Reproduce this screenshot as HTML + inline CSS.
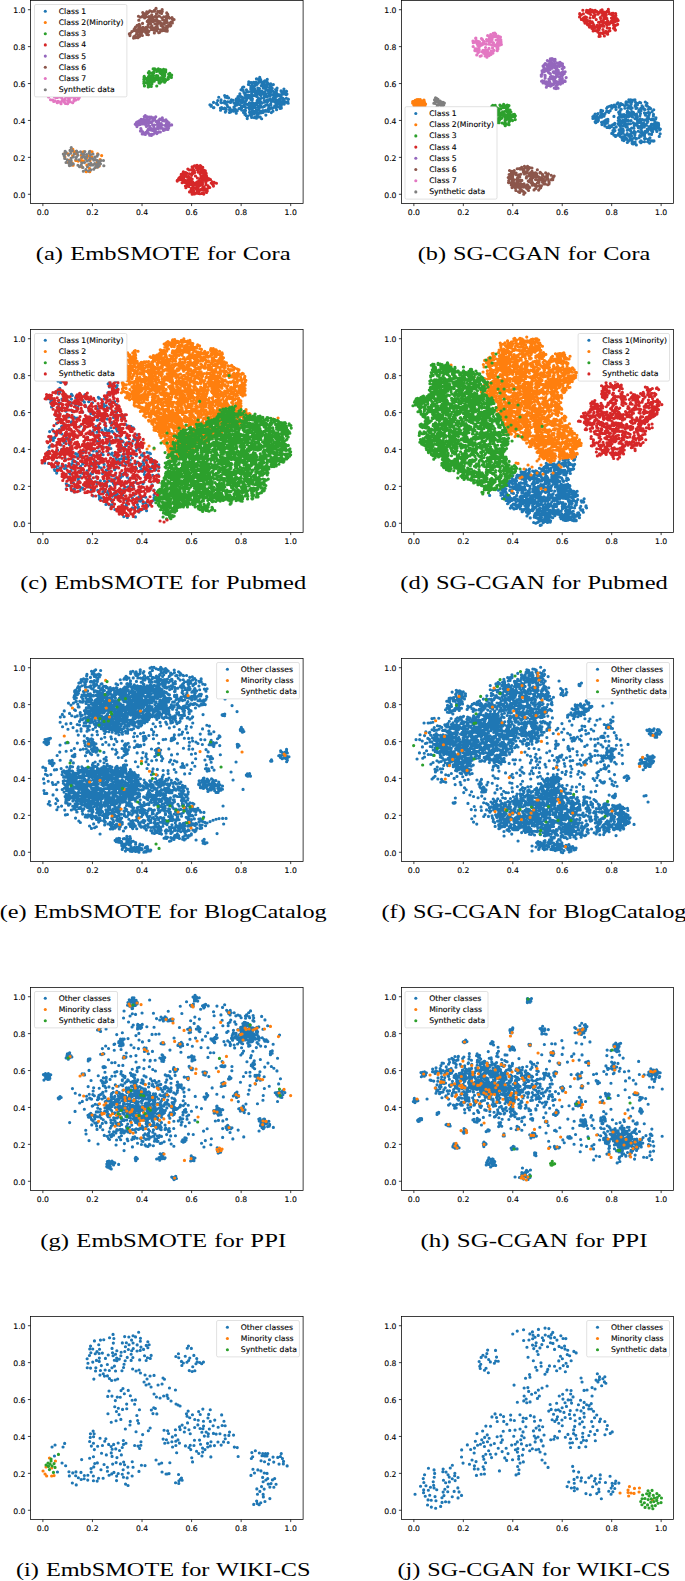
<!DOCTYPE html>
<html><head><meta charset="utf-8"><title>t-SNE visualisation</title>
<style>
html,body{margin:0;padding:0;background:#fff;}
svg{display:block;}
.t{font-family:"DejaVu Sans","Liberation Sans",sans-serif;font-size:7.7px;fill:#000;stroke:#000;stroke-width:.12px;}
.c{font-family:"Liberation Serif","DejaVu Serif",serif;font-size:19.4px;word-spacing:0.8px;fill:#000;}
</style></head><body>
<svg width="685" height="1581" viewBox="0 0 685 1581">
<g>
<g transform="scale(.1)" stroke-width="31.0" stroke-linecap="round" fill="none">
<path stroke="#1f77b4" d="M2672 794h1m-67 2h1m-10-22h1m-20 19h1m-15-6h1m-78 32h1m9 5h1m17 1h1m20-1h1m21-4h1m7 8h1m14 4h1m7-11h1m1-18h1m5 10h1m6-4h1m6 14h1m14 16h1m4-22h1m11 4h1m4-14h1m23 15h1m6 11h1m27 5h1m25 8h1m-22 21h1m-5-1h1m-10-4h1m-3 13h1m-16-33h1m-7 0h1m-9 27h1m-5-22h1m-1 24h1m-4-2h1m-2 10h1m-13-17h1m-3-18h1m-15 35h1m-2-15h1m-5-18h1m-10 12h1m-7-2h1m-44-12h1m-8 5h1m-12-7h1m-4 14h1m-24 15h1m-6-22h1m-2 2h1m-2-7h1m-7 18h1m-3-2h1m-3 9h1m-25-25h1m-48 26h1m-11 3h1m-18 25h1m11 5h1m0-20h1m7 21h1m32-7h1m18 20h1m23-27h1m-1 22h1m5-32h1m6 17h1m5 7h1m1-12h1m0 26h1m6-18h1m1-18h1m1 27h1m4-23h1m11 27h1m8-5h1m11-28h1m2 15h1m5 16h1m6-26h1m5 24h1m16 1h1m22-27h1m9 34h1m9-22h1m20 12h1m1-7h1m23-6h1m2 24h1m4-12h1m6-24h1m3 28h1m28 9h1m-1-24h1m8 24h1m2-20h1m2-19h1m39 29h1m26 3h1m1-21h1m1 27h1m21-4h1m1-1h1m3 27h1m-8 8h1m-21-9h1m-3-4h1m-14-11h1m-8 19h1m-2 2h1m-5-24h1m-9 29h1m-16-2h1m-13-2h1m-3 12h1m-15 1h1m-3-5h1m-4-6h1m-5-5h1m-5-9h1m-3 25h1m-2-11h1m-5 0h1m-6-13h1m-8 13h1m-19-2h1m-22-5h1m-9-17h1m-2 3h1m-25 14h1m-8 11h1m-7 3h1m-3 4h1m-5-38h1m-7 20h1m-14-7h1m-3-9h1m-1-3h1m-9 1h1m-5 33h1m-7-9h1m-16-11h1m-9 5h1m-8-13h1m-2 3h1m-14 28h1m-5-28h1m-19 24h1m-21-19h1m-8 23h1m-19-5h1m-2-1h1m-11 1h1m-16 1h1m-4-33h1m-13 26h1m-3-14h1m-5-2h1m-6-7h1m-42 14h1m-153 16h1m-60 18h1m22 26h1m42-27h1m17 4h1m-1-14h1m14 17h1m27 20h1m47-9h1m0 7h1m4-11h1m11-20h1m3 29h1m7-3h1m12-28h1m8 35h1m3-29h1m5 6h1m0 14h1m17-8h1m3-9h1m9-13h1m9 34h1m5-17h1m4-8h1m20 11h1m-1-5h1m8 19h1m0-26h1m3 25h1m4-25h1m3 29h1m0-10h1m47-20h1m11 14h1m8 9h1m5 7h1m11-14h1m27-8h1m0 4h1m10-12h1m20 30h1m3-33h1m9 35h1m14-38h1m0 29h1m5 8h1m20-4h1m2-3h1m-1-11h1m1 0h1m1-4h1m9-8h1m4 10h1m3-6h1m4 23h1m8-32h1m24 31h1m5-34h1m2 30h1m0 0h1m14-14h1m10 6h1m4 17h1m4-6h1m23-10h1m17 10h1m0 1h1m1-2h1m-4 41h1m-4-15h1m-4 12h1m-23-11h1m-10 12h1m-11-26h1m-12 16h1m-22-19h1m-2 24h1m-6-10h1m-14 16h1m-8 4h1m-5-2h1m-1-14h1m-4-9h1m-4-10h1m-7 34h1m-12-15h1m-16-8h1m-12-9h1m-10 11h1m-9 23h1m-24-29h1m-11 15h1m-1-15h1m-5 0h1m-21 0h1m-5 14h1m-3-16h1m-26 26h1m-7-12h1m-11 2h1m-3 17h1m-9-34h1m-17 21h1m-4-23h1m-4 7h1m-8 21h1m-17 8h1m-3-2h1m-18-7h1m-8-8h1m-21 10h1m-8-4h1m-36-17h1m-5 2h1m-2 0h1m-1 24h1m-9-20h1m-19-14h1m-7 27h1m-10-10h1m-7-7h1m-20-1h1m-5 25h1m-18-5h1m-5-29h1m-1 11h1m-14 17h1m-11 0h1m-10-29h1m-20 14h1m-8 8h1m-10-4h1m-4-2h1m-19-1h1m-28 16h1m-3-23h1m-8 15h1m-27 3h1m-6-6h1m-32-17h1m-12 33h1m-1-7h1m-32-7h1m-37 23h1m10 15h1m-1-2h1m2-7h1m21 24h1m2-1h1m38-28h1m38 28h1m52-29h1m5 17h1m20 14h1m42-8h1m10-10h1m5-7h1m12-3h1m25-5h1m13 34h1m4-17h1m1 16h1m15-14h1m10-13h1m13 25h1m8-34h1m7 4h1m11 32h1m5-13h1m12-10h1m7-3h1m15 23h1m2-27h1m3 13h1m9-10h1m4 27h1m7-3h1m4-31h1m20 20h1m-1 12h1m1-18h1m8 16h1m10-14h1m8 9h1m9 3h1m15-8h1m14-12h1m13-4h1m14 10h1m20-12h1m0 5h1m25 24h1m12-17h1m12 19h1m5-18h1m14 7h1m17-8h1m2 4h1m8-2h1m6-19h1m23 0h1m-30 40h1m-13 4h1m-37 12h1m-37 15h1m-7-28h1m-8-4h1m-16 2h1m-8 11h1m-8-6h1m-3 27h1m-4-32h1m-4 20h1m-17 11h1m-10-11h1m-4 9h1m-14-1h1m-10-5h1m-19 12h1m-10-6h1m-3 0h1m-16-17h1m-24 8h1m-15 12h1m-6 4h1m-20-17h1m-7-19h1m-14 2h1m-11 11h1m-41 9h1m-9 15h1m-5-17h1m-28-1h1m-18-13h1m-10-3h1m-19 23h1m-12 11h1m-2-22h1m-17-9h1m-11 25h1m-10-13h1m-21 1h1m-1 18h1m-5-28h1m-7 7h1m-34-6h1m-4 18h1m-14-30h1m-7 8h1m-26-4h1m-11 18h1m-2-21h1m48 40h1m40 4h1m67 8h1m72-8h1m3-3h1m9 22h1m1 1h1m1-9h1m8 22h1m31-36h1m4 25h1m0-18h1m7-5h1m0 32h1m5-7h1m1-24h1m22 14h1m28-8h1m1 10h1m0 11h1m4-27h1m4 18h1m23-13h1m8-3h1m14-3h1m27 27h1m54-25h1m-98 62h1m-15-18h1m-18 0h1m-12 1h1m-11 12h1m-8-15h1m-17 8h1m-26-2h1m-42-12h1m-4 24h1"/>
<path stroke="#ff7f0e" d="M920 1518h1m-20-5h1m-69 6h1m-76-4h1m-22 0h1m-10-21h1m-78 33h1m26 11h1m47 20h1m33-22h1m51 17h1m74 4h1m88-20h1m39 19h1m-16 40h1m-85-28h1m-49 13h1m-21-13h1m-35 15h1m-167-13h1m35 54h1m2-22h1m30 27h1m37-25h1m24 7h1m29-2h1m22 2h1m64-5h1m73 13h1m16 42h1m-25 10h1m-18-31h1m-42 1h1m-42 10h1m-49 20h1m-91-19h1m-31-1h1m161 67h1m31-34h1m2 34h1"/>
<path stroke="#2ca02c" d="M1657 699h1m-4 9h1m-2 1h1m-19-17h1m-6 11h1m-14 13h1m-4-12h1m-10-9h1m-1 17h1m-8 7h1m-9-10h1m-8-20h1m-2 9h1m-7-1h1m-12 18h1m-4-11h1m-4-6h1m-9-7h1m-5-3h1m-3 14h1m-15-13h1m-40 28h1m-2-1h1m-9 11h1m5 8h1m1 19h1m2-22h1m18 0h1m15-6h1m4 29h1m1-26h1m27 26h1m12 4h1m23-30h1m9 8h1m10 0h1m0 15h1m17-22h1m4 25h1m0-10h1m9-25h1m28 21h1m-1 2h1m8 14h1m1-24h1m18 18h1m-4 20h1m-1 3h1m-27-5h1m-4 18h1m-4-13h1m-8 21h1m-23-1h1m-9-32h1m-5 19h1m-4-11h1m-5 17h1m-7-21h1m-5 9h1m-2 16h1m-5-9h1m-15-3h1m-9 17h1m-11-10h1m-4-2h1m-11-21h1m-3 32h1m-1-9h1m-3-20h1m-19 11h1m-3 22h1m-23-3h1m-1-23h1m-7-12h1m-8 27h1m-4-19h1m-9-6h1m-8 16h1m-12 13h1m-2-24h1m-1 31h1m-13-14h1m-5 12h1m-11-14h1m-12 4h1m-6-25h1m-3 9h1m-3 23h1m-1 39h1m0-18h1m23 10h1m7-7h1m17 6h1m3-4h1m7-11h1m11 1h1m5 28h1m-1-14h1m22-11h1m46 5h1m1 12h1m7 1h1m1-7h1m8-4h1m17-15h1m6 6h1m0-5h1m8 17h1m8-13h1m-88 50h1m-55-12h1m-2 16h1m-7-1h1m-15-16h1m-8 21h1m-4 1h1m-4-23h1m-36 13h1"/>
<path stroke="#d62728" d="M2027 1674h1m-21-14h1m-6-5h1m-4 3h1m-4 21h1m-17-9h1m-11-17h1m-8 11h1m-2 10h1m-9-14h1m-11-1h1m-18 17h1m-7-8h1m-89 51h1m44-28h1m13 9h1m18-3h1m15 9h1m12-9h1m2 10h1m30-7h1m6-1h1m25-15h1m1 28h1m0-28h1m20 16h1m9 4h1m-1 13h1m11-8h1m8 45h1m-2-20h1m-5 11h1m-6-15h1m-10 8h1m-6 16h1m-7 0h1m-7 3h1m-6-33h1m-21 15h1m-6-14h1m-15-2h1m-37 3h1m-17 8h1m-6-8h1m-10 26h1m-4-10h1m-18-5h1m-27-3h1m-11 1h1m-4 20h1m-1-29h1m-11 3h1m-9 13h1m-7 2h1m-6 1h1m-3-7h1m-12 14h1m-4-9h1m-2 15h1m-26 27h1m7 1h1m0-11h1m12 21h1m9-5h1m0-11h1m14-17h1m2 14h1m21-14h1m12 9h1m0-4h1m10-5h1m10 24h1m8-10h1m2 21h1m6-8h1m6 0h1m32-30h1m19 20h1m29 2h1m5-20h1m6 16h1m3 6h1m5-7h1m11 21h1m8 0h1m0-15h1m10 2h1m5-23h1m7 19h1m16 6h1m12 8h1m59 38h1m-24-9h1m-10 10h1m-9-1h1m-4-16h1m-10 13h1m-30-30h1m-7 1h1m-20 19h1m-2-11h1m-1 17h1m-21-23h1m-14 23h1m-6-19h1m-5 17h1m-19-7h1m-7-11h1m-2 19h1m-6 8h1m-1 2h1m-9 1h1m-5-19h1m-2 11h1m-15-1h1m-26 2h1m-5-2h1m-5-9h1m-13 2h1m-1 7h1m-7-15h1m-12 22h1m-12-17h1m-10 20h1m-1-34h1m-2 17h1m-17-13h1m-9-4h1m-4 21h1m-15-1h1m-8-19h1m-7 24h1m-35-28h1m-15 4h1m-2 7h1m-1-6h1m81 55h1m3 18h1m10-27h1m1 11h1m7-18h1m0 12h1m3-7h1m2 15h1m7-17h1m26 4h1m2-7h1m-1 35h1m5-11h1m3-25h1m15 2h1m1 34h1m7-31h1m6-2h1m1 25h1m1-23h1m4 8h1m3 17h1m14-17h1m11-11h1m16-4h1m2 25h1m12 2h1m18-23h1m19 12h1m16 18h1m24-34h1m9 6h1m1 14h1m-57 21h1m-7 28h1m-6-14h1m-19-9h1m-2 15h1m-8 0h1m-2-8h1m-21 5h1m-1-9h1m-9 3h1m-9 4h1m-12 10h1m-7-10h1m-4 9h1m-8 2h1m-4-20h1m-10 6h1m-31 12h1m-1 11h1m-9-34h1m-6 25h1m-6 2h1m-5-27h1m-2 18h1m-2-9h1m-1 25h1m-17 2h1m14 1h1m10 22h1m8-8h1m6-12h1m6 18h1m5-8h1m8 1h1m9-13h1m0 12h1m6-2h1m7 4h1m12 3h1m21-3h1m14-4h1m1 11h1m27-17h1"/>
<path stroke="#9467bd" d="M1452 1156h1m206 41h1m-30 2h1m-9-22h1m-21 21h1m-6-8h1m-41-22h1m-11 17h1m-15-7h1m-6 8h1m-11-3h1m-6-12h1m-17 0h1m-7 27h1m-17-30h1m-4 24h1m-10 7h1m-10-29h1m-13-4h1m-9 28h1m-24 0h1m-49 32h1m10-8h1m5 14h1m2 0h1m1-20h1m7-5h1m1 25h1m3-20h1m24 10h1m0 12h1m3 5h1m0-2h1m3-28h1m6 12h1m8 11h1m5-30h1m10 26h1m10 3h1m3-15h1m-1-8h1m2-3h1m11 20h1m10-4h1m4 6h1m10-14h1m21-13h1m13 14h1m7 3h1m10-10h1m-1 26h1m2-7h1m1-9h1m9 19h1m11 3h1m4-3h1m15-28h1m7 0h1m6 1h1m21 23h1m6-19h1m10 21h1m6-7h1m26 22h1m-18 1h1m-11 12h1m-8-17h1m-4 21h1m-9-24h1m-5 30h1m-9-11h1m-7-7h1m-31-3h1m-19 7h1m-2-1h1m-6 15h1m-24-23h1m-1 11h1m-1-6h1m-4-13h1m-30 9h1m-9 9h1m-11-11h1m-29 16h1m-14-11h1m-22 12h1m-8-16h1m-56-4h1m-13 3h1m-13 2h1m-10 16h1m-5-12h1m-14-12h1m51 69h1m3-26h1m2 13h1m16 21h1m44-12h1m7-14h1m11-10h1m9 16h1m8-13h1m4 17h1m9 2h1m11-22h1m4 22h1m1-15h1m0 12h1m10-7h1m5-9h1m15 0h1m8 33h1m11-36h1m16 0h1m15 21h1m4-16h1m4 12h1m13-8h1m12 3h1m7-1h1m5-14h1m-83 40h1m-26 5h1m-11 11h1m-4-3h1m-2-9h1m-8 3h1m-9-5h1m-16 19h1m-22 13h1m-1-11h1m-7 3h1m-12 6h1m-4-8h1m-11-12h1m-4-4h1m-3-3h1m-11 3h1m-9-6h1m-8 23h1m-11-6h1m-3-3h1m-20 3h1"/>
<path stroke="#8c564b" d="M1467 119h1m20-1h1m9-11h1m20 8h1m24-2h1m-1-9h1m15-20h1m15 28h1m21 1h1m22-17h1m0 18h1m54 28h1m-11-13h1m-53 5h1m-20-9h1m-7-5h1m-3 38h1m-25-21h1m-48 10h1m-39-19h1m-10 8h1m-14 22h1m-13-20h1m-13 12h1m-7-25h1m-1 32h1m-44 6h1m17 10h1m15-5h1m27 12h1m8-11h1m4 0h1m27 3h1m0-7h1m6 23h1m8-22h1m8 25h1m2-2h1m2-24h1m9 18h1m0 16h1m18-33h1m3-3h1m3 3h1m5 8h1m3 25h1m19-37h1m5 0h1m23 16h1m2 5h1m4 14h1m11-29h1m23 23h1m2-1h1m-1-9h1m0-21h1m18 7h1m8 14h1m24-5h1m2 11h1m8 3h1m8 5h1m-13 7h1m-6 27h1m-5-14h1m-11 5h1m-1 15h1m-11-2h1m-29-8h1m-4-12h1m-16-9h1m-2 27h1m-2-14h1m-11-12h1m-11 30h1m-19 4h1m-7-12h1m-10-11h1m-3 16h1m-18-21h1m-5 20h1m-20-24h1m-7-4h1m-3 34h1m-20-22h1m-19-10h1m-5 30h1m-9-8h1m-1-26h1m-18 2h1m-9 9h1m-3 2h1m-48 20h1m-37-31h1m-3-1h1m-33 68h1m16-18h1m15 15h1m3-23h1m-1-2h1m5 14h1m6 22h1m24-6h1m5 6h1m24-6h1m18-7h1m0-16h1m2-5h1m22 35h1m5-17h1m4-4h1m40 13h1m4-2h1m4-10h1m1-9h1m1 22h1m36-18h1m9 7h1m17 15h1m2-33h1m24 19h1m6 14h1m1-19h1m4-2h1m7-1h1m11 7h1m6-6h1m-36 49h1m-2 8h1m-6-21h1m-3-11h1m-8 30h1m-7-2h1m-9-4h1m-6 0h1m-9-24h1m-8 27h1m-13-1h1m-6-8h1m-28-8h1m-15 18h1m-15-16h1m-7 0h1m-7 11h1m-2-22h1m-26 14h1m-4-9h1m-23 27h1m-4 5h1m-2-2h1m-14-19h1m-2-12h1m-4 21h1m-14-12h1m-7 1h1m-18 17h1m-12-5h1m-3-14h1m-9-10h1m-2 11h1m-8 14h1m-4-13h1m-9 2h1m-6-16h1m-10 31h1m-16-4h1m-2-9h1m-14-16h1m-8 10h1m-5 14h1m-20 9h1m-26 23h1m5 17h1m2-20h1m62 7h1m0-17h1m21 23h1m8-19h1m1-10h1m3 20h1m13-14h1m5 29h1m33-31h1m-1-2h1m10 22h1m14 3h1m59-17h1m43-3h1m9-7h1m-1 2h1m-204 42h1m-9-4h1m-8 17h1m-8-5h1m-15 4h1m-12-16h1m-9 19h1m-2-12h1m-4 14h1"/>
<path stroke="#e377c2" d="M530 905h1m32 2h1m25-2h1m10-3h1m5 7h1m3-20h1m10 14h1m18-7h1m-1 7h1m3-1h1m4-2h1m5 17h1m15-10h1m15 0h1m3-8h1m23 7h1m7 9h1m7-2h1m22 3h1m23 42h1m-6-6h1m-11-11h1m-17 15h1m-11-2h1m-12-11h1m-23 10h1m-9-3h1m-24-23h1m-1 11h1m-2-1h1m-4-14h1m-2 14h1m-7 12h1m-5-3h1m-41 2h1m-2 7h1m-14-10h1m-13-22h1m-11 19h1m-10-8h1m-33 13h1m-2 9h1m-12-15h1m-6-13h1m-12 18h1m-17-5h1m-8-2h1m-6 30h1m19 28h1m39-27h1m-1 0h1m7-8h1m3 4h1m1 9h1m7 0h1m5-7h1m-1 7h1m23-15h1m1 10h1m18 9h1m31 9h1m9-20h1m24 9h1m-1 5h1m7-18h1m-1 31h1m19-24h1m5-3h1m16 5h1m5 26h1m3-17h1m6-21h1m4 38h1m11-35h1m12 27h1m8-17h1m-54 30h1m-1 5h1m-14 19h1m-25-11h1m-21 8h1m-6-17h1m-3 29h1m-22-2h1m-8-31h1m-4 18h1m-6-17h1m-10 7h1m-6-6h1m-6 3h1m-11 29h1m-16-18h1m-16-7h1m-9 15h1m-23-19h1m-13 5h1m-2 1h1m-11-14h1"/>
<path stroke="#7f7f7f" d="M712 1475h1m182 40h1m-48 1h1m-44 1h1m-41-6h1m-43-5h1m-24-2h1m-50 8h1m-19 28h1m8 19h1m8-20h1m9-14h1m23 26h1m21-18h1m35 6h1m31-15h1m2 28h1m39-15h1m18 4h1m28 4h1m24-14h1m12 15h1m24-6h1m50 5h1m-11 18h1m-13 36h1m-11-28h1m-24 17h1m-27-10h1m-7 21h1m-28-33h1m-10 26h1m-11-16h1m-13-15h1m-19 11h1m-26 27h1m-30-26h1m-4 19h1m-28-23h1m-24 13h1m-39 16h1m-26-14h1m12 41h1m29 9h1m2-21h1m17-7h1m0 26h1m19 7h1m83-12h1m27-1h1m26-17h1m36 25h1m28-33h1m9 34h1m26-30h1m3 29h1m8-13h1m16 16h1m2-31h1m26-1h1m3 52h1m-49-1h1m-14 15h1m-18-17h1m-11 22h1m-24-26h1m-24 2h1m-16-11h1m-16 27h1m-47 7h1m-16-25h1m-19 18h1m-17-16h1m-68-2h1m-19 6h1m138 57h1m24-18h1m25 16h1m22-12h1m29-7h1"/>
</g>
<rect x="30.50" y="0.50" width="272.60" height="203.00" fill="none" stroke="#000" stroke-width="0.75"/>
<line x1="42.89" y1="203.50" x2="42.89" y2="206.10" stroke="#000" stroke-width="0.75"/>
<line x1="27.90" y1="194.27" x2="30.50" y2="194.27" stroke="#000" stroke-width="0.75"/>
<text x="42.89" y="214.55" text-anchor="middle" class="t">0.0</text>
<text x="25.50" y="197.68" text-anchor="end" class="t">0.0</text>
<line x1="92.45" y1="203.50" x2="92.45" y2="206.10" stroke="#000" stroke-width="0.75"/>
<line x1="27.90" y1="157.36" x2="30.50" y2="157.36" stroke="#000" stroke-width="0.75"/>
<text x="92.45" y="214.55" text-anchor="middle" class="t">0.2</text>
<text x="25.50" y="160.77" text-anchor="end" class="t">0.2</text>
<line x1="142.02" y1="203.50" x2="142.02" y2="206.10" stroke="#000" stroke-width="0.75"/>
<line x1="27.90" y1="120.45" x2="30.50" y2="120.45" stroke="#000" stroke-width="0.75"/>
<text x="142.02" y="214.55" text-anchor="middle" class="t">0.4</text>
<text x="25.50" y="123.87" text-anchor="end" class="t">0.4</text>
<line x1="191.58" y1="203.50" x2="191.58" y2="206.10" stroke="#000" stroke-width="0.75"/>
<line x1="27.90" y1="83.55" x2="30.50" y2="83.55" stroke="#000" stroke-width="0.75"/>
<text x="191.58" y="214.55" text-anchor="middle" class="t">0.6</text>
<text x="25.50" y="86.96" text-anchor="end" class="t">0.6</text>
<line x1="241.15" y1="203.50" x2="241.15" y2="206.10" stroke="#000" stroke-width="0.75"/>
<line x1="27.90" y1="46.64" x2="30.50" y2="46.64" stroke="#000" stroke-width="0.75"/>
<text x="241.15" y="214.55" text-anchor="middle" class="t">0.8</text>
<text x="25.50" y="50.05" text-anchor="end" class="t">0.8</text>
<line x1="290.71" y1="203.50" x2="290.71" y2="206.10" stroke="#000" stroke-width="0.75"/>
<line x1="27.90" y1="9.73" x2="30.50" y2="9.73" stroke="#000" stroke-width="0.75"/>
<text x="290.71" y="214.55" text-anchor="middle" class="t">1.0</text>
<text x="25.50" y="13.14" text-anchor="end" class="t">1.0</text>
<rect x="34.50" y="4.50" width="92.40" height="92.40" rx="1.5" fill="#fff" stroke="#ccc" stroke-width="0.6"/>
<circle cx="45.30" cy="11.30" r="1.55" fill="#1f77b4"/>
<text x="58.70" y="13.71" class="t">Class 1</text>
<circle cx="45.30" cy="22.50" r="1.55" fill="#ff7f0e"/>
<text x="58.70" y="24.91" class="t">Class 2(Minority)</text>
<circle cx="45.30" cy="33.70" r="1.55" fill="#2ca02c"/>
<text x="58.70" y="36.11" class="t">Class 3</text>
<circle cx="45.30" cy="44.90" r="1.55" fill="#d62728"/>
<text x="58.70" y="47.31" class="t">Class 4</text>
<circle cx="45.30" cy="56.10" r="1.55" fill="#9467bd"/>
<text x="58.70" y="58.51" class="t">Class 5</text>
<circle cx="45.30" cy="67.30" r="1.55" fill="#8c564b"/>
<text x="58.70" y="69.71" class="t">Class 6</text>
<circle cx="45.30" cy="78.50" r="1.55" fill="#e377c2"/>
<text x="58.70" y="80.91" class="t">Class 7</text>
<circle cx="45.30" cy="89.70" r="1.55" fill="#7f7f7f"/>
<text x="58.70" y="92.11" class="t">Synthetic data</text>
<text x="35.75" y="260.00" class="c" textLength="254.9" lengthAdjust="spacingAndGlyphs">(a) EmbSMOTE for Cora</text>
</g>
<g>
<g transform="scale(.1)" stroke-width="31.0" stroke-linecap="round" fill="none">
<path stroke="#1f77b4" d="M6288 997h1m18 2h1m41 0h1m119 34h1m-18-13h1m-47 7h1m-11-3h1m-27 9h1m-16-10h1m-25-23h1m-12 16h1m-9 22h1m-17-17h1m-11-1h1m-26-3h1m-4 13h1m-51 5h1m-30-7h1m-10 11h1m-96 32h1m18-8h1m19-7h1m5 8h1m20-14h1m1 18h1m6-2h1m5 1h1m31 6h1m5-7h1m-1-10h1m17-10h1m12-1h1m20 12h1m4-2h1m19-7h1m6 31h1m11-22h1m16 6h1m0-3h1m42-1h1m3 10h1m0-22h1m17 0h1m45 10h1m2 21h1m6-5h1m30-20h1m7 6h1m5 4h1m18 12h1m42 23h1m-18 17h1m-15-29h1m-23 6h1m-35 3h1m-7-1h1m-16-13h1m-20 27h1m-2-9h1m-3-17h1m-3 22h1m-10-7h1m-9 12h1m-2 9h1m-18-37h1m-12 3h1m-38 34h1m-2-38h1m-14 11h1m-27-10h1m-9 29h1m-27-27h1m-37 9h1m-12 13h1m-3 13h1m-40-24h1m-44-12h1m-17 25h1m-12 9h1m-8 2h1m-13-4h1m-6-1h1m-1-31h1m-41 25h1m-18-4h1m-72 55h1m12-17h1m27-5h1m22 22h1m4-38h1m5 19h1m-1-14h1m1 32h1m9-10h1m10-5h1m10 0h1m2-7h1m36-11h1m98-1h1m5 18h1m5-12h1m22 18h1m18-1h1m20 6h1m9-26h1m8 30h1m12-20h1m3-10h1m0 13h1m8 20h1m10-22h1m-1 17h1m16-28h1m9 16h1m10 15h1m7-17h1m0 10h1m33 6h1m4-20h1m39-8h1m6 18h1m1-13h1m1 20h1m20-25h1m8-4h1m3 30h1m7-22h1m35 27h1m0-15h1m24 33h1m-4 14h1m-22 6h1m-5-5h1m-12-2h1m-10 7h1m-24-11h1m-6-10h1m-5-10h1m-5 27h1m-5-11h1m-48 14h1m-24-7h1m-29-15h1m-6-8h1m-8 22h1m-13-2h1m-26-17h1m-23-9h1m-18 8h1m-19-4h1m-11 23h1m-21-17h1m-23 2h1m-2-9h1m-9 1h1m-16 7h1m-9 7h1m-45-14h1m-62 28h1m-1 7h1m-17-2h1m-24-34h1m-25 9h1m-22 1h1m-12 23h1m-12-12h1m-3-20h1m-9 14h1m-5 14h1m-2-20h1m-29 12h1m-2-17h1m22 50h1m4 10h1m0-12h1m12-11h1m4 12h1m7-12h1m31 18h1m16-5h1m12 10h1m4-21h1m8 15h1m12-17h1m0 26h1m4-15h1m68 19h1m2 2h1m31-31h1m4 17h1m10-21h1m1 13h1m17 13h1m3-2h1m5-23h1m15 1h1m3 12h1m3-14h1m4 12h1m22-12h1m1 11h1m21 26h1m5-32h1m21 23h1m16 9h1m20-4h1m2-33h1m1 8h1m5 0h1m5 13h1m0 4h1m17-10h1m8 20h1m19-7h1m5 10h1m3-38h1m10-1h1m12 1h1m0 7h1m2 17h1m4-10h1m69 6h1m19 6h1m15 5h1m1 17h1m-1 28h1m-3-14h1m-3-1h1m-4-18h1m-25 16h1m-3-19h1m-3 37h1m-5-21h1m-5 8h1m-7-24h1m-19 3h1m-2 5h1m-6-7h1m-3 28h1m-20-4h1m-29-13h1m-7-5h1m-17 21h1m-6-1h1m-2-7h1m-20-19h1m-2 15h1m-9 4h1m-7 4h1m-19 13h1m-3-16h1m-8-2h1m-4-5h1m-30 1h1m-2 2h1m-64-16h1m-7 30h1m-12-1h1m-5-31h1m-5 22h1m-12-17h1m-11 15h1m-1-2h1m-26-9h1m-6 16h1m-3-23h1m-8 10h1m-12-11h1m-22 28h1m-23-21h1m-3-6h1m-13 5h1m-9 9h1m-5 0h1m-1 10h1m-20 12h1m-5-19h1m-22 15h1m-20-32h1m-4 17h1m-30-13h1m109 59h1m6 8h1m-1 3h1m3-32h1m3 26h1m4-4h1m41-7h1m4 5h1m14-22h1m1 28h1m16-17h1m2 15h1m38-5h1m21-8h1m10 13h1m10-28h1m18 0h1m3 3h1m2 29h1m39 1h1m27-18h1m5-12h1m0 31h1m33-2h1m20-22h1m3 0h1m0 19h1m18-16h1m7-10h1m7-1h1m-1 19h1m2 6h1m9 10h1m0-11h1m2-26h1m1 7h1m27 8h1m8 19h1m9-33h1m6 0h1m11 19h1m5-10h1m-3 48h1m-87 7h1m-1-7h1m-25 3h1m-20-21h1m-17 4h1m-11 4h1m-2 15h1m-9 1h1m-11-13h1m-8 7h1m-15-13h1m-10 30h1m-45-31h1m-6 13h1m-1 12h1m-2-13h1m-10-16h1m-11 5h1m-7 5h1m-17 7h1m-26 13h1m-3-5h1m-8-10h1m-12 15h1m-13 4h1m-19-22h1m-2-10h1m-23 15h1m-2-11h1m-11-5h1m-12 15h1m-2 5h1m-11 12h1m-21 2h1m-18-4h1m-12-16h1m-11-1h1m37 30h1m46 1h1m16 18h1m5-14h1m22 14h1m5 9h1m6-9h1m9 11h1m16-32h1m9 1h1m4 20h1m11-22h1m4 35h1m17-16h1m6-3h1m1-1h1m14 14h1m0-4h1m26-9h1m21-14h1m32 23h1m-1-25h1m8 25h1m27 6h1m8 6h1m7-20h1m92-14h1m-54 45h1m-5 2h1m-15-4h1m-10 2h1m-18 22h1m-20-13h1m-33 0h1m-26 0h1m-11-11h1m-2 20h1m-9-9h1m-50 3h1m-5 14h1m-9-3h1m-17 6h1m-2-22h1m-3 14h1m-1-23h1m-30-2h1m-11 9h1m-9 11h1m-36-19h1m-15-6h1m106 40h1m31 9h1"/>
<path stroke="#ff7f0e" d="M4170 996h1m10-1h1m9 3h1m10-3h1m42 30h1m-4-12h1m-4-13h1m-8 18h1m-2 8h1m-5-17h1m-15 21h1m-1-10h1m-7-11h1m-5 17h1m-7 9h1m-7-5h1m-7-18h1m-6-11h1m-1 35h1m-2-12h1m-7-15h1m-12 9h1m-9-8h1m-3-8h1m-2 24h1m-14 0h1m-4-7h1m-9-4h1m-2 16h1m11 19h1m0-8h1m3 19h1m0 17h1m1-9h1m2-16h1m2 8h1m8-18h1m7 3h1m1 29h1m7-30h1m1 23h1m4-22h1m10 15h1m7 12h1m1-29h1m2 13h1m9 10h1m2-11h1m1 20h1m3-8h1m1-19h1m4 15h1m3-24h1m7 21h1m1-13h1m4-7h1m-18 48h1m-33-4h1m-12 0h1m-45-3h1"/>
<path stroke="#2ca02c" d="M4918 1064h1m8-10h1m7 24h1m14-23h1m1-2h1m5 26h1m9-1h1m30-27h1m4 6h1m20 4h1m3 16h1m4-6h1m1-28h1m3 8h1m6 8h1m0-1h1m0 17h1m17-12h1m1 14h1m2-26h1m7 17h1m8-12h1m11 53h1m-2-8h1m-14-3h1m-17 20h1m-2-25h1m-6 12h1m-5-19h1m-18 29h1m-19 3h1m-21-29h1m-17-1h1m-5 16h1m-3-3h1m-12 6h1m-3-26h1m-7 7h1m-9 1h1m-8-8h1m-14 24h1m-3-9h1m-9-16h1m5 71h1m28 3h1m4-23h1m2 20h1m14-9h1m2-17h1m0 9h1m0-10h1m0 28h1m1-20h1m1 10h1m4-15h1m1 15h1m4 6h1m9-7h1m12 5h1m-1 3h1m7-7h1m0 13h1m4-15h1m12 19h1m16-13h1m2 13h1m7-13h1m3-8h1m0 4h1m0-17h1m4 32h1m1-13h1m2 12h1m5-35h1m1-1h1m7 33h1m13-7h1m12-3h1m8 15h1m-2 38h1m-6-28h1m-8-5h1m-18 7h1m-16 27h1m-10-3h1m-5-17h1m-3-7h1m-2 1h1m-3 15h1m-15 6h1m-4-24h1m-12 3h1m-3 27h1m-3-1h1m-5-13h1m-3 12h1m-3-28h1m-2-1h1m-31 12h1m-10-1h1m-2 8h1m-9-22h1m-2 15h1m-7-8h1m-5 21h1m-7-2h1m-22-11h1m-18-13h1m-1 24h1m-2-29h1m6 40h1m18 25h1m0-26h1m14 15h1m2 13h1m3-25h1m27 27h1m19 9h1m7-30h1m1 15h1m35 1h1m1-4h1m6-11h1m27-4h1m-36 42h1m-7-3h1m-26-5h1m-8 18h1"/>
<path stroke="#d62728" d="M5828 102h1m37 0h1m13 4h1m2 12h1m8-12h1m10-10h1m-1 21h1m19-2h1m0-12h1m23 5h1m2-4h1m3 5h1m10 4h1m40-7h1m9 9h1m2-17h1m11 19h1m38-4h1m11-20h1m-1 22h1m2 1h1m71 40h1m-3-20h1m-25-3h1m-4 26h1m-9-26h1m-4 13h1m-14-5h1m-10-3h1m-4 0h1m-32 10h1m-4-12h1m-4 21h1m-8-4h1m-1-31h1m-9 0h1m-5 14h1m-2-13h1m-6-1h1m-9 6h1m-4 24h1m-28-24h1m-7-6h1m-8 21h1m-19-23h1m-13 31h1m-13-23h1m-33 16h1m-23-13h1m-21-10h1m-32 17h1m-23 11h1m-15-13h1m-1 7h1m-3 27h1m17 24h1m11-6h1m8-8h1m9-7h1m0 25h1m6-31h1m1 15h1m9-10h1m35 7h1m33-19h1m-1 14h1m8-4h1m18 26h1m39-21h1m3 9h1m30 11h1m0-23h1m11 14h1m6-2h1m2-11h1m1 6h1m5 3h1m45-1h1m11 17h1m1-19h1m2 12h1m1-17h1m5 17h1m-1-10h1m1-6h1m1 12h1m4-23h1m17 21h1m9 10h1m4 10h1m-12 4h1m-21 8h1m-4-12h1m-1 14h1m-18 8h1m-3-12h1m-2-8h1m-14 4h1m-12 20h1m-22-16h1m-2 4h1m-6-11h1m-16 27h1m-4 1h1m-2-11h1m-24-4h1m-6 17h1m-2-22h1m-1-6h1m-20 4h1m-25 8h1m-59 9h1m-4-3h1m-4-10h1m-18 6h1m-5-10h1m-24 25h1m-4-26h1m-1-5h1m-3-7h1m-10 0h1m-8 4h1m-8 26h1m-11-20h1m33 34h1m6 4h1m13 22h1m3-17h1m7 3h1m12 6h1m11 1h1m6-15h1m0 27h1m1-1h1m10-1h1m9-4h1m7 2h1m1-18h1m9 12h1m0 1h1m-1 11h1m5-18h1m5 19h1m2-11h1m1-20h1m7 1h1m17 13h1m9 1h1m2-1h1m24-22h1m4 6h1m-1 4h1m2 29h1m19-37h1m42 7h1m4 22h1m13-16h1m16-8h1m4-4h1m-23 58h1m-5-2h1m-5-16h1m-12-1h1m-38 26h1m-3-25h1m-9 28h1m-32 2h1m-29-18h1m-40 2h1m-17 7h1m-19 2h1m-23-5h1m-4 9h1m-13-26h1m58 36h1m-1 1h1m15 18h1m8-8h1m-1 2h1m23 2h1m2-9h1m6 1h1m15 2h1m0-7h1m11 10h1m8-4h1m0 15h1m-34 17h1m-43 3h1m-12 1h1"/>
<path stroke="#9467bd" d="M5503 587h1m15-2h1m8 6h1m2 8h1m18-5h1m73 44h1m-15 1h1m-2-7h1m-2 1h1m-9-11h1m-7 3h1m-24 5h1m-22-19h1m-9 28h1m-5-35h1m-16 23h1m-6 2h1m-14-27h1m-11 29h1m-4-19h1m-17-3h1m-4-4h1m-22 30h1m-23 25h1m4 8h1m1 1h1m3-21h1m26-2h1m1 11h1m10 10h1m8-23h1m5 25h1m6-3h1m2-12h1m4 25h1m0-35h1m15 9h1m0 16h1m14-15h1m8 25h1m1-16h1m7 16h1m0-20h1m10 3h1m15-17h1m2 20h1m3-5h1m27-1h1m10 18h1m2-3h1m10 43h1m-20 2h1m-9-30h1m-4-2h1m-40 16h1m-2-1h1m-10-9h1m-11-2h1m-2 14h1m-10 10h1m-15 4h1m-7 0h1m-11-36h1m-22 13h1m-11-8h1m-1 9h1m-16 3h1m-8-7h1m-5-11h1m-1 23h1m-4 3h1m-3-18h1m-13 16h1m-7-9h1m-2 20h1m-6-24h1m-4 10h1m-8 12h1m-7-7h1m-9 42h1m6-8h1m2-16h1m27 26h1m0 7h1m32-36h1m2 5h1m8 4h1m6 5h1m33-10h1m23 5h1m0-4h1m-1 18h1m10-4h1m2-19h1m3 14h1m7-15h1m19 24h1m0-15h1m10 15h1m0 10h1m-1-33h1m1 10h1m1 20h1m7-30h1m8 14h1m18 39h1m-40 7h1m-1 6h1m-12-3h1m-14 11h1m-2 1h1m-3-27h1m-11-5h1m-18-6h1m-14 14h1m-4 7h1m-6 8h1m-6-10h1m-4-7h1m-6-4h1m-7 21h1m-3 2h1m-12-28h1m-9 17h1m-4-12h1m-2 17h1m-15 6h1m-39-10h1m-39-18h1m1 50h1m7-6h1m6 22h1m3-6h1m1-11h1m4-1h1m3 16h1m20-9h1m12 7h1m1 3h1m1-3h1m9-14h1m4 13h1m0 3h1m39-6h1m-1-14h1m11 20h1m9-4h1m2-7h1m12 16h1m6-12h1m-1 16h1m2-5h1m0-9h1m8 15h1m16-19h1m-1-9h1m3 7h1m6 14h1m21-21h1m3 5h1m-48 27h1m-33 10h1m-10 5h1m-2 7h1m-6 13h1m-24-32h1m-16 8h1m-4-8h1m-12 17h1m-4-2h1m-13-4h1m-15-9h1m-3 10h1m-3-11h1m-10 27h1m-6-31h1m83 40h1m14-1h1m2 6h1m16-6h1m2 2h1"/>
<path stroke="#8c564b" d="M5300 1677h1m-7-2h1m-20-13h1m-32 2h1m-29 10h1m-122 31h1m22 7h1m23-6h1m29-18h1m20-3h1m7 6h1m26 7h1m4 21h1m2-25h1m19 24h1m1-38h1m11 36h1m6-33h1m-1 18h1m6-8h1m34-13h1m0 34h1m52-16h1m137 55h1m-29-15h1m-10 16h1m-6 1h1m-14-26h1m-31 24h1m-3-9h1m-19-16h1m-6-4h1m-3 6h1m-34 10h1m-6-10h1m-10-2h1m-6 15h1m-16 12h1m-4-24h1m-7 18h1m-12-10h1m-11-12h1m-9 8h1m-2 17h1m-5 7h1m-24-26h1m-2-3h1m-24 10h1m-4-10h1m-33 12h1m-18 5h1m-30 1h1m-1-17h1m-5 13h1m-16-17h1m-16 13h1m-2 19h1m-14-33h1m-13 16h1m-11 3h1m-10 30h1m10 10h1m7-21h1m8 24h1m16-5h1m11 15h1m28-6h1m6-13h1m4 14h1m6-29h1m9 6h1m65 9h1m2-13h1m36 25h1m6-20h1m6 28h1m0-17h1m8-4h1m10-11h1m16 29h1m3-27h1m4-6h1m9 1h1m1 34h1m12-27h1m12 28h1m11-23h1m1 13h1m15 1h1m13-19h1m7 2h1m13 20h1m0-16h1m4-6h1m2 21h1m2-1h1m30 6h1m7-10h1m7 11h1m4-23h1m8-14h1m-51 66h1m-3 12h1m-2-24h1m-37 24h1m-3-31h1m-13 31h1m-2-34h1m-12 2h1m-2 16h1m-37 2h1m-9-1h1m-1-3h1m-8 8h1m-51-3h1m-9 4h1m-5 0h1m-22-13h1m-2-11h1m-9 5h1m-43 28h1m-23-35h1m-12 9h1m-5-10h1m-7 9h1m-17 14h1m-11-9h1m-2-16h1m-10 38h1m-23-18h1m-3 8h1m-15-22h1m-4 18h1m-25 0h1m-10-20h1m-3 21h1m26 23h1m5 4h1m1 23h1m2-16h1m11 10h1m5-4h1m-1-15h1m11-1h1m4 5h1m1 11h1m15-18h1m4 25h1m16-21h1m5 27h1m0-35h1m3 23h1m3-12h1m-1-12h1m6 21h1m5-4h1m8-20h1m2 31h1m0-15h1m19 1h1m12-10h1m2 25h1m2-19h1m8 20h1m2-5h1m5 6h1m25-22h1m1-11h1m18 9h1m2-8h1m3 13h1m9 2h1m10 6h1m22-7h1m11 22h1m6-19h1m-1 1h1m64-13h1m-80 35h1m-14 19h1m-30-17h1m-18 15h1m-56 5h1m-6-7h1m-7-17h1m-7 5h1m-4-3h1m-34 32h1m-5-2h1m-17-19h1m-9 14h1m-5-18h1m-16 29h1m-28-14h1m-5-23h1m41 43h1m40 18h1m11-15h1"/>
<path stroke="#e377c2" d="M4876 356h1m29-10h1m25-13h1m6 19h1m8-22h1m6 22h1m0-12h1m51 59h1m-5-29h1m-16-4h1m-9-6h1m-1 27h1m-18-23h1m-3-1h1m-19 4h1m-21 9h1m-5 22h1m-2-34h1m-16 19h1m-7 13h1m-5-30h1m-2 19h1m-29 11h1m-42 0h1m-11-11h1m-57-4h1m-3 2h1m-28 28h1m2 17h1m17-5h1m9-19h1m11 35h1m4-24h1m0-3h1m4 24h1m10-19h1m35 10h1m6-13h1m2 9h1m27-12h1m13-6h1m2 0h1m5 5h1m2 18h1m12-26h1m3 5h1m7 10h1m14 11h1m26-28h1m11 34h1m8-20h1m4 23h1m10-24h1m11 7h1m-1 1h1m2 23h1m-5 2h1m-13 0h1m-5 6h1m-7-2h1m-10 22h1m-5-19h1m-12 10h1m-12-12h1m-7 5h1m-15-12h1m-8 35h1m-9-29h1m-27-7h1m-30-1h1m-8 33h1m-23-33h1m-7 0h1m-9 0h1m-5 9h1m-2-11h1m-9 9h1m-2 4h1m-12 12h1m-3-22h1m-3 31h1m-8-22h1m-6 3h1m-48 10h1m16 41h1m2-19h1m13 3h1m0 17h1m1-18h1m14 22h1m7-14h1m25 20h1m12-14h1m22 4h1m1-8h1m3 7h1m0 12h1m11-8h1m1-7h1m15-19h1m18 26h1m11 3h1m17-9h1m31-20h1m0 24h1m0-9h1m5-10h1m-51 42h1m-21 14h1m-9-13h1m-10 19h1m-2 5h1m-6-24h1m-6 1h1m-3 3h1m-3-15h1m-14 35h1m-9-8h1m-6 11h1m-3-22h1m-15-4h1m-4-9h1m-21 34h1m-27-38h1m-8 9h1m-13 21h1m33 13h1m67 9h1"/>
<path stroke="#7f7f7f" d="M4345 999h1m9-21h1m12 8h1m10 6h1m63 38h1m-15-6h1m-9 13h1m-11-16h1m-11-10h1m-4 28h1m-6-14h1m-4-8h1m-5 16h1m-8-25h1m-15 1h1m-2 8h1m-14 18h1m-1-11h1m-14 8h1m24 45h1m9-25h1m1 16h1m6-13h1m15-8h1m14 26h1m3-28h1m7 1h1m4 30h1m6-29h1"/>
</g>
<rect x="401.50" y="0.50" width="272.00" height="203.00" fill="none" stroke="#000" stroke-width="0.75"/>
<line x1="413.86" y1="203.50" x2="413.86" y2="206.10" stroke="#000" stroke-width="0.75"/>
<line x1="398.90" y1="194.27" x2="401.50" y2="194.27" stroke="#000" stroke-width="0.75"/>
<text x="413.86" y="214.55" text-anchor="middle" class="t">0.0</text>
<text x="396.50" y="197.68" text-anchor="end" class="t">0.0</text>
<line x1="463.32" y1="203.50" x2="463.32" y2="206.10" stroke="#000" stroke-width="0.75"/>
<line x1="398.90" y1="157.36" x2="401.50" y2="157.36" stroke="#000" stroke-width="0.75"/>
<text x="463.32" y="214.55" text-anchor="middle" class="t">0.2</text>
<text x="396.50" y="160.77" text-anchor="end" class="t">0.2</text>
<line x1="512.77" y1="203.50" x2="512.77" y2="206.10" stroke="#000" stroke-width="0.75"/>
<line x1="398.90" y1="120.45" x2="401.50" y2="120.45" stroke="#000" stroke-width="0.75"/>
<text x="512.77" y="214.55" text-anchor="middle" class="t">0.4</text>
<text x="396.50" y="123.87" text-anchor="end" class="t">0.4</text>
<line x1="562.23" y1="203.50" x2="562.23" y2="206.10" stroke="#000" stroke-width="0.75"/>
<line x1="398.90" y1="83.55" x2="401.50" y2="83.55" stroke="#000" stroke-width="0.75"/>
<text x="562.23" y="214.55" text-anchor="middle" class="t">0.6</text>
<text x="396.50" y="86.96" text-anchor="end" class="t">0.6</text>
<line x1="611.68" y1="203.50" x2="611.68" y2="206.10" stroke="#000" stroke-width="0.75"/>
<line x1="398.90" y1="46.64" x2="401.50" y2="46.64" stroke="#000" stroke-width="0.75"/>
<text x="611.68" y="214.55" text-anchor="middle" class="t">0.8</text>
<text x="396.50" y="50.05" text-anchor="end" class="t">0.8</text>
<line x1="661.14" y1="203.50" x2="661.14" y2="206.10" stroke="#000" stroke-width="0.75"/>
<line x1="398.90" y1="9.73" x2="401.50" y2="9.73" stroke="#000" stroke-width="0.75"/>
<text x="661.14" y="214.55" text-anchor="middle" class="t">1.0</text>
<text x="396.50" y="13.14" text-anchor="end" class="t">1.0</text>
<rect x="405.00" y="106.70" width="92.00" height="92.40" rx="1.5" fill="#fff" stroke="#ccc" stroke-width="0.6"/>
<circle cx="415.80" cy="113.50" r="1.55" fill="#1f77b4"/>
<text x="429.20" y="115.91" class="t">Class 1</text>
<circle cx="415.80" cy="124.70" r="1.55" fill="#ff7f0e"/>
<text x="429.20" y="127.11" class="t">Class 2(Minority)</text>
<circle cx="415.80" cy="135.90" r="1.55" fill="#2ca02c"/>
<text x="429.20" y="138.31" class="t">Class 3</text>
<circle cx="415.80" cy="147.10" r="1.55" fill="#d62728"/>
<text x="429.20" y="149.51" class="t">Class 4</text>
<circle cx="415.80" cy="158.30" r="1.55" fill="#9467bd"/>
<text x="429.20" y="160.71" class="t">Class 5</text>
<circle cx="415.80" cy="169.50" r="1.55" fill="#8c564b"/>
<text x="429.20" y="171.91" class="t">Class 6</text>
<circle cx="415.80" cy="180.70" r="1.55" fill="#e377c2"/>
<text x="429.20" y="183.11" class="t">Class 7</text>
<circle cx="415.80" cy="191.90" r="1.55" fill="#7f7f7f"/>
<text x="429.20" y="194.31" class="t">Synthetic data</text>
<text x="417.75" y="260.00" class="c" textLength="232.5" lengthAdjust="spacingAndGlyphs">(b) SG-CGAN for Cora</text>
</g>
<g>
<g transform="scale(.1)" stroke-width="31.0" stroke-linecap="round" fill="none">
<path stroke="#1f77b4" d="M1157 3815h1m-59 7h1m-19 16h1m-423-1h1m-44-22h1m-9 10h1m-3 0h1m-27-14h1m513 59h1m29-25h1m40 31h1m5-21h1m-572 62h1m-4-35h1m-20 37h1m-24 3h1m30 17h1m10-14h1m53 28h1m62-10h1m8 12h1m42 3h1m81-10h1m229-19h1m17 24h1m-24 46h1m-30-10h1m-51-7h1m-6 1h1m-7-10h1m-169 1h1m-51 6h1m-10-3h1m-43 14h1m-84 2h1m-13-2h1m-85 3h1m-26 5h1m-20-18h1m-11 7h1m-18-6h1m41 40h1m37 16h1m49-11h1m30-26h1m57 10h1m36 18h1m54-12h1m52-11h1m1 0h1m13 16h1m41-5h1m9-16h1m27 27h1m182-13h1m35 7h1m1-6h1m22 30h1m-63 2h1m-1 3h1m-46 6h1m-24-6h1m-5 19h1m-1-30h1m-71 24h1m-108 2h1m-67-22h1m-3 5h1m-14 23h1m-22-25h1m-58 3h1m-26 18h1m-83 11h1m-10-14h1m-68 4h1m48 40h1m34-29h1m17 9h1m41 23h1m51-12h1m13 17h1m42-26h1m119 12h1m18 16h1m67-28h1m113-10h1m59 34h1m30-13h1m3 3h1m60 49h1m-82-30h1m-54 23h1m-176-3h1m-29-8h1m-82-14h1m-230 17h1m-42 16h1m19 36h1m12-21h1m67-9h1m19 8h1m7 0h1m42 7h1m0 10h1m7-15h1m17 12h1m14-2h1m110 8h1m34-8h1m74 15h1m24-36h1m24 29h1m30 2h1m60-15h1m31-16h1m44 5h1m16 17h1m-114 44h1m-9 3h1m-55 7h1m-24-25h1m-60-8h1m-79 11h1m-24-12h1m-117 34h1m-35-19h1m-10 4h1m-119-7h1m-30 22h1m50 30h1m3 5h1m3-10h1m17-3h1m71-12h1m91 11h1m88-16h1m63 23h1m25 9h1m1-10h1m65 16h1m54-2h1m48-26h1m3 28h1m16-27h1m15 27h1m60-37h1m20 15h1m32 7h1m4 11h1m18 2h1m-115 8h1m-47 24h1m-10-19h1m-45 23h1m-29 5h1m-6-16h1m-17 12h1m-16-30h1m-2 10h1m-37 6h1m-33 10h1m-50-9h1m-103-8h1m-46 18h1m-163-31h1m-35 14h1m-24 24h1m-46-20h1m-31 18h1m53 13h1m39-2h1m27 13h1m102 4h1m172-7h1m23-14h1m13 8h1m18 27h1m17-36h1m59-1h1m6 24h1m94-20h1m63-1h1m18 3h1m156 22h1m18 45h1m-21-2h1m-16 0h1m-9-20h1m-11 24h1m-77-21h1m-58 19h1m-9-32h1m-34 4h1m-8 10h1m-1-4h1m-111-5h1m-53 19h1m-119-12h1m-177 24h1m-7-6h1m-31-17h1m-8 15h1m-110-14h1m-10 3h1m-15 16h1m-9-15h1m-12 10h1m-17-23h1m42 37h1m107 24h1m13-15h1m35 26h1m3-37h1m267 11h1m-1-4h1m23 14h1m2 15h1m3-11h1m22-11h1m81-6h1m1 24h1m49-27h1m49 16h1m19-16h1m10 13h1m29 16h1m24-14h1m21 8h1m8 8h1m47-6h1m2-30h1m1 11h1m18 66h1m-30-10h1m-97-28h1m-2 14h1m-20 18h1m-32-18h1m-123-2h1m-59 18h1m-11-5h1m-31-13h1m-87 17h1m-5-6h1m-25-19h1m-13 13h1m-175-11h1m-82 3h1m-85 3h1m-28 5h1m-12 14h1m-7 38h1m90-7h1m39-11h1m36 2h1m19 6h1m40-5h1m120 24h1m38-37h1m34 14h1m22 13h1m2-21h1m30 27h1m14-35h1m113 8h1m12-3h1m93 31h1m8-35h1m17 3h1m37 14h1m17 8h1m73 1h1m14-19h1m129 49h1m-10-7h1m-26-7h1m-35 11h1m-8 4h1m-15 14h1m-54 5h1m-34-23h1m-23 23h1m-65-18h1m-24 19h1m-68-31h1m-33 4h1m-9 12h1m-28-8h1m-56 13h1m-15-14h1m-21 22h1m-16-1h1m-7-34h1m-51 29h1m-3 8h1m-25-10h1m-41-27h1m-45 2h1m-20 6h1m-26 11h1m-18-4h1m-67-14h1m-19 10h1m-53-3h1m-10-3h1m-133 9h1m120 27h1m53 25h1m72 8h1m39-27h1m27-5h1m9 5h1m17-8h1m66 21h1m247-21h1m22 24h1m30 10h1m20-6h1m15 5h1m18-5h1m2-17h1m-1 8h1m18 7h1m164-26h1m71 23h1m46 33h1m-18-10h1m-10 28h1m-22-25h1m-4-9h1m-40 6h1m-30 28h1m-6-19h1m-54 6h1m-15 6h1m-6 12h1m-56-39h1m-3 36h1m-54-14h1m-55-3h1m-23-7h1m-13 24h1m-15-21h1m-146 2h1m-43-3h1m-15-7h1m-1 10h1m-13 10h1m-164 0h1m-18-12h1m-23-9h1m-3 15h1m-3-6h1m-163 4h1m-81 15h1m-40-4h1m71 24h1m43 13h1m17-9h1m39 0h1m35-2h1m45 7h1m11 16h1m1-38h1m50 5h1m37 18h1m20-24h1m34 3h1m30 16h1m25-7h1m30 25h1m33-35h1m5 29h1m51-27h1m35 18h1m12-9h1m11 25h1m32-31h1m67 1h1m53-1h1m53 5h1m20 20h1m70-5h1m-1-11h1m5 1h1m27-5h1m35 5h1m48 19h1m9-14h1m26-15h1m27 1h1m0 30h1m-30 19h1m-8 4h1m-51-15h1m-42 16h1m-15 14h1m-22-5h1m-10-17h1m-11 6h1m-44-16h1m-73 8h1m-133-12h1m-16 18h1m-43 17h1m-28-19h1m-17 8h1m-49-24h1m-31 32h1m-112-4h1m-81 2h1m-52-21h1m-31 20h1m-53-26h1m-14 2h1m-36-4h1m-14 2h1m-26 10h1m-25 11h1m-6-9h1m22 36h1m79 9h1m44-12h1m12 15h1m102-13h1m22 5h1m0-4h1m48 17h1m16 1h1m12-8h1m0-5h1m14-1h1m1-8h1m96 8h1m58 11h1m32 13h1m34-8h1m67-8h1m4 16h1m13-26h1m13 6h1m5-7h1m92 25h1m10-3h1m79-10h1m19 11h1m63-1h1m54-7h1m-116 21h1m-84 3h1m-58-2h1m-30 24h1m-5-1h1m-4 7h1m-20-28h1m-67 3h1m-46 9h1m-16 6h1m-188-18h1m-53 25h1m-25-8h1m-81-22h1m-7 3h1m-16 22h1m-98-5h1m-24 52h1m70-9h1m46-14h1m92 17h1m4 6h1m10-5h1m6 2h1m64-17h1m7 17h1m33-27h1m40 3h1m22 15h1m20-19h1m24 4h1m13 2h1m5 21h1m42 4h1m74-5h1m30-19h1m44 24h1m27-15h1m25 15h1m47-1h1m9-18h1m112-11h1m-33 40h1m-188 21h1m-24-11h1m-3-10h1m-27 19h1m-29 6h1m-105-28h1m-6 8h1m-48 10h1m-35-22h1m-30 11h1m-25 7h1m-109-11h1m-17 22h1m-29-15h1m-49 23h1m-10-6h1m-105-15h1m-13-2h1m-6-2h1m-20 35h1m53 19h1m0 0h1m17-15h1m9 1h1m4 26h1m48-13h1m25-26h1m2 11h1m84 9h1m22 10h1m0-18h1m38 10h1m51 17h1m13-27h1m39 22h1m129-5h1m25-20h1m143 17h1m117-5h1m40 0h1m-1 48h1m-200 2h1m-117-2h1m-55-5h1m-24 5h1m-4-23h1m-53 20h1m-9 0h1m-14-20h1m-40 3h1m-46 24h1m-59 7h1m62 33h1m0-15h1m13-1h1m29 6h1m77 14h1m5-35h1m34 9h1m18-6h1m33-4h1m42 30h1m69-11h1m50 4h1m11 8h1m0-22h1m23 8h1m22-13h1m21 8h1m82 4h1m0 16h1m6 5h1m11-10h1m-25 15h1m-25 23h1m-55 1h1m-29 9h1m-10-34h1m-18 11h1m-18-6h1m-117 5h1m-158-7h1m-50 34h1m-33-31h1m25 37h1m34 2h1m6 1h1m7 29h1m13-32h1m78 27h1m27-13h1m13 13h1m19-16h1m-1-16h1m58 37h1m50-32h1m9 26h1m77-14h1m6-6h1m5 11h1m24-15h1m-36 60h1m-28-19h1m-33 14h1m-26 9h1m-3-30h1m-38 1h1m-194 13h1m239 26h1m-36 48h1m-82 5h1m-37-8h1"/>
<path stroke="#ff7f0e" d="M1728 3397h1m18-1h1m90-7h1m89 47h1m-14-3h1m-15-12h1m-4-17h1m-4 22h1m-5-11h1m-7 2h1m-3 12h1m-3 7h1m-3-26h1m-2 9h1m-2 15h1m-3-18h1m-5-2h1m-16 2h1m-3 1h1m-15-10h1m-10 3h1m-3 13h1m-9 2h1m-3 4h1m-7-25h1m-7 10h1m-23 12h1m-5-10h1m-9-3h1m-12 14h1m-3-13h1m-4 19h1m-3-3h1m-5 1h1m-3 8h1m-9-18h1m-1 4h1m-2-10h1m-5 16h1m-13-29h1m-5 33h1m-7-7h1m-4 7h1m-6-6h1m-14 7h1m-8-14h1m-8-6h1m-17 12h1m-23 12h1m2 1h1m3 32h1m2 0h1m1-26h1m17 21h1m8-14h1m19-6h1m14 16h1m0 2h1m9-5h1m15 6h1m4-23h1m0 2h1m28 18h1m17-13h1m5 7h1m12 5h1m8-9h1m17 21h1m11-5h1m0-14h1m17-5h1m0 28h1m3-6h1m12-2h1m11-2h1m0-29h1m8 4h1m11 5h1m1 29h1m11-6h1m1 6h1m20-8h1m6-4h1m7-18h1m18 9h1m199 55h1m-31-6h1m-6-7h1m-9 9h1m-1-10h1m-9 6h1m-2 0h1m-3 15h1m-10-34h1m-8 17h1m-1 16h1m-3-16h1m-9 5h1m-6-21h1m-2 0h1m-1 21h1m-5-7h1m-59 12h1m-34-18h1m-17-6h1m-33-7h1m-6 35h1m-20-24h1m-2-8h1m-3 1h1m-2 23h1m-6-8h1m-4-4h1m-3 0h1m-8-7h1m-11-6h1m-3 6h1m-2 5h1m-10-12h1m-8 33h1m-4-23h1m-4 6h1m-3 1h1m-6 11h1m-2-4h1m-14-22h1m-2-4h1m-9 19h1m-1 19h1m-4-13h1m-9-12h1m-7 1h1m-4 2h1m-19 7h1m-11 3h1m-9 13h1m-2-35h1m-8 32h1m-8 0h1m-8-35h1m-3 26h1m-2-22h1m-5 9h1m-9 8h1m-20 8h1m-16-1h1m-4 0h1m-43-20h1m-14-4h1m-5 28h1m-5-11h1m-23 15h1m-4-15h1m-4 8h1m-22-8h1m-13-4h1m-223 15h1m-29-8h1m-10 5h1m-92 24h1m23-5h1m8 15h1m1 13h1m7-10h1m31-17h1m0-3h1m9 31h1m10-35h1m0 19h1m1-3h1m3 13h1m176 4h1m29 1h1m4-6h1m19 7h1m0-4h1m0-16h1m7 11h1m7-25h1m5-3h1m-1 36h1m8-18h1m27 5h1m5-3h1m2 9h1m38 5h1m24-25h1m0-8h1m12-2h1m1 19h1m2 14h1m3 2h1m14-1h1m3-31h1m2 20h1m1-23h1m13 27h1m5 8h1m15-13h1m15 10h1m2-16h1m10-15h1m17-1h1m16 3h1m7-1h1m4 1h1m-1 3h1m0-5h1m7 8h1m-1 26h1m2-10h1m0 9h1m12-1h1m12-9h1m7-19h1m19 29h1m17-29h1m4 14h1m5 7h1m1-26h1m0 9h1m16 13h1m7-19h1m2 11h1m18 6h1m7-14h1m9 14h1m3-12h1m6 21h1m1-22h1m2 7h1m2 17h1m5 7h1m7-33h1m31 21h1m2-10h1m0 14h1m1-26h1m10-1h1m10 4h1m2 14h1m0-8h1m7-12h1m3-1h1m2 19h1m10-10h1m2 16h1m12 0h1m9 3h1m0-6h1m5 14h1m9 1h1m6-28h1m2 11h1m10 37h1m-12 16h1m-2-22h1m-2 25h1m-6 2h1m-7-36h1m-5 15h1m-4 19h1m-3-8h1m-5-4h1m-12 15h1m-26-33h1m-14 0h1m-14 13h1m-11 1h1m-4 4h1m-21-21h1m-14-3h1m-8 5h1m-2 8h1m-29 1h1m-8-2h1m-3 10h1m-2-6h1m-2 20h1m-7-24h1m-4 24h1m-13-17h1m-12 11h1m-4-23h1m-5 3h1m-3 2h1m-3 1h1m-5-4h1m-18 2h1m-3-5h1m-8 17h1m-8 13h1m-1-26h1m-8 27h1m-3-23h1m-6-7h1m-8 21h1m-6-25h1m-17 11h1m-17 10h1m-5 2h1m-8-1h1m-18-13h1m-5 16h1m-31-8h1m-3-5h1m-4 8h1m-6 6h1m-30 4h1m-6 2h1m-36-21h1m-12 21h1m-4-3h1m-5-31h1m-19 4h1m-3 16h1m-11-18h1m-8 23h1m-13 9h1m-12 1h1m-20-18h1m-5-15h1m-13 4h1m-4 3h1m-14 14h1m-13 10h1m-3 3h1m-6-22h1m-6 15h1m-26-8h1m-1-8h1m-15 8h1m-9-4h1m-3 18h1m-6-18h1m-10-18h1m-3 25h1m-11 11h1m-10-19h1m-15-2h1m-12-7h1m-145 15h1m-3-6h1m-11 13h1m-17-23h1m-8 31h1m-2-12h1m-4-18h1m-18 8h1m-5 23h1m-4-37h1m-10-1h1m-25 68h1m16-28h1m13 12h1m1 13h1m2-17h1m7 15h1m4-11h1m0-9h1m3-2h1m3 24h1m0-7h1m4-6h1m3 16h1m0-13h1m2 2h1m1 15h1m3 1h1m-1-17h1m7 11h1m4-23h1m8 28h1m4-11h1m4-8h1m18 24h1m11-3h1m9-13h1m13 5h1m14-9h1m9 9h1m5-6h1m6-4h1m21-1h1m29 18h1m-1-11h1m5-2h1m2 5h1m2-16h1m18-1h1m23 18h1m10-24h1m0-2h1m9 18h1m11 10h1m10 5h1m2-13h1m17-2h1m0-9h1m5 18h1m12-3h1m0-22h1m0 10h1m1 21h1m-1-28h1m0-6h1m4 18h1m11 18h1m2-31h1m10 26h1m3-26h1m26 10h1m4-8h1m8-6h1m17 11h1m34 16h1m6 6h1m3-17h1m4 8h1m-1 14h1m12-10h1m6-5h1m19 0h1m4-23h1m25 21h1m4 15h1m14-20h1m2-14h1m1 10h1m9 23h1m4 0h1m8-5h1m5 4h1m2-10h1m14-20h1m4 17h1m3-10h1m2 23h1m8-8h1m2-7h1m1 6h1m-1-23h1m1 1h1m16 6h1m28-1h1m27 27h1m4-36h1m2 22h1m22-13h1m3 8h1m20 15h1m8-26h1m0 30h1m13-17h1m9-10h1m8-7h1m9 11h1m9 3h1m5 20h1m0-30h1m9-2h1m0 25h1m3-4h1m6-11h1m-1 15h1m3-24h1m1 24h1m5-27h1m19 20h1m8-3h1m21 10h1m73 44h1m-2 0h1m-10-5h1m-13-16h1m-10 8h1m-27-3h1m-31 16h1m-2-22h1m-8 23h1m-9-15h1m-3-19h1m-9 0h1m-8 29h1m-4-27h1m-1 7h1m-5-7h1m-8 31h1m-23-1h1m-7-7h1m-14-7h1m-7 0h1m-4-11h1m-1-4h1m-21 11h1m-22 19h1m-10 6h1m-6-27h1m-1 0h1m-6 14h1m-5 3h1m-6-5h1m-5-13h1m-5 24h1m-22-3h1m-8-15h1m-3-2h1m-7 24h1m-2-11h1m-23 3h1m-3-20h1m-6-7h1m-4 27h1m-1-31h1m-22 30h1m-24-23h1m-2-3h1m-9 35h1m-6-38h1m-5 30h1m-17-18h1m-2 2h1m-5-4h1m-16-1h1m-23 11h1m-5 13h1m-2-2h1m-2-16h1m-16 6h1m-1-11h1m-3 16h1m-7 6h1m-25-18h1m-5 1h1m-3-13h1m-2 24h1m-23-9h1m-3 10h1m-6 8h1m-8-36h1m-2 23h1m-11-23h1m-13 10h1m-2-6h1m-24 14h1m-1-17h1m-9 30h1m-17-26h1m-9 27h1m-14-13h1m-10-6h1m-8 12h1m-1-15h1m-3-7h1m-5 35h1m-15-23h1m-7-5h1m-13-3h1m-15-6h1m-1 0h1m-10 30h1m-4-28h1m-1 24h1m-3 0h1m-6 10h1m-8-8h1m-19 9h1m-14-37h1m-2 10h1m-3-11h1m-24 32h1m-11-6h1m-12 12h1m-2-28h1m-1 10h1m-3-6h1m-10 6h1m-3-6h1m-17 13h1m-3-25h1m-13 0h1m-7 10h1m-3 2h1m-2-4h1m-5 21h1m-14-14h1m-29 20h1m-2-27h1m-1 1h1m-1-1h1m-3 24h1m-20-17h1m-13 22h1m-4-10h1m-11-14h1m-23 15h1m-4 5h1m-8-7h1m-9-13h1m-8 0h1m-11 10h1m-17 2h1m-2-11h1m-9 0h1m-18 15h1m-8-11h1m-8-2h1m-10-4h1m-9 20h1m-3 16h1m18 25h1m2-12h1m2-20h1m9 35h1m11-30h1m7 10h1m0 8h1m4-26h1m14 13h1m4 13h1m13-1h1m0 10h1m5-9h1m13 11h1m11-14h1m6-22h1m9 5h1m14 9h1m7-2h1m3-10h1m2 20h1m-1-16h1m9 10h1m9 15h1m0-29h1m18 31h1m11-2h1m-1-9h1m5 9h1m1-11h1m-1-2h1m0 13h1m0-1h1m0-7h1m15 3h1m7-20h1m0 29h1m2-11h1m12 8h1m0-7h1m6-11h1m3 3h1m6-5h1m2 26h1m6-29h1m2-8h1m8-2h1m3 6h1m0 33h1m8-9h1m0 9h1m4-21h1m24-17h1m12 20h1m5 8h1m15-13h1m10 7h1m4-6h1m-1-11h1m12 5h1m6 18h1m4-19h1m5-9h1m1 22h1m0 16h1m0-33h1m9 18h1m0 14h1m7-34h1m2 1h1m2-5h1m1 13h1m1 11h1m12 14h1m4-5h1m7-3h1m0-2h1m13 2h1m-1-22h1m0 16h1m1-9h1m5-1h1m0 6h1m6 1h1m16-20h1m24 18h1m3-12h1m-1 25h1m4-12h1m11-17h1m0 14h1m20-7h1m8 25h1m14-11h1m5-14h1m6 22h1m16-3h1m4-2h1m12-5h1m14 14h1m1 2h1m4-33h1m17-5h1m4 9h1m3 30h1m5-31h1m9 31h1m34-37h1m3 0h1m32 14h1m18-11h1m5 3h1m0 15h1m10-3h1m2-4h1m-1 14h1m-1-3h1m0 10h1m-1-20h1m5 5h1m26-6h1m-1-8h1m5 27h1m32 0h1m1 0h1m2-23h1m1 24h1m6-2h1m18-7h1m8 0h1m5-27h1m4 31h1m13 3h1m18-26h1m13 16h1m3 6h1m8-14h1m6 6h1m7-1h1m9-2h1m16-16h1m21 7h1m10 14h1m4-5h1m42 38h1m-9-3h1m-5 5h1m-5-1h1m-4 7h1m-27-6h1m-3 12h1m-7-24h1m-3 30h1m-6-26h1m-12 28h1m-3-16h1m-7 14h1m-14-24h1m-1-1h1m-2 13h1m-9-4h1m-4 18h1m-25-3h1m-14-20h1m-6 22h1m-3-23h1m-1 6h1m-12 12h1m-15 2h1m-8-9h1m-3-19h1m-3 29h1m-1-18h1m-6 16h1m-2-34h1m-4 1h1m-35 18h1m-1-10h1m-17 29h1m-14-30h1m-2 30h1m-29-3h1m-2-29h1m-8-5h1m-7 7h1m-10 19h1m-2 11h1m-22-15h1m-4-9h1m-3-2h1m-20 2h1m-6 1h1m-5-8h1m-1 14h1m-29-6h1m-6 2h1m-5 5h1m-12-3h1m-2 16h1m-8-3h1m-3-13h1m-5 17h1m-5-19h1m-2-2h1m-2 1h1m-6 10h1m-7 5h1m-6 2h1m-4-9h1m-2 14h1m-3-37h1m-6 9h1m-4 11h1m-13 16h1m-23-26h1m-9 20h1m-4-27h1m-10 28h1m-7-9h1m-8 1h1m-23-16h1m-3 30h1m-4-19h1m-3-12h1m-9 5h1m-25 24h1m-1-4h1m-13 4h1m-28-15h1m-22 7h1m-19-3h1m-15-6h1m-2-11h1m-3 28h1m-2-8h1m-4-17h1m-8 18h1m-3-25h1m-4 30h1m-8-15h1m-4-2h1m-2 20h1m-3-11h1m-7-6h1m-1 16h1m-8-17h1m-11 0h1m-5 9h1m-4-17h1m-16 26h1m-4-19h1m-50 2h1m-2-20h1m-4 11h1m-9-7h1m-12 15h1m-10 7h1m-5-11h1m-14-12h1m-14 12h1m-2-6h1m-8 25h1m-2-19h1m-2 22h1m-16-31h1m-11 30h1m-3-23h1m-17 22h1m-3-24h1m-5 1h1m-11 10h1m-8-13h1m-47 14h1m-1 16h1m-5-24h1m-7-7h1m-7-6h1m-12 19h1m-11-15h1m-6 12h1m-23-5h1m-3 5h1m-17-18h1m-2 3h1m-9 10h1m-3-13h1m-11 23h1m-3 15h1m-29-22h1m-2-8h1m-4-1h1m-4 24h1m-3-27h1m-4 28h1m-9 2h1m-6-19h1m-3 12h1m-22 9h1m-17-17h1m-1 10h1m-2-16h1m-3 12h1m-3 6h1m4 33h1m1-21h1m5 17h1m4-5h1m22 5h1m11 19h1m2-27h1m9-5h1m16 21h1m0-19h1m0 11h1m0-4h1m40 13h1m3-27h1m5 18h1m12 11h1m0-3h1m2-3h1m1 6h1m4-17h1m2 7h1m8 14h1m11 0h1m6 3h1m13-9h1m0 5h1m3-29h1m-1 19h1m7-8h1m9 0h1m1 16h1m0 3h1m0 3h1m8-15h1m6 12h1m8-32h1m1 30h1m7 1h1m3 2h1m-1-16h1m5 14h1m15-10h1m1 2h1m21-24h1m0 22h1m1-2h1m1 2h1m1 5h1m20-17h1m4 25h1m26-36h1m6 28h1m20-12h1m3-10h1m2 31h1m3-30h1m-1 22h1m0-3h1m2 11h1m12-3h1m0-23h1m4-2h1m1 3h1m0 2h1m2 8h1m-1-19h1m1 30h1m7-11h1m1-9h1m5 5h1m0 1h1m5 15h1m-1-18h1m12 19h1m0-25h1m35 3h1m1 2h1m1 2h1m17-18h1m11 15h1m0 10h1m21-12h1m5 10h1m18 9h1m9-3h1m7-22h1m8 25h1m10-14h1m7 12h1m4-5h1m7-1h1m9 6h1m2-5h1m5-25h1m24 2h1m2 26h1m0-27h1m0 32h1m0-20h1m0-11h1m11 15h1m-1-11h1m10 1h1m0-6h1m10 22h1m3 5h1m2-4h1m2 4h1m10 6h1m3 5h1m4-2h1m3-27h1m1 29h1m3-38h1m1 1h1m32 16h1m4-9h1m25 13h1m0 17h1m1-29h1m13-5h1m0 28h1m1 4h1m9-7h1m0-28h1m0 13h1m3-3h1m0 11h1m12-4h1m1 6h1m8 1h1m5-22h1m1 34h1m3-14h1m2-10h1m1-5h1m0 24h1m14-28h1m10 13h1m3-12h1m-1 0h1m15 23h1m8 10h1m1-4h1m8-35h1m0 3h1m11 0h1m43 12h1m25-6h1m8-8h1m12 10h1m3 5h1m0 5h1m0-5h1m3 5h1m18 16h1m0-16h1m0 7h1m2-20h1m31 5h1m2 16h1m8 9h1m24-16h1m0 6h1m1-12h1m1-14h1m9 41h1m-7 15h1m-2-15h1m-10 32h1m-8-3h1m-4-2h1m-12-5h1m-24-23h1m-26 22h1m-4-12h1m-7 11h1m-4 0h1m-21-5h1m-9-10h1m-18 12h1m-9 6h1m-5-6h1m-9 0h1m-15 6h1m-11-5h1m-3 0h1m-3 1h1m-17-22h1m-11 5h1m-7-3h1m-3 6h1m-2-5h1m-3 18h1m-6 17h1m-3-5h1m-18-14h1m-8-1h1m-4 1h1m-9 10h1m-2 3h1m-5-5h1m-4 1h1m-2-28h1m-2 36h1m-3-26h1m-2 2h1m-2 9h1m-21 18h1m-5-38h1m-3 19h1m-1-7h1m-4 20h1m-12-5h1m-17-8h1m-3 13h1m-6-17h1m-6 10h1m-15 6h1m-16-11h1m-3 12h1m-30-28h1m-8 29h1m-5-17h1m-13-9h1m-3 4h1m-3-2h1m-10-4h1m-5 28h1m-5-24h1m-3 13h1m-23 13h1m-12-12h1m-17-3h1m-15 6h1m-2 1h1m-9-17h1m-17-1h1m-9 10h1m-2-7h1m-3 8h1m-5 0h1m-12-20h1m-11-1h1m-14 22h1m-13 11h1m-9-14h1m-2 12h1m-15-28h1m-2 36h1m-7 0h1m-2-20h1m-17 19h1m-3-25h1m-2 14h1m-10 8h1m-1 1h1m-4-10h1m-3-21h1m-6 3h1m-15 0h1m-3 1h1m-3 4h1m-6 19h1m-11 0h1m-25-15h1m-4-16h1m-4 28h1m-3-17h1m-19 6h1m-4-11h1m-18-5h1m-8-1h1m-34 14h1m-12 8h1m-13-6h1m-7 15h1m-21-11h1m-25 6h1m-1 9h1m-8 0h1m-1-34h1m-3 15h1m-6-6h1m-25 2h1m-6 13h1m-3 0h1m-2-18h1m-1 7h1m-7-14h1m-5 12h1m-13 26h1m-5-3h1m-3-30h1m-8 16h1m-11-20h1m-16 0h1m-2 34h1m-2-36h1m-5 37h1m-2-21h1m-2-15h1m-2 23h1m-13-6h1m-8-5h1m-13-5h1m-7 14h1m-19-9h1m-7-7h1m-10-1h1m-3-4h1m-5 19h1m-6-9h1m-1 25h1m-16-15h1m-11-5h1m-8 3h1m-3 17h1m-20-15h1m-3 4h1m-13-8h1m-2 15h1m-3-2h1m-6-5h1m-7 14h1m-20-31h1m-2-4h1m-36 34h1m-7-9h1m-8-2h1m3 18h1m1 3h1m2 23h1m7-27h1m3 34h1m14-31h1m2 2h1m33-6h1m23 26h1m10 8h1m6-2h1m0-16h1m7-4h1m9 5h1m17-11h1m1 2h1m3-3h1m3 20h1m0-22h1m3 26h1m0-2h1m6 0h1m5-24h1m7 28h1m3-21h1m1 25h1m25-2h1m5-12h1m4 8h1m12 3h1m7-31h1m0 35h1m1-14h1m9-21h1m12 4h1m2 4h1m11 10h1m0-15h1m1-7h1m0 32h1m-1-2h1m4 6h1m4-22h1m1-10h1m-1 2h1m14 2h1m1 31h1m0-12h1m10-14h1m4-11h1m1 27h1m0 0h1m-1-19h1m12 24h1m11-8h1m5 10h1m8-10h1m9-23h1m7 33h1m-1-7h1m2-17h1m-1 23h1m1-7h1m0-17h1m5-4h1m0-7h1m11 2h1m9 1h1m22 25h1m3 2h1m2-4h1m1 9h1m3-9h1m2 4h1m4-12h1m7 7h1m4 12h1m0-6h1m2-25h1m0 27h1m5-9h1m33-20h1m1 27h1m0-8h1m1-10h1m12 21h1m16-31h1m7 8h1m12 8h1m8-1h1m3-11h1m10 24h1m1 6h1m-1-8h1m13-29h1m0 6h1m5-6h1m12 34h1m0 5h1m0-14h1m3-17h1m0 0h1m4 11h1m2-10h1m8 10h1m30 6h1m10-8h1m1-13h1m1-4h1m1 25h1m53 6h1m35-9h1m3-20h1m-1 12h1m7-11h1m1 26h1m6-7h1m17 12h1m13-23h1m3 3h1m17 24h1m0-27h1m2 15h1m2-12h1m8 20h1m8-28h1m6 25h1m13-10h1m5-4h1m6 21h1m4-2h1m3-36h1m11 19h1m1 14h1m0-21h1m9 17h1m6-8h1m5-6h1m2-7h1m21-1h1m2 12h1m7 2h1m20-6h1m24 24h1m5-8h1m10 6h1m17-4h1m2-32h1m-1 9h1m11 18h1m14-13h1m9 7h1m3 2h1m17-9h1m18-13h1m1 30h1m0-19h1m18 4h1m-1 22h1m5-31h1m1 3h1m-2 34h1m-2 23h1m-2-6h1m-5 10h1m-8-15h1m-9-16h1m-11 37h1m-3-25h1m-3 11h1m-5 6h1m-14-1h1m-3-29h1m-6 23h1m-2-13h1m-3 26h1m-30-11h1m-13-5h1m-2-14h1m-29 8h1m-5 24h1m-1-32h1m-2-5h1m-2 28h1m-14-7h1m-14 5h1m-7 12h1m-9-33h1m-4-4h1m-6 31h1m-14-1h1m-6-1h1m-28-29h1m-25 25h1m-7-4h1m-9 5h1m-6-2h1m-2 7h1m-9 2h1m-5-25h1m-15-3h1m-6 9h1m-2 17h1m-5-29h1m-15 4h1m-2 4h1m-7 7h1m-4 17h1m-33-16h1m-12 18h1m-3-9h1m-5-6h1m-20-22h1m-1 13h1m-7 15h1m-2 8h1m-5-14h1m-10 0h1m-2-17h1m-7 18h1m-5-5h1m-3-10h1m-12 10h1m-7-3h1m-4 19h1m-6 1h1m-4 0h1m-12-5h1m-8-24h1m-2 20h1m-6-3h1m-13-4h1m-8-5h1m-5-4h1m-9 12h1m-2 4h1m-27-12h1m-6-13h1m-8 17h1m-4-1h1m-6 16h1m-2-2h1m-11-16h1m-7-7h1m-3 15h1m-3-4h1m-9 15h1m-9 4h1m-1-15h1m-12 3h1m-2 6h1m-16-5h1m-4 5h1m-1 6h1m-13-8h1m-4-28h1m-13 1h1m-6 13h1m-1 4h1m-4-9h1m-6 1h1m-1-2h1m-11 13h1m-21 2h1m-2 2h1m-2-10h1m-3-3h1m-8-10h1m-3 24h1m-7-6h1m-9 12h1m-11 1h1m-8-27h1m-43 5h1m-20 20h1m-6-33h1m-10 21h1m-15-19h1m-11 9h1m-15 16h1m-8-13h1m-16 17h1m-4-18h1m-10 19h1m-5-4h1m-3-10h1m-2 9h1m-4-7h1m-17-2h1m-10-5h1m-11 13h1m-3-3h1m-7-12h1m-6 19h1m-10-25h1m-5-6h1m-21 9h1m-4-8h1m-3 8h1m-3 11h1m-7 19h1m-23-29h1m-12 14h1m-9 9h1m-2-4h1m-2 3h1m-3-4h1m-4 7h1m-2 4h1m-14-5h1m-2-23h1m-3-4h1m-16 16h1m-2-22h1m-12 15h1m-4 16h1m-5-18h1m-6-9h1m-6 34h1m-10-10h1m-2-26h1m-7 33h1m-10 2h1m-21-22h1m-39-12h1m-26 30h1m-9-1h1m-4-22h1m-11 36h1m32-7h1m21 15h1m0-12h1m1 29h1m0-28h1m6 29h1m4-21h1m22 11h1m16-6h1m0-16h1m4 27h1m0-12h1m4 15h1m3 8h1m6-23h1m12 3h1m1 8h1m3-5h1m-1-20h1m17 32h1m4-27h1m1-1h1m2 28h1m18-2h1m16-7h1m9-9h1m1 20h1m18-10h1m15-1h1m5-24h1m2 25h1m2-6h1m2-8h1m13 11h1m17-5h1m1 1h1m2 8h1m0-5h1m6 17h1m16-25h1m11-10h1m31 4h1m-1 5h1m13 13h1m2-11h1m3-10h1m3 21h1m4-8h1m10-2h1m7-2h1m-1 0h1m1 15h1m11-19h1m1-3h1m-1 23h1m1 1h1m1-5h1m1 10h1m13-17h1m0-1h1m18-3h1m8-9h1m10 16h1m2-11h1m0 6h1m5 1h1m8-5h1m9-4h1m16 17h1m6-15h1m5-7h1m2 17h1m3-7h1m2 7h1m0-18h1m6 26h1m9-12h1m16 7h1m-1 14h1m-1-2h1m5-9h1m10 7h1m6-33h1m5-1h1m16 22h1m2-20h1m1 36h1m0-6h1m0-14h1m-1-15h1m0 2h1m3 18h1m7-16h1m13 15h1m2 1h1m1-21h1m0 2h1m8 32h1m0-24h1m11-4h1m29 8h1m6 9h1m5-15h1m9 11h1m3-6h1m-1 19h1m1-16h1m0-2h1m1 2h1m23-2h1m4-11h1m13 27h1m5-13h1m7 3h1m0 3h1m5 13h1m3-21h1m3-6h1m51-4h1m11 12h1m5 18h1m7-11h1m1 7h1m4-14h1m2 13h1m9-13h1m6 14h1m5-20h1m19 10h1m3 13h1m5-36h1m1 13h1m3 19h1m0-7h1m3 4h1m2 6h1m7-24h1m0 10h1m23 17h1m-1-6h1m2-18h1m19-2h1m17 8h1m24 1h1m8 4h1m2-25h1m13 17h1m13 19h1m6-7h1m1-28h1m-1 31h1m9-27h1m22 19h1m4-9h1m8-15h1m4 12h1m0 27h1m3-7h1m3-11h1m3-10h1m2-5h1m2 23h1m5 0h1m-62 45h1m-6-14h1m-2 16h1m-2-12h1m-26-24h1m-2 27h1m-11 10h1m-16-4h1m-4-21h1m-12 16h1m-6-13h1m-3-2h1m-3-2h1m-13 15h1m-9-24h1m-15 16h1m-4 3h1m-3 8h1m-10 7h1m-28-27h1m-8 21h1m-2-27h1m-35 14h1m-17 0h1m-2-2h1m-14-7h1m-36 7h1m-3 2h1m-1 11h1m-3-10h1m-31 2h1m-25 15h1m-16-16h1m-9-13h1m-4 5h1m-6 22h1m-2 5h1m-3-33h1m-3 4h1m-17 10h1m-1-14h1m-3 0h1m-4 15h1m-9 19h1m-15-11h1m-3 5h1m-6-26h1m-3 9h1m-9 9h1m-3-14h1m-30 20h1m-1-16h1m-18 0h1m-23 11h1m-3-16h1m-3 3h1m-13 12h1m-27-5h1m-4 8h1m-5 4h1m-13-2h1m-3-15h1m-1-7h1m-2 12h1m-6 14h1m-3-8h1m-2-1h1m-1-14h1m-3-11h1m-4 2h1m-3 37h1m-4-23h1m-4-6h1m-13 20h1m-8-23h1m-5 18h1m-10 4h1m-22-9h1m-6-20h1m-4 5h1m-5 8h1m-37-6h1m-6 8h1m-3 16h1m-11-21h1m-10-6h1m-6 7h1m-4 7h1m-21 14h1m-16-26h1m-1 15h1m-7-21h1m-10 27h1m-7 5h1m-4 2h1m-2 5h1m-10-5h1m-14-1h1m-16-10h1m-7-22h1m-1 35h1m-22-32h1m-4 9h1m-9 7h1m-14 10h1m-3 7h1m-1-7h1m-5-7h1m-8-10h1m-44-3h1m-7 19h1m-9-14h1m-9 9h1m-5-11h1m-9 23h1m-3 2h1m-3-17h1m-13 10h1m-7-9h1m-4 11h1m-2-32h1m-2 3h1m-2 22h1m-2 9h1m-6-16h1m-3 19h1m-12-18h1m-13 8h1m-11-19h1m-9 25h1m-2-8h1m-3-10h1m-10-7h1m-2 16h1m-2-9h1m-15 1h1m-10-13h1m-4 16h1m-1-13h1m-7 19h1m-26-22h1m-2-2h1m-1 36h1m-9-16h1m-5-9h1m-11-3h1m-6-7h1m-6 17h1m-10-4h1m85 27h1m1 28h1m2-16h1m2 5h1m0-2h1m18 1h1m4-17h1m6 16h1m3 12h1m1-12h1m4-11h1m2 22h1m25-3h1m19-7h1m23 17h1m8-36h1m17 31h1m13-4h1m6 5h1m2-6h1m7-26h1m0 4h1m2 4h1m12 11h1m0-11h1m4 20h1m0-16h1m1 6h1m4-9h1m-1 12h1m5 1h1m3-13h1m14-5h1m1 24h1m4-7h1m2 0h1m0-2h1m8-6h1m14 14h1m26-4h1m15-20h1m3 29h1m0-23h1m15 30h1m3-29h1m-1-8h1m3 7h1m6 28h1m2-3h1m-1-28h1m0 15h1m2-17h1m3 23h1m9-4h1m13 0h1m12-1h1m26 2h1m9 13h1m3-30h1m1 24h1m0-18h1m0 17h1m3-18h1m6 7h1m-1-4h1m0-6h1m0-3h1m-1 11h1m9 20h1m16-22h1m0-3h1m3-12h1m1 25h1m3 4h1m4 2h1m1-6h1m7-8h1m0-13h1m3 1h1m10 13h1m-1-15h1m5 6h1m0 0h1m4 28h1m27-29h1m0 30h1m20-28h1m1 23h1m2-33h1m11 32h1m4 2h1m10-23h1m-1 14h1m3-9h1m31-3h1m3 10h1m8-10h1m12 9h1m3 0h1m0-19h1m1 27h1m1-18h1m7-9h1m0 11h1m1 13h1m1-11h1m22 11h1m16-24h1m5 21h1m0 0h1m-1 14h1m6-18h1m3 14h1m12 4h1m1-3h1m4-17h1m2-9h1m0 22h1m12-13h1m14-14h1m6 32h1m1-23h1m4-6h1m13-1h1m-1 25h1m0-15h1m9 17h1m7-28h1m1 27h1m26 4h1m5-22h1m0 16h1m21-23h1m0-5h1m0 36h1m0-35h1m2 26h1m46-4h1m8 7h1m3-22h1m29 21h1m-1 3h1m23-19h1m1-6h1m1-3h1m20 3h1m-1 24h1m1 28h1m-11-15h1m-3 11h1m-9 14h1m-4 2h1m-1-25h1m-4-8h1m-2 25h1m-1 8h1m-5-14h1m-5 1h1m-18 18h1m-31-35h1m-3 23h1m-26 5h1m-7 7h1m-4-16h1m-2-3h1m-15-17h1m-5 15h1m-2-4h1m-7-8h1m-2 19h1m-13 7h1m-5 4h1m-6-31h1m-1 10h1m-8 11h1m-7-19h1m-15 25h1m-6-16h1m-6-5h1m-2 6h1m-12-1h1m-12-1h1m-17-12h1m-19 15h1m-26-15h1m-4 13h1m-5-3h1m-14-6h1m-5 24h1m-4-6h1m-3-13h1m-3 6h1m-7 20h1m-28-28h1m-3 15h1m-6 6h1m-6-30h1m-6 7h1m-10 26h1m-11-24h1m-11 1h1m-1 5h1m-10 16h1m-8-26h1m-6 24h1m-14 2h1m-14-14h1m-4 9h1m-4-8h1m-7 7h1m-36-6h1m-13 18h1m-8-4h1m-5 1h1m-1-11h1m-8-6h1m-1 17h1m-6-1h1m-7-14h1m-15 13h1m-4 7h1m-11-17h1m-7-10h1m-34-2h1m-4 13h1m-2 4h1m-3-21h1m-18-2h1m-2 15h1m-8-16h1m-4 23h1m-13-25h1m-17 31h1m-24-26h1m-7 21h1m-2 2h1m-5-6h1m-2-8h1m-20-15h1m-10 27h1m-7 0h1m-21-12h1m-27 2h1m-9-14h1m-1 15h1m-3 0h1m-5-15h1m-3 16h1m-12-13h1m-31-4h1m-5 23h1m-7-3h1m-3 15h1m-21-2h1m-10-10h1m-6 11h1m-2-28h1m-2 8h1m-32-4h1m-6 8h1m-5-9h1m-5 16h1m-3-22h1m-1-3h1m-7 25h1m-5-23h1m-11-4h1m-2 18h1m-4 21h1m-2-17h1m-28 15h1m-17-3h1m-12-3h1m-9 6h1m-10-25h1m-2 14h1m-10 3h1m-19-9h1m-14-1h1m-9-8h1m61 63h1m13-16h1m-1-7h1m5-6h1m4 26h1m20-10h1m13-7h1m16 17h1m1-15h1m-1 22h1m2-22h1m6-8h1m21 23h1m13-22h1m5 29h1m6-15h1m32 2h1m3-25h1m6 3h1m-1-3h1m1 28h1m24-15h1m5-10h1m3 8h1m1-7h1m11 32h1m13-21h1m7 16h1m2-14h1m6-6h1m4 12h1m1-9h1m8 2h1m1-16h1m7 31h1m0 1h1m2 1h1m9-1h1m0 1h1m3-3h1m4 9h1m9-18h1m33-1h1m7-20h1m-1 38h1m8-31h1m2 20h1m3 11h1m17 0h1m0-7h1m1-12h1m2-1h1m1-13h1m-1 7h1m8-11h1m-1 29h1m0-14h1m6 18h1m28-2h1m0-30h1m3 25h1m2-25h1m0 33h1m20-1h1m3 4h1m4-3h1m16-24h1m1 23h1m0 5h1m7-16h1m9-13h1m2 15h1m1 4h1m1 1h1m11 5h1m7-28h1m0 19h1m15 4h1m0 9h1m2-11h1m25-6h1m3 14h1m0-20h1m2 16h1m2-6h1m7 1h1m0-10h1m12 3h1m17 4h1m38-2h1m17-14h1m8-8h1m-1 35h1m8-15h1m30 4h1m6-23h1m1 16h1m3 21h1m6-30h1m13 18h1m7 13h1m2-26h1m11 26h1m2-10h1m1-29h1m10 22h1m6 9h1m4-30h1m34 22h1m30 11h1m2-20h1m2 18h1m16-1h1m1-7h1m0-15h1m6 0h1m3 30h1m-1-7h1m8-3h1m16-28h1m5 1h1m2 27h1m1-22h1m8 4h1m4-11h1m26 39h1m10 0h1m10-2h1m4-7h1m0-14h1m39 44h1m-1 9h1m-8-13h1m-12 19h1m-6 0h1m-6-6h1m-6-13h1m-29-8h1m-2-7h1m-6 13h1m-3 10h1m-7-20h1m-8 35h1m-3-1h1m-2-16h1m-14 13h1m-6-17h1m-8 7h1m-23-13h1m-2 7h1m-5-16h1m-2 34h1m-10-36h1m-2 33h1m-2-8h1m-3-1h1m-5-6h1m-10 7h1m-4 7h1m-10-3h1m-11-8h1m-5-10h1m-2 14h1m-3-17h1m-53 24h1m-14-30h1m-17 35h1m-6-24h1m-2-12h1m-17 7h1m-20-8h1m-8 4h1m-3 27h1m-5-28h1m-7 9h1m-7 24h1m-5-5h1m-12-12h1m-2-15h1m-16 3h1m-6-5h1m-14 11h1m-4-2h1m-11 3h1m-6-11h1m-2 3h1m-12 6h1m-7 6h1m-4-15h1m-12 30h1m-1 0h1m-11-10h1m-11-20h1m-19 25h1m-13-12h1m-2-7h1m-18 22h1m-7-31h1m-2 24h1m-2 3h1m-1-21h1m-5 2h1m-4 16h1m-5-23h1m-1-2h1m-10 3h1m-7 4h1m-27 29h1m-14-27h1m-7 16h1m-3-14h1m-10 26h1m-4-35h1m-4 19h1m-1 13h1m-34-29h1m-3-5h1m-16 8h1m-10-2h1m-15 19h1m-2-8h1m-14-13h1m-6-4h1m-11 4h1m-18-2h1m-2 14h1m-3 12h1m-12-5h1m-7 8h1m-2-17h1m-7 12h1m-14-4h1m-3-15h1m-6-7h1m-5 4h1m-12 24h1m-8-17h1m-9 12h1m-3 11h1m-1-7h1m-11-26h1m-5 5h1m-1 23h1m-31-2h1m-10-17h1m-10 4h1m-6 20h1m-26-18h1m-2-8h1m-8 12h1m-4-7h1m-11-6h1m-10-6h1m-2 36h1m-12-35h1m-1 32h1m-2-26h1m-5 27h1m-4-2h1m-1-2h1m-4 1h1m-5-5h1m-2-5h1m-5-16h1m-2 14h1m-3-5h1m-14-9h1m-3 3h1m-8-5h1m-4 16h1m-1-1h1m-4 1h1m-1-11h1m-1 4h1m-21 11h1m-4-14h1m-3-1h1m-4-2h1m-5-4h1m-5 8h1m-4-5h1m-16 12h1m-7-15h1m-6 15h1m-2-11h1m-2 15h1m-12 15h1m19 14h1m30-6h1m6 1h1m11 8h1m2-11h1m28 27h1m1 6h1m19-3h1m1-3h1m4-7h1m5-11h1m0-1h1m-1 15h1m6 0h1m1 13h1m0-34h1m18 33h1m-1-3h1m-1-11h1m6 1h1m2-15h1m1 22h1m10-15h1m-1 2h1m3-1h1m2 15h1m11-28h1m12 19h1m6-5h1m0 2h1m1-7h1m5-10h1m1 35h1m6-21h1m0 8h1m12 11h1m2-28h1m3 29h1m7-33h1m10 26h1m5-25h1m4 33h1m1-21h1m6-4h1m4 11h1m1 7h1m0-17h1m1-12h1m6-3h1m-1 6h1m-1 11h1m2 0h1m-1 13h1m7-27h1m3 36h1m12-14h1m0-19h1m-1 23h1m6-17h1m1 5h1m12 10h1m32-10h1m3-17h1m0 7h1m14 6h1m10 11h1m-1 13h1m8-3h1m9-3h1m6-18h1m-1 13h1m1-6h1m3 12h1m10-31h1m6 9h1m15 6h1m8 0h1m22 14h1m9-20h1m1 19h1m24-17h1m22 21h1m8-13h1m15-5h1m3 17h1m5-1h1m0-14h1m0 17h1m0-26h1m0-7h1m2 19h1m6 16h1m5-13h1m11-16h1m3-2h1m11 25h1m11-30h1m1 3h1m-1-2h1m15 17h1m18-15h1m5 8h1m20 24h1m1-17h1m14 7h1m9-9h1m13-4h1m10-8h1m-1 15h1m7-8h1m19 13h1m4 13h1m2-31h1m1 18h1m20-7h1m17-5h1m2 21h1m8-9h1m5 15h1m1-36h1m7 4h1m13-3h1m7 15h1m6 20h1m5-37h1m17 6h1m29 1h1m0 13h1m1 7h1m29 0h1m3-18h1m7-9h1m11 15h1m16-4h1m223 17h1m49-10h1m-306 20h1m-20 3h1m-28 4h1m-18 19h1m-6 8h1m-6-26h1m-2 17h1m-19 13h1m-2-31h1m-9 21h1m-7 10h1m-5-13h1m-13-17h1m-14 6h1m-5 20h1m-5 3h1m-6-31h1m-8-2h1m-12 9h1m-8 14h1m-11 6h1m-7-3h1m-3-12h1m-13 20h1m-8-37h1m-11 27h1m-5 9h1m-10-22h1m-2 12h1m-15-1h1m-10 3h1m-11-28h1m-2 11h1m-9 11h1m-3-3h1m-3 18h1m-8-9h1m-13-11h1m-6-13h1m-3 28h1m-5 1h1m-2-34h1m-6 5h1m-5 16h1m-2-12h1m-1 8h1m-14-5h1m-2-2h1m-9 8h1m-1-10h1m-3 23h1m-3-15h1m-8-12h1m-2 18h1m-8-21h1m-13 30h1m-5-25h1m-11 17h1m-10-22h1m-14-1h1m-2 25h1m-20 7h1m-20-16h1m-10 20h1m-26-14h1m-12-18h1m-5 13h1m-1-14h1m-4 32h1m-4-10h1m-12-5h1m-8-4h1m-5 23h1m-2-36h1m-2 30h1m-18-9h1m-7-12h1m-7-11h1m-6 6h1m-4-7h1m-5 31h1m-6-13h1m-5 6h1m-5 2h1m-28-10h1m-7-14h1m-8 15h1m-19-14h1m-15 9h1m-1 27h1m-10-9h1m-18 6h1m-1-32h1m-13 31h1m-6-15h1m-5-8h1m-1 23h1m-10-11h1m-6-18h1m-6 18h1m-2-14h1m-12-9h1m-2 1h1m-12 9h1m-11 16h1m-2-11h1m-3 7h1m-13-16h1m-1-2h1m-9-3h1m-15 3h1m-1 6h1m-2-3h1m-10 9h1m-10-8h1m-4 21h1m-3-5h1m-5 0h1m-3-2h1m-5 10h1m-6-32h1m-3-1h1m-9 2h1m-9 22h1m-1-20h1m-17 4h1m-2 18h1m-8-13h1m-2 7h1m-6 8h1m-7-20h1m-6 29h1m-4-11h1m-4 11h1m-19-8h1m-16-12h1m-6-14h1m-1 10h1m-9 9h1m-4-5h1m-13 18h1m-4-29h1m-8 6h1m-10-5h1m-13 4h1m-3-7h1m43 40h1m10 29h1m1 5h1m3-7h1m14 6h1m4-16h1m-1 18h1m6-35h1m4 10h1m0 20h1m9-24h1m-1 14h1m2 10h1m4-3h1m12 3h1m3-19h1m0 15h1m1-24h1m8 11h1m0 21h1m2-29h1m0 23h1m0-9h1m2 15h1m3-8h1m0 9h1m2-32h1m3 22h1m2 9h1m5-18h1m-1-12h1m-1-7h1m1 30h1m4-7h1m3 14h1m7-1h1m2-9h1m10-26h1m5 0h1m7 14h1m0 13h1m2-10h1m2-13h1m14 21h1m3-17h1m3 0h1m18 9h1m14 14h1m9-32h1m2 23h1m5-2h1m4-18h1m1 26h1m1-27h1m2 36h1m8-6h1m3-15h1m0-12h1m17 31h1m3-11h1m11 4h1m23-18h1m0 2h1m14 1h1m8 13h1m6-19h1m10-8h1m14 1h1m16 36h1m-1 0h1m1-20h1m6 2h1m3-4h1m12 1h1m12-8h1m25 28h1m7-4h1m16-18h1m25 24h1m12-13h1m32-6h1m48 6h1m4 13h1m1-38h1m8 6h1m11 27h1m4-9h1m4-24h1m0 29h1m2-28h1m7 33h1m51-23h1m8-10h1m20 27h1m3-20h1m0 6h1m3 18h1m9-17h1m4 5h1m68 14h1m7-33h1m21 29h1m-122 19h1m-44-1h1m-6 8h1m-8 4h1m-2-3h1m-12-10h1m-42 18h1m-9 13h1m-23-31h1m-22 29h1m-2-2h1m-1-22h1m-3 10h1m-8 15h1m-3-6h1m-9 7h1m-4-7h1m-2-19h1m-7 7h1m-11-12h1m-1-6h1m-17 5h1m-3-3h1m-7 7h1m-13 5h1m-5 4h1m-35-1h1m-4 6h1m-7 14h1m-12-31h1m-10 12h1m-8-12h1m-11 13h1m-34-19h1m-5 29h1m-11-9h1m-11-14h1m-8 19h1m-55-8h1m-15-15h1m-11 30h1m-5-4h1m-7-9h1m-3-17h1m-12 27h1m-15-14h1m-11-2h1m-11 24h1m-1-9h1m-15-29h1m-16 27h1m-3-16h1m-10-10h1m-40 28h1m-4-10h1m-7-8h1m-2 19h1m-15-27h1m-17 15h1m-5 5h1m-8 7h1m-2-21h1m-21 18h1m-6-9h1m-5-8h1m-9-4h1m-1 13h1m-6 10h1m-2-18h1m-16 24h1m-5-31h1m-2-2h1m-22 22h1m-18-4h1m55 42h1m0-21h1m0 33h1m4-27h1m3 29h1m2-27h1m14-4h1m1 5h1m3 28h1m14-5h1m1 3h1m3-2h1m5-29h1m12 17h1m4-7h1m8 5h1m20-7h1m10 23h1m13-20h1m1 8h1m3-8h1m17 11h1m19 10h1m0-25h1m0 18h1m18-18h1m2 4h1m7 11h1m-1-8h1m9-1h1m3 10h1m2-2h1m-1 4h1m11-5h1m0-9h1m8-2h1m18 9h1m15-12h1m11 3h1m1 14h1m1-1h1m11-20h1m3 11h1m1 11h1m5-15h1m10 13h1m4-21h1m2 10h1m1 3h1m-1-15h1m0 23h1m0 6h1m14-10h1m4 3h1m1 9h1m2-5h1m9-13h1m7-12h1m5 24h1m11-12h1m15 20h1m8-7h1m5-19h1m18 16h1m1 7h1m24-6h1m7-12h1m0 3h1m0-14h1m2 9h1m7 14h1m4-3h1m10-13h1m3 7h1m8-16h1m11 32h1m11-35h1m5 28h1m53-19h1m-45 30h1m-34 8h1m-10-3h1m-12 17h1m-11-7h1m-5-8h1m-3 21h1m-5-26h1m-1-2h1m-9 21h1m-18 6h1m-4-13h1m-13 12h1m-12 11h1m-13-5h1m-1-21h1m-2 10h1m-2-11h1m-4 4h1m-2 12h1m-6-12h1m-15-9h1m-2 12h1m-4 19h1m-1-7h1m-7-18h1m-3 20h1m-6-1h1m-1-16h1m-2 18h1m-2-5h1m-8-9h1m-6-7h1m-8-3h1m-2 14h1m-2 0h1m-1-4h1m-10-12h1m-5 21h1m-2-12h1m-5-6h1m-3 24h1m-8-31h1m-7 28h1m-10-12h1m-21-9h1m-2 2h1m-2 27h1m-11-6h1m-7-7h1m-5 10h1m-2-28h1m-6 13h1m-3 9h1m-6 9h1m-5-10h1m-6-12h1m-3 5h1m-3 0h1m-27-21h1m-2 20h1m-14-10h1m-13 29h1m-2-20h1m-5 17h1m-8-7h1m-3-28h1m-6 37h1m-2-10h1m-4 7h1m-2-30h1m-3 5h1m-3 8h1m-6 10h1m-5 4h1m-3-14h1m-28-4h1m-9 17h1m-17 7h1m-7-5h1m-9-21h1m-3-2h1m-2 14h1m-7 13h1m-7-19h1m-3-1h1m-7-17h1m-15 35h1m-17-28h1m-3 28h1m-23-35h1m-20 17h1m-170 53h1m187-14h1m14 15h1m1-20h1m1 24h1m9-18h1m5 21h1m0-27h1m0-10h1m-1 24h1m0-3h1m8 16h1m20-38h1m3 20h1m3 1h1m14-17h1m1 19h1m4-16h1m7 10h1m8 11h1m19-18h1m6 27h1m14-30h1m1 3h1m6 6h1m9 13h1m12-11h1m-1-2h1m2-9h1m20 12h1m17 5h1m11-19h1m0 18h1m26-11h1m3 9h1m12 4h1m7 10h1m0-5h1m3-25h1m7 9h1m12-14h1m13 15h1m11-1h1m19-2h1m8 17h1m19-8h1m0 1h1m22 7h1m14-10h1m-63 21h1m-36 26h1m-6 11h1m-13-20h1m-5 1h1m-13-10h1m-15-1h1m-18-6h1m-1 21h1m-13-13h1m-5 19h1m-13-10h1m-9 13h1m-5-2h1m-4-1h1m-5-26h1m-10 2h1m-1 28h1m-3-20h1m-15 7h1m-2 4h1m-3 2h1m-10-23h1m-1 30h1m-4-6h1m-19-10h1m-24-2h1m-11 21h1m-2-19h1m-12 6h1m-9-7h1m-9-9h1m-3 15h1m-4 15h1m-2-7h1m-1-10h1m-17-1h1m-3 12h1m-4 6h1m-2 2h1m-2-28h1m-2 10h1m-7 17h1m-4-20h1m-8 12h1m-16 3h1m-6-31h1m-6 12h1m-177 7h1m-21 30h1m69 0h1m136 13h1m3-15h1m3-5h1m6 16h1m2 6h1m1 8h1m-1-8h1m8-13h1m2 0h1m0-2h1m10 24h1m0-2h1m0-26h1m0 25h1m18-7h1m0-18h1m10 21h1m0 12h1m17-21h1m0 21h1m1-18h1m6 2h1m13-8h1m7 4h1m0 15h1m0-3h1m9 5h1m6-6h1m2-2h1m7-12h1m8 8h1m5-6h1m25 15h1m2-2h1m5-24h1m0 16h1m11 14h1m0-18h1m2 6h1m2-4h1m6-9h1m0-7h1m8 0h1m4-1h1m3 6h1m-57 45h1m-5-15h1m-21 4h1m-1 10h1m-11 2h1m-5-10h1m-7 1h1m-4 8h1m-2 11h1m-9-18h1m-2 18h1m-8 0h1m-13-18h1m-5-6h1m-13 15h1m-11 0h1m-48 10h1m-11-22h1m-4 14h1m-2-18h1m-2 18h1m-19-19h1m-6 11h1m-9 16h1m8 23h1m28 19h1m7-20h1m1 5h1m2-5h1m-1 18h1m11-20h1m28 6h1m6-11h1m7 7h1m-39 41h1m-20-6h1"/>
<path stroke="#2ca02c" d="M2290 3756h1m-295 258h1m356 47h1m-34 9h1m-6 8h1m-18-3h1m-99 25h1m19 18h1m9-28h1m0 2h1m5 7h1m0 11h1m4 9h1m0-1h1m13-33h1m0 4h1m1 18h1m0 3h1m23-25h1m2 20h1m6-2h1m3 12h1m1 4h1m10-4h1m5-18h1m1 2h1m4 17h1m6-36h1m-1 23h1m1-16h1m2 11h1m51 13h1m11 8h1m7-23h1m31 18h1m107 26h1m-52 12h1m-44-5h1m-31-10h1m-3 5h1m-1-3h1m-4 3h1m-16 6h1m-8-12h1m-16-1h1m-1-1h1m-24 13h1m-3-9h1m-16 6h1m-8 0h1m-2-15h1m-10 18h1m-8 1h1m-2 8h1m-1-7h1m-8 8h1m-8-20h1m-3-11h1m-7 15h1m-2 15h1m-2-28h1m-4 2h1m-2 16h1m-3-7h1m-2-15h1m-8 3h1m-2 21h1m-5 7h1m-7-8h1m-1-7h1m-5 7h1m-10-26h1m-3 37h1m-18-14h1m-10 15h1m-6 0h1m-7-30h1m-9 21h1m-14-6h1m-12-3h1m-105 39h1m59 16h1m0-5h1m23-12h1m2-9h1m2 17h1m3-7h1m0-20h1m1 14h1m4 2h1m22-15h1m1 10h1m7 26h1m0-31h1m6 18h1m0 6h1m0-15h1m6 13h1m6-14h1m3-4h1m-1-10h1m8 2h1m4 12h1m0 13h1m10 9h1m8-21h1m2 15h1m1-8h1m4-1h1m6-16h1m3 17h1m0-21h1m1 36h1m7-21h1m10 9h1m17-22h1m1 14h1m31-6h1m0-10h1m0 4h1m18 30h1m42-22h1m1-4h1m10 15h1m11 0h1m8-12h1m0-10h1m7 21h1m12 14h1m2-29h1m3 15h1m1-14h1m2 10h1m1 4h1m5 5h1m3-4h1m3 15h1m6-38h1m0 24h1m5-5h1m8-20h1m3 18h1m0 10h1m-1 10h1m17-19h1m6 19h1m0-1h1m0-14h1m-1-17h1m1 4h1m-1 28h1m1-2h1m16-36h1m1 19h1m7 16h1m2-16h1m14-7h1m10 27h1m20-6h1m3 1h1m5-19h1m3 21h1m-1 3h1m5-22h1m27 7h1m1 7h1m26 2h1m9 2h1m143 43h1m-37-3h1m-7-9h1m-3 1h1m-5 11h1m-8-2h1m-5-8h1m-13 2h1m-1 8h1m-14-12h1m-16 12h1m-6-10h1m-5-18h1m-5 2h1m-6-8h1m-2 6h1m-22 3h1m-14 6h1m-19 13h1m-12-26h1m-2 14h1m-8 11h1m-26-27h1m-12 32h1m-14-8h1m-12-15h1m-7 5h1m-6 6h1m-13 7h1m-7-28h1m-8 29h1m-6-24h1m-17 1h1m-5 3h1m-10 13h1m-10-18h1m-7 14h1m-4-13h1m-4 6h1m-23 24h1m-21 0h1m-8-2h1m-10-6h1m-21-29h1m-5 28h1m-6-11h1m-2-5h1m-19-9h1m-5 29h1m-8-13h1m-10-6h1m-1 1h1m-4 5h1m-6-13h1m-5 8h1m-16-6h1m-2 1h1m-17 10h1m-17-9h1m-3 27h1m-6-33h1m-2 9h1m-19 6h1m-2-14h1m-5-6h1m-7 6h1m-5 3h1m-7 19h1m-16-26h1m-4 18h1m-9 0h1m-9-11h1m-2-7h1m-3 14h1m-14-6h1m-2-9h1m-3 21h1m-6-17h1m-14 24h1m-5-29h1m-3 34h1m-6-26h1m-3 1h1m-7-8h1m-12 34h1m-27-28h1m-9-1h1m-5 22h1m-19-5h1m-2-15h1m-2 14h1m-4 7h1m-3 8h1m-1-12h1m-5-5h1m-7 9h1m-5 4h1m-9-28h1m-4 6h1m-8 21h1m-5-32h1m-9 27h1m-9-8h1m-3 11h1m-7-24h1m-4 28h1m-6-17h1m-4 2h1m-6 20h1m-3-24h1m-10 5h1m-2 10h1m-56 7h1m-32-37h1m-121 50h1m45 22h1m56-29h1m6 27h1m0-2h1m-1-9h1m-1-6h1m5-6h1m5 14h1m8-17h1m0 17h1m15-1h1m7-3h1m5 20h1m4-9h1m3-11h1m20-1h1m12-7h1m4-9h1m22 8h1m2 18h1m0-7h1m2 5h1m-1-9h1m11 1h1m2 19h1m0-25h1m7 23h1m13 5h1m6-5h1m9-18h1m2-2h1m14 0h1m5-9h1m0 18h1m5 6h1m18 0h1m13-16h1m1 22h1m10-3h1m4-12h1m-1 18h1m23-29h1m9 15h1m6-10h1m0 2h1m2 9h1m0-11h1m1 8h1m6-11h1m1 1h1m8 14h1m9 13h1m8-26h1m-1 8h1m-1-19h1m6 27h1m4-14h1m2-13h1m2 5h1m2 23h1m0 8h1m1-31h1m11 26h1m4-18h1m2 19h1m-1-1h1m4-19h1m1-2h1m8 6h1m1 17h1m26-1h1m1-25h1m1 2h1m2 4h1m4 3h1m6 20h1m8-17h1m-1-20h1m7 35h1m6-3h1m5-13h1m16 9h1m1-19h1m17 29h1m-1-12h1m2-4h1m3 3h1m4 3h1m2 0h1m7 11h1m1-19h1m2-13h1m3 29h1m3-20h1m0-14h1m10 8h1m5 28h1m-1-33h1m8 34h1m0-15h1m-1-16h1m-1-5h1m4 9h1m4 24h1m5-30h1m1 16h1m9 16h1m-1-20h1m1 1h1m2-3h1m22-10h1m11 4h1m11 19h1m-1-3h1m4-20h1m17 8h1m-1-12h1m13 5h1m13 10h1m-1 14h1m5-20h1m0 22h1m3 4h1m7-31h1m14 32h1m28-36h1m-1 6h1m8 28h1m1-20h1m3-12h1m13-1h1m1 31h1m-1-20h1m1-12h1m14 19h1m12 9h1m6-26h1m-1 5h1m1-2h1m1 18h1m-1 12h1m0-27h1m2-3h1m1 28h1m1 3h1m1-26h1m4-7h1m0 24h1m9 0h1m-1-1h1m1-3h1m-1 14h1m4-16h1m-1 7h1m3 7h1m24-24h1m17 2h1m3 26h1m-21 38h1m-7-1h1m-6-8h1m-7-9h1m-9 0h1m-1 3h1m-1-12h1m-3 0h1m-4 27h1m-9-3h1m-3-11h1m-1-15h1m-9 27h1m-1-14h1m-6 11h1m-6-3h1m-11-31h1m-2 36h1m-2-14h1m-2 13h1m-2 4h1m-10-28h1m-5-6h1m-1 13h1m-6-4h1m-18 7h1m-20-9h1m-26 27h1m-9-7h1m-2-10h1m-5-22h1m-6 26h1m-3 12h1m-4-6h1m-7 5h1m-13-12h1m-5-18h1m-5 27h1m-1-16h1m-7 13h1m-20-29h1m-5 28h1m-3-6h1m-3-15h1m-9 18h1m-17 8h1m-30-6h1m-1 3h1m-8-27h1m-4 9h1m-5 17h1m-8-7h1m-4 5h1m-2-28h1m-6 24h1m-4-25h1m-5 35h1m-10-26h1m-6 2h1m-4 7h1m-1 5h1m-5-19h1m-3 16h1m-11-18h1m-11 14h1m-7-14h1m-7-2h1m-8 31h1m-18-13h1m-14 21h1m-2-19h1m-4 17h1m-14-6h1m-4 8h1m-7-14h1m-6 12h1m-1-5h1m-13-19h1m-1 6h1m-4 2h1m-1-13h1m-34-6h1m-9 15h1m-6 17h1m-3-27h1m-19 4h1m-12 24h1m-8-35h1m-7 23h1m-3 3h1m-12 0h1m-14-14h1m-6 7h1m-3 11h1m-4-15h1m-7 5h1m-3 15h1m-9-14h1m-11-7h1m-2-7h1m-3 14h1m-1-21h1m-3 1h1m-2 35h1m-3-14h1m-6 4h1m-9 8h1m-7-11h1m-1-19h1m-4 26h1m-11-23h1m-13 20h1m-3-23h1m-4 1h1m-10 5h1m-9 1h1m-1 11h1m-6 12h1m-2 5h1m-17-38h1m-2 30h1m-7-20h1m-9 28h1m-4-1h1m-5-29h1m-17-4h1m-2 17h1m-7-4h1m-4 13h1m-6 2h1m-4-26h1m-1 21h1m-5-2h1m-22-1h1m-1 8h1m-17-11h1m-3-8h1m-2 6h1m-11-13h1m-3 19h1m-16 13h1m-6-31h1m-3 13h1m-5-11h1m-11 22h1m-8-9h1m-4-7h1m-3 11h1m-10-1h1m-8-19h1m-4 21h1m-7-16h1m-4 6h1m-15 1h1m-2 17h1m-6-25h1m-17 12h1m-2 10h1m-26-22h1m-2 9h1m-2-7h1m-10 2h1m-3 5h1m-9 15h1m-1-12h1m-4 16h1m-3-7h1m-2 5h1m-3-22h1m-5 2h1m-12-13h1m-28 17h1m-29-2h1m-6 14h1m-2 3h1m-20-2h1m-20-34h1m-121 50h1m118 11h1m1 1h1m0-6h1m7 11h1m1-10h1m6-11h1m4-6h1m2 34h1m-1-7h1m0 1h1m14 4h1m4-16h1m2-14h1m2 20h1m-1-13h1m2-1h1m2 2h1m6 4h1m3 0h1m16 2h1m0 21h1m5-24h1m2-1h1m5-4h1m1-7h1m2 2h1m4 10h1m4 2h1m-1-4h1m5-2h1m-1 13h1m8 12h1m7-16h1m2-1h1m5 13h1m7 3h1m5-22h1m3 0h1m0 27h1m2-35h1m2 13h1m5-14h1m0 6h1m1 2h1m3 11h1m5-3h1m-1-14h1m8 30h1m4 1h1m10-19h1m13-13h1m0 1h1m22 2h1m0 1h1m11 6h1m2 16h1m11-26h1m4 24h1m13-7h1m8 1h1m2 16h1m0-24h1m1-8h1m19 33h1m18 0h1m0-4h1m5-15h1m2-17h1m2 28h1m4-18h1m0 19h1m3 5h1m3-22h1m2 10h1m0-7h1m0 1h1m1-9h1m1-9h1m3 38h1m1-4h1m-1 4h1m2-13h1m1-20h1m1 1h1m0 16h1m17 4h1m10 7h1m-1 3h1m14-10h1m-1 11h1m5-35h1m11-1h1m1 29h1m3-27h1m4 30h1m18 1h1m1-21h1m4 9h1m4 6h1m10 2h1m10-11h1m12 17h1m6 0h1m5-17h1m5-4h1m0-3h1m10-4h1m4 26h1m12-8h1m5-1h1m1-7h1m6 20h1m9-13h1m4 3h1m4 2h1m0 1h1m5 5h1m3-8h1m24 2h1m11-16h1m6 11h1m13-21h1m6 2h1m19-4h1m0 1h1m4 15h1m6-9h1m1 18h1m1-10h1m3-6h1m-1 11h1m1-15h1m7 31h1m0 1h1m9-12h1m-1 8h1m4 1h1m3-35h1m2 24h1m7-19h1m0 19h1m4 1h1m3-7h1m6 19h1m0-34h1m2 5h1m2-1h1m6 4h1m0 4h1m12-4h1m1 15h1m5-23h1m2-3h1m1 29h1m7-27h1m5 34h1m10-12h1m2-2h1m17 13h1m6-13h1m0-23h1m4 1h1m6 33h1m6-7h1m8 5h1m14-21h1m16 18h1m0-12h1m3 2h1m9-6h1m-1-4h1m2 30h1m8-31h1m10 15h1m1 6h1m0-1h1m16-10h1m18 1h1m-1-11h1m4 3h1m14 2h1m1 9h1m10-5h1m3 17h1m8-34h1m3 20h1m18-7h1m-17 37h1m-14 22h1m-6-29h1m-3 36h1m-30-15h1m-6 6h1m-6-27h1m-10 18h1m-6-8h1m-6 3h1m-15 18h1m-3-15h1m-22 0h1m-12 7h1m-12-26h1m-7 9h1m-19-3h1m-6 12h1m-11 20h1m-6 1h1m-3-22h1m-8 1h1m-6-3h1m-3 19h1m-2 1h1m-17 1h1m-2-10h1m-4-6h1m-3-8h1m-1 9h1m-4-6h1m-7-1h1m-6 21h1m-31-34h1m-10 34h1m-5-8h1m-6-6h1m-6 3h1m-6 12h1m-2-17h1m-13 13h1m-4-23h1m-3 9h1m-9 10h1m-5-13h1m-3 13h1m-3-26h1m-4 15h1m-16-12h1m-2-4h1m-7 22h1m-14-12h1m-2-9h1m-14 9h1m-7-1h1m-2 23h1m-9-26h1m-4 21h1m-9-24h1m-1 35h1m-2-31h1m-17-8h1m-3 12h1m-2 23h1m-15-5h1m-5 5h1m-5-30h1m-3 27h1m-7-32h1m-4 32h1m-17 7h1m-10-19h1m-7 9h1m-4-9h1m-3-10h1m-4 5h1m-4 7h1m-16-1h1m-6-21h1m-1 28h1m-1-19h1m-4 0h1m-11 7h1m-1 20h1m-12-17h1m-9 4h1m-2 8h1m-19 7h1m-5-2h1m-2-20h1m-4 4h1m-3-7h1m-2-7h1m-8 4h1m-3 18h1m-5-17h1m-2-5h1m-3 18h1m-12-4h1m-15-11h1m-3 23h1m-11-21h1m-2 24h1m-2 4h1m-2 0h1m-1-29h1m-12 16h1m-1 1h1m-2 4h1m-2-29h1m-18 31h1m-4-21h1m-6 18h1m-1 8h1m-24-8h1m-21-17h1m-9 15h1m-1-18h1m-8-3h1m-4-3h1m-24 25h1m-2-22h1m-4-5h1m-3 19h1m-2-17h1m-3 15h1m-11 11h1m-11 5h1m-2-21h1m-7-4h1m-9 15h1m-30-21h1m-8 11h1m-18-1h1m-2 8h1m-3-10h1m-8-9h1m-9 36h1m-22-22h1m-5 18h1m-3 2h1m-9-23h1m-2 17h1m-5 4h1m-3-7h1m-5 11h1m-1-5h1m-3-18h1m-14-2h1m-3 12h1m-13-1h1m-20-5h1m-4-14h1m-2 24h1m-4-4h1m-6 13h1m-2-37h1m-5 5h1m-9 19h1m-2-17h1m-4 1h1m-21 3h1m-6 3h1m-3 14h1m-2 8h1m-2-7h1m-7-22h1m-2 18h1m-8-10h1m-6-2h1m-24 2h1m-3-17h1m-2 1h1m-5 29h1m-2 3h1m-11-32h1m-12 6h1m-4 9h1m-13 0h1m-16-15h1m-16-1h1m-131 70h1m59 0h1m60-8h1m26 9h1m17-1h1m5 9h1m1-23h1m0-8h1m15-2h1m6 0h1m2 12h1m10 7h1m4-23h1m4 37h1m1-27h1m9 26h1m10-14h1m10-19h1m9 24h1m4-19h1m-1-7h1m4 18h1m12 9h1m14-11h1m13 14h1m-1-30h1m2 9h1m-1 0h1m16-9h1m3 9h1m2 22h1m1-1h1m6-30h1m23 18h1m18 3h1m4 0h1m1-4h1m0-18h1m3 27h1m11 2h1m15-20h1m3 22h1m11-29h1m-1 2h1m4-1h1m15 0h1m1 10h1m2 23h1m24-1h1m13-9h1m7-6h1m10 1h1m9 7h1m0-14h1m5-16h1m15 26h1m12 1h1m18 7h1m14-8h1m3-22h1m4 26h1m6-27h1m5 31h1m8-18h1m11-3h1m17 9h1m1-15h1m2 31h1m0-1h1m3-29h1m9 2h1m0 22h1m4-3h1m-1 6h1m1-12h1m-1-20h1m0 35h1m-1-14h1m0-1h1m4 3h1m10 13h1m5-39h1m3 18h1m8 5h1m3-11h1m9 16h1m11 2h1m0-26h1m16 5h1m-1-5h1m6 31h1m3-29h1m2 23h1m1 9h1m7 1h1m0-33h1m8 25h1m5 7h1m2-2h1m9-9h1m1-17h1m1-8h1m14 13h1m5 7h1m14 3h1m20 0h1m3 12h1m6-32h1m5 33h1m3-32h1m5 33h1m15-19h1m-1 0h1m8 9h1m8-5h1m-1 2h1m-1 7h1m7-26h1m1 28h1m2-26h1m-1 15h1m8 14h1m30-18h1m8-2h1m7 16h1m8-15h1m7 19h1m5-3h1m0-12h1m1-2h1m-1 11h1m3 0h1m5-5h1m1-3h1m1 0h1m3-11h1m-1 24h1m3-32h1m-1-5h1m7 0h1m6 16h1m4-16h1m13 35h1m0-34h1m11 14h1m8 16h1m1-11h1m10 19h1m0-5h1m9-14h1m-1-15h1m2 17h1m1 13h1m18-32h1m3 26h1m11-29h1m10 22h1m2-1h1m2-16h1m-1 22h1m0-3h1m4 9h1m5-9h1m1 12h1m1-22h1m39 40h1m-20 5h1m-5 5h1m-1-4h1m-3-15h1m-10 6h1m-13 18h1m-11-23h1m-2 12h1m-7 6h1m-4 7h1m-17-25h1m-7 15h1m-13-10h1m-7 17h1m-4-13h1m-5-2h1m-1 5h1m-1 6h1m-3-23h1m-2 21h1m-14 2h1m-9-4h1m-5 13h1m-7-11h1m-7 6h1m-8-3h1m-3-10h1m-8-10h1m-3 30h1m-1 0h1m-3 0h1m-7-3h1m-5-8h1m-4-12h1m-5 8h1m-10-7h1m-16 9h1m-4-4h1m-10 4h1m-4 0h1m-15-1h1m-11 12h1m-5-10h1m-14 8h1m-7-21h1m-7 20h1m-17-25h1m-8 21h1m-5 8h1m-11-6h1m-8 5h1m-7 0h1m-4 6h1m-1-24h1m-3-2h1m-3 26h1m-2-10h1m-6-4h1m-12 6h1m-5-22h1m-6 2h1m-3 3h1m-2 13h1m-9-8h1m-15 5h1m-1 6h1m-20-20h1m-31 23h1m-1-14h1m-19-2h1m-9 22h1m-1-24h1m-12 16h1m-3 1h1m-8-10h1m-33 12h1m-5-17h1m-2 21h1m-10-38h1m-22 23h1m-5-3h1m-14 18h1m-2-27h1m-4 2h1m-7-7h1m-5 1h1m-1 26h1m-6 3h1m-5-12h1m-7 15h1m-4-29h1m-5 24h1m-3 4h1m-4-24h1m-1 5h1m-31 6h1m-5 3h1m-2-23h1m-5 30h1m-4-27h1m-2 12h1m-14 14h1m-5-8h1m-8-13h1m-9 7h1m-5-6h1m-12 9h1m-6-11h1m-1 25h1m-7-33h1m-10 7h1m-2 6h1m-6-6h1m-8 9h1m-4 9h1m-3-27h1m-19 11h1m-18 8h1m-3-7h1m-15 22h1m-3-30h1m-6 13h1m-17 12h1m-8-17h1m-3-3h1m-8 7h1m-7-6h1m-3 1h1m-4 12h1m-5-20h1m-32-5h1m-2 34h1m-3-10h1m-3-20h1m-5 13h1m-2-10h1m-13 27h1m-2-33h1m-6 38h1m-12-14h1m-14 8h1m-4-17h1m-1-6h1m-11-5h1m-3 14h1m-6-8h1m-5-1h1m-6 15h1m-3-16h1m-3-3h1m-20 8h1m-1 10h1m-2 6h1m-2-18h1m-23 17h1m-5-15h1m-1 16h1m-4-14h1m-2 9h1m-4 0h1m-19 11h1m-4-9h1m-5-19h1m-2 28h1m-3-1h1m-4-10h1m-5-10h1m-2-12h1m-7 35h1m-13-32h1m-14 23h1m-8-13h1m-4 5h1m-1 14h1m-2 3h1m-2-10h1m-6-14h1m-6 19h1m-34-9h1m-3-6h1m-3 3h1m-15-21h1m-191 40h1m166 5h1m12 4h1m13 0h1m13-4h1m6 31h1m13-8h1m1 9h1m14-26h1m0 27h1m1-6h1m6-30h1m11 15h1m2 19h1m5-24h1m2-11h1m2-1h1m4 21h1m17-12h1m0 12h1m6 18h1m11-18h1m0 1h1m0 9h1m7-23h1m2-7h1m8 3h1m4 34h1m16-10h1m0 3h1m1-14h1m7 0h1m-1 18h1m5-18h1m1 11h1m2-3h1m17 1h1m2 8h1m13-33h1m1 16h1m0 17h1m4-11h1m0-10h1m34 6h1m7-19h1m10 39h1m8-11h1m1-21h1m3-7h1m0 37h1m8-11h1m5-23h1m4 6h1m0 21h1m1 6h1m19-7h1m4-15h1m30 4h1m0 6h1m6-6h1m2 16h1m0-5h1m1-2h1m0-18h1m1 10h1m1 7h1m11-4h1m4 1h1m3-7h1m20-7h1m3-7h1m9 4h1m0 11h1m10-3h1m1-13h1m1 20h1m2-17h1m1 13h1m4 15h1m9-9h1m9 12h1m7-31h1m7-2h1m21 4h1m6-2h1m7 16h1m0-12h1m3 4h1m1 25h1m0-3h1m7-11h1m22-9h1m6-13h1m18 6h1m-1 1h1m3 30h1m7-3h1m0-4h1m27 4h1m8-11h1m0-4h1m1 18h1m2-7h1m6 7h1m0-17h1m1-1h1m3-11h1m1 13h1m1 5h1m3-4h1m13 4h1m12 10h1m2-1h1m1-7h1m0-20h1m2 18h1m0 3h1m4-3h1m6 5h1m0-10h1m9-17h1m9 9h1m24-13h1m2 14h1m23 1h1m2-15h1m1 14h1m-1-9h1m0 4h1m6 13h1m6-5h1m2-1h1m5 1h1m8-11h1m3 6h1m29 16h1m6-8h1m16 1h1m-1-1h1m11 8h1m4-27h1m5 9h1m5-2h1m4 26h1m3-24h1m-1 10h1m1 15h1m6-19h1m1 7h1m-1-15h1m3 26h1m1-26h1m0-7h1m7 7h1m7 3h1m2 26h1m0 0h1m9-28h1m4-4h1m2-3h1m3 0h1m6 13h1m0 21h1m16-16h1m0-1h1m2-5h1m9 10h1m0-2h1m6-12h1m8-1h1m0 23h1m3-12h1m1-5h1m4 2h1m2-4h1m1-6h1m3-2h1m5 14h1m15-10h1m2 15h1m22-4h1m12-6h1m1 17h1m0-25h1m6 30h1m-1 31h1m-18-10h1m-15 3h1m-10 0h1m-5 14h1m-10-15h1m-3 7h1m-1 0h1m-25-9h1m-7 9h1m-9-7h1m-3 8h1m-13-21h1m-5 20h1m-11 1h1m-17 5h1m-1-28h1m-2-3h1m-2 21h1m-11-8h1m-3 8h1m-6 11h1m-15-19h1m-24-4h1m-13 5h1m-5 5h1m-10-11h1m-4-7h1m-6 36h1m-11-4h1m-12-7h1m-7-3h1m-3 14h1m-5-29h1m-2 27h1m-6-3h1m-3-6h1m-4-13h1m-7-15h1m-29 18h1m-41 15h1m-9-8h1m-4-15h1m-4 5h1m-2 6h1m-1-8h1m-5 26h1m-6-20h1m-5-14h1m-7 23h1m-15 1h1m-18 8h1m-15-11h1m-3 3h1m-3-5h1m-3 8h1m-9-12h1m-7 5h1m-6-17h1m-12 24h1m-5-28h1m-7 22h1m-1-25h1m-13 6h1m-5 32h1m-6-31h1m-4 28h1m-9-24h1m-4-10h1m-5 36h1m-2-31h1m-5 5h1m-3 3h1m-11 13h1m-24-7h1m-4-11h1m-10 18h1m-4 0h1m-2-25h1m-10 1h1m-18 11h1m-5 22h1m-10-10h1m-4 3h1m-4 1h1m-3-8h1m-4-9h1m-3 11h1m-7 5h1m-6-30h1m-10 33h1m-4-8h1m-3-18h1m-28-1h1m-6 16h1m-9 0h1m-12-8h1m-8-10h1m-6 31h1m-28-10h1m-7 6h1m-4-26h1m-17 1h1m-2 31h1m-2-11h1m-3 6h1m-9-32h1m-13 34h1m-6 0h1m-5 2h1m-11-32h1m-9-1h1m-13 0h1m-11 34h1m-1-22h1m-12 12h1m-3 0h1m-2 8h1m-6-31h1m-4 29h1m-35-10h1m-12-19h1m-10 31h1m-26-23h1m-1 15h1m-8 9h1m-2-9h1m-31-22h1m-7 28h1m-2-29h1m-6 0h1m-3 34h1m-7-15h1m-1 16h1m-9-18h1m-8 16h1m-2-16h1m-2-17h1m-7 1h1m-4-3h1m-5 33h1m-6-5h1m-2-4h1m-14 0h1m-17-1h1m-6-25h1m-5 19h1m-3-12h1m-3 18h1m-9-2h1m-5-1h1m-8-10h1m-2-3h1m-6 22h1m-5-25h1m-5 4h1m-5 25h1m-7-32h1m-5 16h1m-63-15h1m-2 15h1m-3 7h1m-3 13h1m-6-13h1m-2 10h1m-4-31h1m-9 15h1m-1 13h1m-2-4h1m-2 9h1m-5-13h1m-4 4h1m-2 9h1m-17-9h1m-1 1h1m-34-24h1m20 48h1m6 2h1m3-15h1m11-1h1m27 9h1m0 13h1m10-5h1m3-11h1m3 22h1m3-14h1m0-9h1m0 31h1m4-19h1m2-16h1m3 5h1m2 27h1m0-5h1m3 3h1m-1-17h1m9 16h1m15 2h1m10-16h1m-1-2h1m8 15h1m5-13h1m3 9h1m10 14h1m4-4h1m1-29h1m4 13h1m2 16h1m5-3h1m5-24h1m16 1h1m9 1h1m5 16h1m-1-11h1m20 14h1m22-8h1m5-15h1m1 4h1m1 24h1m3-22h1m6-4h1m1-8h1m0 7h1m0 26h1m3-8h1m22-5h1m0-7h1m0 3h1m3 4h1m1-1h1m4 8h1m10-13h1m0 5h1m5 12h1m1-24h1m0-4h1m2 36h1m9-22h1m0 11h1m0-10h1m3 3h1m5-11h1m5-9h1m1 26h1m4-25h1m1 9h1m9 14h1m2 12h1m8-10h1m20 0h1m8-13h1m16 20h1m-1 1h1m5-11h1m1 8h1m14-9h1m6-3h1m8 14h1m26 4h1m1-36h1m0 7h1m5 15h1m11 2h1m4-13h1m3 12h1m5-8h1m4 20h1m2-4h1m2-13h1m18 0h1m1 12h1m9-20h1m11 17h1m2-23h1m6 23h1m12 7h1m5-25h1m5 8h1m1 12h1m11 2h1m3-19h1m6 22h1m0-32h1m14 17h1m10 7h1m10-16h1m-1-9h1m3 27h1m4-28h1m4 31h1m4-17h1m23-14h1m3 35h1m5-28h1m4 23h1m-1-5h1m0-8h1m12 11h1m4-19h1m1 5h1m0-9h1m7 12h1m5-11h1m0 17h1m3-1h1m6-7h1m3-10h1m10 19h1m0-20h1m10 3h1m7 20h1m4-10h1m4-2h1m4-7h1m7 28h1m13-26h1m1-5h1m14 30h1m14-3h1m0-21h1m1-8h1m7 9h1m-1 17h1m0-20h1m1 13h1m3-24h1m8 5h1m10 0h1m-1 24h1m12-7h1m2-1h1m5-15h1m0 11h1m11 22h1m36-17h1m0-5h1m-1-10h1m21 20h1m0-10h1m0 2h1m0 15h1m3-15h1m5-8h1m-1 13h1m-1 9h1m4-9h1m9-10h1m9 12h1m7-3h1m1 7h1m0-2h1m2 11h1m17-18h1m13-20h1m4 18h1m18 14h1m11-2h1m6-3h1m2-17h1m-1-5h1m0 6h1m3 18h1m11-13h1m1-6h1m16-10h1m-60 53h1m-7 8h1m-11-11h1m-5 7h1m-4-14h1m-4 6h1m-14 6h1m-13-7h1m-2 1h1m-16-8h1m-8 2h1m-4 12h1m-2 5h1m-7-10h1m-9 13h1m-9 8h1m-1-3h1m-4-23h1m-11 18h1m-15-14h1m-2 3h1m-1 10h1m-8-19h1m-5 11h1m-3-5h1m-4-10h1m-2 12h1m-23 22h1m-2-10h1m-2-2h1m-31 6h1m-6-17h1m-5 21h1m-9-32h1m-5 20h1m-6 7h1m-7-6h1m-13 10h1m-28-31h1m-8 34h1m-4-22h1m-6-3h1m-3 7h1m-5 18h1m-15-21h1m-9 19h1m-3-8h1m-8 15h1m-4-3h1m-1-3h1m-5-22h1m-23-7h1m-4-4h1m-16 22h1m-10 9h1m-11-30h1m-2-1h1m-5 33h1m-13-30h1m-2 25h1m-3-13h1m-8-11h1m-14 18h1m-2-11h1m-8 12h1m-8-19h1m-5 18h1m-9-14h1m-4 4h1m-1 14h1m-2-4h1m-9 3h1m-14-22h1m-3 23h1m-43 10h1m-14-2h1m-17-14h1m-1 10h1m-4-30h1m-4 10h1m-2 25h1m-7-16h1m-3 6h1m-2-5h1m-13 3h1m-2-12h1m-3 20h1m-1-2h1m-3 6h1m-10 0h1m-13-17h1m-7-7h1m-8 20h1m-12-16h1m-2 1h1m-2 11h1m-26-15h1m-6-7h1m-2 3h1m-27 11h1m-2-4h1m-38-11h1m-4 31h1m-28 2h1m-8-30h1m-12 27h1m-10-8h1m-5 0h1m-4 7h1m-3-14h1m-2 5h1m-3 1h1m-8 13h1m-1-31h1m-3 18h1m-2-5h1m-2-9h1m-23 16h1m-5-7h1m-22 0h1m-1-15h1m-13 29h1m-28-1h1m-6 2h1m-3-18h1m-2-9h1m-1 11h1m-2 18h1m-8-24h1m-6 2h1m-2-9h1m-1 15h1m-23 1h1m-1-3h1m-6-3h1m-2 10h1m-7-8h1m-1 14h1m-16-11h1m-22-9h1m-4-11h1m-3 11h1m-2 18h1m-3 2h1m-10 3h1m-5-8h1m-4 5h1m-6 7h1m-32-11h1m-32-15h1m-13 24h1m-1-28h1m-10 18h1m-1-4h1m-8-23h1m-23 15h1m-5-1h1m-9 7h1m-3-14h1m-12 18h1m-3-13h1m-17 13h1m-17 5h1m-2 41h1m13-19h1m24 24h1m1-32h1m2 29h1m2-32h1m16 20h1m4 9h1m1 7h1m0-23h1m28-6h1m2 15h1m4 3h1m0-15h1m20-9h1m2 0h1m36 15h1m7-9h1m1-6h1m17 20h1m1-8h1m0 16h1m0 5h1m11-25h1m4 17h1m1-14h1m9-11h1m-1 24h1m1-6h1m11-17h1m7 26h1m2-24h1m8 3h1m3 28h1m5-21h1m1 13h1m9-1h1m-1-14h1m14-1h1m5-8h1m2 24h1m0-22h1m5 22h1m0-7h1m3-15h1m1 10h1m26 4h1m1-17h1m4-2h1m8 30h1m4-19h1m0 20h1m18-24h1m7 22h1m2 2h1m5 0h1m2-1h1m3 4h1m4-19h1m2 7h1m6-4h1m10 10h1m9-29h1m9 33h1m7-10h1m0-1h1m1-12h1m0 23h1m6-16h1m5-8h1m-1 26h1m4-3h1m1 0h1m0-24h1m9 13h1m9-12h1m6 22h1m5-30h1m3 32h1m8-33h1m1 35h1m0 4h1m11-36h1m11 10h1m3 24h1m9-7h1m16 8h1m8-22h1m4 6h1m5-10h1m24 15h1m1-3h1m1-16h1m7 28h1m4-28h1m33-3h1m4 16h1m1-1h1m0 19h1m1-27h1m9 16h1m0 1h1m-1-28h1m6 6h1m10-6h1m3 3h1m11 27h1m36-22h1m4-1h1m9-8h1m2 39h1m2-12h1m2-17h1m12 19h1m6-19h1m5 27h1m20-18h1m1-12h1m10-1h1m30 0h1m2 13h1m5 13h1m3 2h1m10 3h1m5-27h1m3 25h1m2-14h1m8-12h1m4 8h1m0-17h1m11 21h1m3 16h1m3-11h1m9 9h1m1-5h1m13-4h1m10-13h1m1 25h1m1 0h1m8-13h1m6 11h1m4-4h1m21-23h1m6 17h1m6-6h1m0 5h1m-1-17h1m13 18h1m6-22h1m11 2h1m1 6h1m0 8h1m26-17h1m-102 47h1m-17 23h1m-6-3h1m-7-25h1m-4 10h1m-2-6h1m-8-3h1m-14 8h1m-6 17h1m-14-5h1m-6 6h1m-2-31h1m-22 37h1m-8-34h1m-6 0h1m-10 27h1m-5 0h1m-3 3h1m-7-22h1m-8-11h1m-22 19h1m-5 4h1m-3-4h1m-6 16h1m-23-24h1m-2-3h1m-15 14h1m-3-18h1m-12 22h1m-3-15h1m-5 6h1m-1-2h1m-2-5h1m-11 9h1m-6-2h1m-3-13h1m-8 26h1m-10-30h1m-12 37h1m-6-19h1m-8 16h1m-2 0h1m-1 1h1m-9-3h1m-16-21h1m-4 20h1m-6-21h1m-18 24h1m-18-14h1m-34-16h1m-4 1h1m-11 31h1m-3-4h1m-12-17h1m-17 6h1m-3 7h1m-13-22h1m-1 9h1m-14 20h1m-6-15h1m-7-6h1m-7-9h1m-4 8h1m-12-1h1m-11 23h1m-5-18h1m-9 7h1m-3 9h1m-23-27h1m-25 5h1m-5-12h1m-3 25h1m-18 14h1m-11-38h1m-8 4h1m-5 2h1m-7 10h1m-5 19h1m-6-16h1m-16 9h1m-13 3h1m-2-30h1m-6 11h1m-2 11h1m-2 14h1m-17-21h1m-1-10h1m-8 23h1m-5-7h1m-3-10h1m-4 10h1m-5-20h1m-2 28h1m-4-11h1m-10-8h1m-2 10h1m-1 4h1m-6-16h1m-10 15h1m-6-11h1m-19 10h1m-4 5h1m-12-20h1m-1 8h1m-3 15h1m-11 2h1m-1-20h1m-5 12h1m-18-10h1m-29 13h1m-3-12h1m-1 10h1m-5-22h1m-2 34h1m-12-34h1m-9 28h1m-10 5h1m-1-15h1m-5-17h1m-5-5h1m-4 30h1m-3-1h1m-4-23h1m-2-2h1m-16 17h1m-6-20h1m-8 24h1m-6 2h1m-2-15h1m-23-6h1m-3 12h1m-14-16h1m-5 4h1m-12-2h1m-3 26h1m-3-4h1m-2-4h1m-7 16h1m-9-31h1m-6 4h1m-8-1h1m-16 25h1m-19-10h1m-20-26h1m-7 58h1m-1-2h1m4-13h1m2 20h1m1 5h1m0 10h1m1-27h1m18 3h1m1-4h1m1-5h1m0 7h1m5 11h1m4 0h1m6 10h1m5 1h1m-1-29h1m3 20h1m9 1h1m2 11h1m2-32h1m3 20h1m0-4h1m0-19h1m0 0h1m-1 10h1m-1 5h1m10 18h1m11-24h1m1-7h1m6-3h1m2 37h1m4-4h1m-1-23h1m0 21h1m-1-3h1m4-28h1m11 21h1m1-20h1m12 15h1m4 22h1m19-39h1m2 4h1m4 24h1m-1-13h1m1 24h1m-1-18h1m5-4h1m2 2h1m1-7h1m-1-4h1m6 22h1m12-3h1m4 8h1m0-34h1m3 26h1m1-4h1m0 14h1m-1-31h1m16 2h1m16 26h1m1-1h1m5 3h1m5-34h1m0 13h1m0 22h1m0-14h1m6 5h1m-1-10h1m-1 4h1m6-11h1m8 23h1m5-11h1m3 6h1m-1 8h1m19 0h1m-1-12h1m6-9h1m10 14h1m-1 6h1m0-1h1m4-13h1m1 0h1m2-9h1m0 4h1m13 8h1m1-23h1m0 27h1m12-24h1m2 6h1m7-8h1m7 19h1m1-13h1m3 10h1m4-9h1m-1 25h1m1-18h1m0 17h1m2-10h1m30-13h1m4 24h1m2-15h1m18 11h1m6-19h1m1 7h1m-1 14h1m20-26h1m5 31h1m23-7h1m12-27h1m1 14h1m8-9h1m2 13h1m0-11h1m7 12h1m2-12h1m3-1h1m0 9h1m5 12h1m16-25h1m2 30h1m1-35h1m1 27h1m1-13h1m1 10h1m1-15h1m2 18h1m5 0h1m1-12h1m1-12h1m4 11h1m3-14h1m3 20h1m-1-3h1m1 8h1m3 4h1m7-29h1m3 26h1m13-7h1m7-3h1m27-12h1m10 10h1m13 9h1m18-4h1m1-18h1m4 20h1m4 16h1m-1 0h1m6-25h1m7 0h1m11 15h1m-1-28h1m1 1h1m10 1h1m1 2h1m4 30h1m9-10h1m5-7h1m6-14h1m2-2h1m15 37h1m8-5h1m14-33h1m0 20h1m11-16h1m25 18h1m-1-16h1m5-2h1m4 28h1m0-3h1m1-6h1m5-2h1m7 11h1m16-16h1m16-9h1m13 22h1m6-20h1m-1-1h1m2 63h1m-35 4h1m-20-5h1m-28 4h1m-5 3h1m-8-29h1m-17 13h1m-7 13h1m-15-33h1m-12 16h1m-6 22h1m-8-37h1m-21 28h1m-1-22h1m-1 18h1m-22 13h1m-1-7h1m-11-3h1m-13-20h1m-3-1h1m-4 13h1m-4-17h1m-15 17h1m-8 7h1m-31-9h1m-2-7h1m-14 9h1m-12 14h1m-4-11h1m-18 2h1m-3-18h1m-6-2h1m-7 17h1m-1-1h1m-3 1h1m-1-3h1m-9 9h1m-16-1h1m-13-15h1m-4 9h1m-16 17h1m-1-9h1m-6-22h1m-2 16h1m-6 10h1m-15-27h1m-5 15h1m-18 10h1m-5-7h1m-10 1h1m-4 12h1m-10-10h1m-8-9h1m-7 20h1m-4-20h1m-2 8h1m-26-18h1m-8 29h1m-7-24h1m-13 11h1m-20 5h1m-6-7h1m-11-4h1m-6-6h1m-22 0h1m-1-10h1m-10 7h1m-3 16h1m-8-8h1m-11-10h1m-6-5h1m-1 18h1m-8-10h1m-6 7h1m-2-10h1m-3-6h1m-5 24h1m-15-17h1m-5 29h1m-3-1h1m-2-21h1m-4 18h1m-3-11h1m-11 3h1m-3-15h1m-3 5h1m-6-6h1m-10 25h1m-3-30h1m-5 22h1m-10 2h1m-7-6h1m-16-11h1m-15-9h1m-4 3h1m-5-4h1m-3 22h1m-2-12h1m-4 23h1m-9-21h1m-3-13h1m-6 2h1m-8 21h1m-3-13h1m-2 18h1m-13-10h1m-21-10h1m-2 26h1m-8-23h1m-7-8h1m-6-1h1m-6 20h1m-4-10h1m-1 2h1m-23-4h1m-16-11h1m-7 12h1m-10-3h1m-6 25h1m-3-27h1m-1 31h1m-2-15h1m-9 4h1m-4 0h1m-6-3h1m-2-1h1m-6-19h1m-2 12h1m-10 23h1m-8-20h1m-3 5h1m-5 1h1m-4 11h1m-2 1h1m-2-35h1m-2 35h1m-10-31h1m-1 12h1m-1-9h1m-5 10h1m-11 16h1m-2-29h1m-1 30h1m-17-19h1m-4 1h1m-8-17h1m-1-1h1m-3 2h1m-6-2h1m-17 13h1m-4 13h1m-6-20h1m-1-6h1m-6 30h1m-9-11h1m-55 44h1m30 11h1m6-20h1m4 12h1m9-20h1m0 24h1m1 0h1m17 5h1m15-27h1m6 25h1m0-6h1m2 6h1m10-15h1m7 19h1m10-2h1m14 3h1m1-13h1m8-2h1m2-10h1m5-1h1m4 16h1m11-14h1m1 23h1m5-24h1m12 5h1m4 9h1m1 8h1m3-19h1m5 12h1m1-19h1m3 28h1m0-11h1m4 6h1m0-14h1m12-9h1m5-6h1m5 34h1m0-6h1m3-28h1m9 2h1m14 17h1m3-13h1m0-7h1m11 3h1m-1 4h1m8-9h1m0 15h1m6 20h1m4-24h1m4 20h1m0-6h1m-1-16h1m6 15h1m1-17h1m1 26h1m-1 4h1m-1-17h1m0 15h1m4-4h1m3-11h1m0-7h1m5-1h1m4 13h1m9-9h1m5 7h1m6-4h1m-1-5h1m19-5h1m14-3h1m16-6h1m5 20h1m2-14h1m21 30h1m0-35h1m6 10h1m1 21h1m6-4h1m5 4h1m12-17h1m0 3h1m1-7h1m7-11h1m0 29h1m12 8h1m0-21h1m27 10h1m40-23h1m1 29h1m2-27h1m13 30h1m5 0h1m10-33h1m10 33h1m0-10h1m8-23h1m24 12h1m2 20h1m3-27h1m1 27h1m-1-26h1m3 12h1m15-13h1m9 13h1m3 12h1m2-21h1m9 28h1m2-36h1m-1 36h1m10-29h1m5 13h1m2-3h1m1-18h1m0 37h1m0-7h1m10 5h1m15-16h1m16 3h1m10-16h1m2 10h1m11 13h1m9-7h1m5-13h1m15-8h1m11 14h1m9-9h1m3 31h1m8-24h1m2-7h1m11 13h1m5-1h1m0 16h1m2-34h1m3 33h1m7-7h1m29-23h1m2 7h1m-1 16h1m4-7h1m10-8h1m0 20h1m3-13h1m1-2h1m8 7h1m3 12h1m2-10h1m10 1h1m11-1h1m3 0h1m1 3h1m1-2h1m8 1h1m1-19h1m17-8h1m-5 53h1m-14-8h1m-5 4h1m-20 27h1m-7 0h1m-3-35h1m-13 13h1m-3-11h1m-4 21h1m-1-1h1m-14-2h1m-2-23h1m-4 6h1m-1 14h1m-2 19h1m-12-32h1m-20-1h1m-21-3h1m-38 17h1m-4-7h1m-4 7h1m-29 10h1m-6-19h1m-1-4h1m-11 9h1m-3-11h1m-7 27h1m-8-17h1m-16 19h1m-23-23h1m-3 5h1m-12-7h1m-5 1h1m-11 26h1m-10-21h1m-8-9h1m-15 19h1m-4-4h1m-5 1h1m-12 16h1m-4-13h1m-17-19h1m-14-5h1m-11 7h1m-27 22h1m-6-21h1m-4 21h1m-2 1h1m-5 8h1m-8-8h1m-2 3h1m-6-22h1m-4 21h1m-4-24h1m-10 20h1m-6-5h1m-8-12h1m-13 25h1m-6-31h1m-8 12h1m-10-17h1m-25 31h1m-5-1h1m-6 5h1m-8-10h1m-10 8h1m-7-30h1m-4 4h1m-8-5h1m-8 32h1m-11-34h1m-31 12h1m-15-8h1m-13 26h1m-7-1h1m-5-19h1m-3 27h1m-2-36h1m-3 12h1m-8-9h1m-1 19h1m-5-22h1m-6 19h1m-11-17h1m-7 17h1m-7-4h1m-2 16h1m-7-16h1m-12-15h1m-7 7h1m-1 30h1m-6-25h1m-22 1h1m-2-15h1m-4 8h1m-4 0h1m-8 22h1m-5-20h1m-27-3h1m-2-4h1m-3 21h1m-11-11h1m-8 3h1m-1-13h1m-5 16h1m-6-16h1m-8 35h1m-7-1h1m-3-3h1m-10-29h1m-5 33h1m-8 0h1m-12-13h1m-20-4h1m-7-19h1m-8 12h1m-1-3h1m-9-9h1m-2 22h1m-10-6h1m-4-15h1m-5 0h1m-3 10h1m-9 17h1m-10 9h1m-2-15h1m-3-21h1m-4 33h1m-2-34h1m-3 30h1m-5-11h1m-3-4h1m-2-15h1m-13 36h1m-28-27h1m-3 15h1m-3 2h1m-5 4h1m-2-27h1m-12 3h1m-10 0h1m-3 13h1m-21 15h1m-1-12h1m-49 55h1m11-15h1m7 12h1m4-23h1m8-1h1m10 21h1m8 5h1m0-6h1m1-14h1m14 7h1m3-10h1m3 8h1m2-11h1m10 24h1m5-8h1m1-21h1m10 1h1m14 2h1m8 28h1m2 0h1m7-14h1m17-7h1m2 6h1m1 2h1m-1-25h1m13 8h1m2-5h1m3 3h1m-1 31h1m12-6h1m5-1h1m2-11h1m9-18h1m2 18h1m1 18h1m26-33h1m3 5h1m3 19h1m9-14h1m2 19h1m0-31h1m1 1h1m0 5h1m25-1h1m8 8h1m4-12h1m35 35h1m3-2h1m9-34h1m9 35h1m1-36h1m2 6h1m1 13h1m5-13h1m1 9h1m0 14h1m1-13h1m7-3h1m0-7h1m12 16h1m0 10h1m10-26h1m18 28h1m8-18h1m14-1h1m1-16h1m5 34h1m7-14h1m11-9h1m2 25h1m0 3h1m1-3h1m5-3h1m1 4h1m17-36h1m6 37h1m0-5h1m0-19h1m8 22h1m2-5h1m3-24h1m3 24h1m23-13h1m5-15h1m4 7h1m-1 0h1m13 1h1m2-2h1m3 19h1m3-25h1m1 1h1m9 13h1m21 8h1m7-3h1m13 12h1m8-3h1m6-10h1m4 11h1m1 7h1m8-4h1m7 0h1m2-3h1m0 6h1m12-4h1m21-17h1m1-7h1m19 15h1m5 6h1m21-13h1m6 8h1m29-6h1m8-1h1m6-16h1m17 18h1m5-13h1m15 22h1m22-17h1m9 12h1m4-21h1m10 1h1m1 0h1m0 23h1m5-27h1m3 30h1m0-10h1m0-14h1m0-5h1m0 24h1m4-12h1m16-10h1m-1 2h1m2 13h1m11-6h1m33-12h1m7 33h1m11-18h1m-1 7h1m2 6h1m6-4h1m7-23h1m-37 46h1m-13 2h1m-19 8h1m-6 0h1m-4 8h1m-2 4h1m-3-4h1m-5 13h1m-2-32h1m-2 22h1m-33 0h1m-9 10h1m-8-31h1m-3 27h1m-3-24h1m-44 11h1m-9-13h1m-8 22h1m-6 8h1m-8-36h1m-24 5h1m-4 30h1m-5-2h1m-8-35h1m-4 36h1m-10-37h1m-7 21h1m-6 1h1m-3 17h1m-5-26h1m-11 18h1m-3-27h1m-2 8h1m-7-3h1m-6 4h1m-2-3h1m-5-6h1m-12 17h1m-40 15h1m-3-2h1m-2-34h1m-23 31h1m-6-29h1m-11 20h1m-4-13h1m-36 23h1m-6-7h1m-5-14h1m-10 20h1m-10 3h1m-8-19h1m-7 12h1m-2-9h1m-5 15h1m-4-32h1m-5 27h1m-7-15h1m-6 20h1m-4-17h1m-9 22h1m-5-15h1m-5 16h1m-13-13h1m-2 1h1m-11 12h1m-9-24h1m-2 19h1m-3-33h1m-16 7h1m-2 9h1m-9 14h1m-2-20h1m-2-10h1m-3 10h1m-17 7h1m-3-15h1m-4 9h1m-5-11h1m-4 8h1m-5-8h1m-7 20h1m-13 16h1m-5-20h1m-4 17h1m-5-8h1m-14 7h1m-5 4h1m-5-27h1m-25 2h1m-8 21h1m-3-2h1m-6-14h1m-1 19h1m-8-24h1m-2 24h1m-12-5h1m-2-10h1m-1 15h1m-8-6h1m-8-15h1m-6 0h1m-16-1h1m-12 2h1m-6-7h1m-2 5h1m-5-10h1m-3-1h1m-1 23h1m-3 4h1m-28-13h1m-8 12h1m-4 7h1m-4-35h1m-9 34h1m-3-11h1m-16-5h1m-7 8h1m-4 10h1m-5-30h1m-1 26h1m-7 2h1m-8-29h1m-9 32h1m-1-15h1m-4-20h1m-15 32h1m-1 3h1m-3-30h1m-11 23h1m-3-1h1m-2-30h1m-3 34h1m-3-23h1m-13 21h1m-2-19h1m-8-11h1m-5 9h1m-7 8h1m-2 6h1m-1 5h1m-3 1h1m-3 5h1m-11-27h1m-4 16h1m-4 3h1m-13-9h1m-7 5h1m-10-21h1m-5 6h1m-2 26h1m-3-26h1m-22 4h1m-2 13h1m-1 8h1m-2-27h1m-14-4h1m-14 6h1m-3-9h1m-6 6h1m-13 22h1m-5-24h1m-13 4h1m-24 60h1m4-16h1m3 22h1m-1-14h1m7 17h1m14-24h1m1-2h1m5 9h1m1 2h1m-1 15h1m0-29h1m6 2h1m13-3h1m1 24h1m16-7h1m1 6h1m7-28h1m0 16h1m1 6h1m2 2h1m1-19h1m6 17h1m4 14h1m2-25h1m-1-4h1m0-9h1m10 33h1m3-16h1m9 9h1m4-21h1m7-4h1m0 32h1m19-20h1m10 13h1m0-11h1m-1 1h1m4-3h1m3 18h1m0-23h1m4 14h1m2-2h1m1 18h1m0-3h1m7-3h1m3-5h1m2-16h1m-1 27h1m7-13h1m7-11h1m6 14h1m0-14h1m-1 17h1m10 8h1m1-31h1m3 10h1m17 21h1m0-1h1m7-21h1m1 6h1m8 0h1m2-15h1m2 12h1m1-20h1m1 24h1m16-17h1m5 26h1m2 6h1m-1-25h1m0-13h1m2 31h1m6-7h1m3-22h1m3 36h1m4-2h1m26-20h1m3-14h1m2 32h1m3-31h1m4 1h1m9 23h1m7 10h1m9-32h1m1-4h1m2 9h1m0 13h1m1-11h1m16-5h1m10 7h1m0-15h1m2 3h1m2 30h1m7-16h1m0 7h1m1-22h1m13 16h1m7-6h1m2 4h1m1-11h1m18 22h1m5-3h1m1 11h1m2-34h1m11 35h1m7-19h1m2 10h1m1-25h1m2 14h1m1-13h1m3-1h1m14 15h1m1 4h1m13-2h1m1 9h1m0-8h1m3-2h1m12 14h1m-1-16h1m2 7h1m1 9h1m5-3h1m6 5h1m3-28h1m8 1h1m6 22h1m3-8h1m2 10h1m6 5h1m4 2h1m9-31h1m8 24h1m13-12h1m6 20h1m2-31h1m2 10h1m6 12h1m14 0h1m8-17h1m0 6h1m3 1h1m11-1h1m6-18h1m0 21h1m0 2h1m23-7h1m12 21h1m6-2h1m-1 3h1m5-38h1m1 9h1m0 8h1m7 19h1m12 2h1m7-26h1m0 14h1m48 3h1m-1-27h1m2 0h1m39 22h1m3 5h1m4-5h1m32-15h1m14-2h1m3 2h1m0-5h1m-160 47h1m-4-10h1m-5 8h1m-8-1h1m-44-9h1m-5 6h1m-40-5h1m-3-1h1m-8 21h1m-3 11h1m-14-23h1m-67-5h1m-30 7h1m-8-11h1m-19 2h1m-21 13h1m-24-4h1m-6-3h1m-6 10h1m-10-11h1m-28 28h1m-8 2h1m-5-32h1m-44 5h1m-3 0h1m-9-3h1m-13 12h1m-24-6h1m-3 9h1m-23-4h1m-3-4h1m-12 25h1m-5-32h1m-3 10h1m-6-16h1m-8-1h1m-3 36h1m-1-12h1m-8-1h1m-26 16h1m-13-10h1m-6-7h1m-1 0h1m-4-15h1m-4 32h1m-12-28h1m-7 16h1m-7 7h1m-8-7h1m-1-17h1m-9 6h1m-8 17h1m-5-27h1m-3 8h1m-14-11h1m-16 29h1m-13-18h1m-4 8h1m-11-20h1m-2-1h1m-3 21h1m-1 12h1m-1-3h1m-8 0h1m-3-4h1m-7 8h1m-1-30h1m-1 34h1m-4-31h1m-2 13h1m-4-13h1m-6 22h1m-2-21h1m-4 6h1m-5 2h1m-6 16h1m-24 6h1m-3-35h1m-2 7h1m-1 19h1m-4-2h1m-4-3h1m-2 4h1m-1-6h1m-2-1h1m-10-9h1m-8-8h1m-6-5h1m-10 28h1m-5 0h1m-9-1h1m-14 0h1m-4 10h1m-13-9h1m-3-7h1m-30-6h1m-5-7h1m-3 11h1m-1 16h1m-1 1h1m-3-22h1m-10-12h1m-4 6h1m-18 20h1m24 21h1m9 14h1m9-5h1m11 19h1m2-11h1m10-22h1m3 34h1m1-12h1m4-5h1m0-10h1m0 13h1m2 7h1m0-15h1m1 16h1m7-24h1m0 6h1m0 4h1m3 19h1m-1 0h1m12-19h1m0-9h1m10 15h1m9-11h1m2 23h1m2-25h1m0 8h1m3-17h1m34 0h1m0 22h1m8 12h1m4-12h1m0 3h1m0-14h1m-1 15h1m6 2h1m4-16h1m-1 25h1m4-39h1m12 27h1m-1 4h1m-1-13h1m14 11h1m3-28h1m-1 9h1m6 6h1m17 14h1m1-20h1m1 10h1m11-16h1m9-4h1m12 20h1m0 10h1m26-27h1m29 4h1m19 22h1m28-7h1m2-1h1m-1 18h1m19-35h1m-1 12h1m3 1h1m3 8h1m10 13h1m12-7h1m4-27h1m21 15h1m1 19h1m13-17h1m2 10h1m5-27h1m31 29h1m181-30h1m-154 63h1m-24-22h1m-11 15h1m-26 14h1m-8-4h1m-9-6h1m-5 0h1m-1-17h1m-10 3h1m-3 16h1m-8-13h1m-11-9h1m-2 10h1m-7-12h1m-11 33h1m-8-26h1m-18 10h1m-16-9h1m-222 17h1m-3-16h1m-11-7h1m-5 25h1m-4-6h1m-4 14h1m-3-5h1m-4-12h1m-2 4h1m-2 0h1m-7-8h1m-9-11h1m-4 26h1m-2-17h1m-5-7h1m-7 26h1m-22 5h1m-7-22h1m-14 2h1m-2-17h1m-4 33h1m-17-12h1m-16 4h1m-29-8h1m27 33h1m20 11h1m0-10h1m15 13h1m5-18h1m6 8h1m0 7h1m7 18h1m5-20h1m2-13h1m21 30h1m6-36h1m15 2h1m-8 38h1m-13 7h1m-10-1h1m-13 21h1m-3-27h1m-7 20h1m-5-11h1m-32 20h1m-36-19h1"/>
<path stroke="#d62728" d="M1179 3827h1m-3-5h1m-34 6h1m-9 8h1m-39-14h1m-437 2h1m-2-19h1m-3 0h1m-16 11h1m-4 7h1m-15-15h1m25 33h1m437 20h1m13-19h1m0 10h1m13 12h1m26-5h1m33 35h1m-2 3h1m-17 8h1m-17-2h1m-2 9h1m-15-28h1m-1 11h1m-3 16h1m-10-7h1m-1-21h1m-498 24h1m-25-11h1m-5 2h1m-18 0h1m-23 17h1m-94 30h1m16 11h1m11-6h1m20 3h1m13-28h1m26 6h1m35 2h1m32 9h1m5 15h1m3-33h1m6 23h1m1-6h1m1 15h1m6-14h1m117 7h1m4 10h1m19-27h1m2 20h1m5-7h1m6 13h1m46-10h1m0-5h1m12-12h1m170 28h1m18-1h1m16-13h1m7-22h1m5-1h1m6 27h1m6-22h1m1 6h1m19-11h1m3 22h1m1-18h1m11 1h1m9 4h1m17-8h1m-3 67h1m-33-7h1m-6 7h1m-6-21h1m-34 30h1m-28-26h1m-12 19h1m-2-12h1m-7-7h1m-39 22h1m-81-13h1m-6 8h1m-19 3h1m-7-26h1m-17 27h1m-14-21h1m-5-5h1m-12 22h1m-2-1h1m-9-6h1m-11-21h1m-21 7h1m-3-4h1m-3 30h1m-2-17h1m-1 15h1m-17-8h1m-8-20h1m-12 33h1m-11-34h1m-3 28h1m-3-3h1m-3-20h1m-9-4h1m-62 0h1m-10 6h1m-20-11h1m-8 19h1m-5-3h1m-5 7h1m-9 14h1m-4-23h1m-3 11h1m-8-14h1m-5-6h1m-2 25h1m-62-12h1m-30 18h1m-2-11h1m-27-6h1m-8-18h1m-7 29h1m-17-16h1m-8-8h1m-14-1h1m-6 25h1m-11-3h1m59 49h1m8-3h1m4-10h1m13-9h1m2 20h1m2-17h1m3-14h1m14 33h1m17-29h1m5-5h1m22 34h1m16-28h1m-1-6h1m25 4h1m0-4h1m12-2h1m9 18h1m21 4h1m31 6h1m9 5h1m5-26h1m2 0h1m6 27h1m1-15h1m3 8h1m2-1h1m-1-13h1m1 20h1m-1 5h1m1-13h1m19 8h1m-1-9h1m17 12h1m4-35h1m100 34h1m34-27h1m29 27h1m0 0h1m34-5h1m8-14h1m35 9h1m21-15h1m26 28h1m12-18h1m13 8h1m36-20h1m3 3h1m13 57h1m-2-3h1m-6-6h1m-4 18h1m-14-14h1m-15-16h1m-32 15h1m-12-9h1m-4 20h1m-18-32h1m-22 38h1m-55-31h1m-4 11h1m-9 18h1m-1-3h1m-9 5h1m-9-14h1m-2-4h1m-38 3h1m-31 1h1m-12-21h1m-7 9h1m-5 5h1m-12 10h1m-42-15h1m-1 12h1m-7-9h1m-33-9h1m-24-4h1m-25 34h1m-23-9h1m-32-12h1m-28-16h1m-11 20h1m-8 19h1m-7-33h1m-34 0h1m-8 8h1m-2 24h1m-32 0h1m-5-32h1m-17 30h1m-35-23h1m-13 5h1m-11-17h1m15 52h1m24 25h1m1-9h1m20-14h1m7 19h1m9-20h1m22 13h1m21-27h1m7 25h1m26-6h1m12 1h1m24 3h1m13 4h1m1 7h1m8 3h1m12-5h1m12 1h1m7-32h1m4 11h1m31-9h1m4 23h1m0-1h1m2 6h1m62-28h1m7 28h1m10-21h1m5 22h1m9-17h1m2 15h1m10 6h1m23-30h1m17 26h1m5-3h1m12 2h1m25-31h1m19 14h1m9 14h1m6-4h1m0 6h1m4-16h1m12 11h1m32-23h1m0 3h1m12 22h1m33 10h1m0-32h1m21 19h1m9-15h1m-1 10h1m12-5h1m-1 24h1m5-5h1m54 35h1m-14 0h1m-32-6h1m-12 9h1m-4 2h1m-14-1h1m-24-3h1m-25-1h1m-19-26h1m-6 15h1m-8-11h1m-7 20h1m-31 13h1m-14-18h1m-8 15h1m-8-6h1m-4-24h1m-2 11h1m-9 18h1m-1-24h1m-16 7h1m-6 21h1m-19-28h1m-5 25h1m-15-36h1m-9 17h1m-4 17h1m-27-25h1m-18 8h1m-1-16h1m-78 34h1m-31-33h1m-26 2h1m-79 28h1m-32 1h1m-8 5h1m-11-14h1m-72-3h1m-3 14h1m-23-8h1m-3 5h1m-11 2h1m-12-20h1m-9 12h1m18 45h1m16-22h1m3 18h1m0-1h1m0-5h1m3 6h1m8 2h1m7 4h1m23-30h1m0 33h1m5-35h1m1 10h1m17-9h1m-1 32h1m0-27h1m4 3h1m46 2h1m15 9h1m1 14h1m37 0h1m19-12h1m10-17h1m38 27h1m18 5h1m1-13h1m1-8h1m4 15h1m3 2h1m6-25h1m9 23h1m3-8h1m5-15h1m7 12h1m10 7h1m9-3h1m8 12h1m2-13h1m10-19h1m26 9h1m28 25h1m8-13h1m1-15h1m4 0h1m14-3h1m7-8h1m2 21h1m45 14h1m7 1h1m0-13h1m35-20h1m16 28h1m6-29h1m6 27h1m6-11h1m35 15h1m8-29h1m4 0h1m0-1h1m10 26h1m5-6h1m11 27h1m-41-2h1m-41-5h1m-13 27h1m-3-30h1m-22 34h1m-5-19h1m-39 4h1m-51 8h1m-13-20h1m-9-7h1m-11 7h1m-9-6h1m-2 0h1m-14 35h1m-75-36h1m-6 17h1m-5 7h1m-9-23h1m-9 30h1m-2-23h1m-13 28h1m-1-17h1m-18 18h1m-4-22h1m-2-3h1m-7-6h1m-1 22h1m-5-4h1m-6-12h1m-3 3h1m-9-8h1m-1 21h1m-2-7h1m-4-14h1m-2 13h1m-4-12h1m-38-7h1m-28 14h1m-17 8h1m-6 1h1m-9-5h1m-10 8h1m-44-13h1m-21 0h1m-29 22h1m-6 0h1m-8-34h1m-3 23h1m-6-8h1m-4 2h1m-8 9h1m-3-14h1m-6 1h1m-28 12h1m-38 29h1m79 23h1m11-7h1m6-30h1m3 25h1m2 8h1m9 1h1m4-29h1m8 5h1m1 3h1m13-5h1m3 19h1m1 9h1m16-31h1m20 1h1m12 23h1m0-16h1m-1-8h1m4-2h1m0 27h1m7-28h1m3 25h1m4 1h1m24-1h1m22-27h1m11 0h1m15 31h1m5-9h1m0 14h1m24-10h1m21-9h1m-1-15h1m13-3h1m5 9h1m14-7h1m3 30h1m8 2h1m33 3h1m2-22h1m64-8h1m11 11h1m56-7h1m18-12h1m3 38h1m22-21h1m2 0h1m12 10h1m11-17h1m8 22h1m2-26h1m11-4h1m13 0h1m14 5h1m0-7h1m25 39h1m16-17h1m7 1h1m44 27h1m-18 25h1m-3 0h1m-2-21h1m-2-10h1m-2 8h1m-13 22h1m-4-10h1m-11-14h1m-64-6h1m-11 33h1m-5-22h1m-14 6h1m-18-5h1m-187-16h1m-8 38h1m-9-26h1m-3-5h1m-10-1h1m-1-6h1m-21 5h1m-8 14h1m-48 12h1m-55-21h1m-14 14h1m-57 1h1m-17-21h1m-18 31h1m-16 3h1m-12-9h1m-10-17h1m-8 7h1m-13-3h1m-22-9h1m-5 30h1m-28-23h1m-12-10h1m-12 19h1m-19 2h1m-28 7h1m-1-4h1m-35 4h1m-1 0h1m23 42h1m-1-29h1m4 6h1m0 14h1m32-17h1m5-2h1m32 31h1m14-25h1m1 27h1m8-27h1m5 14h1m18 13h1m2-22h1m4 22h1m-1 0h1m3-22h1m6 13h1m14-25h1m8 7h1m2 4h1m0 8h1m14 2h1m0-1h1m13 14h1m13 0h1m8-39h1m6 9h1m10 19h1m9-11h1m-1-16h1m41 18h1m17-10h1m15 8h1m12 7h1m19-13h1m9 20h1m28 5h1m21-8h1m6 8h1m27-30h1m13 16h1m5 7h1m3-15h1m20-3h1m3 26h1m18-25h1m52 6h1m4 2h1m6 10h1m18 5h1m23-27h1m10 16h1m5 6h1m9-29h1m11 7h1m12-6h1m17 32h1m1-13h1m25 15h1m40 0h1m12-19h1m39 5h1m41 52h1m-35-20h1m-10-5h1m-12 13h1m-18-2h1m-15-9h1m-4-6h1m-51 27h1m-15-16h1m-76-15h1m-29 37h1m-16-37h1m-49 11h1m-3-3h1m-21 19h1m-1-25h1m-15 32h1m-18-3h1m-69 5h1m-16-22h1m-8-6h1m-3-8h1m-14 7h1m-6 13h1m-2 17h1m-4-33h1m-22 31h1m-46 0h1m-7-22h1m-3 23h1m-16-18h1m-4 12h1m-20-27h1m-64 11h1m-11-12h1m-15 2h1m-10 8h1m-2 15h1m-7-27h1m-10 33h1m-1 2h1m-30-26h1m-18 19h1m-33 3h1m-2 0h1m-19-11h1m-9 15h1m-18-3h1m-18 0h1m-76-27h1m-4 32h1m-11-29h1m-11-4h1m-19 50h1m6 13h1m22-15h1m69 13h1m16-9h1m10 10h1m15-25h1m15 7h1m11-1h1m17 28h1m27-28h1m3 18h1m7 4h1m0 6h1m9-12h1m32 14h1m7-13h1m21-4h1m-1 5h1m6 11h1m57-23h1m2 20h1m1-24h1m33 23h1m23 2h1m1-32h1m2 36h1m4 0h1m19-17h1m7 16h1m0-21h1m6-4h1m0-7h1m3 2h1m22 25h1m4 2h1m16-4h1m18-12h1m6-1h1m2-15h1m1 33h1m0-10h1m13 3h1m19-15h1m5 2h1m0 16h1m9-18h1m32-1h1m3 16h1m10-1h1m1-26h1m11 8h1m-1 12h1m2-3h1m7 2h1m-1-2h1m5-18h1m1-1h1m7 7h1m7 0h1m4 28h1m6-7h1m2-21h1m1 15h1m26-9h1m46 15h1m23 10h1m11-5h1m24-23h1m44 6h1m0 23h1m5-38h1m10 36h1m19-15h1m11 12h1m6-2h1m-6 29h1m-2-3h1m-2 18h1m-1-7h1m-4 1h1m-4-20h1m-7 19h1m-12-5h1m-2 0h1m-14-5h1m-2 3h1m-19 5h1m-6 9h1m-7-29h1m-40 11h1m-12-13h1m-20 25h1m-34-24h1m-46 17h1m-6-21h1m-12 14h1m-25 5h1m-93 14h1m-11 4h1m-6-7h1m-36-2h1m-10 3h1m-3-1h1m-10-8h1m-7-1h1m-10-3h1m-17 11h1m-6 4h1m-25-29h1m-10-4h1m-26 15h1m-11-16h1m-16 25h1m-9 10h1m-6-20h1m-6-16h1m-12 9h1m-2 14h1m-1-13h1m-2 26h1m-13-5h1m-15-18h1m-8-8h1m-3 9h1m-25 17h1m-9-3h1m-6-26h1m-4 14h1m-10-15h1m-3 16h1m-5 3h1m-9-19h1m-7 35h1m-35-18h1m-16 13h1m-68-7h1m-36-17h1m-23-6h1m-13 36h1m-11-22h1m-29 8h1m-3-8h1m-3 4h1m-8-14h1m-3 16h1m-26 54h1m29-8h1m39 6h1m3-16h1m46 5h1m2 7h1m6-16h1m9 18h1m1-24h1m8 5h1m4 16h1m11-14h1m1 5h1m2 17h1m-1-6h1m1 5h1m-1-32h1m2 23h1m11-17h1m0 12h1m6 5h1m4-13h1m1 25h1m6-4h1m15-25h1m-1-9h1m44 1h1m37 25h1m25-9h1m28 7h1m13-14h1m9-6h1m4 0h1m17-4h1m1 22h1m18-16h1m17 3h1m47 23h1m24-23h1m0 2h1m10 27h1m0-32h1m34 25h1m9-3h1m13-22h1m91 9h1m5-14h1m4 11h1m8 17h1m22-22h1m9-7h1m0 31h1m9-24h1m21 23h1m0-11h1m11-1h1m0 7h1m3 7h1m22-26h1m16 23h1m3 2h1m2 0h1m58-13h1m47 35h1m-41-12h1m-37 20h1m-17 2h1m-9-1h1m-1-21h1m-9 19h1m-8-16h1m-12 11h1m-4 1h1m-17-5h1m-4 6h1m-19-10h1m-6 10h1m-2-12h1m-32 18h1m-5-1h1m-44 9h1m-13-26h1m-9 16h1m-7 1h1m-3-14h1m-8 4h1m-5-9h1m-5 29h1m-67-4h1m-77 0h1m-37-13h1m-3 18h1m-32 0h1m-47-22h1m-35-6h1m-32 6h1m-23 12h1m-4-22h1m-12 0h1m-57 38h1m-4-35h1m-18 20h1m-8-20h1m-9 34h1m-10-27h1m-12 10h1m-11-2h1m-20-19h1m-2 31h1m-4-29h1m-2 33h1m-9-15h1m-21-16h1m-3 11h1m-4 10h1m-5 3h1m-4-2h1m-4-1h1m-2-23h1m-24 15h1m-15 12h1m-13-10h1m-7-12h1m-4 32h1m-8-33h1m-2-6h1m-10 34h1m-28-20h1m-23 18h1m-8-27h1m-8 15h1m-2 11h1m-7 7h1m-2-20h1m-12 36h1m0 10h1m4 15h1m2-22h1m12 9h1m17-2h1m-1-22h1m8 18h1m15 0h1m9-11h1m3-2h1m4 29h1m5-3h1m6-20h1m2-1h1m24 4h1m25-5h1m24 11h1m27-12h1m36 21h1m22-3h1m14-20h1m23 1h1m32 16h1m22-24h1m5-1h1m11 18h1m16-4h1m9 25h1m9-38h1m5 1h1m2 29h1m3-27h1m10 35h1m19-18h1m6 3h1m0 1h1m-1 8h1m5-13h1m20 15h1m1-34h1m13 8h1m8-8h1m6 10h1m11 17h1m7 2h1m1-30h1m16 18h1m14 7h1m16 7h1m17-4h1m46-7h1m26 13h1m40-24h1m63 9h1m39-12h1m-1-3h1m0-1h1m6 12h1m38 5h1m74-5h1m39 20h1m2 2h1m6-30h1m11 6h1m20-12h1m4 26h1m28 6h1m49 27h1m-13-6h1m-6-7h1m-2 22h1m-1 6h1m-29-19h1m-12 6h1m-6-16h1m-4 14h1m-39 5h1m-24-23h1m-54 28h1m-38-2h1m-2-17h1m-63-7h1m-6 27h1m-5-4h1m-3-11h1m-14 7h1m-28-17h1m-8 7h1m-11 12h1m-28 11h1m-13-17h1m-6 13h1m-17-3h1m-4-5h1m-12-10h1m-3-4h1m-19-2h1m-1 21h1m-14-2h1m-22-18h1m-12 10h1m-3 10h1m-5-7h1m-8-10h1m-31-4h1m-2-4h1m-4 19h1m-7-12h1m-8-3h1m-10 14h1m-2-20h1m-18 25h1m-3 7h1m-16-7h1m-27-17h1m-5 23h1m-28 1h1m-16-34h1m-1 16h1m-5 12h1m-31 8h1m-5-22h1m-23 11h1m-25-10h1m-5-12h1m-1 15h1m-13-7h1m-21 28h1m-7-6h1m-32-16h1m-6-7h1m-54 25h1m-34-32h1m-13 5h1m-60 23h1m-30-3h1m-32-28h1m-11 35h1m-25 0h1m-45-26h1m-13-3h1m-4 3h1m-12 20h1m-3-24h1m92 39h1m6 0h1m2 26h1m10-17h1m0-5h1m11 18h1m30-23h1m45-3h1m3 5h1m5 18h1m43 0h1m14-10h1m15 22h1m24-6h1m1-6h1m0 6h1m1-17h1m0 11h1m19 0h1m92-5h1m13-15h1m22 18h1m15-21h1m23 3h1m5 11h1m0-3h1m13 20h1m3-26h1m9 23h1m75 4h1m40-19h1m2 1h1m0 4h1m6 12h1m-1-6h1m10-11h1m11 5h1m11-7h1m6 0h1m1-9h1m0 24h1m2 13h1m21-10h1m9-1h1m13 11h1m38-27h1m24 9h1m37-7h1m20-5h1m11 16h1m-1-23h1m3 33h1m-1-8h1m29 4h1m37-17h1m14-13h1m30 30h1m17 8h1m11-27h1m4-5h1m16 21h1m31-4h1m11 4h1m-1 10h1m12-17h1m3 17h1m9-24h1m4 4h1m20 12h1m-4 37h1m-42-8h1m-2 4h1m-5-22h1m-22 32h1m-21 1h1m-14-11h1m-3 4h1m-15-21h1m-6 14h1m-29-10h1m-14 22h1m-30 1h1m-10 3h1m-26-16h1m-12 17h1m-2-32h1m-22 20h1m-10-5h1m-3 1h1m-1 3h1m-15-18h1m-17 24h1m-11-21h1m-7 11h1m-11-9h1m-6 20h1m-4-17h1m-35 11h1m-105 8h1m-15-32h1m-19 6h1m-58 15h1m-7-5h1m-34 14h1m-2-3h1m-23 4h1m-11 1h1m-2-20h1m-10-10h1m-5 23h1m-6-20h1m-11 29h1m-21-32h1m-11 6h1m-3 7h1m-2 5h1m-57-4h1m-6-11h1m-14 2h1m-2-2h1m-8 14h1m-3 13h1m-3-32h1m-21 38h1m-8-39h1m-27 21h1m-3-6h1m-4-14h1m-5 7h1m-13-6h1m-32 33h1m-17 1h1m-13-14h1m-59 5h1m-8-26h1m-24 21h1m-11 2h1m46 36h1m12-11h1m7 23h1m6-1h1m11 7h1m0-18h1m57 2h1m12-15h1m16-4h1m4 17h1m1 16h1m2 2h1m5-9h1m3-1h1m1-23h1m24 1h1m12-4h1m30 22h1m1-19h1m19 1h1m3 1h1m3 11h1m5-5h1m0-2h1m21 28h1m25-36h1m37 5h1m22 1h1m4 0h1m36-7h1m19 1h1m0 1h1m2 27h1m13-8h1m1-13h1m4 12h1m6 17h1m3-20h1m5-18h1m0 12h1m5 11h1m9 1h1m2 3h1m21 9h1m14-10h1m8-16h1m39 23h1m2-26h1m33 18h1m16-18h1m2 10h1m12 17h1m5-7h1m39-25h1m13 33h1m9-12h1m16 9h1m9-1h1m7-2h1m90 5h1m13-19h1m-1 15h1m3-9h1m7 1h1m9 8h1m66 1h1m3 6h1m17 6h1m-17 33h1m-11-11h1m-3 9h1m-22-31h1m-2 21h1m-33-11h1m-6 19h1m-16-19h1m-7 4h1m-25 16h1m-6-21h1m-49 9h1m-4 2h1m-15-15h1m-22 27h1m-13-19h1m-6 6h1m-6-7h1m-19 7h1m-21-2h1m-110 16h1m-14-16h1m-3 5h1m-14-10h1m-51 19h1m-28-14h1m-8-20h1m-13 7h1m-2-7h1m-3 26h1m-33-23h1m-2 14h1m-3 9h1m-7-16h1m-52 3h1m-3 12h1m-8-17h1m-36 9h1m-40 7h1m-1 2h1m-5 8h1m-12-34h1m-22 21h1m-5-11h1m-18-3h1m-20 12h1m-35-12h1m-30 4h1m-3 9h1m-13-3h1m-6-11h1m-8 4h1m-4 20h1m-12 4h1m-12-17h1m-9-8h1m-6 27h1m-18-28h1m-15 1h1m-6-6h1m-17 15h1m-3-11h1m-18-4h1m6 41h1m40 8h1m2-3h1m40 18h1m-1-10h1m14-14h1m21-4h1m28 26h1m4-5h1m9-6h1m8 11h1m45-1h1m3 13h1m16-34h1m6 17h1m8 16h1m5-10h1m4-4h1m0 10h1m8-23h1m3 22h1m3-21h1m4 21h1m2-12h1m16 19h1m9-21h1m28 8h1m15 7h1m7 1h1m20 2h1m30-1h1m16-17h1m44-9h1m24-6h1m2 25h1m1-3h1m1 14h1m26-13h1m2-14h1m13 22h1m2-6h1m9-4h1m14-8h1m18 19h1m14-19h1m10 16h1m10-10h1m3-7h1m16-13h1m8 29h1m7 1h1m11-1h1m9-6h1m26-24h1m7 32h1m11-1h1m18-5h1m5-6h1m27-2h1m55-7h1m13 6h1m28-6h1m24-6h1m14 15h1m11-15h1m-64 51h1m-14 21h1m-3-12h1m-41 1h1m-35 5h1m-21-6h1m-24-1h1m-5 2h1m-57-9h1m-12-10h1m-19 4h1m-57 15h1m-11-17h1m-20-2h1m-8 10h1m-6-13h1m-50-4h1m-9 28h1m-40 6h1m-45-11h1m-3-13h1m-21 4h1m-3 0h1m-4-2h1m-10 26h1m-17-37h1m-11 13h1m-15-15h1m-26 23h1m-30 9h1m-4-6h1m-5 6h1m-3-19h1m-3-7h1m-1-5h1m-17 34h1m-12-5h1m-8-13h1m-2 4h1m-10-15h1m-10 20h1m-7 5h1m-19-13h1m-15-12h1m-39 23h1m-9-10h1m-13 17h1m-5-36h1m-1 25h1m-3 12h1m-2-24h1m-6 17h1m-18-2h1m-6-28h1m-26 21h1m-50-6h1m-3 39h1m42-13h1m3 19h1m27 7h1m-1 6h1m-1-6h1m28 10h1m11-5h1m61-20h1m31 21h1m13 4h1m38-8h1m0-3h1m3-14h1m6 14h1m5-24h1m35 36h1m9-7h1m13-22h1m1 0h1m13 3h1m5-11h1m20 35h1m7-24h1m35-1h1m1 16h1m9-17h1m13-2h1m1 2h1m12 6h1m12-13h1m11 29h1m6 2h1m10-8h1m2-3h1m7 9h1m4 1h1m1-11h1m-1-17h1m7 10h1m3 3h1m26 7h1m11 11h1m15-16h1m14-4h1m6 10h1m3-26h1m0 14h1m9 18h1m4-23h1m16 5h1m16-5h1m20 25h1m12-7h1m6 0h1m1 1h1m0-10h1m14 4h1m9-19h1m4 32h1m23-3h1m18-19h1m0 0h1m17 20h1m4-30h1m5 8h1m2 18h1m7-27h1m3 13h1m34 11h1m37 44h1m-25-17h1m-100 3h1m-5 14h1m-48 1h1m-8-19h1m-9-12h1m-26 18h1m-29-7h1m-4 17h1m-21 9h1m-10-10h1m-42 11h1m-19-31h1m-15-2h1m-10 16h1m-7 8h1m-15-23h1m-5-6h1m-39 8h1m-21 9h1m-17 11h1m-2-7h1m-6 14h1m-1-13h1m-4 10h1m-6-15h1m-2-15h1m-40 26h1m-41-8h1m-25-2h1m-8-3h1m-76 17h1m-8-31h1m-43 3h1m-23 2h1m-109-6h1m214 40h1m79 13h1m9 24h1m17-19h1m3 3h1m7 10h1m5 2h1m1-1h1m3-18h1m4-1h1m2-9h1m7 27h1m32 7h1m16-25h1m20 3h1m2-3h1m0 22h1m6-34h1m14 16h1m12 2h1m10-1h1m20 13h1m7-31h1m11 28h1m22-13h1m20-13h1m22 32h1m20-2h1m12-12h1m9 13h1m27-5h1m2-9h1m4-13h1m26-6h1m38 39h1m20-31h1m19 42h1m-12 2h1m-5 6h1m-18 5h1m-10-22h1m-7 13h1m-41 4h1m-66 5h1m-13 1h1m-8-2h1m-22 7h1m-14-20h1m-23-6h1m-8 36h1m-2-34h1m-17 22h1m-33-25h1m-3 24h1m-32-12h1m-11-6h1m-5-4h1m-68 16h1m-56-14h1m-1 13h1m-7-15h1m-7 10h1m-11-5h1m-9 5h1m-33-9h1m80 36h1m28 28h1m17-2h1m10-26h1m37 29h1m9-3h1m5 10h1m8 2h1m10-19h1m-1-10h1m8 19h1m3 8h1m10-9h1m13 9h1m14 1h1m64-29h1m16 24h1m71-10h1m12-6h1m7 12h1m9 8h1m4-25h1m0 20h1m40-30h1m13 21h1m-57 22h1m-11-4h1m-34 13h1m-19 0h1m-19 21h1m-5-7h1m-29 9h1m-5-12h1m-3-8h1m-33-3h1m-10 0h1m-4 15h1m-2 6h1m-3-2h1m-6-13h1m-10 0h1m-22-18h1m-21 20h1m-1 11h1m-7 4h1m-12-7h1m-1-8h1m-12-9h1m-3-4h1m-3 21h1m-22-10h1m-3-14h1m-18 18h1m-4 5h1m-5-17h1m-53-5h1m-3 1h1m80 37h1m0 16h1m13-4h1m2-14h1m1 8h1m4-3h1m5 11h1m1 7h1m12-21h1m23 8h1m2 25h1m8-9h1m0-4h1m8 13h1m23-22h1m5 3h1m16 9h1m2-10h1m11-12h1m-14 39h1m267 45h1m39 10h1m29-20h1"/>
</g>
<rect x="30.50" y="329.50" width="272.60" height="203.00" fill="none" stroke="#000" stroke-width="0.75"/>
<line x1="42.89" y1="532.50" x2="42.89" y2="535.10" stroke="#000" stroke-width="0.75"/>
<line x1="27.90" y1="523.27" x2="30.50" y2="523.27" stroke="#000" stroke-width="0.75"/>
<text x="42.89" y="543.55" text-anchor="middle" class="t">0.0</text>
<text x="25.50" y="526.68" text-anchor="end" class="t">0.0</text>
<line x1="92.45" y1="532.50" x2="92.45" y2="535.10" stroke="#000" stroke-width="0.75"/>
<line x1="27.90" y1="486.36" x2="30.50" y2="486.36" stroke="#000" stroke-width="0.75"/>
<text x="92.45" y="543.55" text-anchor="middle" class="t">0.2</text>
<text x="25.50" y="489.77" text-anchor="end" class="t">0.2</text>
<line x1="142.02" y1="532.50" x2="142.02" y2="535.10" stroke="#000" stroke-width="0.75"/>
<line x1="27.90" y1="449.45" x2="30.50" y2="449.45" stroke="#000" stroke-width="0.75"/>
<text x="142.02" y="543.55" text-anchor="middle" class="t">0.4</text>
<text x="25.50" y="452.87" text-anchor="end" class="t">0.4</text>
<line x1="191.58" y1="532.50" x2="191.58" y2="535.10" stroke="#000" stroke-width="0.75"/>
<line x1="27.90" y1="412.55" x2="30.50" y2="412.55" stroke="#000" stroke-width="0.75"/>
<text x="191.58" y="543.55" text-anchor="middle" class="t">0.6</text>
<text x="25.50" y="415.96" text-anchor="end" class="t">0.6</text>
<line x1="241.15" y1="532.50" x2="241.15" y2="535.10" stroke="#000" stroke-width="0.75"/>
<line x1="27.90" y1="375.64" x2="30.50" y2="375.64" stroke="#000" stroke-width="0.75"/>
<text x="241.15" y="543.55" text-anchor="middle" class="t">0.8</text>
<text x="25.50" y="379.05" text-anchor="end" class="t">0.8</text>
<line x1="290.71" y1="532.50" x2="290.71" y2="535.10" stroke="#000" stroke-width="0.75"/>
<line x1="27.90" y1="338.73" x2="30.50" y2="338.73" stroke="#000" stroke-width="0.75"/>
<text x="290.71" y="543.55" text-anchor="middle" class="t">1.0</text>
<text x="25.50" y="342.14" text-anchor="end" class="t">1.0</text>
<rect x="34.50" y="333.50" width="92.40" height="47.60" rx="1.5" fill="#fff" stroke="#ccc" stroke-width="0.6"/>
<circle cx="45.30" cy="340.30" r="1.55" fill="#1f77b4"/>
<text x="58.70" y="342.71" class="t">Class 1(Minority)</text>
<circle cx="45.30" cy="351.50" r="1.55" fill="#ff7f0e"/>
<text x="58.70" y="353.91" class="t">Class 2</text>
<circle cx="45.30" cy="362.70" r="1.55" fill="#2ca02c"/>
<text x="58.70" y="365.11" class="t">Class 3</text>
<circle cx="45.30" cy="373.90" r="1.55" fill="#d62728"/>
<text x="58.70" y="376.31" class="t">Synthetic data</text>
<text x="20.20" y="589.00" class="c" textLength="286.0" lengthAdjust="spacingAndGlyphs">(c) EmbSMOTE for Pubmed</text>
</g>
<g>
<g transform="scale(.1)" stroke-width="31.0" stroke-linecap="round" fill="none">
<path stroke="#1f77b4" d="M5360 4100h1m290 497h1m-1 2h1m2-1h1m1-10h1m25 8h1m40-22h1m22 20h1m6-25h1m0-5h1m-19 38h1m-39 30h1m-13-4h1m-2-8h1m-28 6h1m-5-25h1m-7 20h1m-7 18h1m-13-39h1m-8 34h1m-33-16h1m-1 4h1m-9 15h1m-5 1h1m-40 1h1m-79-7h1m-23 42h1m16-13h1m12-17h1m2 30h1m-1-2h1m0-10h1m9-13h1m15-4h1m22-1h1m1 7h1m6 20h1m0-15h1m7-6h1m5 18h1m-1-21h1m14 7h1m0 13h1m15-14h1m3 26h1m30-36h1m24 18h1m9-11h1m0 4h1m7 0h1m16 16h1m11-29h1m3 4h1m4 3h1m10-6h1m16 5h1m7 15h1m1-1h1m11-18h1m-11 44h1m-3 4h1m-17 3h1m-16 8h1m-4 7h1m-4-8h1m-2-11h1m-2 21h1m-13-4h1m-1-21h1m-30 28h1m-4 4h1m-3-14h1m-3 9h1m-9-9h1m-8 1h1m-4 10h1m-12-5h1m-6-9h1m-14 7h1m-2 10h1m-5-27h1m-3 15h1m-2-13h1m-1 22h1m-8-17h1m-7-1h1m-11-1h1m-14-1h1m-13 2h1m-3 16h1m-2-1h1m-34-32h1m-2 10h1m-1 20h1m-16-18h1m-3 1h1m-8 17h1m-15-2h1m-10-28h1m-12 32h1m-4 7h1m-4-39h1m-3 6h1m-5 6h1m-7-6h1m-11 4h1m-3 15h1m-3-8h1m-24-14h1m-29 30h1m-4-1h1m-8-5h1m-26 6h1m-6-2h1m-32-21h1m-3 27h1m-3-13h1m-32-6h1m-8 20h1m-44 1h1m-90 40h1m6-1h1m12-30h1m26 31h1m5-9h1m22 2h1m7 5h1m1-9h1m17-16h1m0 3h1m2-13h1m0 32h1m5-28h1m10 20h1m2-10h1m8 6h1m20-4h1m1-6h1m1 0h1m4 17h1m10 2h1m0-3h1m36 4h1m5-29h1m8 19h1m16-12h1m3 13h1m0 14h1m1-35h1m0 21h1m14 3h1m0 6h1m4 3h1m2-28h1m5 23h1m44-12h1m-1 5h1m1-11h1m2 27h1m19-36h1m37 22h1m1 6h1m17-17h1m5-9h1m11 16h1m7 14h1m5-8h1m-1-16h1m0 24h1m-1-24h1m9-4h1m7-5h1m4 16h1m10-2h1m21-13h1m11 21h1m0-22h1m11 25h1m7 5h1m2-21h1m7-1h1m33 5h1m-20 60h1m-8-10h1m-4-1h1m-9-1h1m-46 8h1m-7-14h1m-22-6h1m-5-4h1m-20 18h1m-12 6h1m-1 4h1m-6-22h1m-7-10h1m-2 9h1m-4 14h1m-4-1h1m-4-16h1m-8-9h1m-9 1h1m-3 8h1m-2 3h1m-1-11h1m-5 10h1m-3 21h1m-27 5h1m-13-19h1m-5 7h1m-2 13h1m-6-36h1m-1 34h1m-1-13h1m-10 5h1m-4-19h1m-3 24h1m-7-17h1m-4 13h1m-4-5h1m-8 12h1m-18-4h1m-2-13h1m-5-12h1m-27 25h1m-7 1h1m-8 3h1m-10-12h1m-16 8h1m-7-30h1m-3 1h1m-5-3h1m-2 29h1m-5-9h1m-10-11h1m-3 16h1m-2-23h1m-5 4h1m-3-4h1m-4 20h1m-18-2h1m-5 7h1m-16-23h1m-2 15h1m-4-12h1m-9 0h1m-8 7h1m-2 20h1m-6-19h1m-5 23h1m-11-27h1m-4 7h1m-8-13h1m-8 26h1m-26-11h1m-9-15h1m-15 1h1m-9 11h1m-4 16h1m-3-5h1m-8 11h1m-19-1h1m-17-13h1m-42 35h1m9-1h1m5 16h1m1-22h1m0-2h1m14 9h1m9-15h1m3 32h1m0-26h1m21 22h1m1-7h1m3-4h1m-1 12h1m10-27h1m24 27h1m13-2h1m1-4h1m12 5h1m22-3h1m0-1h1m0-26h1m9 5h1m3 21h1m2-7h1m0-4h1m35-18h1m22 39h1m12-12h1m1-12h1m0 3h1m7 19h1m21-20h1m1-14h1m4 25h1m-1-3h1m23-12h1m16-4h1m33 24h1m2 4h1m1-22h1m-1 8h1m6 16h1m0-24h1m0 12h1m2 4h1m3-7h1m20-11h1m0 23h1m8-34h1m5 8h1m14 5h1m3 5h1m5-16h1m2 7h1m2 24h1m0-9h1m-1 10h1m5-10h1m7-19h1m0 12h1m0-19h1m7 27h1m8 4h1m1-5h1m0-8h1m2 1h1m2-15h1m18 12h1m33-8h1m-1 7h1m30-10h1m-1-1h1m32 57h1m-2-6h1m-4 9h1m-7 2h1m-1-12h1m-1 20h1m-6-9h1m-3-12h1m-2 26h1m-5-38h1m-8 25h1m-2-3h1m-7-1h1m-1 15h1m-3-6h1m-11-23h1m-13 28h1m-6 3h1m-5-29h1m-3 4h1m-2 21h1m-1-24h1m-12 24h1m-6-32h1m-5 6h1m-8 25h1m-10-6h1m-15 10h1m-2-24h1m-10 16h1m-14 0h1m-2-25h1m-1-3h1m-18 1h1m-22 16h1m-7 19h1m-17-11h1m-8-8h1m-27 17h1m-26-17h1m-2 4h1m-8-14h1m-5 15h1m-16-19h1m-12 19h1m-13 13h1m-2-15h1m-4 8h1m-24 8h1m-5-4h1m-15-8h1m-3 2h1m-10-26h1m-30 20h1m-25-8h1m-3-3h1m-26-10h1m-3 26h1m-5 0h1m-29 1h1m-9 0h1m-2 4h1m-7-8h1m-5-5h1m-8 4h1m-7 8h1m-7-10h1m-7 3h1m-6-15h1m-5 20h1m-6-27h1m-14 23h1m-6 13h1m-13-10h1m-15 4h1m-12-3h1m-15-14h1m-9-4h1m-5-10h1m-12 14h1m-3-12h1m-9 14h1m-5 2h1m-12 8h1m-5-11h1m-19 23h1m-1-13h1m-3 2h1m-5-7h1m-28 41h1m33-4h1m3-9h1m6 15h1m5-10h1m4 15h1m0-14h1m8-11h1m5 31h1m2-27h1m37 16h1m12-1h1m25-19h1m19-2h1m5 13h1m5-7h1m3 7h1m3 9h1m7-20h1m14 16h1m0-13h1m10 1h1m1 0h1m9 11h1m2-17h1m14 14h1m2-12h1m0 16h1m0-1h1m2-5h1m4 4h1m29 10h1m4 11h1m3-10h1m5-25h1m26 34h1m1-15h1m1-12h1m14 6h1m0 17h1m-1-28h1m4 32h1m7-35h1m5 14h1m-1-8h1m10 15h1m8 14h1m0-5h1m1 4h1m16-29h1m9-5h1m9 28h1m17-29h1m2 33h1m6 0h1m1-15h1m10-17h1m3-3h1m1 11h1m5 28h1m11-30h1m4 17h1m18 0h1m31 5h1m29-15h1m4 18h1m10-32h1m0 21h1m1-6h1m2 0h1m-1-3h1m3 13h1m8-12h1m10-5h1m1 3h1m1 19h1m-1 5h1m3 2h1m6-7h1m5-7h1m1-9h1m5-4h1m10 11h1m2-16h1m1 14h1m2-16h1m0-1h1m9 30h1m5-33h1m9 7h1m0 18h1m1-10h1m6 18h1m0-17h1m22 15h1m6 0h1m32 1h1m1 45h1m-1-8h1m-18-28h1m-2 6h1m-2 18h1m-7-23h1m-3 23h1m-8-25h1m-7 37h1m-2-22h1m-8-1h1m-8 6h1m-29 0h1m-1 11h1m-17-7h1m-3 1h1m-1 2h1m-13-8h1m-8-19h1m-1 18h1m-10 4h1m-8-11h1m-2 23h1m-4-12h1m-11 13h1m-3-15h1m-3-13h1m-6 1h1m-2 18h1m-4 7h1m-2-17h1m-3 15h1m-2-10h1m-2 9h1m-3-28h1m-7 9h1m-10-8h1m-2 19h1m-7 0h1m-4 10h1m-5 3h1m-4 1h1m-8-4h1m-34-14h1m-15 18h1m-9-10h1m-22-3h1m-3-21h1m-3 28h1m-30-26h1m-42-2h1m-10 14h1m-14 6h1m-12 16h1m-3-7h1m-5-11h1m-9 15h1m-1-31h1m-3-2h1m-10 8h1m-1 17h1m-1 10h1m-2-37h1m-9 10h1m-13 21h1m-17 4h1m-25-30h1m-5 11h1m-1 10h1m-9-18h1m-3-3h1m-3 11h1m-5 21h1m-4-7h1m-3 8h1m-7-30h1m-4 10h1m-2 0h1m-16-2h1m-19-13h1m-4-3h1m-7 6h1m-44-2h1m-10 29h1m-33-20h1m-12-4h1m-8-3h1m-26 29h1m-28-22h1m-2 21h1m-5-30h1m-27-2h1m-2 21h1m-24 8h1m-2-25h1m-113 27h1m126 31h1m20-20h1m4 6h1m1-6h1m14 28h1m11-1h1m0-14h1m7 2h1m3 16h1m1-22h1m2-7h1m8 20h1m-1 12h1m8-13h1m18-1h1m4-1h1m4-9h1m2 2h1m3 19h1m0-20h1m0 20h1m19-6h1m27-19h1m0 4h1m6-6h1m1-8h1m6 35h1m4-10h1m0-26h1m-1 13h1m3 2h1m0-9h1m8 0h1m2-1h1m4-1h1m9 1h1m9 20h1m1-8h1m6 16h1m4-5h1m11 3h1m12-17h1m-1 24h1m14-14h1m9 1h1m6 7h1m1-26h1m7-3h1m16 17h1m12-8h1m10-5h1m-1 24h1m2 8h1m6-34h1m-1 20h1m3-13h1m-1-10h1m2 30h1m5-23h1m10 21h1m5-3h1m11-20h1m1 30h1m19-18h1m7 8h1m12-13h1m3 11h1m3 12h1m1 1h1m6-21h1m0 5h1m14-10h1m0 2h1m0-1h1m-1-8h1m0 1h1m0 4h1m2-9h1m0 19h1m10 19h1m3-17h1m5-2h1m7 17h1m2-13h1m9-1h1m11-15h1m8-7h1m1 26h1m7 4h1m5-9h1m6-22h1m-1 3h1m11 6h1m8 14h1m16-4h1m0-6h1m5 12h1m0-9h1m0-8h1m3-7h1m8 17h1m4 11h1m4-4h1m1-24h1m0 37h1m2-29h1m0 26h1m1 2h1m3-31h1m18 7h1m8 5h1m0-11h1m4 13h1m5 19h1m0-3h1m-1-6h1m1-20h1m18-5h1m22 30h1m63-8h1m-5 33h1m-5 1h1m-3-11h1m-16 11h1m-5-12h1m-47 11h1m-3 7h1m-2-7h1m-11-7h1m-22-8h1m-12 27h1m-11-21h1m-7 12h1m-7-1h1m-4 4h1m-3-19h1m-1 17h1m-3-23h1m-4 21h1m-6-13h1m-54 27h1m-3-11h1m-25-1h1m-1 2h1m-16 9h1m-2-5h1m-9-6h1m-4 8h1m-5-5h1m-4-18h1m-3 27h1m-26-30h1m-27 11h1m-11 19h1m-27 1h1m-6-26h1m-23-7h1m-3 11h1m-11-2h1m-26-4h1m-5 14h1m-5-7h1m-7 22h1m-14-33h1m-12 10h1m-2 11h1m-9 6h1m-6-11h1m-7 4h1m-12 4h1m-4-15h1m-1-10h1m-5 27h1m-5-14h1m-1 21h1m-2-17h1m-10-14h1m-10 4h1m-5 18h1m-11-25h1m-4 9h1m-3 16h1m-8 2h1m-9 8h1m-10-30h1m-2 30h1m-9-4h1m-2-16h1m-2-15h1m-4 31h1m-11-10h1m-13-23h1m-4 8h1m-9 1h1m-4 11h1m-2 14h1m-10-21h1m-19 14h1m-1-25h1m-7 6h1m-9-6h1m-24 17h1m-15-21h1m-26 1h1m-6 3h1m-21 12h1m-16-11h1m-2-4h1m-1 32h1m-7 4h1m-16-32h1m51 54h1m9-6h1m9-12h1m12 1h1m6 5h1m6 16h1m12-10h1m0 7h1m-1 1h1m0 2h1m6 8h1m5-19h1m2-7h1m4-1h1m4 32h1m6-18h1m40-3h1m15 18h1m7-22h1m0 13h1m9-2h1m-1-7h1m-1-3h1m3-6h1m1 2h1m36 8h1m0 12h1m15 9h1m6-2h1m8-6h1m10-22h1m9 8h1m0 2h1m1-9h1m1 2h1m12 29h1m-1-31h1m26 0h1m5 21h1m4 7h1m11-7h1m2-26h1m4 28h1m2-3h1m3 10h1m2-24h1m1 0h1m2 1h1m0-4h1m3 15h1m10 1h1m0-13h1m8 4h1m4 2h1m21 1h1m4 4h1m7 9h1m4-6h1m1-28h1m3 13h1m7 0h1m6 6h1m1 7h1m6-24h1m49 23h1m0 4h1m0-27h1m2 5h1m15 24h1m0-23h1m5 5h1m4-12h1m8 34h1m5-2h1m14-11h1m7-16h1m3 28h1m18-32h1m-1 31h1m1 3h1m26 3h1m4-22h1m9-17h1m2 7h1m43 16h1m50 4h1m1-10h1m4 22h1m-39 18h1m-3 7h1m-4 1h1m-15-6h1m-9-19h1m-69 32h1m-25 5h1m-13-23h1m-4 18h1m-22-8h1m-1-1h1m-15-1h1m-4-19h1m-1 24h1m-31-20h1m-3 3h1m-13 20h1m-19 5h1m-12-17h1m-3 10h1m-1 3h1m-6-11h1m-22 18h1m-9-16h1m-1 14h1m-11-18h1m-4 21h1m-1-26h1m-1 26h1m-4-36h1m-3 15h1m-8 13h1m-13 4h1m-12-15h1m-10 8h1m-15-26h1m-13 19h1m-5 0h1m-1-11h1m-5 9h1m-2 12h1m-10 6h1m-7-15h1m-3-12h1m-6 17h1m-5-24h1m-4 23h1m-6 12h1m-22-11h1m-2-22h1m-6 2h1m-2 11h1m-5 20h1m-1-28h1m-20 11h1m-33-18h1m-2 10h1m-10-8h1m-3 22h1m-17-3h1m-13 7h1m-3-1h1m-13-22h1m-9 24h1m-2-16h1m-3-4h1m-6 20h1m-14-27h1m-16 15h1m-8-4h1m-9 20h1m-2-12h1m-3 14h1m-2-22h1m-18-7h1m-39-4h1m-26 5h1m-9-9h1m-30 0h1m159 40h1m16 20h1m1-1h1m1-17h1m9 5h1m49 24h1m5-16h1m8-8h1m1 25h1m-1-7h1m10 3h1m5-5h1m4 4h1m2-22h1m6 20h1m9 6h1m-1-10h1m0 6h1m1-4h1m2 15h1m7-14h1m4 5h1m5-24h1m16 22h1m2-20h1m14 10h1m1 5h1m7 15h1m2-26h1m2 27h1m2-2h1m0-22h1m0 12h1m0-2h1m11 8h1m2 2h1m3-29h1m15 4h1m2-3h1m6 12h1m17 19h1m2-25h1m9-2h1m6-6h1m4 16h1m16 1h1m9 12h1m15-16h1m25 13h1m7-10h1m7-8h1m5 24h1m1-28h1m-1 13h1m3-14h1m3 23h1m0-15h1m13 7h1m3-23h1m3 12h1m10-2h1m6 2h1m13 18h1m3-1h1m-1 3h1m5-3h1m1-5h1m19 11h1m14-25h1m5 25h1m2-27h1m10 21h1m36-26h1m-40 55h1m-30-16h1m-24 18h1m-5-4h1m-11-12h1m-10 1h1m-9 14h1m-8-6h1m-3 11h1m-7 10h1m-1-9h1m-5 5h1m-2-22h1m-6-1h1m-22 14h1m-3-21h1m-3 15h1m-15-2h1m-8 17h1m-10-30h1m-2 1h1m-6 17h1m-7 0h1m-10 10h1m-6-13h1m-4-3h1m-76 5h1m-18-6h1m-8-7h1m-6-1h1m-9 36h1m-3-20h1m-17 4h1m-3 1h1m-6-4h1m-13 1h1m-3-15h1m-4 18h1m-1-10h1m-4 15h1m-2 7h1m-31-21h1m-3 14h1m-3 8h1m-18-20h1m-5 11h1m-1 9h1m-18-16h1m-10-3h1m-22-5h1m-41 6h1m-34-19h1m66 65h1m20 7h1m8-4h1m15-6h1m4-8h1m17-4h1m9-8h1m4 6h1m9-4h1m1 24h1m18-13h1m16-14h1m5 24h1m17-5h1m8-11h1m0 12h1m2-14h1m128-7h1m16 4h1m10 0h1m17-3h1m40 1h1m14 5h1m13-1h1m10-6h1m0 7h1m-351 43h1m-11 4h1"/>
<path stroke="#ff7f0e" d="M5138 3387h1m8-3h1m46 7h1m4-9h1m2 14h1m14-8h1m13 10h1m35-27h1m43 24h1m15-5h1m27-2h1m13 1h1m27 42h1m-11-31h1m-5 34h1m-12-15h1m-16-7h1m-8 16h1m-15 2h1m-2-3h1m-1-7h1m-3 2h1m-2 0h1m-3 10h1m-2-19h1m-2-9h1m-2 9h1m-8 9h1m-3 8h1m-6-20h1m-2 0h1m-12 21h1m-1-25h1m-26 1h1m-3 12h1m-1-4h1m-3 7h1m-8-12h1m-8 1h1m-18 20h1m-3-2h1m-8-11h1m-3-14h1m-7 33h1m-4-4h1m-3-3h1m-2-10h1m-4 6h1m-3-7h1m-1 11h1m-8-9h1m-3 1h1m-8 16h1m-27 0h1m-4-38h1m-8 33h1m-1 2h1m-3-16h1m-3 7h1m-15-24h1m-21 16h1m-13 2h1m-12 13h1m-13-1h1m-4 0h1m-11-23h1m-27 18h1m-48 3h1m3 21h1m2 19h1m20-28h1m24 16h1m2-3h1m0 4h1m4 11h1m1-13h1m4-5h1m4 22h1m2-33h1m11 28h1m0 9h1m1 0h1m2-13h1m7 0h1m0-6h1m3-3h1m0 22h1m1-22h1m1 10h1m3-19h1m1 10h1m8-17h1m24 23h1m13-7h1m0-4h1m12 15h1m17-26h1m5 0h1m2 30h1m5-6h1m12 7h1m2 2h1m10-21h1m4-6h1m7 4h1m9 23h1m35-9h1m2 8h1m6-2h1m1-17h1m0 21h1m4-19h1m13 20h1m20-23h1m11 14h1m1 11h1m13-7h1m0-10h1m3 2h1m6 13h1m8-29h1m19 16h1m-17 39h1m-14-12h1m-3 2h1m-7 7h1m-6-1h1m-17-7h1m-1-11h1m-1 25h1m-4-14h1m-4 7h1m-12-18h1m-4 2h1m-3 13h1m-4 1h1m-7-15h1m-9 35h1m-7-10h1m-14-15h1m-6 27h1m-2-7h1m-11-23h1m-4 4h1m-3 15h1m-11 1h1m-16 6h1m-14-26h1m-6 13h1m-9 9h1m-4-29h1m-2 32h1m-2-13h1m-14 5h1m-22 3h1m-6-10h1m-13 4h1m-16-2h1m-15-18h1m-13 23h1m-12 0h1m-2-14h1m-21-11h1m-12 38h1m-10-6h1m-14-12h1m-1 12h1m-8-11h1m-23 3h1m-8-14h1m-7 5h1m-20-3h1m-2 11h1m-22-3h1m-70 35h1m8 19h1m1-21h1m49-8h1m5 1h1m3 32h1m13-6h1m10-9h1m6-19h1m1 18h1m-1-1h1m3 9h1m3 9h1m10-39h1m6 3h1m0 15h1m2 2h1m25-14h1m5-4h1m0 34h1m5-17h1m10-17h1m1 25h1m3-25h1m26 24h1m14 11h1m18-5h1m18-10h1m4-3h1m13-3h1m11-4h1m8-7h1m9 21h1m10 1h1m8-8h1m3-9h1m7 5h1m12-10h1m-1 33h1m17-23h1m4 9h1m3-21h1m3 2h1m30-3h1m18 33h1m14-4h1m3 3h1m1 2h1m0-16h1m12-2h1m-1-14h1m14 27h1m14-26h1m-1 2h1m3 21h1m19-4h1m95-6h1m16 19h1m7-8h1m1-12h1m1 13h1m11-15h1m4 23h1m1-23h1m6 5h1m4 5h1m3 12h1m7-25h1m5 6h1m2 6h1m2-16h1m3 19h1m3 1h1m53 14h1m-11 28h1m-15 0h1m-5-4h1m-19-13h1m-4 19h1m-3-6h1m-9-9h1m-17-17h1m-19 6h1m-1 24h1m-4-8h1m-15-7h1m-8-15h1m-9 15h1m-16 19h1m-9 4h1m-3-8h1m-6 2h1m-7 5h1m-15-34h1m-5 14h1m-7 0h1m-2-5h1m-8 14h1m-71-23h1m-15 21h1m-5 4h1m-2-16h1m-6 11h1m-4-18h1m-12-5h1m-7 22h1m-17-15h1m-20-7h1m-2 15h1m-46 8h1m-11 6h1m-1-2h1m-6-25h1m-4 22h1m-40 1h1m-5-25h1m-23 5h1m-2-3h1m-4 1h1m-16 28h1m-8-9h1m-2 15h1m-22-28h1m-17 28h1m-5-37h1m-4 30h1m-3-14h1m-7 9h1m-1-9h1m-5-14h1m-12 7h1m-3 15h1m-2 4h1m-9-18h1m-7 17h1m-20 0h1m-8 7h1m-9-12h1m-2-11h1m-9 12h1m-4-12h1m-3 4h1m-10-3h1m-3 9h1m-18-1h1m-9 8h1m-2-8h1m-12-10h1m-13 18h1m-2-13h1m-6 15h1m-8-21h1m-3 16h1m-3 0h1m-30 5h1m-20-25h1m-12 30h1m-2-14h1m-1 10h1m-9-14h1m-12 15h1m-5 7h1m-3-21h1m-8-5h1m-5 1h1m-1 25h1m-2-10h1m-11-8h1m-41 23h1m11 6h1m6 19h1m12-16h1m-1 4h1m3-15h1m1 37h1m6-35h1m1 0h1m7 25h1m6-18h1m26-11h1m3 32h1m12 2h1m6 2h1m17 1h1m1-21h1m7-9h1m10-4h1m2 20h1m1 6h1m2-15h1m11 17h1m5 4h1m4-20h1m19 1h1m8-11h1m4 7h1m0-4h1m8 23h1m18-24h1m1 12h1m0 17h1m13-18h1m9-1h1m13 6h1m11-11h1m0 25h1m1-35h1m0 19h1m12-9h1m4 17h1m0 0h1m3-10h1m-1 15h1m8-26h1m2-3h1m3 5h1m1-4h1m21-5h1m17 26h1m5 6h1m11-3h1m4-8h1m6 7h1m-1-18h1m7 21h1m3-20h1m30 23h1m12-3h1m12-14h1m17-4h1m10 8h1m1-4h1m-1 18h1m-1-20h1m4 21h1m1-31h1m4 28h1m10-10h1m5-15h1m2 21h1m-1-20h1m37 14h1m14-18h1m19 11h1m6 7h1m12 1h1m8-20h1m0 15h1m8 1h1m0-18h1m10 11h1m3-4h1m8 1h1m29 4h1m2 2h1m-1 2h1m7 15h1m4-28h1m0 9h1m4-9h1m3 0h1m3 18h1m20-17h1m1 26h1m0-21h1m17-3h1m10 13h1m14 5h1m5-4h1m0 3h1m12 11h1m1-3h1m43 43h1m-53-17h1m-4-18h1m-42 1h1m-1 23h1m-46 13h1m-3-11h1m-5-6h1m-4 7h1m-16 8h1m-22-21h1m-3 10h1m-41 9h1m-4-31h1m-2 29h1m-8-3h1m-15-27h1m-8 18h1m-2 2h1m-1 14h1m-11 2h1m-10-36h1m-7 25h1m-8 10h1m-6-5h1m-9-13h1m-10 3h1m-11-18h1m-25-1h1m-3 4h1m-2 6h1m-14 15h1m-6 2h1m-14 3h1m-11-18h1m-7-15h1m-5 21h1m-3 2h1m-10-3h1m-25-20h1m-2 0h1m-12 17h1m-5 13h1m-5-12h1m-2 10h1m-11-25h1m-4 18h1m-28-20h1m-11 4h1m-1 14h1m-3 4h1m-14 10h1m-4-3h1m-18-12h1m-9 12h1m-1-31h1m-4 0h1m-1 29h1m-4-21h1m-13 21h1m-13-10h1m-9-9h1m-5 11h1m-4 3h1m-21-2h1m-7-16h1m-10 27h1m-10 1h1m-15 1h1m-3-30h1m-13 17h1m-6-3h1m-2-19h1m-5 25h1m-2 8h1m-9-30h1m-3 23h1m-4-6h1m-4 11h1m-11-10h1m-15 2h1m-3-21h1m-5 6h1m-2-2h1m-15-5h1m-10 36h1m-5-30h1m-13 13h1m-25-15h1m-11 10h1m-14-7h1m-3 13h1m-11 3h1m-4-10h1m-2 15h1m-3 1h1m-12-7h1m-42 7h1m-8-25h1m-324 5h1m362 58h1m28-9h1m2 12h1m-1-9h1m0-12h1m4 2h1m1 26h1m3-21h1m11 8h1m-1-2h1m4 16h1m3-13h1m16-5h1m4-10h1m4-10h1m3 12h1m0 24h1m-1-14h1m2 15h1m3-9h1m2-6h1m1-20h1m11 7h1m2-2h1m2 13h1m6-13h1m8 13h1m3 11h1m7-19h1m1 22h1m16 0h1m0-27h1m0 23h1m2-3h1m4 7h1m8-17h1m1-4h1m10 18h1m5-16h1m-1 19h1m10 0h1m1-11h1m2-12h1m9 8h1m18 18h1m4-13h1m5-3h1m0-19h1m7 7h1m7 0h1m22 7h1m1 5h1m8-7h1m12 15h1m11-17h1m3 9h1m-1 16h1m0-32h1m10 4h1m6-2h1m13 27h1m2-22h1m21 7h1m3 17h1m21-12h1m2-5h1m18 9h1m6 9h1m0-31h1m2 6h1m1 26h1m1-25h1m4 19h1m25-13h1m3 13h1m1-6h1m-1-24h1m0 16h1m13-9h1m45 9h1m2 1h1m-1-10h1m1 13h1m35-21h1m5 32h1m6-8h1m1-2h1m11 12h1m4-14h1m1 9h1m0-9h1m10-11h1m11 0h1m13-1h1m12 29h1m9-37h1m-1 18h1m0 19h1m-1-39h1m6 13h1m1 9h1m0 1h1m7-5h1m7 15h1m-1-31h1m11 15h1m9 0h1m8-6h1m1-3h1m8 27h1m6 0h1m3-28h1m13 15h1m2-7h1m-1-7h1m12 8h1m0-4h1m3-6h1m8 3h1m0 19h1m4-7h1m9-11h1m12-6h1m11 13h1m24 29h1m-10 30h1m-4-32h1m-18 29h1m-8 5h1m-8-36h1m-12 37h1m-18-2h1m-3-34h1m-5-1h1m-5 5h1m-4 30h1m-12-28h1m-19 14h1m-2-8h1m-3 9h1m-5-8h1m-3 20h1m-3-26h1m-1 29h1m-2-16h1m-6 4h1m-9-16h1m-11-1h1m-37 22h1m-5-8h1m-36-15h1m-4 24h1m-7 2h1m-3-34h1m-10 1h1m-26 25h1m-4 12h1m-1-29h1m-2 7h1m-2-14h1m-1 11h1m-12-4h1m-3 3h1m-6 25h1m-7-29h1m-25 24h1m-3 4h1m-4-36h1m-5 17h1m-26-11h1m-5 26h1m-12-16h1m-5 8h1m-12-1h1m-14 13h1m-3-20h1m-5-12h1m-7 15h1m-4 9h1m-7-9h1m-55-7h1m-37 1h1m-6-12h1m-5 34h1m-9-32h1m-3 7h1m-11 4h1m-4 6h1m-7 5h1m-1-15h1m-4-6h1m-9 23h1m-2 3h1m-2-7h1m-4 5h1m-6-8h1m-8-16h1m-4 12h1m-5-10h1m-19-6h1m-5 19h1m-8-20h1m-30 25h1m-1-20h1m-3 4h1m-2 7h1m-16-4h1m-6-7h1m-12 18h1m-21 5h1m-4-4h1m-11-20h1m-7 17h1m-7 4h1m-9-16h1m-10 23h1m-1-9h1m-2-7h1m-4 10h1m-1-4h1m-25 3h1m-40-14h1m-9 25h1m-23-10h1m-8-23h1m-9 1h1m-13 24h1m-2-8h1m-6-11h1m-13 22h1m-10 5h1m-8-20h1m-43-16h1m-91 50h1m39 20h1m64-5h1m28 5h1m15-8h1m-1-12h1m5 16h1m13-18h1m1 2h1m12 5h1m11-2h1m2 8h1m11 8h1m2 3h1m-1 3h1m1 0h1m13-2h1m4 4h1m-1-6h1m2-17h1m7-6h1m24-6h1m6 7h1m9 10h1m9 11h1m23 6h1m6-34h1m-1 29h1m5-8h1m17 2h1m8 0h1m22 6h1m13-15h1m1 23h1m4-12h1m5-9h1m1-9h1m3-4h1m1 13h1m2-13h1m9 34h1m5-7h1m4-10h1m2 0h1m4-16h1m0 18h1m5-22h1m3 4h1m0-6h1m-1 32h1m3-5h1m2-12h1m0-14h1m16 36h1m7-33h1m15 18h1m0 6h1m2-18h1m1-6h1m-1 8h1m0-5h1m4-5h1m23 8h1m12 5h1m0-3h1m0-5h1m9 8h1m3 12h1m4-22h1m5 18h1m1-22h1m15 16h1m27-2h1m11 7h1m10-6h1m5 14h1m16-27h1m4 3h1m1 5h1m4-10h1m14 5h1m6-6h1m22 15h1m0 18h1m20 6h1m3-5h1m6 3h1m2 2h1m7-10h1m4-20h1m1 15h1m1-16h1m4 3h1m-1 8h1m14 19h1m13-6h1m15-25h1m9 28h1m0-30h1m8 25h1m1-25h1m-1 7h1m6-12h1m21 0h1m3 30h1m8-10h1m9 9h1m15-12h1m0 0h1m12 1h1m13 20h1m4-14h1m0 0h1m27 5h1m0-15h1m17-12h1m-1 16h1m0-8h1m-33 46h1m-14-9h1m-1 4h1m-8 4h1m-1-8h1m-3 1h1m-7 19h1m-2 5h1m-6-19h1m-4 3h1m-4 13h1m-1-23h1m-4 30h1m-6-21h1m-21 6h1m-3-18h1m-9-1h1m-9 28h1m-4-18h1m-14-10h1m-13 11h1m-9 3h1m-4 16h1m-2 4h1m-7-31h1m-2 14h1m-19 14h1m-4-5h1m-5-12h1m-4 5h1m-25-5h1m-3 10h1m-2-17h1m-6 8h1m-3 1h1m-3-1h1m-3 5h1m-6-13h1m-10 8h1m-1 1h1m-11 15h1m-5-21h1m-14 10h1m-12 15h1m-12-11h1m-3-14h1m-39-9h1m-1 3h1m-16 9h1m-14 10h1m-12-18h1m-4 2h1m-4 5h1m-3 4h1m-7-5h1m-11-11h1m-1 32h1m-23-27h1m-12 3h1m-6-1h1m-1 23h1m-9-12h1m-8 7h1m-1 2h1m-6 9h1m-10-10h1m-9 5h1m-3-11h1m-15 6h1m-5 11h1m-5-14h1m-1 5h1m-9 6h1m-13-23h1m-23-10h1m-10 8h1m-10 20h1m-4-18h1m-7 1h1m-10 25h1m-9-27h1m-3 6h1m-3-2h1m-12 13h1m-11-17h1m-4-6h1m-1 4h1m-14-3h1m-33 9h1m-3-15h1m-19 1h1m-12 12h1m-3 16h1m-3-28h1m-12 2h1m-10 18h1m-1-21h1m-9 33h1m-7-31h1m-3 33h1m-18-30h1m-4-2h1m-2 15h1m-2-8h1m-4 8h1m-12 18h1m-5-31h1m-4 15h1m-16-7h1m-22 7h1m-7-6h1m-1 1h1m-10 13h1m-5-19h1m-5 24h1m-13-10h1m-28 4h1m-13 11h1m-20-6h1m-18 21h1m7 0h1m6-3h1m5-7h1m2 2h1m12 11h1m4 3h1m16 16h1m10-27h1m0 9h1m2 14h1m0 2h1m4-1h1m18-2h1m0-9h1m1 1h1m1-16h1m17 9h1m1 1h1m-1 4h1m-1 17h1m5-34h1m4 15h1m7 9h1m0-18h1m13 10h1m1 4h1m18 4h1m3-28h1m6 11h1m3-8h1m1 25h1m1-17h1m8 16h1m5 8h1m0-27h1m8 5h1m0-3h1m0 8h1m0-17h1m0 12h1m3 15h1m2-15h1m8-13h1m4 13h1m3 23h1m-1-11h1m-1-18h1m19 3h1m5 5h1m1-15h1m-1 10h1m9 27h1m0-24h1m0 18h1m0-7h1m2-9h1m8 20h1m14 1h1m21-13h1m3 1h1m13 12h1m3-13h1m23-12h1m3-7h1m-1 22h1m-1 4h1m5-21h1m-1 27h1m7-29h1m2 18h1m20 11h1m14-21h1m2-13h1m11 23h1m0-4h1m19 15h1m0-31h1m31 29h1m5-27h1m12 24h1m2-10h1m2-13h1m2-3h1m0 17h1m6 4h1m0-22h1m3-4h1m15 5h1m5 2h1m2-5h1m12 6h1m2 8h1m4-10h1m6 8h1m2 23h1m3-4h1m1-16h1m8 10h1m6-10h1m3 1h1m7 15h1m0-24h1m4 2h1m17 8h1m0 17h1m7-28h1m5 10h1m3-14h1m2 32h1m13-9h1m6 3h1m0-24h1m1 15h1m3-3h1m1 8h1m13-17h1m9-1h1m0 4h1m6 26h1m6-11h1m13-25h1m15 16h1m45 1h1m10 17h1m12-3h1m-39 27h1m-7-17h1m-7 24h1m-5-17h1m-11 24h1m-1-33h1m-6 0h1m-2 5h1m-3 20h1m-9-2h1m-53-17h1m-4 26h1m-14-25h1m-4-3h1m-8 28h1m-19 6h1m-8-23h1m-2 19h1m-3-25h1m-1-8h1m-35 9h1m-3-8h1m-3 22h1m-34 12h1m-7-1h1m-3-36h1m-10 17h1m-7 10h1m-3-14h1m-19 23h1m-5-10h1m-22 4h1m-6-27h1m-2 17h1m-4 14h1m-21-5h1m-5 6h1m-15-10h1m-4 4h1m-14-1h1m-2-22h1m-1 20h1m-7-5h1m-8 13h1m-5-32h1m-2-2h1m-5 28h1m-9-26h1m-3 20h1m-17 11h1m-2-2h1m-3 6h1m-2-13h1m-1 4h1m-5 5h1m-4-32h1m-2 7h1m-8-5h1m-9 31h1m-1-7h1m-10-21h1m-23 27h1m-8 3h1m-4-28h1m-1 10h1m-7-9h1m-8-7h1m-2 9h1m-19-2h1m-6-8h1m-22 17h1m-2-13h1m-10 7h1m-10 6h1m-14 11h1m-4 0h1m-9-9h1m-2 19h1m-3-28h1m-1 16h1m-2-17h1m-18 19h1m-6-1h1m-4-6h1m-4 1h1m-16 12h1m-5 3h1m-10-23h1m-3 23h1m-11 0h1m-1-10h1m-7-28h1m-8 14h1m-3 2h1m-11 20h1m-3-30h1m-2-6h1m-11 18h1m-2-2h1m-23 0h1m-6 6h1m-6 5h1m-3-17h1m-9 0h1m-2 11h1m-18 14h1m-9-3h1m-3-11h1m-10 5h1m-3 12h1m-5-38h1m-10 16h1m-5-12h1m-10 29h1m-33-1h1m-3 0h1m-10-16h1m-13 18h1m-9 6h1m10 30h1m26 0h1m11 2h1m2-4h1m5-22h1m9 33h1m7-16h1m-1 14h1m9 0h1m8-7h1m0-15h1m2 0h1m13 3h1m1 9h1m-1-20h1m0 11h1m1-10h1m1 14h1m1-6h1m1 4h1m7-20h1m9 4h1m4 9h1m11 1h1m31-8h1m0 32h1m7-29h1m14 7h1m0 5h1m6 17h1m0-28h1m6-2h1m10 24h1m48-30h1m18 34h1m8-24h1m2 21h1m3-22h1m6-4h1m3 6h1m4 23h1m3-21h1m8 19h1m6 5h1m3-33h1m2 5h1m1-5h1m13-2h1m0 5h1m3 20h1m3-10h1m24 6h1m4-19h1m-1 28h1m3-25h1m6 28h1m8-33h1m7 11h1m1-5h1m1 29h1m3-20h1m0 14h1m10-5h1m-1 1h1m2-18h1m0 12h1m3-13h1m2 1h1m13 19h1m13-17h1m5-12h1m1 38h1m4-18h1m12-4h1m9-4h1m13 7h1m2-13h1m10 13h1m6-11h1m9-7h1m20 5h1m8 12h1m2 2h1m4-11h1m1-7h1m5 5h1m12-8h1m5 20h1m25-18h1m7 2h1m6 14h1m-1-6h1m6 27h1m0-19h1m8 19h1m2-27h1m0 25h1m3-21h1m2-5h1m3 7h1m4 17h1m14 2h1m8-8h1m2-24h1m9 30h1m0 1h1m26-3h1m15-30h1m8 3h1m7-5h1m-30 60h1m-3-9h1m-18-12h1m-10 4h1m-6 20h1m-3-14h1m-2-3h1m-6 0h1m-10 21h1m-4-7h1m-5-5h1m-12 4h1m-6-5h1m-12 20h1m-22-12h1m-4 2h1m-14 10h1m-39-27h1m-3 14h1m-8-2h1m-5 13h1m-12-5h1m-10-11h1m-21 6h1m-30 7h1m-3-12h1m-11-14h1m-4 6h1m-16-3h1m-1 32h1m-12-11h1m-4-5h1m-16-10h1m-2 13h1m-20-16h1m-9 24h1m-2-11h1m-6-3h1m-2 17h1m-4-13h1m-7 14h1m-2-31h1m-1 16h1m-1 1h1m-3-20h1m-4 2h1m-10 7h1m-4 26h1m-4-33h1m-16 9h1m-4-11h1m-22 18h1m-14 9h1m-20-20h1m-4 8h1m-8 7h1m-4-25h1m-8 24h1m-4-9h1m-2 14h1m-12-2h1m-19-23h1m-3 31h1m-2-25h1m-2 1h1m-21-3h1m-4 30h1m-4-27h1m-10 3h1m-11-7h1m-5 20h1m-11-3h1m-4 1h1m-14 3h1m-1-6h1m-6-23h1m-14 0h1m-10 6h1m-18-5h1m-2 20h1m-7 4h1m-4 10h1m-4-18h1m-2-4h1m-4-9h1m-26 24h1m-1-24h1m-13 0h1m-9-1h1m-13 34h1m-3-21h1m-4-16h1m-5 8h1m-2 23h1m-9-11h1m-10-20h1m-18 16h1m59 24h1m12 7h1m-1-7h1m2 15h1m12-7h1m-1 0h1m4 5h1m-1 20h1m2-26h1m8-6h1m8 30h1m7-4h1m3-26h1m27 19h1m1-6h1m10 14h1m6 8h1m6-2h1m-1-5h1m6 8h1m7-26h1m0 27h1m1-22h1m13 7h1m0-15h1m13 4h1m15 23h1m-1-31h1m2 4h1m4-4h1m9-2h1m0 7h1m4 12h1m6-1h1m20 0h1m0-20h1m0 38h1m20-8h1m14-16h1m10 2h1m3 22h1m3-6h1m13-11h1m1 12h1m2-28h1m0 23h1m2-4h1m0 9h1m8-11h1m11 15h1m3-10h1m0-14h1m1 13h1m0-24h1m2 0h1m2 23h1m6 9h1m2-2h1m1-12h1m3-2h1m0 9h1m15-9h1m11-2h1m6-6h1m21 9h1m0-14h1m5 29h1m7-8h1m35 7h1m2-14h1m10-18h1m-1 0h1m3 16h1m0 7h1m-1-14h1m8 20h1m-1-14h1m0 19h1m0-33h1m0 27h1m1 7h1m1-13h1m9 4h1m1 4h1m0-20h1m41 22h1m1-24h1m17 8h1m15 4h1m8 6h1m5 4h1m19-25h1m20 19h1m-12 44h1m-9-26h1m-3 26h1m-5-26h1m-6 22h1m-8 6h1m-9-24h1m-2 13h1m-8 8h1m-7-23h1m-21 11h1m-13 10h1m-4-4h1m-2-12h1m-2 20h1m-1 1h1m-3-15h1m-20 22h1m-1-1h1m-6-10h1m-5-25h1m-3 7h1m-3 7h1m-17 16h1m-4-3h1m-2-7h1m-10-19h1m-4 19h1m-5-7h1m-9-9h1m-23 32h1m-10-34h1m-4 17h1m-4-21h1m-5 35h1m-1-30h1m-44 4h1m-7 17h1m-10-8h1m-16 20h1m-15-35h1m-5 14h1m-7 12h1m-17-6h1m-5-4h1m-7-1h1m-4-9h1m-12 25h1m-1-22h1m-16 25h1m-22-21h1m-13 11h1m-7-7h1m-4-13h1m-2 6h1m-3-9h1m-5 15h1m-9-4h1m-14 23h1m-5-5h1m-3-22h1m-5 16h1m-3-16h1m-16 24h1m-8-12h1m-9-17h1m-4 30h1m-3-9h1m-2 12h1m-7-21h1m-5-4h1m-12 18h1m-6-26h1m-1 18h1m-23 2h1m-15-22h1m-10 10h1m-24 9h1m-6 15h1m-3-4h1m-3-34h1m-5 32h1m-6-13h1m-6 2h1m-18 13h1m-4-18h1m-26 20h1m8 30h1m4-15h1m19 5h1m3-3h1m4 8h1m2-14h1m15 13h1m4 5h1m4-24h1m17 1h1m1 15h1m4-11h1m17 22h1m17-19h1m0 23h1m0-21h1m2 2h1m5-10h1m0 36h1m6-2h1m1-12h1m24 8h1m1 4h1m27-8h1m9 2h1m1-15h1m-1-6h1m3-2h1m-1 20h1m0-5h1m4 8h1m6-9h1m-1 15h1m6-28h1m32 10h1m5 6h1m23-24h1m3 35h1m0-35h1m27 11h1m4-7h1m15 20h1m1 10h1m5-35h1m-1 9h1m2 18h1m2-24h1m9 1h1m3 22h1m8-21h1m5 25h1m-1-22h1m9 21h1m14 8h1m3-19h1m9 4h1m8 15h1m4-5h1m7-4h1m4-26h1m1 33h1m5-2h1m13 4h1m5-2h1m12-30h1m5 14h1m20 7h1m10 1h1m1-3h1m31 1h1m4-6h1m8-16h1m6 5h1m6 25h1m19-22h1m19-7h1m4 9h1m-2 43h1m-29-15h1m-2 3h1m-3 3h1m-4-1h1m-5 30h1m-3-7h1m-3-3h1m-10-21h1m-7 20h1m-1-7h1m-3-7h1m-3 7h1m-32-2h1m-2 0h1m-11 18h1m-19 5h1m-4-38h1m-5 29h1m-39-19h1m-3-3h1m-4 6h1m-3-6h1m-9-5h1m-18 27h1m-6 6h1m-10-10h1m-13 0h1m-9 10h1m-1 0h1m-2-31h1m-2 13h1m-2-1h1m-7-8h1m-10 30h1m-10-27h1m-5-10h1m-19 30h1m-14-2h1m-2-3h1m-6-1h1m-1-21h1m-26 0h1m-7 11h1m-8-2h1m-2 3h1m-5-1h1m-2 21h1m-1-21h1m-2 21h1m-4-10h1m-4-7h1m-3 7h1m-2-2h1m-15 7h1m-5 3h1m-1 3h1m-21-3h1m-3-4h1m-24-6h1m-1 5h1m-12-18h1m-4 5h1m-4-12h1m-1 7h1m-6 17h1m-4-26h1m-2 9h1m-6-1h1m-1-6h1m-8 21h1m-10-20h1m-31 3h1m-1 27h1m-22-6h1m-3-14h1m-2 18h1m-3-1h1m-9-29h1m-5 32h1m-7-6h1m-3 8h1m-9-27h1m-9-4h1m-2 18h1m-5-22h1m-2 32h1m-6-28h1m-3 26h1m-15-3h1m-4-19h1m-2 21h1m-1 6h1m-4-9h1m-9-20h1m-5 23h1m-6 5h1m-3-10h1m-9-17h1m-9 4h1m-6 25h1m-18-19h1m19 56h1m17-27h1m2-6h1m17 28h1m0 4h1m-1-17h1m-1-8h1m22 21h1m0-28h1m4-3h1m5 22h1m2-2h1m4-13h1m1 4h1m-1 19h1m18-16h1m9 3h1m-1 19h1m13 2h1m21-32h1m8 7h1m8 23h1m16-11h1m12 4h1m2-12h1m10-15h1m2 35h1m7-6h1m1-25h1m2 28h1m2-17h1m6 14h1m9-27h1m1 31h1m9 4h1m2-27h1m3-12h1m8 26h1m10 13h1m25-38h1m3 27h1m13-19h1m12 7h1m4-13h1m-1 36h1m6-2h1m0-4h1m5-31h1m3 14h1m13-9h1m4 32h1m10-23h1m4 5h1m12 6h1m6-6h1m0 8h1m5-27h1m19 25h1m2-20h1m2 15h1m8 11h1m1-10h1m16-9h1m3-11h1m3 22h1m2-7h1m6-9h1m6-2h1m42 24h1m0 2h1m2 3h1m17-4h1m39 7h1m0 0h1m19-19h1m17 15h1m2-35h1m1 23h1m3-19h1m7 9h1m35 65h1m-45-32h1m-1-2h1m-4 4h1m-29 20h1m-8-13h1m-4-8h1m-8 12h1m-1-15h1m-5 20h1m-26-22h1m-4 6h1m-9-1h1m-10 8h1m-4 12h1m-4 8h1m-21-26h1m-3 23h1m-20-15h1m-10-6h1m-10 28h1m-4-39h1m-18 18h1m-2-10h1m-6-7h1m-8 8h1m-11 7h1m-34 21h1m-1-29h1m-6 17h1m-16 11h1m-3-24h1m-7-6h1m-1-3h1m-4 23h1m-6 9h1m-19-20h1m-6-15h1m-1 16h1m-4 19h1m-2-8h1m-1-6h1m-11-17h1m-13 1h1m-29 17h1m-15-6h1m-9-5h1m-7-11h1m-2 3h1m-5 31h1m-14-14h1m-4 17h1m-8-10h1m-3 11h1m-2-4h1m-2-19h1m-7 10h1m-6 10h1m-10-27h1m-2 14h1m-3-8h1m-2-4h1m-21 5h1m-6-14h1m-3 17h1m-4-5h1m-7 10h1m-19-11h1m-2 2h1m-11 0h1m-5-12h1m-6 29h1m-3-16h1m-8-6h1m-1-2h1m-2 1h1m-2 0h1m-17 0h1m-2 14h1m-12-8h1m-3 18h1m-3-11h1m-1-14h1m-4 30h1m-3-8h1m-2-5h1m-1-20h1m-4 3h1m-7 18h1m-6-4h1m-5-17h1m-9 31h1m-23 0h1m-7-32h1m-16 22h1m3 15h1m5 0h1m16 7h1m13-1h1m5-6h1m1 22h1m2-10h1m12 16h1m0-17h1m0 0h1m4 23h1m1-12h1m0-1h1m3 14h1m1-6h1m3 8h1m4 2h1m2-21h1m1-2h1m11 8h1m2 8h1m0-32h1m7 12h1m5 17h1m-1 2h1m1 5h1m8-30h1m1 5h1m1-7h1m4 28h1m3-19h1m5 11h1m11 14h1m-1-35h1m4 13h1m9 7h1m13 16h1m7-38h1m11 24h1m1-11h1m10 8h1m2 2h1m5 12h1m4-33h1m4 19h1m6 16h1m1-15h1m0 11h1m1-20h1m5 5h1m8-4h1m1-8h1m12 28h1m24-12h1m0-23h1m-1 18h1m8-7h1m-1-10h1m3 34h1m2-30h1m6-3h1m12 19h1m2-14h1m5 28h1m1-20h1m5 15h1m1-12h1m25-17h1m15 21h1m16-3h1m2-8h1m3 3h1m12-8h1m34 1h1m7-1h1m4 8h1m1-12h1m8 15h1m8-7h1m7 1h1m4 0h1m3-2h1m5-3h1m12 5h1m3-4h1m12 18h1m4-16h1m-1-9h1m16 24h1m19-6h1m2 20h1m-1-14h1m9 8h1m2-16h1m9 1h1m3 11h1m5-12h1m4 13h1m5 3h1m37 40h1m-7 3h1m-6-4h1m-2-23h1m-4 14h1m-2 13h1m-5-19h1m-23 23h1m-12-10h1m-3-28h1m-23 26h1m-1-10h1m-1-6h1m-6 0h1m-9 8h1m-31-10h1m-11 27h1m-8-21h1m-6 22h1m-14-30h1m-17 12h1m-4-13h1m-12 11h1m-2-4h1m-29 15h1m-8 1h1m-7-11h1m-15 2h1m-1 4h1m-2 0h1m-18-3h1m-6 6h1m-4-7h1m-5 19h1m-3-32h1m-21 9h1m-22 21h1m-6-31h1m-5 10h1m-17 1h1m-15 22h1m-6-14h1m-2-15h1m-7 27h1m-3-21h1m-61 5h1m-2-3h1m-18 10h1m-8-17h1m-2 26h1m-6-34h1m-9 20h1m-52-15h1m-13 5h1m-1 5h1m-3-6h1m-2-6h1m-5 10h1m-23-8h1m-3 17h1m-2-2h1m-2-23h1m-2 25h1m-2 3h1m-9 11h1m-9-6h1m-8-28h1m-5-3h1m-2 20h1m-2-11h1m-3-6h1m-5 18h1m-3 4h1m-8-20h1m-1 18h1m-2-5h1m-19-7h1m-2 3h1m-14 15h1m-1-11h1m-2-18h1m-5 6h1m-2 8h1m-4 21h1m-11-15h1m-7-14h1m-1 15h1m-10 9h1m10 11h1m20-3h1m16 21h1m3-7h1m-1-10h1m13 17h1m47 11h1m0-8h1m10 5h1m1-3h1m16 10h1m15-33h1m20 3h1m5 23h1m7-20h1m1 24h1m14-28h1m2 28h1m4-24h1m-1 30h1m4-20h1m3 20h1m3-29h1m2 28h1m7-34h1m2 14h1m1-15h1m4 2h1m26 34h1m37-9h1m0-22h1m18-7h1m3 30h1m24-16h1m7-10h1m0 31h1m43-32h1m15 20h1m2-19h1m27 23h1m1 4h1m2-16h1m14 14h1m3-16h1m-1 1h1m35 4h1m4 11h1m22-12h1m3-7h1m0 21h1m9-18h1m9 23h1m0-29h1m5 1h1m3 2h1m2 12h1m42 8h1m-1-31h1m7 15h1m1 6h1m0-2h1m2-9h1m3-2h1m9 3h1m3 26h1m21-20h1m3-3h1m24 18h1m24 46h1m-28-24h1m-13 21h1m-7-7h1m-10-10h1m-16 7h1m-10 8h1m-38-3h1m-12-29h1m-3 11h1m-1 11h1m-20-14h1m-10 11h1m-16 7h1m-12-18h1m-12-7h1m-15 30h1m-2-14h1m-2 14h1m-14-26h1m-24 12h1m-14 15h1m-20-19h1m-3-5h1m-1 25h1m-5-31h1m-12 30h1m-3 1h1m-4-15h1m-4-19h1m-2 30h1m-5-1h1m-4-23h1m-3 12h1m-5 17h1m-18-30h1m-14 0h1m-5 7h1m-8 4h1m-6-10h1m-12 15h1m-10-16h1m-7 34h1m-7-35h1m-11 22h1m-2-7h1m-2 2h1m-2-5h1m-4 3h1m-13-13h1m-2-3h1m-7 8h1m-1 1h1m-3 20h1m-10-7h1m-4-13h1m-2 15h1m-4-27h1m-4 34h1m-14-33h1m-10 33h1m-5 4h1m-14-38h1m-28 9h1m-6 24h1m-4 0h1m-6-13h1m-2-8h1m-1-8h1m-12 30h1m-8-29h1m-6 27h1m-12-1h1m-12-16h1m-7-7h1m-16-5h1m-49 3h1m100 34h1m14 31h1m25-18h1m0 2h1m0 8h1m5 9h1m1 5h1m1-6h1m4-9h1m1-8h1m-1-5h1m7-7h1m-1 7h1m0 1h1m0 22h1m7 1h1m1-7h1m4-18h1m7 22h1m6 5h1m14-28h1m15 32h1m1-32h1m-1 5h1m1 8h1m2 19h1m3-30h1m3 7h1m1 10h1m3-9h1m2-9h1m10 19h1m6-23h1m2 9h1m0-5h1m3 2h1m2-3h1m6 28h1m3-31h1m1 19h1m11 4h1m-1-25h1m12 18h1m3 7h1m1 11h1m12-34h1m0 29h1m6-16h1m7-14h1m1 35h1m-1-9h1m3 7h1m18-24h1m6 26h1m19-13h1m1-24h1m6 28h1m3-15h1m-1 9h1m7 11h1m12-9h1m8 8h1m13 5h1m7-19h1m17 5h1m0 6h1m2-2h1m4 11h1m6-26h1m0 1h1m0-6h1m2-1h1m0 4h1m-1 5h1m0 4h1m28-9h1m-1-4h1m1-6h1m19 9h1m7-8h1m1 3h1m1 20h1m1-13h1m7 22h1m6-4h1m0 4h1m5-4h1m1 3h1m2-18h1m-1-10h1m13 19h1m9-13h1m3 26h1m6-25h1m-1-10h1m17 32h1m-4 20h1m-6-9h1m-1 6h1m-8-4h1m-6 11h1m-5-4h1m-3-5h1m-8 8h1m-6-5h1m-2 15h1m-17-15h1m-5 12h1m-1 8h1m-7-12h1m-1 3h1m-3-5h1m-8 6h1m-23-9h1m-11-10h1m-2-2h1m-6 0h1m-13 11h1m-1-13h1m-8 18h1m-2 15h1m-3-23h1m-11-7h1m-5 24h1m-4-24h1m-5 6h1m-14 18h1m-36-11h1m-2-2h1m-2-6h1m-6 24h1m-8 4h1m-9-37h1m-10 32h1m-2 7h1m-19-13h1m-2-18h1m-1 10h1m-7-9h1m-10-9h1m-9 27h1m-1-23h1m-11 1h1m-4 27h1m-1-15h1m-5 10h1m-31-27h1m-20 0h1m-12 22h1m-15 3h1m-2-11h1m-8 1h1m-2-1h1m-24-5h1m-10 2h1m-5-4h1m-12 13h1m-2-7h1m-21 21h1m-3-31h1m-7 17h1m-12-3h1m-32-8h1m-8 15h1m-17 4h1m64 14h1m21 25h1m10-18h1m8 11h1m9-10h1m4 7h1m6 8h1m3-6h1m0 3h1m0-16h1m-1 29h1m29-15h1m23-9h1m6 7h1m1 19h1m7-31h1m0 2h1m10 25h1m7-5h1m13-6h1m24-1h1m15 2h1m20 14h1m6-20h1m8-12h1m1 33h1m14-30h1m4 27h1m-1-10h1m7-11h1m19-6h1m36 8h1m20-7h1m4 18h1m0-27h1m3 4h1m2 5h1m10 1h1m4-1h1m11-2h1m11 52h1m-3-5h1m-15 8h1m-1 5h1m-9-12h1m-16-15h1m-2 9h1m-9 20h1m-2-2h1m-6-8h1m-1-10h1m-9-4h1m-3 17h1m-4-21h1m-1 4h1m-16 27h1m-6 6h1m-11 1h1m-5-22h1m-10 12h1m-13-14h1m-9-12h1m-3 20h1m-17 11h1m-5-33h1m-1 29h1m-4-8h1m-6 7h1m-3-3h1m-9 1h1m-9-4h1m-40 14h1m-7-20h1m-4 2h1m-14 2h1m-5 12h1m-4-20h1m-14 12h1m-2-4h1m-6 2h1m-1-15h1m-3 18h1m-2-9h1m-13 14h1m-8-9h1m-13-21h1m-14 6h1m-2 18h1m-4-1h1m-3 9h1m-5-12h1m-7-15h1m-3-3h1m-8 5h1m-7 1h1m-6 25h1m-2-3h1m-3-11h1m-4-1h1m-13 2h1m-7-15h1m-23 0h1m-9-4h1m19 68h1m8-27h1m25 9h1m5 5h1m5 11h1m0-18h1m3 4h1m12-14h1m12 2h1m1 25h1m2-5h1m0-14h1m13 31h1m3-7h1m6-32h1m12 13h1m1 22h1m14-28h1m3 7h1m3-4h1m1 2h1m12 10h1m35-15h1m10 25h1m3-15h1m27 5h1m10-13h1m3 0h1m6 9h1m3-7h1m3-2h1m11 8h1m20-8h1m12 1h1m10 14h1m7-10h1m17-4h1m-202 34h1m-22 3h1m-14 14h1m-11-1h1m-26-17h1m-105 7h1m-191 24h1m-21-4h1m119 20h1m39 20h1m89-20h1m179 0h1m19 20h1m-371 20h1m69 60h1m59-20h1m59 10h1m99-10h1m-311 40h1m-21 10h1m-81 130h1m289-24h1m43 10h1"/>
<path stroke="#2ca02c" d="M4960 3540h1m-61 40h1m-521 54h1m93-6h1m385-28h1m59 30h1m-61 40h1m-227 0h1m-86 2h1m-39 2h1m-20-11h1m-11 11h1m-3-32h1m-11 27h1m-9 4h1m-2-19h1m-4 10h1m-3-13h1m-4 8h1m-23-2h1m-9 19h1m-3-31h1m-2 14h1m-13 16h1m-6-35h1m-2 12h1m-24-8h1m-26 28h1m-15-29h1m-1 8h1m-2 0h1m-2 26h1m-7-1h1m-1-31h1m-4-1h1m-5 0h1m-4 6h1m-11 3h1m10 44h1m4 12h1m13-8h1m4 14h1m8-26h1m4 17h1m4 12h1m17-4h1m1-5h1m0-9h1m4 11h1m0-2h1m15-20h1m0-4h1m3-5h1m2 7h1m3 4h1m7 22h1m3-7h1m11-25h1m3 14h1m5 6h1m5 8h1m3-15h1m11 6h1m-1 0h1m-1 3h1m2 9h1m5 6h1m2-6h1m2 0h1m0-24h1m0 13h1m0 8h1m8-27h1m-1 0h1m10 28h1m2 4h1m0-2h1m2-12h1m2 18h1m1-20h1m-1-2h1m6 3h1m8-5h1m1 10h1m1-1h1m2-20h1m26 27h1m4 0h1m46 7h1m5-10h1m52 6h1m12 6h1m1-25h1m9 14h1m1-14h1m43 16h1m37 27h1m-10 7h1m-16-10h1m-15 9h1m-13 3h1m-13-12h1m-8-13h1m-4 8h1m-4-8h1m-5 38h1m-2-20h1m-3-10h1m-2 4h1m-12 18h1m-4-25h1m-1 17h1m-2 3h1m-4-1h1m-3 9h1m-1-1h1m-3-11h1m-10-10h1m-2 27h1m-7-28h1m-14 14h1m-2-19h1m-12 10h1m-5-15h1m-2 9h1m-14 2h1m-26 9h1m-7-12h1m-7 19h1m-18-25h1m-28 0h1m-11 19h1m-18-18h1m-1 20h1m-2-10h1m-42-11h1m-2 26h1m-9-17h1m-3 12h1m-17-17h1m-15 12h1m-12 20h1m-9-32h1m-14-3h1m-7 7h1m-12 19h1m-16-3h1m-2 11h1m-3 1h1m-3-9h1m-2-30h1m-1 23h1m-5 4h1m-13-15h1m-8-11h1m-19 33h1m-8-34h1m-8 11h1m-1-5h1m-6 0h1m-8 31h1m1 14h1m37 28h1m16-2h1m34-19h1m13 2h1m5 8h1m25-7h1m1 8h1m8 5h1m4 2h1m22-1h1m5 4h1m6-35h1m5 17h1m17 8h1m-1 6h1m12-5h1m5-21h1m2 11h1m4-12h1m1 12h1m1-11h1m1 13h1m0 0h1m-1-20h1m1 16h1m10 1h1m25 2h1m4 0h1m12 7h1m0-11h1m-1 21h1m5-4h1m4-32h1m2 28h1m13-30h1m7 34h1m0-19h1m6 19h1m12 1h1m19-6h1m1-17h1m6 16h1m0-21h1m4 29h1m6 3h1m-1-29h1m0-3h1m0 16h1m1-3h1m11 11h1m15 8h1m-1-28h1m33 17h1m1-12h1m13 20h1m1-13h1m15-18h1m13 22h1m0 7h1m0-17h1m153-7h1m39 40h1m-111 20h1m-37-10h1m-22 15h1m-8-8h1m-3-15h1m-2-9h1m-9 11h1m-32-10h1m-8 1h1m-6 17h1m-13-8h1m-3-10h1m-20 12h1m-7-11h1m-5 14h1m-3 13h1m-2 3h1m-11-10h1m-9 9h1m-15 0h1m-11-7h1m-3 5h1m-2-22h1m-3 28h1m-7-34h1m-17 7h1m-3-10h1m-7 31h1m-11-31h1m-8 0h1m-13 27h1m-6 5h1m-7-11h1m-7-20h1m-8 22h1m-11-9h1m-5-9h1m-5 20h1m-6 10h1m-11-30h1m-8 14h1m-4 7h1m-6-15h1m-7 4h1m-3-1h1m-7 18h1m-8-12h1m-14 12h1m-3-7h1m-4 7h1m-20-24h1m-26 4h1m-12 2h1m-3 21h1m-7-12h1m-20-5h1m-3-19h1m-12 27h1m-1-12h1m-25-5h1m-2 16h1m-3-12h1m-2-13h1m-2 15h1m-3-3h1m-2 25h1m-3-32h1m-7 19h1m-1 2h1m-1-18h1m-7 2h1m-3 26h1m-3-1h1m-5-18h1m-2-17h1m-6 3h1m-16 18h1m-5 9h1m-6 6h1m-5-5h1m-10-7h1m-4-13h1m-8-1h1m-17-9h1m-13 36h1m-2-27h1m4 66h1m2-4h1m15 6h1m5-26h1m-1-12h1m-1 10h1m5 4h1m0-6h1m-1 3h1m3-11h1m3 21h1m1 2h1m-1 10h1m5-12h1m6 11h1m0-17h1m-1 0h1m3-1h1m16-8h1m1 4h1m-1 27h1m5-4h1m1 3h1m2-26h1m11-9h1m10 26h1m0-1h1m8-7h1m0 0h1m15-5h1m1 18h1m0-20h1m3 13h1m4-24h1m13 29h1m0-16h1m21 19h1m1-34h1m0 6h1m10 33h1m1-8h1m15 7h1m12-5h1m1-21h1m9-9h1m-1 18h1m-1-2h1m9-18h1m2 14h1m2 0h1m10-10h1m1 20h1m5 1h1m5-17h1m16 11h1m7-12h1m1 15h1m0-5h1m3 16h1m14-26h1m11 11h1m10 10h1m7 4h1m8 3h1m8-23h1m12 10h1m22 5h1m13 3h1m1-13h1m0 13h1m-1-1h1m2-9h1m2 4h1m4 7h1m17-27h1m0 25h1m-1-12h1m20-12h1m0 22h1m11-25h1m3-1h1m15 30h1m1-7h1m2 14h1m2-6h1m11-10h1m27-17h1m8 24h1m259 20h1m-101 0h1m-61 0h1m-126-5h1m-3 4h1m-6 15h1m-12-12h1m-8 22h1m-4-8h1m-5-7h1m-18-3h1m-2-14h1m-11 0h1m-22 26h1m-15-15h1m-3-11h1m-22 5h1m-8-1h1m-9 4h1m-5 16h1m-2-3h1m-8 13h1m-3-23h1m-17-9h1m-2 33h1m-12-11h1m-3 2h1m-6-17h1m-8 21h1m-19-30h1m-6 0h1m-15 10h1m-3 7h1m-3 3h1m-5 16h1m-4-35h1m-6 18h1m-3 9h1m-3 1h1m-10-16h1m-3-6h1m-6 28h1m-5-25h1m-3 0h1m-15 10h1m-9 6h1m-24-22h1m-6 1h1m-29 17h1m-8-13h1m-18-7h1m-5 8h1m-2 0h1m-3-11h1m-4 31h1m-2-27h1m-5 16h1m-2-16h1m-15 19h1m-9-4h1m-4-9h1m-10 28h1m-2-8h1m-8 8h1m-2-3h1m-4-11h1m-6 14h1m-4-24h1m-6 13h1m-10-6h1m-6 13h1m-26-15h1m-1-8h1m-5-1h1m-10 8h1m-3 13h1m-17-1h1m-3-19h1m-5-1h1m-14-7h1m-20 24h1m-10-8h1m-7 49h1m14 10h1m2-16h1m0 1h1m1 1h1m0-14h1m0 18h1m5 7h1m4-26h1m6-7h1m0-2h1m0 18h1m1 14h1m0-10h1m4 11h1m6-18h1m3-16h1m-1 18h1m2 3h1m6-21h1m14 11h1m1 18h1m7-5h1m2-12h1m6 3h1m2-4h1m-1 8h1m2-5h1m0-10h1m9 11h1m4 24h1m0-20h1m5 0h1m6-10h1m3 5h1m0 10h1m0-11h1m11-10h1m6 3h1m0-4h1m-1 35h1m18-8h1m17 7h1m17-35h1m6 19h1m20 10h1m8-21h1m4 9h1m0 2h1m11-6h1m0 10h1m13-1h1m2 14h1m12-9h1m1-7h1m1 4h1m0 4h1m6-20h1m0 20h1m2-7h1m0 10h1m-1-3h1m8 10h1m1-19h1m1 1h1m1 10h1m11 3h1m-1-5h1m0 5h1m4 1h1m3-29h1m6 8h1m21 2h1m17 11h1m3-27h1m10 19h1m2 18h1m7-7h1m2-6h1m18-15h1m7 20h1m0-6h1m4 10h1m0-9h1m3 5h1m-1-3h1m1-10h1m35 23h1m8-2h1m9-23h1m-1 14h1m1 8h1m3-3h1m18-7h1m5 9h1m10 1h1m-1 1h1m135-27h1m39 60h1m-124-13h1m-20 13h1m-3 8h1m-18-18h1m-3 6h1m-3-7h1m-9-1h1m-32 15h1m-3-17h1m-2 10h1m-6-9h1m-8 17h1m-7-18h1m-5 12h1m-4-3h1m-3 2h1m-15-9h1m-7-17h1m-9 24h1m-1 2h1m-3-14h1m-5 9h1m-9-5h1m-20 10h1m-2-15h1m-6 27h1m-8-5h1m-6-31h1m-6 3h1m-6-4h1m-3 37h1m-14-34h1m-4 8h1m-2 21h1m-2-20h1m-4 10h1m-10-18h1m-8 7h1m-5 21h1m-4 2h1m-3 3h1m-11-13h1m-4-8h1m-3 18h1m-21-4h1m-8 4h1m-3-27h1m-2 28h1m-2-1h1m-2-31h1m-11 17h1m-26-19h1m-4 30h1m-9-32h1m-6 32h1m-8-8h1m-9 3h1m-11 2h1m-2-30h1m-6 32h1m-4 6h1m-22-16h1m-2 0h1m-52 14h1m-2-30h1m-15 28h1m-2-15h1m-11 6h1m-4 4h1m-2 4h1m-6-28h1m-5 33h1m-10-9h1m-9-3h1m-7-22h1m-14 32h1m-2-21h1m-5 0h1m-2-14h1m-4 0h1m-3 10h1m-5 18h1m-10 8h1m-9-7h1m-5-2h1m-11 0h1m-6-9h1m-4-12h1m-20 6h1m-2 4h1m-14 15h1m-15-18h1m-4 23h1m-3-34h1m-3 10h1m-2 16h1m-13-23h1m-10 32h1m-1-8h1m-10-8h1m-15-2h1m-3-19h1m-2 5h1m-4 32h1m-5-33h1m-7 5h1m-6 29h1m-2-12h1m-4-14h1m-4 16h1m-4-11h1m-30 4h1m-15 7h1m-19 33h1m6-13h1m9 5h1m6 14h1m0-3h1m2-7h1m0-11h1m9 28h1m6-34h1m4 22h1m1 5h1m7-13h1m5 20h1m2-20h1m2 19h1m0 2h1m1-15h1m21 8h1m3-9h1m6-2h1m3-13h1m9-1h1m2-3h1m-1-1h1m0 15h1m4-1h1m1 23h1m30-36h1m8 13h1m3 23h1m2-20h1m2 19h1m1-12h1m24-17h1m14 21h1m-1-24h1m7-3h1m17-1h1m1 16h1m3 0h1m1-13h1m2 3h1m0 2h1m27 1h1m-1 13h1m7-12h1m0-8h1m-1 10h1m0 26h1m11-20h1m12 15h1m0-25h1m-1 3h1m3 15h1m22 13h1m17-39h1m5 7h1m0 20h1m17 0h1m15-12h1m26 9h1m5 9h1m-1-29h1m6 32h1m3-23h1m5 25h1m12-14h1m3-18h1m21 30h1m0-1h1m0-30h1m11 16h1m1-15h1m3 1h1m9 6h1m1 6h1m0 4h1m8-15h1m6 13h1m1 12h1m17-11h1m7-13h1m1 25h1m3-22h1m0 21h1m3-27h1m10 17h1m10-9h1m1-10h1m13 26h1m1-18h1m8 16h1m2-6h1m1-20h1m12 9h1m1 19h1m20 6h1m0 2h1m3-32h1m14 22h1m14 8h1m5-34h1m6 12h1m23 16h1m4-21h1m0-3h1m11 25h1m-1 6h1m0-22h1m3 10h1m7-23h1m2 15h1m7 17h1m150-4h1m89 20h1m-220 25h1m-50-33h1m-24 27h1m-3-16h1m-2 3h1m-6 14h1m-1-23h1m-9 16h1m-1-8h1m-1-14h1m-29 33h1m-6-32h1m-20 29h1m-1 3h1m-5-19h1m-26 12h1m-4-6h1m-3-7h1m-30-9h1m-13 3h1m-3 15h1m-9-17h1m-6 12h1m-8-11h1m-3 22h1m-6 3h1m-3-9h1m-2-10h1m-4 25h1m-5-38h1m-6 33h1m-6-29h1m-10 3h1m-5 12h1m-14-2h1m-14-7h1m-6 14h1m-19-2h1m-12 14h1m-4-9h1m-7 9h1m-1 2h1m-21-8h1m-15-13h1m-7 4h1m-16 6h1m-3-12h1m-12 4h1m-10 14h1m-8 0h1m-10-17h1m-3-6h1m-8 29h1m-8-21h1m-5 10h1m-3-25h1m-22-1h1m-14 32h1m-3-26h1m-8 24h1m-2-12h1m-2 0h1m-9 2h1m-3-18h1m-15 14h1m-4-10h1m-3 7h1m-4-14h1m-2 38h1m-8-12h1m-9-9h1m-3 18h1m-30-2h1m-2-15h1m-3 13h1m-1-7h1m-2 14h1m-5-10h1m-19-26h1m-2 17h1m-1-4h1m-10-13h1m-3 13h1m-4 3h1m-7 1h1m-7-2h1m-3 0h1m-7 8h1m-2 13h1m-1-28h1m-11 17h1m-24 1h1m-27-18h1m-6-4h1m-4 24h1m-23-4h1m-14 9h1m-10-25h1m-4-6h1m-17 21h1m-13-26h1m-3 3h1m-14 7h1m-5 0h1m-25 8h1m49 60h1m17-36h1m0 16h1m8 15h1m35 0h1m0-20h1m0 7h1m6-12h1m24 8h1m9-5h1m2 27h1m2-1h1m3-10h1m7-27h1m7 7h1m14 17h1m0-1h1m-1 0h1m7 10h1m1 1h1m1-8h1m4-4h1m12-13h1m3 20h1m7-26h1m2 9h1m0 7h1m6 4h1m7-8h1m1-2h1m11 4h1m17 22h1m2-27h1m0-4h1m6 30h1m9-27h1m0 3h1m11 16h1m6-29h1m1 6h1m1 31h1m11-11h1m5-19h1m1 13h1m2 3h1m3 0h1m27-23h1m15 22h1m3-16h1m-1 0h1m21 27h1m4-30h1m10 30h1m12 0h1m-1-33h1m0 33h1m7-33h1m0 27h1m4 4h1m9-7h1m6-2h1m2-21h1m2 6h1m9 12h1m-1-18h1m3-1h1m3 34h1m5-30h1m2 10h1m3-10h1m6-5h1m5 29h1m14 5h1m17-21h1m5 7h1m1 7h1m4 7h1m4-11h1m7-6h1m1 15h1m8-26h1m5-3h1m0 4h1m0 22h1m1 9h1m11-13h1m13-4h1m2-2h1m0-9h1m2 23h1m27-30h1m26 31h1m16-33h1m6 24h1m6 10h1m5-1h1m7-24h1m8 7h1m-1-9h1m8 16h1m10 6h1m3-5h1m-1 3h1m2-4h1m-1-2h1m1-18h1m1 25h1m8 1h1m5 4h1m4-12h1m61 8h1m29-20h1m-53 63h1m-11-12h1m-1 9h1m-5 6h1m-9-11h1m-37-9h1m-4-1h1m-10-1h1m-17-9h1m-1 14h1m-3-5h1m-3 19h1m-22-10h1m-22-5h1m-5-14h1m-9 32h1m-3-15h1m-5-6h1m-2 21h1m-6 0h1m-5 2h1m-10-9h1m-4-23h1m-1 8h1m-2-14h1m-8 5h1m-2 8h1m-7-4h1m-10-2h1m-2-6h1m-10 18h1m-1-4h1m-5 22h1m-49-25h1m-3 16h1m-11 1h1m-1-13h1m-4 8h1m-20-2h1m-12-21h1m-1 36h1m-5-26h1m-19 14h1m-2-17h1m-10 15h1m-2 10h1m-12-21h1m-9 3h1m-24-15h1m-9 6h1m-7 10h1m-5-8h1m-6 13h1m-5-17h1m-8 18h1m-7-17h1m-6 27h1m-2-14h1m-13-6h1m-4-11h1m-10 30h1m-21-28h1m-10 15h1m-7 18h1m-18-6h1m-3 7h1m-5-30h1m-20 5h1m-1 18h1m-5-4h1m-7-21h1m-26 16h1m-1 17h1m-27-11h1m-8-6h1m-20-11h1m-2 1h1m-5 19h1m-26-24h1m-2 0h1m-1 18h1m-4 9h1m-5-18h1m-9 12h1m-5-5h1m-8-19h1m-45 1h1m-11 13h1m-15 20h1m-9-13h1m-12-6h1m-22 4h1m-7-19h1m22 38h1m1 3h1m13 0h1m0 8h1m3-5h1m9 26h1m0-2h1m13 8h1m4-23h1m-1 18h1m2-2h1m39-13h1m3 8h1m-1-7h1m6-1h1m3 3h1m18-20h1m8 25h1m2 9h1m0-1h1m0-17h1m0 9h1m0-21h1m0 18h1m2-22h1m0 25h1m0 6h1m2-5h1m2-3h1m14-3h1m2 11h1m0-27h1m7 25h1m3-7h1m8-24h1m1 29h1m0-20h1m0 21h1m4-3h1m11 11h1m4-9h1m3-6h1m11 14h1m20-20h1m2-14h1m2 18h1m8 5h1m23 1h1m7-18h1m3-6h1m1 0h1m2 24h1m6 11h1m3-16h1m46-2h1m0-1h1m3-4h1m5 20h1m9 0h1m19-17h1m0-8h1m3-1h1m7 17h1m0 13h1m0-37h1m15 5h1m4-4h1m12 13h1m11-8h1m0-3h1m1 32h1m2-32h1m1 9h1m15 11h1m4 2h1m4-22h1m4 8h1m10-2h1m14 16h1m4-24h1m0 25h1m11 11h1m8-38h1m0 25h1m2-1h1m1-14h1m3-11h1m2 0h1m9 38h1m2-6h1m7-25h1m5 9h1m9 17h1m5-9h1m3 5h1m5-4h1m4-2h1m1-9h1m1-7h1m3-7h1m14 9h1m2 11h1m8 3h1m3 8h1m0-6h1m11 8h1m15-29h1m1 33h1m17-9h1m9 8h1m14-25h1m14 14h1m8-16h1m4 30h1m51-29h1m139 0h1m-177 55h1m-40-9h1m-7-13h1m-11 28h1m-12-21h1m-15-1h1m-24 11h1m-1-9h1m-3 26h1m-3-33h1m-21 0h1m-22 30h1m-7 1h1m-9-27h1m-3-7h1m-10 16h1m-4-7h1m-2 20h1m-7 8h1m-6-21h1m-7-10h1m-3 9h1m-9 10h1m-2-15h1m-3 19h1m-9 5h1m-3-4h1m-28-18h1m-2 14h1m-9-12h1m-23-15h1m-20 32h1m-1-30h1m-2 21h1m-8 3h1m-12-1h1m-6-4h1m-6-11h1m-9-5h1m-2 10h1m-2-12h1m-18 0h1m-11-1h1m-5 33h1m-3 3h1m-24-3h1m-3-16h1m-12 2h1m-4 6h1m-25 8h1m-7-21h1m-7 22h1m-10-28h1m-13 22h1m-26-13h1m-6-3h1m-2-12h1m-13 34h1m-3-3h1m-4-15h1m-5 6h1m-1-7h1m-8 3h1m-4-13h1m-2-4h1m-16 25h1m-3-3h1m-2 7h1m-2-14h1m-13-15h1m-11 13h1m-8-4h1m-9 27h1m-4-21h1m-8 14h1m-17 4h1m-19-31h1m-9 5h1m-3 26h1m-36-9h1m-43-19h1m-11 6h1m-12 13h1m-1-10h1m-3 8h1m-2 0h1m-2-1h1m-3-8h1m-6 11h1m-10-26h1m-8 6h1m-5 26h1m-3-27h1m-7 26h1m-2-19h1m-52 35h1m1 12h1m7 7h1m2-27h1m5 16h1m-1 17h1m2-1h1m3 4h1m2-7h1m9-16h1m0-5h1m0 19h1m11 10h1m10-22h1m-1-2h1m8-13h1m10 33h1m46-16h1m1-14h1m6 7h1m5 20h1m1-4h1m0 3h1m0-20h1m0 18h1m1-4h1m0-11h1m4-12h1m6 20h1m12 4h1m6-9h1m1-9h1m-1 2h1m10-5h1m2 4h1m12 9h1m3-4h1m1 6h1m8-15h1m0 0h1m4 14h1m12-10h1m3 9h1m7 0h1m1-15h1m16 1h1m0 1h1m13 16h1m4 9h1m0-23h1m-1-1h1m1 21h1m17 1h1m1-12h1m4 18h1m3-2h1m4-4h1m20-18h1m0-2h1m6 4h1m12 7h1m10 11h1m22-12h1m28-4h1m2-4h1m2 20h1m2-16h1m15 26h1m3-26h1m2 18h1m5-9h1m5 17h1m2-9h1m0-9h1m17 10h1m36 0h1m1-15h1m5-1h1m1-10h1m-1 13h1m5 0h1m12 14h1m1-6h1m24 11h1m1-20h1m3 17h1m6-31h1m0 5h1m5 0h1m16 16h1m0-16h1m2 0h1m17-1h1m2 24h1m0 0h1m8 7h1m6-4h1m2-24h1m4 6h1m5 16h1m-1-31h1m8 22h1m-1-9h1m1 13h1m4-14h1m4-4h1m16 14h1m44-20h1m8 29h1m-1-22h1m1-4h1m13 29h1m1-22h1m17-10h1m4 2h1m3 7h1m12 25h1m35-6h1m29-20h1m309 14h1m-261 26h1m-100 28h1m-6-19h1m-6 13h1m-16 5h1m-4-14h1m-6 11h1m-5-10h1m-5 13h1m-71-1h1m-4-31h1m-4 26h1m-5-17h1m-28-8h1m-5 26h1m-6 0h1m-16-13h1m-6 6h1m-6-25h1m-41 6h1m-4-3h1m-6 2h1m-13 32h1m-2-6h1m-10-18h1m-2-2h1m-1 2h1m-25-8h1m-7-2h1m-30 19h1m-6 5h1m-7-20h1m-7 6h1m-5 24h1m-3-12h1m-18-14h1m-12 4h1m-4-2h1m-14 5h1m-3-14h1m-3 13h1m-2-7h1m-1-8h1m-10 14h1m-11 18h1m-11-32h1m-6 10h1m-5 1h1m-33 12h1m-5 2h1m-12-26h1m-4 18h1m-28-11h1m-12 15h1m-9-19h1m-10 32h1m-10-5h1m-9 3h1m-13-15h1m-7 10h1m-1-7h1m-5-6h1m-11 12h1m-10-11h1m-4-1h1m-2 0h1m-2-16h1m-2 20h1m-3-9h1m-8 6h1m-6 11h1m-6 5h1m-2-2h1m-2-7h1m-2-22h1m-23 14h1m-3-4h1m-4-9h1m-8 6h1m-3-2h1m-8-5h1m-6 7h1m-5 8h1m-12-6h1m-3 8h1m-3-2h1m-11 1h1m-8 0h1m-10-10h1m-1-8h1m-4 4h1m-14 15h1m-18-3h1m-6 5h1m-5-10h1m-16 7h1m-8 19h1m-3-35h1m-2 0h1m-4 29h1m-5-9h1m-3 7h1m-22-29h1m-19 38h1m-42-1h1m-8 37h1m1-24h1m8-3h1m16 10h1m15 1h1m20-9h1m11 18h1m11-1h1m0 13h1m20-31h1m6 31h1m0-30h1m13 17h1m0 1h1m9-3h1m14-24h1m19 34h1m1-12h1m10-20h1m1 25h1m13-13h1m6 4h1m0-16h1m8 36h1m2-26h1m0 15h1m0-11h1m8-6h1m-1 5h1m7 15h1m6-28h1m0 27h1m14 10h1m26-3h1m-1 2h1m0-3h1m1-23h1m6 26h1m1-5h1m14-31h1m11 10h1m3 23h1m0-15h1m2 10h1m13-18h1m1-10h1m1 28h1m2-4h1m2-5h1m1 16h1m6-28h1m4 15h1m3-23h1m7 23h1m6-2h1m13-14h1m4 10h1m12-3h1m5 17h1m0-15h1m7-13h1m9 26h1m12-13h1m4-16h1m15 7h1m3-2h1m0 0h1m34 14h1m3-12h1m0 7h1m25 14h1m4-3h1m9-20h1m0 14h1m24 3h1m6-16h1m3 30h1m2-27h1m-1-9h1m1 5h1m2 28h1m10-12h1m-1-1h1m2-11h1m0 27h1m0-8h1m4-7h1m1 0h1m9 16h1m4-30h1m8 9h1m4 10h1m6-23h1m17 21h1m6 0h1m7-19h1m13 10h1m0-6h1m13 23h1m0-8h1m0 13h1m0-36h1m7 23h1m-1-17h1m16-1h1m7 26h1m2-25h1m3 7h1m0 3h1m0-12h1m10-2h1m2 11h1m5-8h1m6 27h1m21-27h1m4 17h1m5 1h1m27 8h1m-1-3h1m6-1h1m3 0h1m139 21h1m-41-10h1m-96 23h1m-10 4h1m-14 9h1m-8-4h1m-14-10h1m-8 16h1m-14-13h1m-20 7h1m-4 7h1m-5-22h1m-10-13h1m-25 33h1m-17-17h1m-3 19h1m-10-15h1m-8 10h1m-5-21h1m-16 17h1m-2-3h1m-2-19h1m-3-4h1m-1-4h1m-11 14h1m-8-10h1m-21 22h1m-5-14h1m-8-2h1m-21 5h1m-11-14h1m-1 13h1m-9-14h1m-2 31h1m-1-17h1m-7 3h1m-12 0h1m-8 6h1m-8-13h1m-4 14h1m-19-9h1m-4 14h1m-6-18h1m-6 23h1m-7-17h1m-9 10h1m-7-13h1m-4 16h1m-13 4h1m-8-7h1m-1 7h1m-34-1h1m-1 2h1m-8-8h1m-3-8h1m-4-11h1m-4 18h1m-2 12h1m-21-20h1m-20 7h1m-7 8h1m-5 4h1m-5-6h1m-28-26h1m-4 34h1m-27-12h1m-10-6h1m-2-11h1m-7-5h1m-7 10h1m-5 12h1m-1-14h1m-19-6h1m-2 13h1m-6 8h1m-3-17h1m-2 20h1m-10-19h1m-35-1h1m-6-9h1m-12 6h1m-8 14h1m-33-17h1m-9 31h1m-9-17h1m-3-18h1m-4 28h1m-5-25h1m-3 15h1m-5 10h1m-5-2h1m-4-5h1m-1 17h1m-2-26h1m-6 21h1m-2-19h1m-6 14h1m-5-28h1m-10 20h1m-3-4h1m-22-11h1m-4-3h1m-1 34h1m-15-13h1m-8-18h1m-3-4h1m-3 34h1m-6-15h1m-5-17h1m-8 17h1m-9-21h1m-12 12h1m-15 24h1m-12-10h1m-27 10h1m-7 26h1m16-21h1m1 3h1m2 28h1m-1-15h1m5-9h1m2 14h1m1-3h1m-1-16h1m-1 36h1m7-39h1m9 21h1m13-11h1m0 8h1m4 16h1m0-25h1m4-8h1m4 20h1m2-17h1m0 35h1m-1-39h1m3 17h1m1 20h1m1-2h1m0-24h1m4-1h1m-1 11h1m5 15h1m5-13h1m2-14h1m-1 18h1m16-16h1m7 2h1m15-8h1m9 5h1m3 13h1m-1 6h1m1-26h1m3 14h1m0-14h1m-1 13h1m0-14h1m1 32h1m1-1h1m2-15h1m4-15h1m8 31h1m6 5h1m6-21h1m13-12h1m3 12h1m0-6h1m0 8h1m2-12h1m2 22h1m1 0h1m3 4h1m0-6h1m3 10h1m15-30h1m4 8h1m14 7h1m5-8h1m2-13h1m2 13h1m6 18h1m7-28h1m0 31h1m0-14h1m4-1h1m13-10h1m12 9h1m3-10h1m-1-8h1m4 3h1m6 32h1m9-7h1m1 5h1m5-3h1m2-21h1m6 1h1m19 25h1m26-33h1m7 11h1m18 3h1m1-15h1m14 7h1m5 17h1m8 8h1m-1-30h1m20 10h1m2 22h1m-1-28h1m2 25h1m12-3h1m14-6h1m31 13h1m12-6h1m8-3h1m12-9h1m2-3h1m0-12h1m4 11h1m15-2h1m1 5h1m13-14h1m39-4h1m3 37h1m0-19h1m0-2h1m16-10h1m6 4h1m1 1h1m-1 25h1m7-17h1m39-5h1m9-14h1m11 12h1m9 2h1m17 14h1m13 0h1m0 9h1m8-26h1m3-2h1m0-4h1m2 16h1m0-21h1m2 0h1m0 14h1m3 5h1m2-12h1m6 26h1m0-22h1m39-2h1m-44 33h1m-2-2h1m-11 10h1m-7-3h1m-13 6h1m-12-3h1m-19 18h1m-6-18h1m-39 2h1m-24 22h1m-6-16h1m-2-13h1m-43 21h1m-3 9h1m-18-33h1m-5 15h1m-7-7h1m-6 3h1m-3 21h1m-2-2h1m-8 3h1m-8-33h1m-2 24h1m-6-18h1m-3 13h1m-11-16h1m-7 21h1m-3-15h1m-8 11h1m-19-13h1m-9-8h1m-5 31h1m-24-5h1m-6-7h1m-6-17h1m-6 1h1m-5 3h1m-4-3h1m-9 5h1m-3 3h1m-9 7h1m-7-10h1m-13-5h1m-4 1h1m-15 3h1m-17 7h1m-18 17h1m-6-17h1m-4-4h1m-1 14h1m-7 3h1m-6 4h1m-14-23h1m-4 17h1m-27-8h1m-1-15h1m-2-2h1m-32 20h1m-23-5h1m-5-13h1m-6 23h1m-4 4h1m-5 6h1m-1-1h1m-3-25h1m-30-1h1m-2-7h1m-1 19h1m-2-9h1m-4 2h1m-10-7h1m-6 17h1m-1-23h1m-4 23h1m-1-18h1m-2 17h1m-1 5h1m-7-18h1m-3-5h1m-23 23h1m-14-26h1m-6 28h1m-1-31h1m-3 37h1m-4-22h1m-6-2h1m-9 6h1m-15-9h1m-4 29h1m-5-39h1m-2 35h1m-4-20h1m-19-10h1m-20-4h1m-19 22h1m-7-20h1m-8 34h1m-7-27h1m-6 5h1m-4 17h1m-2 6h1m-1-24h1m-2-2h1m-7 21h1m-6-15h1m-8 1h1m-2 13h1m-21 6h1m-4-21h1m-12-3h1m-13-4h1m-13-7h1m-8-2h1m47 54h1m15 11h1m4-2h1m11-17h1m4-1h1m0 33h1m1-7h1m6-2h1m1-19h1m12 22h1m0-5h1m11-11h1m1 8h1m1 3h1m0 10h1m1-29h1m8 29h1m1-27h1m8 24h1m1-21h1m4-1h1m5 13h1m1-20h1m7 0h1m9 13h1m1 13h1m18 7h1m-1-35h1m0 7h1m1 28h1m0-2h1m-1-23h1m0-3h1m15-3h1m5 29h1m-1-22h1m7 14h1m0 4h1m2-7h1m0-25h1m0 8h1m7 21h1m-1-9h1m35-18h1m4 8h1m0-10h1m1 17h1m0 10h1m9 5h1m7 1h1m14-28h1m10 9h1m10 13h1m-1-28h1m34 38h1m6-35h1m2-3h1m36 30h1m5-7h1m1 4h1m1-8h1m15 9h1m8 1h1m3-26h1m2 11h1m-1 6h1m3-12h1m3-4h1m10 13h1m-1-8h1m3 9h1m3 16h1m6 4h1m3-11h1m5-20h1m1 28h1m8-16h1m6-13h1m2 31h1m7-24h1m37-12h1m13 2h1m-1 33h1m1-29h1m5 22h1m0 3h1m5 2h1m22-21h1m9 14h1m2 12h1m8-10h1m6-14h1m8-4h1m7 14h1m6-7h1m9-3h1m0 19h1m9-7h1m10 1h1m5-3h1m12-22h1m6 23h1m0 13h1m5-31h1m18 27h1m0-27h1m10 13h1m9-12h1m-1 8h1m1 18h1m10-11h1m2 6h1m1-1h1m-1-18h1m0-6h1m3 29h1m9-11h1m15-18h1m-36 41h1m-5 22h1m-2-21h1m-6 22h1m-5 4h1m-3-17h1m-14 5h1m-3-11h1m-2 7h1m-3-12h1m-19 2h1m-9-6h1m-15 12h1m-4-11h1m-2 0h1m-2-1h1m-4 17h1m-4-9h1m-2 25h1m-6 4h1m-4-37h1m-7 22h1m-5 7h1m-2-30h1m-7 34h1m-1 2h1m-3-21h1m-8-14h1m-2 16h1m-8-9h1m-15-6h1m-2 5h1m-35 12h1m-8 8h1m-31 8h1m-2-23h1m-4-8h1m-7 0h1m-20 35h1m-5-6h1m-9-12h1m-9-10h1m-7-4h1m-5 0h1m-19-5h1m-6 28h1m-4-24h1m-4 3h1m-10 16h1m-8-6h1m-4 4h1m-10 16h1m-5-4h1m-23 1h1m-12-20h1m-11 5h1m-1 16h1m-13-21h1m-2 14h1m-5 5h1m-13-11h1m-3-7h1m-33 9h1m-19 12h1m-15-23h1m-4-11h1m-1 6h1m-1-10h1m-10 6h1m-2 14h1m-23-14h1m-10 32h1m-34-2h1m-1-24h1m-2 10h1m-2 6h1m-8-1h1m-4-2h1m-2 14h1m-3-5h1m-17-32h1m-5 32h1m-1-23h1m-13 0h1m-2 19h1m-1-18h1m-12-11h1m-1 10h1m-5-11h1m-1 33h1m-6-13h1m-2 19h1m-2-23h1m-2 6h1m-18 2h1m-12 11h1m-3-16h1m-22 15h1m-7-21h1m-11-13h1m-1 28h1m-2 2h1m-4-18h1m-12 25h1m-16-13h1m-30-18h1m52 66h1m14-16h1m32-7h1m37 25h1m6-17h1m2-8h1m2 22h1m0-9h1m9 5h1m5-6h1m0 18h1m0-20h1m24 9h1m66 4h1m15 7h1m5-15h1m1-5h1m7 7h1m1-19h1m13 7h1m10 11h1m7-2h1m-1-12h1m8 3h1m4-9h1m2 5h1m12-5h1m6 20h1m0-4h1m8-18h1m4 16h1m10-13h1m45 32h1m26-34h1m4 33h1m4-6h1m38-23h1m5 29h1m13-12h1m20-10h1m33 4h1m2 14h1m7-6h1m1-9h1m2 12h1m12-20h1m0-3h1m-1 30h1m5-16h1m0 0h1m1 13h1m10-19h1m11 9h1m14 12h1m8-35h1m0 23h1m5 3h1m8-19h1m3 17h1m-1 6h1m6-22h1m1 25h1m6 1h1m10-25h1m5 6h1m-1-1h1m10 2h1m0-9h1m1 11h1m7-10h1m3 15h1m19 15h1m-1-28h1m4 18h1m26 25h1m-29 18h1m-4-5h1m-5-2h1m-5 10h1m-2 2h1m-3-1h1m-4-25h1m-2 8h1m-4-6h1m-7 15h1m-2-20h1m-18 5h1m-11 0h1m-7 13h1m-5 10h1m-14-17h1m-7 11h1m-6-8h1m-6 3h1m-4-1h1m-3 7h1m-13-12h1m-8 15h1m-32-12h1m-5-22h1m-14 35h1m-5-10h1m-15-18h1m-4 3h1m-13 5h1m-4-2h1m-26 26h1m-1-16h1m-12-10h1m-16-13h1m-18 7h1m-4 15h1m-4 16h1m-39-34h1m-6 9h1m-7-11h1m-15 7h1m-1 8h1m-26-13h1m-1 29h1m-1-14h1m-8-11h1m-16 19h1m-13 0h1m-13 5h1m-4-32h1m-4 15h1m-13-11h1m-12 25h1m-4 1h1m-4-18h1m-10 19h1m-31 5h1m-1-4h1m-2-11h1m-5-17h1m-7 8h1m-8-11h1m-4 27h1m-2-19h1m-5 24h1m-7-15h1m-6-2h1m-9 16h1m-8-22h1m-5 24h1m-1-20h1m-4 3h1m-8 1h1m-9-7h1m-11 25h1m-8-35h1m-8 3h1m-6 25h1m-6-3h1m-21-4h1m-7-8h1m-2 4h1m-6 0h1m-10 9h1m-12 7h1m-2 18h1m15 18h1m2 4h1m1 4h1m1-12h1m4-23h1m4 34h1m0-23h1m5 13h1m0-14h1m2 19h1m1-16h1m8 17h1m2-8h1m1 9h1m9-26h1m0 24h1m8-26h1m0 0h1m6 1h1m2 13h1m14-18h1m12 10h1m6 17h1m1 10h1m4-26h1m-1 20h1m2-33h1m0 2h1m4 6h1m2 25h1m-1 6h1m11-4h1m-1-16h1m7-11h1m5 0h1m9 16h1m1-20h1m0 29h1m0 1h1m6-33h1m4 11h1m3-8h1m2 7h1m6 28h1m11-20h1m46-17h1m13 17h1m8-18h1m32 21h1m14-12h1m-1 23h1m5-17h1m-1-16h1m1 8h1m-1-5h1m0 12h1m23 10h1m-1-7h1m30-9h1m13 13h1m13 5h1m12 3h1m3-28h1m8 12h1m0 8h1m2 3h1m7-2h1m0-23h1m10 10h1m1 26h1m4 2h1m1-11h1m6 0h1m9-15h1m4 19h1m8-17h1m-1-2h1m4 21h1m6-7h1m8-3h1m12-21h1m10 26h1m9-4h1m5 15h1m21-22h1m20 19h1m11-22h1m2-4h1m0 25h1m-1-31h1m2 16h1m1 13h1m1-14h1m1 1h1m12-5h1m0-2h1m2-6h1m2 6h1m28 16h1m24-14h1m10 12h1m0 1h1m43 22h1m-35-8h1m-12 27h1m-2-19h1m-9 1h1m-20-6h1m-3 7h1m-4-8h1m-2-2h1m-14 28h1m-3 6h1m-9-31h1m-3 25h1m-5 6h1m-3-10h1m-1-2h1m-6-8h1m-3 16h1m-2-29h1m-3-1h1m-11 29h1m-4-13h1m-1-1h1m-6 13h1m-13-2h1m-5-9h1m-8-13h1m-5 14h1m-4 7h1m-28-2h1m-16 3h1m-35-3h1m-27-24h1m-6 19h1m-4-11h1m-9 6h1m-1-10h1m-4-2h1m-4 13h1m-7 14h1m-13 6h1m-7-13h1m-10 2h1m-11-7h1m-73 15h1m-3-1h1m-3-16h1m-48 14h1m-4 1h1m-12 4h1m-15-22h1m-15-1h1m-12 16h1m-13-26h1m-2 18h1m-1-19h1m-7 31h1m-18 5h1m-3-11h1m-10-11h1m-6-14h1m-4 38h1m-7-12h1m-8 12h1m-11-17h1m-2-4h1m-3 17h1m-4-24h1m-5 4h1m-17 11h1m-7-24h1m-16 0h1m-28 26h1m-27-22h1m-4-2h1m-7 23h1m-9-6h1m-7-2h1m-1-19h1m-2 27h1m-24-9h1m-2-12h1m116 43h1m37 27h1m2-6h1m10-2h1m6 3h1m-1-31h1m11 3h1m5 35h1m13-3h1m0-19h1m2-10h1m11 16h1m0-1h1m5-5h1m5-14h1m11 15h1m0-9h1m2 8h1m18-15h1m2 22h1m3-16h1m16 3h1m0-9h1m8 7h1m3 13h1m4 7h1m0 8h1m0-3h1m5-17h1m8 18h1m2-24h1m4 4h1m10 6h1m5-12h1m2 14h1m0-7h1m2 10h1m13 10h1m19-26h1m0 25h1m-1-33h1m7 27h1m2-20h1m-1 13h1m3-16h1m26-1h1m19 12h1m8-4h1m2 11h1m17-21h1m3 33h1m46-8h1m-1-23h1m8 34h1m21-22h1m4 2h1m7 11h1m13-10h1m2 19h1m0-4h1m4-22h1m20 25h1m5-8h1m0-27h1m3 6h1m3 26h1m14-31h1m6 6h1m9-1h1m9-8h1m-31 40h1m-28 17h1m-2 4h1m-10-5h1m-14 23h1m-15-26h1m-7-8h1m-9 33h1m-30-36h1m-7 17h1m-13 20h1m-9-32h1m-13 21h1m-13-6h1m-1 2h1m-10-24h1m-1 36h1m-27 0h1m-7 3h1m-2-7h1m-6-10h1m-3 14h1m-15 0h1m-32-15h1m-4 13h1m-12-23h1m-17 15h1m-8-13h1m-7-11h1m-11 1h1m-10 5h1m-1-5h1m-21 19h1m-3-7h1m-8-15h1m-14 2h1m-5 2h1m-20 33h1m-2-33h1m-18 33h1m-6-37h1m-1 29h1m-2-11h1m-11 8h1m-5 11h1m-26-4h1m-6-21h1m-16-3h1m-1 5h1m-17 16h1m-4 4h1m-14-22h1m-4 6h1m-18-15h1m-31 17h1m131 21h1m1 1h1m19 2h1m4 19h1m0 6h1m6-7h1m22 1h1m3-15h1m1 13h1m-1-10h1m7 7h1m6 3h1m6 9h1m4-14h1m2-5h1m0-4h1m1 27h1m6-12h1m0-16h1m8 23h1m7-26h1m12 1h1m1 17h1m3-18h1m2 5h1m4 7h1m3-6h1m19 14h1m6 5h1m5-1h1m1 2h1m1-14h1m2-10h1m1-4h1m-1 20h1m10-16h1m0 0h1m1 11h1m6 10h1m1 9h1m2 0h1m9-9h1m1-2h1m8-7h1m42-5h1m4 17h1m0 9h1m-1-17h1m2 7h1m17-7h1m2-7h1m2 13h1m0 4h1m1-8h1m10-10h1m11 11h1m7-5h1m6-6h1m-4 39h1m-17-3h1m-13 11h1m-12 10h1m-24-8h1m-9-16h1m-4 1h1m-22 9h1m-5 1h1m-47-12h1m-10 23h1m-2 4h1m-12-5h1m-8-23h1m-8 6h1m-2-5h1m-7 26h1m-4 2h1m-14-12h1m-8-2h1m-6 6h1m-5-1h1m-5 10h1m-4-9h1m-3-1h1m-23-17h1m-3 9h1m-31-9h1m-1 0h1m-6 1h1m62 49h1m2-8h1m-1-1h1m1-1h1m10 9h1m1-4h1m14-5h1m-1 2h1m3 9h1m5 0h1m1-1h1m-1-3h1m8 11h1m0-7h1m6-13h1m0-1h1m2 13h1m6-4h1m-1-10h1m2-1h1m21 14h1m5-15h1m8 15h1m12-16h1m31 10h1m79 60h1m-197-21h1m-55-4h1m-4 14h1m-9-16h1m220 67h1"/>
<path stroke="#d62728" d="M6152 3813h1m-50 23h1m-44-10h1m-46 31h1m16 14h1m14 2h1m10-15h1m5-4h1m14 13h1m14 1h1m5 2h1m16-17h1m0 13h1m2-5h1m5 6h1m1 6h1m-1 6h1m9-1h1m0-15h1m5 13h1m6-27h1m0 13h1m4 13h1m4-18h1m10-16h1m3 24h1m9-7h1m21 11h1m0-18h1m240 20h1m18 5h1m97 1h1m15 19h1m-23-12h1m-42 1h1m-17 11h1m-15 16h1m-4-15h1m-10-7h1m-10 11h1m-251-14h1m-19-4h1m-13 24h1m-51-24h1m-6 12h1m-46 15h1m-6 0h1m-13 4h1m-4-3h1m-7-4h1m-3-15h1m-8 5h1m-20 2h1m-7-14h1m-1 20h1m-13 6h1m-5 28h1m7 10h1m11-9h1m-1-15h1m20 6h1m7 16h1m5 7h1m9-34h1m10 10h1m32 15h1m6-15h1m1 3h1m73 5h1m8 16h1m3-1h1m1-29h1m52 24h1m32-20h1m24 18h1m13 2h1m0 11h1m-1-6h1m22 5h1m32-22h1m14 10h1m6 8h1m3-13h1m0-19h1m1 17h1m3 0h1m37 8h1m3-18h1m14 17h1m15 8h1m6-21h1m25-1h1m13 12h1m15 55h1m-30-38h1m-21 25h1m-12-21h1m-23 1h1m-42 1h1m-3 5h1m-19 20h1m-41-24h1m-16 20h1m-1-24h1m-4 7h1m-16 12h1m-6 0h1m-5 15h1m-21-25h1m-1 17h1m-4-22h1m-3 1h1m-1-7h1m-14 13h1m-19 20h1m-39-2h1m-6-25h1m-6 16h1m-7-18h1m-3 28h1m-11 5h1m-6-1h1m-3-24h1m-5-3h1m-4 19h1m-2-23h1m-4 15h1m-11-13h1m-20-3h1m-8 4h1m-22-10h1m-7 30h1m-2-9h1m-12-6h1m-7 20h1m-10 0h1m-53-25h1m-18 21h1m-10-31h1m-11 14h1m-9-5h1m-117 65h1m14-16h1m6 20h1m6-12h1m4 11h1m3-4h1m2-28h1m61 27h1m70-2h1m17-8h1m4-8h1m8 14h1m4-2h1m22 4h1m14 4h1m2-28h1m5-1h1m54 3h1m-1 20h1m5-12h1m3-4h1m15 17h1m12 8h1m45-11h1m20-26h1m25 0h1m3 13h1m2 14h1m5-26h1m9 0h1m8 15h1m9 12h1m25-5h1m1-10h1m59 13h1m1-25h1m27 21h1m13 11h1m8-20h1m20 2h1m22 5h1m9-5h1m6 8h1m21 23h1m-31 8h1m-8-7h1m-11-1h1m-2 25h1m-15-1h1m-13-2h1m-24-18h1m-4 24h1m-1-16h1m-15-15h1m-16 36h1m-6-18h1m-16 3h1m-6-4h1m-3 13h1m-4-30h1m-3 6h1m-17 17h1m-50-6h1m-5-15h1m-9 6h1m-13-5h1m-2 5h1m-9 0h1m-5 27h1m-5-22h1m-31-14h1m-21-2h1m-21 25h1m-52-10h1m-13-10h1m-55 26h1m-25-26h1m-7 1h1m-3-4h1m-4 18h1m-2-1h1m-12 17h1m-35-31h1m-8 4h1m-15 18h1m-34-2h1m-7 3h1m-4-13h1m-3-5h1m-8 20h1m-1-6h1m-3-3h1m-3-1h1m-17 3h1m-14 0h1m-6-21h1m-2 1h1m-2 19h1m-2 4h1m-4-24h1m-5 12h1m-4-4h1m-3 9h1m-5 19h1m-6-20h1m-3 15h1m-25-3h1m-13-6h1m-25 54h1m15-22h1m4 1h1m2-7h1m3 7h1m18-4h1m27-7h1m8 32h1m4-33h1m1 20h1m0 13h1m1-14h1m5-5h1m13-6h1m3 13h1m9 11h1m7 2h1m1-38h1m79 4h1m11 9h1m7 15h1m23-12h1m3 5h1m-1 0h1m1-18h1m0 4h1m14 25h1m15-26h1m9-7h1m57 36h1m3 1h1m17-32h1m13-5h1m3 37h1m2-8h1m21-13h1m18 5h1m-1-21h1m12 11h1m5 1h1m17-2h1m15 4h1m6 14h1m5-14h1m34 2h1m3 11h1m5 2h1m1 8h1m51-4h1m3 5h1m10-20h1m6 16h1m8 4h1m3-26h1m1 8h1m17-14h1m6 5h1m2 15h1m4-19h1m9 9h1m-14 29h1m-3 16h1m-5-7h1m-18 20h1m-9-13h1m-7 16h1m-4-3h1m-6-15h1m-5 14h1m-7-13h1m-3 4h1m-4-15h1m-6 14h1m-4 1h1m-10 10h1m-10-31h1m-12 1h1m-9-4h1m-9 6h1m-20 11h1m-2-5h1m-7-8h1m-32 9h1m-12-6h1m-57 6h1m-17 12h1m-3-22h1m-29 22h1m-11 8h1m-12-25h1m-3-1h1m-9 17h1m-26 2h1m-18 3h1m-22-16h1m-7-11h1m-16 20h1m-2 2h1m-9 2h1m-18-26h1m-4 9h1m-16 15h1m-20 10h1m-9-22h1m-27 15h1m-9-27h1m-8 28h1m-16-22h1m-6 33h1m-17-23h1m-10 15h1m-10-9h1m-16-4h1m-3 15h1m-6-19h1m-7 21h1m-2-6h1m-12 0h1m-30-25h1m-2 9h1m-7 21h1m-2 2h1m-24 1h1m-5-36h1m-20 11h1m-14 17h1m-12 8h1m-8-30h1m-14 31h1m-7-25h1m-22 33h1m18-1h1m3 5h1m2 3h1m9 9h1m6-22h1m0 36h1m7-11h1m26 8h1m1-31h1m7 22h1m17-17h1m3 5h1m22-7h1m3 34h1m11-12h1m31-15h1m35-4h1m1 10h1m0 11h1m0-15h1m-1-11h1m1 32h1m2-26h1m1-9h1m4 22h1m24 0h1m0 9h1m0-17h1m5 25h1m4-32h1m2 9h1m0-12h1m3 18h1m-1-12h1m3 3h1m-1-11h1m2 21h1m1-17h1m17 9h1m15 12h1m5-4h1m9-4h1m4-16h1m15 15h1m1-14h1m1 2h1m0 15h1m12-21h1m4 21h1m3 5h1m0-4h1m8-9h1m8-6h1m6-1h1m3 17h1m10 5h1m1 5h1m3-4h1m22-22h1m19-4h1m6 7h1m10-4h1m10 12h1m1 10h1m45-9h1m31 15h1m4-19h1m3-10h1m3 8h1m13-6h1m23 31h1m5-14h1m6-10h1m11 5h1m0-9h1m7 0h1m9 5h1m1 13h1m-1-28h1m9 19h1m9-6h1m15-6h1m-56 39h1m-3 3h1m-8 9h1m-14-16h1m-9 34h1m-5-33h1m-8 16h1m-13 8h1m-4-16h1m-6 12h1m-3-13h1m-2 9h1m-14-17h1m-8 17h1m-8-18h1m-24 8h1m-7-8h1m-12 28h1m-1-28h1m-20 34h1m-12-22h1m-3 15h1m-5-15h1m-8 3h1m-80-14h1m-12 32h1m-27 0h1m-12 0h1m-18-6h1m-18 2h1m-22-15h1m-19-13h1m-35 34h1m-13 3h1m-31-10h1m-17-6h1m-13 1h1m-13 11h1m-3-25h1m-11 24h1m-6-32h1m-5-2h1m-19 3h1m-4 11h1m-1 2h1m-4 21h1m-16-4h1m-15 6h1m-14-12h1m-13 12h1m-9-5h1m-1-18h1m-8 1h1m-4-8h1m-3 9h1m-19 15h1m-6-15h1m-4 10h1m-41-14h1m-12-3h1m-8 2h1m76 32h1m8 7h1m30-6h1m3 0h1m16 27h1m3-29h1m-1-3h1m3 1h1m35 18h1m1 15h1m32-28h1m19 11h1m14-10h1m5 20h1m14 4h1m9-28h1m4 10h1m4 21h1m13-16h1m5 8h1m12-6h1m9-19h1m7 2h1m4 5h1m2 7h1m6-2h1m11-9h1m17 12h1m15-3h1m3 17h1m4-26h1m3 4h1m4 0h1m9 24h1m0-9h1m2-10h1m0 0h1m3 3h1m6-5h1m-1 20h1m11 4h1m8 0h1m9-27h1m1-6h1m6 14h1m25 12h1m3-7h1m7 4h1m14 4h1m1 9h1m49-7h1m5-30h1m5 0h1m4 17h1m7 19h1m2-23h1m6-15h1m50 37h1m22-1h1m-1-27h1m32-9h1m1 37h1m-29 10h1m-7-4h1m-33 28h1m-12 5h1m-15-21h1m-2-7h1m-5 1h1m-3 22h1m-17-6h1m-24-3h1m-15 14h1m-8-27h1m-2 12h1m-42-10h1m-3-10h1m-3 4h1m-15 11h1m-30-16h1m-25 10h1m-29 21h1m-7 1h1m-21 3h1m-17-8h1m-1-18h1m-9 23h1m-6-23h1m-6 23h1m-2-28h1m-2 8h1m-13 13h1m-1 13h1m-10 1h1m-4-27h1m-2 22h1m-16-9h1m-3-12h1m-23-9h1m-17 30h1m-15-23h1m-1-1h1m-16 22h1m-35-16h1m-5-10h1m-3 16h1m-17 11h1m-11-6h1m-6-25h1m-23 26h1m-18 10h1m-17-37h1m-20 31h1m-7-25h1m-37 9h1m-6-11h1m-9 11h1m95 42h1m12 3h1m4 1h1m12 7h1m17-11h1m8-18h1m6 5h1m9 11h1m8-1h1m20-1h1m25-7h1m13 6h1m0 4h1m9-4h1m23 26h1m8-25h1m11-9h1m14 34h1m19-6h1m38-4h1m6 9h1m-1-32h1m10-2h1m3 2h1m2-4h1m1 37h1m1-14h1m6-25h1m22 14h1m1 3h1m5 2h1m10 4h1m40 13h1m-1-30h1m35 7h1m2 11h1m10 15h1m34-11h1m19-8h1m2 2h1m6 55h1m-39-15h1m-2 6h1m-5-5h1m-4-21h1m-4 29h1m-19-4h1m-14-7h1m-22 19h1m-6-7h1m-7-11h1m-14-9h1m-3 12h1m-33-14h1m-26 5h1m-9-3h1m-28 26h1m-5-21h1m-7 15h1m-5-2h1m-5-9h1m-32 2h1m-2 4h1m-23-2h1m-5-2h1m-13-13h1m-5 18h1m-4-19h1m-4 8h1m-17 22h1m-10-12h1m-16-21h1m-5 4h1m-16-5h1m-13-2h1m-4 27h1m-19-9h1m-41 12h1m-10-27h1m-10 11h1m-57 22h1m-23-34h1m-3 20h1m21 36h1m5 6h1m26 1h1m13 4h1m14-17h1m35 7h1m37 7h1m7 1h1m-1 4h1m13-31h1m2 3h1m7 21h1m3-7h1m7-12h1m5 30h1m11-38h1m8 18h1m3-13h1m4 11h1m0 1h1m9-9h1m29 25h1m6-9h1m14-17h1m-1 27h1m10 5h1m34-15h1m3 13h1m3-19h1m17 16h1m5 4h1m3-14h1m10 5h1m14-4h1m-1-3h1m4-10h1m10 10h1m14 15h1m14-6h1m18 0h1m7-31h1m37 25h1m-21 16h1m-8 13h1m-35-1h1m-17-1h1m-16 2h1m-5 7h1m-14 13h1m-8-24h1m-3 27h1m-2-33h1m-33 9h1m-21-13h1m-14 20h1m-6-3h1m-11 19h1m-13-8h1m-2 9h1m-77 2h1m-38-25h1m-4-6h1m-10 5h1m-6 7h1m-8-1h1m-10-15h1m-9 31h1m-13 4h1m-5-10h1m-14-23h1m-20 17h1m-11-12h1m-17 6h1m-50-6h1m-10-11h1m-13 20h1m-9-3h1m53 30h1m27 3h1m8-6h1m13 18h1m4 9h1m1 5h1m11-10h1m1-7h1m7 15h1m13 4h1m1-23h1m1 8h1m6-1h1m4 9h1m5-16h1m34-11h1m7 26h1m4-28h1m7 5h1m5 2h1m25 1h1m18 27h1m6-33h1m8 10h1m1 22h1m10-21h1m16 4h1m5 1h1m107-10h1m0 16h1m-117 33h1m-9-17h1m-25 13h1m-4 7h1m-5-19h1m-4 14h1m-7-7h1m-3 1h1m-2 17h1m-11-13h1m-10 9h1m-4 2h1m-8-19h1m-16 24h1m-14-22h1m-11 19h1m-16-18h1m-38-5h1m-5 19h1m-9-12h1m-27-5h1m-14 12h1m-13 12h1m-8-14h1m-23 22h1m-11-39h1m165 47h1m6 18h1m41 5h1m16-18h1"/>
</g>
<rect x="401.50" y="329.50" width="272.00" height="203.00" fill="none" stroke="#000" stroke-width="0.75"/>
<line x1="413.86" y1="532.50" x2="413.86" y2="535.10" stroke="#000" stroke-width="0.75"/>
<line x1="398.90" y1="523.27" x2="401.50" y2="523.27" stroke="#000" stroke-width="0.75"/>
<text x="413.86" y="543.55" text-anchor="middle" class="t">0.0</text>
<text x="396.50" y="526.68" text-anchor="end" class="t">0.0</text>
<line x1="463.32" y1="532.50" x2="463.32" y2="535.10" stroke="#000" stroke-width="0.75"/>
<line x1="398.90" y1="486.36" x2="401.50" y2="486.36" stroke="#000" stroke-width="0.75"/>
<text x="463.32" y="543.55" text-anchor="middle" class="t">0.2</text>
<text x="396.50" y="489.77" text-anchor="end" class="t">0.2</text>
<line x1="512.77" y1="532.50" x2="512.77" y2="535.10" stroke="#000" stroke-width="0.75"/>
<line x1="398.90" y1="449.45" x2="401.50" y2="449.45" stroke="#000" stroke-width="0.75"/>
<text x="512.77" y="543.55" text-anchor="middle" class="t">0.4</text>
<text x="396.50" y="452.87" text-anchor="end" class="t">0.4</text>
<line x1="562.23" y1="532.50" x2="562.23" y2="535.10" stroke="#000" stroke-width="0.75"/>
<line x1="398.90" y1="412.55" x2="401.50" y2="412.55" stroke="#000" stroke-width="0.75"/>
<text x="562.23" y="543.55" text-anchor="middle" class="t">0.6</text>
<text x="396.50" y="415.96" text-anchor="end" class="t">0.6</text>
<line x1="611.68" y1="532.50" x2="611.68" y2="535.10" stroke="#000" stroke-width="0.75"/>
<line x1="398.90" y1="375.64" x2="401.50" y2="375.64" stroke="#000" stroke-width="0.75"/>
<text x="611.68" y="543.55" text-anchor="middle" class="t">0.8</text>
<text x="396.50" y="379.05" text-anchor="end" class="t">0.8</text>
<line x1="661.14" y1="532.50" x2="661.14" y2="535.10" stroke="#000" stroke-width="0.75"/>
<line x1="398.90" y1="338.73" x2="401.50" y2="338.73" stroke="#000" stroke-width="0.75"/>
<text x="661.14" y="543.55" text-anchor="middle" class="t">1.0</text>
<text x="396.50" y="342.14" text-anchor="end" class="t">1.0</text>
<rect x="578.10" y="333.50" width="91.40" height="47.60" rx="1.5" fill="#fff" stroke="#ccc" stroke-width="0.6"/>
<circle cx="588.90" cy="340.30" r="1.55" fill="#1f77b4"/>
<text x="602.30" y="342.71" class="t">Class 1(Minority)</text>
<circle cx="588.90" cy="351.50" r="1.55" fill="#ff7f0e"/>
<text x="602.30" y="353.91" class="t">Class 2</text>
<circle cx="588.90" cy="362.70" r="1.55" fill="#2ca02c"/>
<text x="602.30" y="365.11" class="t">Class 3</text>
<circle cx="588.90" cy="373.90" r="1.55" fill="#d62728"/>
<text x="602.30" y="376.31" class="t">Synthetic data</text>
<text x="400.25" y="589.00" class="c" textLength="267.5" lengthAdjust="spacingAndGlyphs">(d) SG-CGAN for Pubmed</text>
</g>
<g>
<g transform="scale(.1)" stroke-width="31.0" stroke-linecap="round" fill="none">
<path stroke="#1f77b4" d="M1517 6672h1m21 2h1m67-2h1m177 46h1m-44-18h1m-61 10h1m-16-11h1m-13-14h1m-6 8h1m-2 10h1m-5 13h1m-25-27h1m-4 6h1m-9 21h1m-6-25h1m-3-5h1m-20 9h1m-23-8h1m-2 0h1m-38 17h1m-25-23h1m-63 35h1m-37-19h1m-1 15h1m-43 5h1m-33-4h1m-23 5h1m-301-13h1m-51-8h1m-14 12h1m-29 3h1m-50 47h1m2-15h1m51-4h1m2-5h1m9-3h1m6 21h1m2-10h1m24 5h1m17-8h1m14 11h1m303-15h1m43-1h1m6 15h1m2 5h1m4-22h1m12 21h1m11-13h1m6-3h1m32-7h1m14 27h1m49-27h1m5-8h1m2 34h1m1-14h1m88 4h1m0 6h1m4-11h1m0 5h1m22-19h1m11 19h1m22-21h1m42 26h1m2-18h1m1-4h1m12 13h1m22-17h1m12 31h1m8-4h1m-1 0h1m-1 4h1m31-30h1m-1 26h1m8-16h1m21 16h1m5 5h1m29-3h1m145 34h1m-65-4h1m-23 14h1m-3-32h1m-27 7h1m-66 24h1m-51-16h1m-65 10h1m-27-28h1m-19 26h1m-26 5h1m-17 3h1m-8-33h1m-17 32h1m-5-3h1m-7 3h1m-16-25h1m-11 0h1m-2 24h1m-10-14h1m-2-22h1m-3 13h1m-15 5h1m-22-6h1m-4 10h1m-4 8h1m-35 3h1m-10-21h1m-16 8h1m-19 14h1m-14-19h1m-3 22h1m-26-16h1m-28-2h1m-47 0h1m-44 2h1m-20-9h1m-1 2h1m-5 21h1m-7-33h1m-10 13h1m-3 3h1m-5 4h1m-8 10h1m-37 5h1m-210-28h1m-17 25h1m-16-22h1m-20-8h1m-40 10h1m-34 19h1m-2-1h1m-9 4h1m-2-4h1m-27-4h1m-25 8h1m-24 35h1m17-6h1m1-7h1m2 3h1m1-21h1m8 7h1m23 19h1m8-26h1m7 15h1m39 3h1m1 1h1m4-6h1m16 6h1m8-2h1m2 18h1m3-29h1m7 5h1m16-5h1m4 10h1m45 23h1m140 0h1m50-6h1m56 6h1m3-3h1m21 1h1m3-1h1m5-27h1m2 30h1m56-25h1m46 8h1m11 3h1m16-25h1m8 0h1m43 19h1m5-12h1m3-5h1m3 23h1m11-2h1m29-8h1m10 4h1m24-6h1m-1 19h1m9-23h1m24 30h1m3-15h1m0 8h1m2-12h1m7-4h1m8 1h1m4 12h1m2 9h1m6-34h1m9 14h1m14 8h1m15-14h1m2-11h1m14 1h1m1 4h1m9 26h1m0 5h1m16-9h1m3-13h1m-1 22h1m47-36h1m33 31h1m10-14h1m24-1h1m8-12h1m4 26h1m7-12h1m1-13h1m1 12h1m5 0h1m5 14h1m41 2h1m4 0h1m2-32h1m30 11h1m5 8h1m14-5h1m38 30h1m-24-5h1m-39 19h1m-51-16h1m-8 6h1m-4 7h1m-37 14h1m-10-23h1m-4-8h1m-3 37h1m-33 0h1m-14-17h1m-9 10h1m-2-28h1m-8 37h1m-10-21h1m-8 8h1m-57 8h1m-23-13h1m-14-2h1m-22 8h1m-30 2h1m-3 7h1m-12-30h1m-1 31h1m-2-30h1m-11 17h1m-9-3h1m-29-18h1m-11 29h1m-2-23h1m-10-8h1m-5 5h1m-7 31h1m-2-12h1m-5 4h1m-17-12h1m-8-3h1m-20 18h1m-5-13h1m-10-2h1m-2 5h1m-5-15h1m-4 13h1m-6-6h1m-23 20h1m-7-15h1m-12 20h1m-5-9h1m-3 6h1m-9-4h1m-8-29h1m-3 31h1m-3-4h1m-2-28h1m-2 28h1m-26-7h1m-3 5h1m-12-2h1m-11 4h1m-4 4h1m-2 2h1m-8-18h1m-12 11h1m-7-5h1m-14-17h1m-16 18h1m-8 13h1m-12-9h1m-24-6h1m-2-10h1m-11 15h1m-1-19h1m-15 21h1m-16 0h1m-72-23h1m-14 32h1m-3-2h1m-60-2h1m-32-2h1m-8 4h1m-7-15h1m-21 0h1m-11 12h1m-1-1h1m-18-33h1m-20 22h1m-6 15h1m-23-34h1m-2 10h1m-20 7h1m-6 8h1m-5-21h1m-1-1h1m-30 13h1m-15 10h1m-29 2h1m-12 1h1m-2-32h1m-9 13h1m-28 4h1m-22 17h1m-16-9h1m-8 14h1m-30 39h1m0-10h1m9-7h1m4 16h1m22-4h1m9-14h1m38 16h1m4 3h1m19-5h1m1-1h1m12 0h1m1-5h1m34-25h1m10 8h1m8 1h1m11 26h1m12-10h1m16 7h1m18 1h1m12-12h1m10-18h1m7 19h1m1-20h1m17 21h1m43-9h1m1 15h1m11-19h1m3-6h1m1 25h1m18-16h1m5-13h1m0 12h1m10 25h1m4-9h1m10 9h1m-1-15h1m7-23h1m11 29h1m8-6h1m13-12h1m5 14h1m17 11h1m0-21h1m3-7h1m2-7h1m1 14h1m8 8h1m5-17h1m7 24h1m5-27h1m3 2h1m7 14h1m2-1h1m0 12h1m-1-4h1m19 11h1m15-19h1m1 7h1m0 6h1m8 1h1m13-30h1m7 7h1m4 3h1m4 1h1m12 12h1m6 9h1m7-22h1m16 15h1m8-27h1m-1 0h1m1 19h1m0 4h1m4 5h1m7-27h1m13 16h1m0 2h1m0 0h1m2-14h1m1 23h1m2-22h1m1-5h1m0 2h1m6 18h1m0 10h1m19-27h1m2 19h1m-1 1h1m12 2h1m1-27h1m0 31h1m2-4h1m10-22h1m2 16h1m5-4h1m6-10h1m-1 22h1m0-18h1m14 18h1m-1-3h1m3-13h1m6-10h1m12 32h1m2-4h1m3-22h1m4 0h1m0 25h1m4-30h1m5 1h1m0 30h1m4-19h1m0 12h1m6 4h1m0-13h1m3-4h1m22 21h1m23-35h1m28 15h1m20-8h1m27 28h1m1-4h1m2-28h1m-1 30h1m1-17h1m3-12h1m18-3h1m2 0h1m46 26h1m26-14h1m19 9h1m12-20h1m0 7h1m8 7h1m5-10h1m21 28h1m16-5h1m0-15h1m5 12h1m0-22h1m12 26h1m3-2h1m-1-2h1m30-9h1m46-7h1m1 1h1m13 21h1m10-26h1m-58 56h1m-8 16h1m-7-17h1m-10 7h1m-40-19h1m-3-4h1m-5 28h1m-1-14h1m-29-18h1m-50 7h1m-8 18h1m-33-11h1m-11-10h1m-55 25h1m-22 2h1m-52-5h1m-11-4h1m-17-11h1m-7-9h1m-22 6h1m-6 18h1m-2-9h1m-7 14h1m-7 0h1m-16-18h1m-2-14h1m-1 28h1m-4 7h1m-7-20h1m-5 0h1m-12 1h1m-1 2h1m-9 20h1m-5-18h1m-8 17h1m-4-38h1m-2 36h1m-1-1h1m-9-15h1m-3 6h1m-6-12h1m-3-10h1m-6-1h1m-1-1h1m-25 13h1m-11-6h1m-1-6h1m-7 26h1m-2-11h1m-2 5h1m-4 1h1m-1-12h1m-6-6h1m-13 25h1m-1-15h1m-10-13h1m-14 2h1m-14 1h1m-5 0h1m-7 19h1m-8 9h1m-2-19h1m-3 24h1m-5-14h1m-2-16h1m-2 23h1m-5 1h1m-2-4h1m-10-21h1m-5 18h1m-6-25h1m-3 27h1m-1-21h1m-9-5h1m-22 20h1m-12-18h1m-10 6h1m-7 24h1m-10-16h1m-4-11h1m-15-1h1m-15 6h1m-11 14h1m-29 0h1m-3-19h1m-2 14h1m-3-10h1m-5 10h1m-15-17h1m-3 23h1m-1 12h1m-19-36h1m-2 10h1m-2 0h1m-9 21h1m-5-30h1m-8 20h1m-13-7h1m-24 10h1m-4 3h1m-6-6h1m-3-1h1m-2-8h1m-16 13h1m-8 8h1m-9-4h1m-3-5h1m-17-17h1m-15 15h1m-10 3h1m-4-22h1m-1-4h1m-24 20h1m-14 12h1m-3-1h1m-9-22h1m-13 2h1m-3 15h1m-13 8h1m-10-27h1m-8 22h1m-7-5h1m-6-21h1m-15 29h1m-18-34h1m-11 33h1m-15 6h1m-17-21h1m-15 13h1m-6-11h1m-8 14h1m-17-3h1m-6 1h1m-16 5h1m-2-15h1m-10 11h1m-12-2h1m-37-18h1m-12 14h1m-22-14h1m-9 23h1m-6 16h1m5 16h1m3-24h1m6 16h1m6 0h1m51-10h1m11 18h1m32-8h1m17 15h1m19-16h1m10-15h1m0 27h1m23-31h1m31 32h1m9-30h1m1 26h1m5 2h1m11 6h1m-1-30h1m2 3h1m3-4h1m-1 20h1m4 2h1m0-25h1m4 0h1m-1 34h1m5-6h1m13-5h1m10-14h1m13-1h1m4 16h1m3-21h1m-1-4h1m1 3h1m15 32h1m10-19h1m9-1h1m2 3h1m6 11h1m1 1h1m14-23h1m1-6h1m9-2h1m7 21h1m34 7h1m0 9h1m3-16h1m10-12h1m6 15h1m9 6h1m4-4h1m7-24h1m6 34h1m1 3h1m6-18h1m2-16h1m2 19h1m4-3h1m3 9h1m0-2h1m7-20h1m-1 24h1m1-3h1m4-22h1m12 14h1m15-17h1m16 27h1m7-16h1m6 18h1m0-32h1m6 6h1m0 11h1m0 15h1m5-31h1m0 18h1m5 5h1m7-5h1m-1 16h1m-1-27h1m20 2h1m1 22h1m6 5h1m4-27h1m0-7h1m6 21h1m31-17h1m0-2h1m5 13h1m3 3h1m9-20h1m15 7h1m5 0h1m8 27h1m7-24h1m9-4h1m4 25h1m7-4h1m2-12h1m2-10h1m18 15h1m13 3h1m5-2h1m26-13h1m24-9h1m4 29h1m5-30h1m4 3h1m-1 21h1m2 11h1m3-10h1m0 11h1m0-20h1m0 18h1m4-4h1m3 7h1m14-2h1m-1-11h1m0-2h1m10-2h1m13 8h1m1 0h1m37-23h1m15 31h1m-1-27h1m5-3h1m8 21h1m21 10h1m1-12h1m10-14h1m1 16h1m3 11h1m19-36h1m12 7h1m15-3h1m2 12h1m9-18h1m11 23h1m4-3h1m5-3h1m7 2h1m2-14h1m3 34h1m2-37h1m13 10h1m4-9h1m7 29h1m5-10h1m7 0h1m1-15h1m18-6h1m16 34h1m59-3h1m6-28h1m1 7h1m181 19h1m-200 13h1m-12 5h1m-3 25h1m-3-9h1m-1-24h1m-25 11h1m-10-2h1m-25-2h1m-29 28h1m-11 1h1m-36 3h1m-29-23h1m-10 18h1m-24-34h1m-22 6h1m-35 5h1m-18 24h1m-32-16h1m-3 4h1m-16-3h1m-38-14h1m-5 1h1m-2 12h1m-12-10h1m-9 15h1m-5 12h1m-11-15h1m-6-12h1m-2-4h1m-4 14h1m-12-8h1m-5-11h1m-4 31h1m-2 3h1m-1-9h1m-3 0h1m-11 0h1m-11-21h1m-6 9h1m-9 26h1m-29-21h1m-2 5h1m-4 2h1m-21-16h1m-11 5h1m-6 11h1m-4 2h1m-8-26h1m-12 12h1m-9 16h1m-6-26h1m-1 7h1m-5 19h1m-8 3h1m-3 1h1m-8-32h1m-8 23h1m-5 9h1m-14-10h1m-2-16h1m-1-3h1m-5 18h1m-2 7h1m-5-11h1m-17-7h1m-1-11h1m-6 7h1m-3 31h1m-1-25h1m-9 0h1m-1 17h1m-8-2h1m-4-19h1m-9 28h1m-9-35h1m-3 29h1m-11-18h1m-3 9h1m-8 15h1m-5-25h1m-24 0h1m-2-11h1m-8 38h1m-4-36h1m-2 36h1m-1-35h1m-9 14h1m-4-18h1m-11 33h1m-2 3h1m-1-1h1m-7-34h1m-2 28h1m-10 4h1m-4-5h1m-16-11h1m-4-3h1m-14 4h1m-2-2h1m-2-16h1m-6 14h1m-1-10h1m-5 1h1m-8-4h1m-23 38h1m-18-27h1m-2 12h1m-2-18h1m-5-5h1m-9 6h1m-1 25h1m-7 5h1m-12-26h1m-14 22h1m-1-9h1m-7-15h1m-15 7h1m-7-2h1m-13 12h1m-13 8h1m-5-34h1m-4 32h1m-5-6h1m-1 1h1m-3-1h1m-8-22h1m-5-3h1m-1 13h1m-5-9h1m-4-3h1m-2 22h1m-6 7h1m-12-19h1m-6 12h1m-1-4h1m-5-1h1m-3 10h1m-3-21h1m-2-7h1m-19 36h1m-5-33h1m-1 30h1m-10 0h1m-9-9h1m-2 6h1m-5-6h1m-5-18h1m-6-5h1m-7 36h1m-10-18h1m-7 13h1m-3-33h1m-1 27h1m-8-17h1m-13 20h1m-21-29h1m-3 35h1m-6-12h1m-1-4h1m-2 5h1m-2 0h1m-5-11h1m-7-8h1m-18 13h1m-11-18h1m-4 8h1m-8 25h1m-1-11h1m-3-3h1m-27-18h1m-9 21h1m-17-4h1m-5 0h1m-8-7h1m-35 0h1m-6 6h1m-25 13h1m-51 0h1m24 20h1m67-9h1m4 28h1m7-1h1m72 10h1m21-6h1m-1 3h1m-1-1h1m0-23h1m20 24h1m5-36h1m13 1h1m0 34h1m-1-26h1m1-9h1m1 13h1m2 23h1m1-24h1m11 2h1m4 13h1m1 11h1m0-33h1m9 2h1m14 24h1m12 4h1m4-31h1m3 19h1m7-18h1m1 14h1m8 6h1m1-10h1m3 5h1m12-17h1m6 20h1m11-6h1m1 12h1m3-2h1m2 0h1m0-1h1m8-21h1m11-2h1m-1 31h1m5-2h1m1-4h1m4-21h1m1-6h1m3 31h1m2 5h1m-1-26h1m2 15h1m4 8h1m4-13h1m2 10h1m7-6h1m1-23h1m6 1h1m0 13h1m6-7h1m14 25h1m3 3h1m7-15h1m5-4h1m4 14h1m4-29h1m4 36h1m13-21h1m8 1h1m1 18h1m2-27h1m10 21h1m11 6h1m9-9h1m9-14h1m1 25h1m2-7h1m7-31h1m4 15h1m6 4h1m0 16h1m3 1h1m4-4h1m0 5h1m1-27h1m5 2h1m16 9h1m7-19h1m1 19h1m6-5h1m3 7h1m5-5h1m4 12h1m6-13h1m3-13h1m2 33h1m0-18h1m3 16h1m2-34h1m0 31h1m2 3h1m0-15h1m23 9h1m2-1h1m2-14h1m1-1h1m1-5h1m5 25h1m5-16h1m10-13h1m-1-5h1m7 8h1m11 0h1m1 24h1m5-10h1m1 6h1m17 11h1m-1-22h1m20 10h1m28-21h1m5 31h1m10-12h1m5 14h1m9-36h1m1 22h1m3 6h1m13-30h1m8 20h1m17-21h1m0 20h1m-1 18h1m6-31h1m5 3h1m0 1h1m1 8h1m1 8h1m4 5h1m1-10h1m4 16h1m0-2h1m-1-16h1m1-7h1m9 25h1m22 1h1m6-9h1m5-2h1m3-20h1m20 22h1m1-4h1m1-2h1m1-8h1m0 11h1m26-25h1m4 7h1m4 26h1m3-21h1m5 6h1m7 18h1m10-3h1m25-1h1m0-11h1m16-6h1m10 17h1m17-9h1m10-9h1m-1 2h1m5-10h1m29-4h1m8 0h1m32 3h1m20 12h1m20-16h1m-1 7h1m8-3h1m9-1h1m21 0h1m267 10h1m49 60h1m-417-36h1m-45 29h1m-7-4h1m-4 7h1m-8-5h1m-4 12h1m-8-30h1m-40 17h1m-8-21h1m-1 33h1m-2-25h1m-5 0h1m-5 18h1m-7-24h1m-14-7h1m-44 18h1m-38-16h1m-6 10h1m-38 17h1m-10-28h1m-3 25h1m-6-5h1m-11-21h1m-6 32h1m-7-9h1m-4-17h1m-3 24h1m-1-27h1m-3 28h1m-3-27h1m-9 22h1m-5 12h1m-16-28h1m-6 1h1m-3-11h1m-21 10h1m-6-3h1m-1 12h1m-4 16h1m-2-23h1m-8-5h1m-3 26h1m-11-19h1m-3 7h1m-8-5h1m-10 4h1m-11 16h1m-8-27h1m-9 13h1m-5-16h1m-2-6h1m-8 7h1m-7 18h1m-11 8h1m-5-15h1m-2 21h1m-3-22h1m-11 20h1m-8-21h1m-2-10h1m-14 22h1m-8 5h1m-1-5h1m-2-4h1m-1 1h1m-3-1h1m-32-16h1m-3-2h1m-4 9h1m-2-4h1m-10 1h1m-8-8h1m-3 27h1m-2 4h1m-2 2h1m-23-4h1m-3-25h1m-5 9h1m-4 20h1m-13-2h1m-3-28h1m-6 15h1m-16-18h1m-5 19h1m-12 3h1m-1-19h1m-3 10h1m-13 15h1m-5-15h1m-9 3h1m-4-11h1m-8 9h1m-5-6h1m-4-1h1m-12 25h1m-1-32h1m-3 7h1m-2-5h1m-2 24h1m-8-15h1m-3-11h1m-4 12h1m-6-3h1m-3 3h1m-2 10h1m-4-5h1m-3-20h1m-10 36h1m-7-6h1m-3-12h1m-2-7h1m-1 22h1m-4-33h1m-4 14h1m-6-10h1m-2 4h1m-7 22h1m-1-7h1m-3 10h1m-23-27h1m-9 20h1m-15 11h1m-6-31h1m-17 22h1m-8-12h1m-10-9h1m-4 18h1m-2-24h1m-3 20h1m-1-11h1m-9-8h1m-2 25h1m-4-12h1m-10-14h1m-4 16h1m-6-3h1m-6 7h1m-5-14h1m-7 12h1m-2 12h1m-13-20h1m-3 10h1m-1 6h1m-10 0h1m-3-20h1m-1 14h1m-4-19h1m-2 7h1m-3-8h1m-12 24h1m-6 0h1m-4 12h1m-8-10h1m-2-15h1m-1 1h1m-1 16h1m-6-20h1m-5-9h1m-3 30h1m-5-19h1m-1 21h1m-6-4h1m-2-8h1m-18-18h1m-2 2h1m-5 25h1m-9-30h1m-2 36h1m-6-8h1m-5-8h1m-7-14h1m-13 24h1m-8-22h1m-6 27h1m-18-8h1m-21-1h1m-6-14h1m-15 14h1m-3 2h1m-91-3h1m-10-8h1m-104 12h1m-20 35h1m71-10h1m21 23h1m54 2h1m29-17h1m-1-16h1m18 27h1m29-10h1m2-14h1m13-3h1m14 14h1m2 3h1m8 14h1m3-29h1m12 16h1m17-5h1m-1 0h1m0-13h1m8 17h1m-1-5h1m1-5h1m2 25h1m0-34h1m3 24h1m-1-11h1m2 8h1m4-9h1m0 18h1m1 1h1m7-28h1m2 11h1m-1 16h1m0-7h1m8-14h1m2 12h1m13 11h1m1-29h1m7-5h1m4 36h1m13-31h1m0 2h1m10-3h1m20 33h1m10-3h1m-1-2h1m1 4h1m0-18h1m10-15h1m32 22h1m4 8h1m3-3h1m7 2h1m4-5h1m0-5h1m-1 3h1m8-27h1m4 1h1m0-1h1m3 30h1m1 2h1m4-31h1m1 2h1m0 15h1m5 11h1m1-6h1m0-9h1m3-9h1m1 18h1m1-8h1m0-4h1m7 7h1m16 14h1m3-19h1m6 24h1m1-8h1m3-5h1m14-6h1m3 6h1m2-8h1m5-12h1m13 33h1m8-21h1m7 0h1m12-3h1m-1 2h1m1 15h1m2 1h1m7-12h1m5-8h1m5-3h1m1 5h1m0 16h1m10 5h1m6-24h1m8 10h1m12-13h1m10 21h1m10-19h1m0 25h1m23-23h1m1-1h1m7-4h1m-1-6h1m0 25h1m27-1h1m2 4h1m0 7h1m10-28h1m0 20h1m5-12h1m2 24h1m6-3h1m-1-31h1m6 13h1m2 14h1m14 0h1m14 4h1m1-27h1m11-9h1m13 30h1m10-6h1m0 12h1m11-8h1m4 0h1m5-19h1m1-4h1m0-2h1m9 30h1m10-9h1m21-20h1m4 2h1m9 5h1m10 11h1m9-5h1m12-13h1m3 21h1m5 2h1m50 11h1m18-30h1m2 11h1m15-14h1m5 26h1m19 4h1m8-1h1m19-25h1m3 25h1m43-31h1m2 14h1m137 9h1m190 3h1m5 5h1m4-8h1m8 6h1m3 5h1m1-16h1m-322 26h1m-9 13h1m-21 12h1m-20-20h1m-8 8h1m-53 1h1m-16 3h1m-53-1h1m-2-16h1m-3-6h1m-8 25h1m-4-21h1m-10 28h1m-10-26h1m-9 5h1m-7 2h1m-10-6h1m-2 3h1m-9 8h1m-2 2h1m-26-7h1m-14-4h1m-16 14h1m-15-9h1m-34 1h1m-22 18h1m-11-22h1m-6-3h1m-30-3h1m-28 10h1m-10 18h1m-4-34h1m-12 4h1m-6 2h1m-2 15h1m-3 3h1m-8-6h1m-8 17h1m-2-32h1m-6 1h1m-3 24h1m-13-26h1m-4 24h1m-11-9h1m-10-8h1m-6-5h1m-18 11h1m-21-14h1m-7 13h1m-11 0h1m-1-11h1m-2 23h1m-13-11h1m-8 4h1m-4 6h1m-57-18h1m-1 25h1m-5-7h1m-3 1h1m-2-10h1m-6 23h1m-4-17h1m-8-18h1m-17 10h1m-8-8h1m-5 20h1m-23-25h1m-4 35h1m-4-21h1m-2-9h1m-2 19h1m-5 9h1m-16 4h1m-3-14h1m-6-20h1m-8 25h1m-3 2h1m-13-17h1m-10 12h1m-12 8h1m-8-11h1m-1 12h1m-12-33h1m-3 35h1m-4-7h1m-6 5h1m-2 3h1m-14-34h1m-4 21h1m-23-4h1m-1-17h1m-2 21h1m-6 8h1m-3-6h1m-10-17h1m-14 10h1m-2 11h1m-4 7h1m-3-14h1m-9-13h1m-7 13h1m-4-2h1m-7 0h1m-4 2h1m-6 11h1m-2 0h1m-4-33h1m-5 25h1m-3-25h1m-3 18h1m-20-18h1m-5 3h1m-6 1h1m-6 24h1m-7-29h1m-14 9h1m-5 0h1m-6 1h1m-4-6h1m-2 31h1m-11 2h1m-1-35h1m-8 30h1m-11-25h1m-15 8h1m-4-1h1m-19 0h1m-21 10h1m-12 13h1m-16-36h1m-3 32h1m-57-26h1m-110 0h1m-39 3h1m-3 52h1m59 16h1m46-5h1m86-20h1m46 13h1m14 2h1m3-25h1m19 14h1m19 11h1m0-16h1m8 7h1m3 1h1m10 0h1m19-11h1m6-7h1m8 26h1m12 7h1m2-1h1m5-6h1m1 5h1m-1-32h1m3 2h1m16 27h1m8 0h1m6-22h1m2 24h1m3-23h1m4 1h1m1 27h1m3-12h1m1-3h1m7-15h1m0 25h1m0-24h1m12 25h1m12-24h1m4-7h1m1 30h1m4-27h1m8-3h1m0 20h1m14 13h1m9-9h1m0-20h1m3 12h1m0 11h1m19-15h1m4 7h1m20 17h1m1-18h1m5 2h1m5-20h1m-1 24h1m13-27h1m9 5h1m9 22h1m0-23h1m14 21h1m0 8h1m0-30h1m18 7h1m3 10h1m5-20h1m5 34h1m6-2h1m8-30h1m3 16h1m6-16h1m-1 12h1m4 6h1m8 3h1m-1 5h1m10-22h1m9 16h1m5 8h1m21-11h1m-1-1h1m12-1h1m3-9h1m0 31h1m12-2h1m6-28h1m14 15h1m8-15h1m13 21h1m2-17h1m8-8h1m14 11h1m58 22h1m68-14h1m56-3h1m1 4h1m45-19h1m2 23h1m14-5h1m2-2h1m30-14h1m3 9h1m7 21h1m22-14h1m8-11h1m125 17h1m485 43h1m-320-12h1m-27-9h1m-157 19h1m-48-9h1m-125 5h1m-49 12h1m-26-36h1m-63 17h1m-53 8h1m-139-18h1m-6-3h1m-5 12h1m-25 18h1m-6-10h1m-10 2h1m-23-15h1m-2 6h1m-13-9h1m-5-4h1m-5 2h1m-23-9h1m-15 20h1m-6-14h1m-15 12h1m-18-5h1m-14 16h1m-23-28h1m-13 21h1m-6-19h1m-3-2h1m-12 31h1m-15-25h1m-2 4h1m-8 2h1m-2 8h1m-2-3h1m-4-16h1m-2 31h1m-6-19h1m-7 21h1m-5-26h1m-5 11h1m-3 17h1m-3-36h1m-3 3h1m-1 34h1m-2-5h1m-5-33h1m-2 11h1m-3-7h1m-4 22h1m-5 10h1m-6-8h1m-9 2h1m-10-22h1m-7 2h1m-2 28h1m-6-2h1m-2-7h1m-7-18h1m-1-1h1m-4-4h1m-3 27h1m-6-26h1m-9 12h1m-5 5h1m-8-9h1m-3-9h1m-4 9h1m-2-13h1m-13 36h1m-2-38h1m-3 2h1m-16 18h1m-3 8h1m-2 10h1m-10-22h1m-4-9h1m-3 18h1m-3-9h1m-5 6h1m-2-18h1m-6 5h1m-3 0h1m-1 4h1m-26 2h1m-6-5h1m-1 22h1m-6-31h1m-7 1h1m-50 21h1m-11-3h1m-24 0h1m-25-3h1m-44-7h1m-23-5h1m-43 31h1m-106-8h1m53 25h1m89 16h1m40 2h1m-1-23h1m59 25h1m6-25h1m13 12h1m37-6h1m39 20h1m43-27h1m21 9h1m2 9h1m10-9h1m7 20h1m9-34h1m7 3h1m11 33h1m11-21h1m4-8h1m2 5h1m8-3h1m9-5h1m1 12h1m10-7h1m2-2h1m9 19h1m2-16h1m3 25h1m1-31h1m-1 21h1m5-13h1m8-13h1m2 30h1m10 5h1m6-29h1m4 2h1m6 6h1m8 0h1m16-10h1m18 28h1m14-30h1m6 30h1m4-17h1m26-1h1m8 2h1m16-10h1m180 7h1m20 24h1m256-23h1m66-5h1m164-1h1m62 22h1m49 6h1m264-21h1m0 8h1m0 3h1m0-16h1m4 3h1m16 1h1m9 20h1m-15 7h1m-234 36h1m-84-19h1m-19 1h1m-89 1h1m-128-13h1m-51-8h1m-9 23h1m-29 6h1m-47 0h1m-177 4h1m-36-7h1m-45 9h1m-54-28h1m-32 9h1m-60-4h1m-70 1h1m-19-4h1m-35-9h1m-1 22h1m-8-15h1m-29 20h1m-7-27h1m-24 13h1m-3 0h1m-38-11h1m-76 13h1m-73 13h1m-55 2h1m-78 9h1m-62-8h1m-333 44h1m13 1h1m9-3h1m-1-2h1m14 3h1m1-8h1m12-4h1m366 2h1m11 4h1m30 6h1m-1-6h1m11 8h1m86-9h1m33-14h1m61-6h1m4 21h1m38 3h1m182-23h1m36-6h1m59 3h1m2 22h1m0-11h1m8 20h1m3-34h1m5 17h1m1 11h1m2-7h1m72 4h1m96 9h1m24-3h1m56-3h1m0-1h1m1-6h1m0 2h1m14 8h1m4-19h1m0 21h1m8-8h1m95-5h1m42 2h1m34-3h1m86 15h1m39 1h1m126-9h1m13-14h1m7-12h1m1 5h1m-37 61h1m-30 8h1m-2-11h1m-16 10h1m-4 2h1m-5-35h1m-3 21h1m-7 2h1m-125 10h1m-21-15h1m-34-10h1m-33 12h1m-121 10h1m-50-31h1m-15 7h1m-126 24h1m-149-24h1m-1-6h1m-91 8h1m-67 22h1m-29 5h1m-33-27h1m-55 6h1m-111 7h1m-100 14h1m-22-11h1m-16-5h1m-2 6h1m-9 9h1m-18-1h1m-5-18h1m-3 2h1m-6-19h1m-5 13h1m-32 7h1m-6 11h1m-6-21h1m-69 21h1m-93-4h1m-25 3h1m-173-6h1m-3 14h1m-9-20h1m-2-12h1m-2 14h1m-2-14h1m-4 7h1m-1-11h1m-1 1h1m-12 8h1m-1 28h1m-6-21h1m-2-18h1m-13 23h1m28 23h1m130 5h1m251 5h1m27-15h1m0 19h1m3 2h1m17-5h1m-1 7h1m14-21h1m14 12h1m3 4h1m5-11h1m-1 19h1m3 8h1m78-30h1m62 4h1m49-3h1m102 6h1m3-3h1m6 4h1m0 12h1m3-24h1m-1 12h1m8-9h1m25 25h1m49 6h1m21-15h1m3 2h1m-1-13h1m7 15h1m0-17h1m9 19h1m3-1h1m11-12h1m0 9h1m34-16h1m450 13h1m131-14h1m67 3h1m4-6h1m9 6h1m2-5h1m11 6h1m15 16h1m2-17h1m56 8h1m174-13h1m1 17h1m0-5h1m0 18h1m3-13h1m2-15h1m3 14h1m3-2h1m473 35h1m-1 18h1m-9 8h1m-50 0h1m-3-11h1m-726 12h1m-22-23h1m-135-5h1m-38 2h1m-56-10h1m-147 6h1m-83 11h1m-18 11h1m-5-28h1m-1 9h1m-11-3h1m-10 19h1m-1-1h1m-3-14h1m-13 9h1m-39-12h1m-233 7h1m-12 19h1m-6-20h1m-9-5h1m-4 15h1m-9-24h1m-1 34h1m-8-9h1m-21-22h1m-64 13h1m-35-8h1m-145 7h1m-12 15h1m-2-31h1m-13 27h1m-15-5h1m-11 11h1m-1-31h1m-9 23h1m-10-13h1m-30 23h1m-4-9h1m-21-18h1m-31 2h1m-30 7h1m-61-12h1m-31 19h1m-53 8h1m-91 42h1m25-34h1m133 36h1m16-14h1m105 14h1m12-33h1m33 6h1m2 7h1m11 9h1m43-24h1m18 29h1m59-27h1m117 19h1m11-19h1m69 31h1m16-10h1m1-15h1m13 7h1m98-8h1m57-3h1m32 13h1m100-4h1m2-11h1m1 27h1m2-18h1m19-9h1m5 2h1m0 13h1m116 10h1m58-9h1m139 3h1m39-8h1m248 13h1m583 10h1m8-5h1m15 5h1m11-32h1m2 17h1m1-16h1m1 14h1m10 12h1m-1-25h1m4 12h1m4-12h1m2 29h1m17-27h1m15 38h1m-17-3h1m-2 18h1m-2-12h1m-1 1h1m-4 7h1m-3-10h1m-6 18h1m-21-8h1m-21 8h1m-12-15h1m-6 2h1m-92 25h1m-590-13h1m-16-12h1m-1-9h1m-10 27h1m-3-25h1m-24-4h1m-121 25h1m-330-3h1m-14-19h1m-68-1h1m-77 25h1m-14-26h1m-40 17h1m-200-6h1m-38 1h1m-123-4h1m-22 19h1m-293-29h1m-10 6h1m-18-7h1m-231 48h1m3 24h1m7-22h1m7 26h1m9-33h1m5 26h1m11 3h1m60-31h1m106 4h1m24 23h1m141-19h1m54 24h1m20-14h1m49-9h1m38 16h1m22-23h1m194 4h1m95 9h1m105 2h1m56-12h1m46-6h1m51 7h1m78 12h1m11-20h1m36 8h1m23 11h1m55 16h1m99-8h1m124-27h1m61 22h1m248-2h1m345-9h1m11 0h1m147 6h1m6-15h1m-754 72h1m-58-25h1m-116 13h1m-80-13h1m-28 25h1m-8-13h1m-9-11h1m-7 12h1m-5 11h1m-2-5h1m-8 3h1m-83-29h1m-245 3h1m-105 22h1m-114-16h1m-18 21h1m-2 3h1m-4-26h1m-2 5h1m-11 0h1m-3 16h1m-26 9h1m-39-17h1m-10 8h1m-43 1h1m-19-7h1m-28-8h1m-3-13h1m-13 27h1m-5-1h1m-2 4h1m-18-11h1m-1 1h1m-11 14h1m-12 2h1m-37-35h1m-14 23h1m-18-3h1m-27-15h1m-3 26h1m-27 4h1m-23-2h1m-57-9h1m-36 1h1m-59-2h1m-22-5h1m-37 8h1m-143-18h1m-2-2h1m-3 6h1m-94 14h1m-3 2h1m26 10h1m1 23h1m86-6h1m20-3h1m45-10h1m12 31h1m13-9h1m25 6h1m17-7h1m1 1h1m5 6h1m2-13h1m3-17h1m21 26h1m6 2h1m51-28h1m0 21h1m4 9h1m3-17h1m16 8h1m11 14h1m3-27h1m5-12h1m14 38h1m1-24h1m9 6h1m1-17h1m11 27h1m6-4h1m9 7h1m11 0h1m4-29h1m4-2h1m8 26h1m0-12h1m14-12h1m0 24h1m3 10h1m4-2h1m7-6h1m3 2h1m19-8h1m-1-17h1m3 21h1m3-10h1m0 9h1m2-20h1m19 19h1m8-20h1m2 24h1m1-5h1m2-11h1m1 22h1m-1-17h1m0 15h1m5-4h1m6 2h1m4-22h1m3 12h1m0-3h1m9 15h1m1-21h1m1 24h1m-1-20h1m9-3h1m5 22h1m4-27h1m13-6h1m2 3h1m4 30h1m2-7h1m7-5h1m-1-4h1m2 13h1m7 4h1m2-2h1m15-16h1m7-19h1m0 27h1m0-27h1m10 23h1m4 16h1m3 0h1m1-38h1m2 29h1m2 9h1m0-12h1m20 0h1m0-23h1m12 14h1m3-2h1m-1-7h1m9 15h1m0 6h1m13 7h1m4-34h1m1 35h1m0-14h1m44-9h1m1 15h1m11 9h1m152-34h1m51 32h1m7-28h1m42 5h1m57 11h1m48 1h1m61-11h1m168 0h1m142-8h1m9-2h1m6 26h1m12-24h1m0 7h1m4 14h1m49-7h1m361 56h1m-8-22h1m-10 17h1m-14-15h1m-6 21h1m-6-7h1m-154-31h1m-414 15h1m-52 4h1m-88-16h1m-79 13h1m-50 15h1m-61 1h1m-59-5h1m-133 6h1m-26-4h1m-10-8h1m-6 13h1m-2-29h1m-7 5h1m-3 24h1m-1-23h1m-9-3h1m-3 5h1m-3-8h1m-8 5h1m-3 5h1m-6 21h1m-14-10h1m-5-23h1m-3 17h1m-2 11h1m-15 5h1m-3 2h1m-6-20h1m-23-15h1m-13 10h1m-4 21h1m-2-21h1m-2-12h1m-5 35h1m-6-16h1m-14-18h1m-8 18h1m-2-14h1m-3 9h1m-3 12h1m-2 4h1m-3-18h1m-9-9h1m-13 29h1m-6 1h1m-11-24h1m-10 10h1m-6 6h1m-4 2h1m-2-4h1m-3-24h1m-6 23h1m-13-16h1m-10 24h1m-1-29h1m-7 36h1m-22-18h1m-5-6h1m-18-10h1m-5 6h1m-1 27h1m-1-7h1m-4-16h1m-17 21h1m-3-19h1m-11 0h1m-3 10h1m-8-11h1m-4 0h1m-3-6h1m-6 1h1m-5 12h1m-6 13h1m-2-29h1m-1 4h1m-6-5h1m-1 29h1m-5-16h1m-2-7h1m-3 1h1m-18-9h1m-2 9h1m-17 1h1m-4 8h1m-16-4h1m-5 21h1m-2-2h1m-2-34h1m-4 12h1m-12 21h1m-4-22h1m-5 8h1m-2 18h1m-2-35h1m-6 26h1m-3-11h1m-4 9h1m-8-5h1m-5 15h1m-2-15h1m-5-6h1m-4-3h1m-2 7h1m-2 7h1m-5-15h1m-6 22h1m-3-32h1m-7-2h1m-9 36h1m-9-5h1m-4-21h1m-11 11h1m-5-19h1m-32 2h1m-15 15h1m-16-5h1m-10-3h1m-5 23h1m-8-22h1m-10-2h1m-2 26h1m-6-4h1m-1-25h1m-5 26h1m-2-5h1m-8-1h1m-6 0h1m-11-4h1m-5-2h1m-6-11h1m-6 18h1m-12-7h1m-3-21h1m-2 10h1m-8 24h1m-2-11h1m-7-16h1m-2 1h1m-1 6h1m-10-4h1m-31 15h1m-113 0h1m-36 8h1m-20-11h1m-20 46h1m200-17h1m2-6h1m3 3h1m6 2h1m9 1h1m4 0h1m14-4h1m0 29h1m7-12h1m1 4h1m5 10h1m0-36h1m10 31h1m4-22h1m3 23h1m-1-20h1m0 22h1m2-21h1m10 23h1m-1-16h1m0-9h1m0 21h1m3-34h1m6 24h1m6-18h1m2-7h1m4 36h1m9-16h1m8-5h1m0-4h1m9-10h1m1 8h1m0 5h1m3-14h1m10 2h1m0 9h1m3 2h1m2 2h1m9 0h1m0-13h1m3 1h1m1 1h1m13 27h1m34 7h1m4-21h1m18-11h1m3-1h1m7 10h1m11 21h1m16-27h1m3 6h1m10 17h1m1-30h1m6 14h1m-1 22h1m1-31h1m3 25h1m3-32h1m0 2h1m-1 20h1m8 7h1m4-22h1m1-4h1m1 16h1m22-4h1m3 6h1m19 5h1m-1-11h1m2 2h1m17-3h1m-1 20h1m1-1h1m3-10h1m1 12h1m9-34h1m4-1h1m6 18h1m9 9h1m3-11h1m-1-7h1m0 4h1m0 11h1m6-24h1m2 15h1m1 11h1m6-3h1m1 3h1m11 7h1m1-15h1m2 21h1m7-29h1m0 17h1m-1-11h1m9 19h1m0 1h1m4-21h1m7-13h1m1 2h1m20-3h1m3 4h1m8 31h1m9-31h1m24 9h1m3 13h1m7-26h1m5 28h1m4-6h1m1 14h1m-1-29h1m2 18h1m1-4h1m0 9h1m2-26h1m1 5h1m5 25h1m1-16h1m2-15h1m1 22h1m0 2h1m1-27h1m2 33h1m-1-19h1m12 8h1m24-8h1m2 11h1m10-8h1m15-9h1m-1-9h1m23 27h1m150-2h1m40 12h1m17-6h1m-1 3h1m5-1h1m2-24h1m37 23h1m27-12h1m74 10h1m268-6h1m5-4h1m32 10h1m42-1h1m362-27h1m25-1h1m-1 1h1m-175 38h1m-144 20h1m-30-14h1m-14 32h1m-11-14h1m-6-23h1m-6 20h1m-4 10h1m-32 2h1m-3-25h1m-14 11h1m-17 1h1m-4-9h1m-6 28h1m-8 0h1m-5-25h1m-6-12h1m-12 19h1m-4-2h1m-5-13h1m-18 26h1m-11-24h1m-2 24h1m-183-11h1m-13 15h1m-10-3h1m-10-32h1m-15 38h1m-17-15h1m-16 10h1m-21-30h1m-3 26h1m-37-29h1m-1 37h1m-16-36h1m-10 36h1m-2-26h1m-5 22h1m-8-15h1m-5 6h1m-17-12h1m-16 1h1m-1 18h1m-28-5h1m-7 1h1m-1-18h1m-24 13h1m-37-15h1m-11 8h1m-6-8h1m-34 24h1m-8 1h1m-4-8h1m-8 8h1m-3-2h1m-6-31h1m-59 17h1m-5 11h1m-2-27h1m-2 7h1m-8-4h1m-2 25h1m-6-29h1m-2 37h1m-8-5h1m-2-27h1m-2 29h1m-11-23h1m-18 4h1m-6 8h1m-6-15h1m-18 10h1m-13 7h1m-6 13h1m-4-8h1m-2 4h1m-14-2h1m-16-16h1m-15-1h1m-18 19h1m-3-30h1m-6 24h1m-6 3h1m-8 1h1m-6-15h1m-4-9h1m-12 9h1m-2-15h1m-9 21h1m-9-19h1m-2 17h1m-4-16h1m-8 3h1m-4 8h1m-5 1h1m-15 9h1m-5 5h1m-10-18h1m-4-3h1m-31-9h1m-9 16h1m-4-5h1m-5-8h1m-7 12h1m-9 21h1m-4-2h1m-10-5h1m-9-29h1m-4 18h1m-5-3h1m-5 16h1m-3-24h1m-1 4h1m-16-6h1m-5 13h1m-31-3h1m-13 17h1m-7-9h1m-9-18h1m-4-1h1m-7 17h1m-2-15h1m-5 25h1m-33-25h1m-13 24h1m-14-30h1m-4 8h1m-3 20h1m-1-21h1m-15 5h1m-17-13h1m-14 37h1m-3-29h1m-10 25h1m-2-28h1m-8 24h1m-4-10h1m-9-10h1m-10 27h1m-12-19h1m-5 5h1m-1 0h1m-5 12h1m-4-10h1m-1-2h1m-23-22h1m-3 10h1m-3 20h1m-2-14h1m-2-2h1m-7-7h1m-5-3h1m-15-2h1m-5 24h1m-12-11h1m-5 10h1m-2-3h1m-11 8h1m-8-17h1m-8 26h1m-7-28h1m-25-6h1m-11 28h1m-2-22h1m-53 12h1m-58 3h1m-42-13h1m-42 20h1m88 12h1m27 0h1m88 1h1m11 27h1m-1-14h1m6 13h1m1-1h1m9-17h1m5-13h1m27 5h1m2 30h1m-1-32h1m0 15h1m2-14h1m4 23h1m9-1h1m23-27h1m0 4h1m-1 32h1m0-10h1m6 1h1m6 1h1m3-10h1m2 18h1m1-23h1m1 23h1m0-33h1m-1 17h1m6 9h1m0 1h1m10 4h1m2-30h1m-1 15h1m1-9h1m13 7h1m3 17h1m4-24h1m0 16h1m10-24h1m1 24h1m5-2h1m2-10h1m7 25h1m0-31h1m0 5h1m5-1h1m1-9h1m0 17h1m8-11h1m1 5h1m18-12h1m1 28h1m0-27h1m-1-2h1m0 10h1m2-1h1m9-8h1m10 5h1m17 2h1m4 27h1m2 0h1m5-10h1m7-25h1m8 34h1m-1-33h1m34 6h1m16 10h1m0-5h1m18-9h1m3 7h1m5 0h1m1 1h1m4-12h1m15 28h1m7-14h1m3 12h1m0-6h1m-1-4h1m0-3h1m0-7h1m0 27h1m2-29h1m-1 30h1m3-10h1m1 11h1m0-21h1m9-6h1m-1-2h1m2 16h1m1 1h1m1-8h1m0-13h1m3 12h1m2 25h1m6-7h1m-1-5h1m2-17h1m9 0h1m1-8h1m0 9h1m8 25h1m3-35h1m0 1h1m0 19h1m2 14h1m4-21h1m6 19h1m1-6h1m3-9h1m1 16h1m4-14h1m9 15h1m0-21h1m1-3h1m9 7h1m2-11h1m1 23h1m12-28h1m-1 11h1m7 8h1m20-9h1m1-7h1m1 14h1m9 5h1m1 1h1m8 9h1m7-23h1m3 3h1m1-10h1m6 10h1m4-14h1m2 9h1m1 21h1m4-28h1m12 32h1m2-12h1m7-22h1m0 38h1m5 1h1m13-24h1m13 2h1m3-16h1m0 2h1m3 20h1m2-3h1m18-2h1m8 9h1m-1-5h1m12 14h1m8 3h1m5-32h1m8 25h1m6-27h1m-1 20h1m9-7h1m6 1h1m-1-10h1m14 24h1m3-33h1m-1 38h1m4-21h1m12-7h1m7 26h1m5 3h1m19-36h1m19 0h1m0 18h1m10 2h1m1 7h1m0-19h1m0 8h1m2 3h1m18-20h1m8 10h1m-1-5h1m18-7h1m17 5h1m14 25h1m3-8h1m0-20h1m-1 5h1m5 2h1m36 17h1m47 2h1m20 7h1m17 1h1m3-22h1m6 20h1m8-9h1m9-2h1m-1 9h1m135-28h1m5 4h1m6 5h1m4 25h1m11-1h1m0-5h1m9 2h1m3 2h1m0-31h1m0 9h1m-1 25h1m2-33h1m9 28h1m6-17h1m7-7h1m5 2h1m1 10h1m15-16h1m2 3h1m13-2h1m1 31h1m6-28h1m0 12h1m0 1h1m0-6h1m0 1h1m7 18h1m-1-19h1m14-2h1m5 10h1m11-8h1m17-12h1m3 8h1m4 24h1m-1-13h1m3-6h1m3 17h1m7-28h1m25 13h1m204 34h1m-207-2h1m-12-4h1m-6 14h1m-19-4h1m-5 7h1m-2 8h1m-3-19h1m-2-1h1m-6-10h1m-32 25h1m-4-21h1m-2 7h1m-21-5h1m-9-1h1m-4 11h1m-15-3h1m-11 5h1m-6 3h1m-4 10h1m-6-25h1m-41-4h1m-161 6h1m-37 16h1m-7-25h1m-18 23h1m-1 11h1m-24-14h1m-3-9h1m-16-5h1m-16 15h1m-17-20h1m-13 18h1m-16 9h1m-16-9h1m-19-20h1m-2 29h1m-12-29h1m-7 25h1m-6-12h1m-8 15h1m-3-18h1m-7-7h1m-23 18h1m-7-3h1m-5 0h1m-5 5h1m-13 10h1m-7 5h1m-22-34h1m-4 20h1m-23-14h1m-24 17h1m-27-5h1m-13 9h1m-11-29h1m-44 11h1m-18 5h1m-27 4h1m-1-6h1m-4-2h1m-12-3h1m-5-10h1m-12 6h1m-1 12h1m-20-1h1m-16 1h1m-3 2h1m-4-6h1m-3 19h1m-1 4h1m-7-31h1m-4 13h1m-4 17h1m-2-37h1m-3 7h1m-16 4h1m-2 23h1m-2-33h1m-11 22h1m-6-17h1m-1 15h1m-9 9h1m-3 6h1m-11-6h1m-3 4h1m-2-9h1m-8-16h1m-5 4h1m-5 17h1m-3-4h1m-3-1h1m-1-26h1m-23 14h1m-3 20h1m-9-33h1m-3 32h1m-2-19h1m-3 19h1m-2-32h1m-26 2h1m-2 5h1m-12 18h1m-11-26h1m-3 8h1m-2 2h1m-2 29h1m-3-22h1m-3 11h1m-13-20h1m-16-8h1m-1 10h1m-18 4h1m-6 23h1m-15-34h1m-7 3h1m-18-1h1m-13 4h1m-5 19h1m-7 2h1m-5-12h1m-6-4h1m-9 4h1m-2 1h1m-5-1h1m-2-13h1m-6 9h1m-5 9h1m-1 2h1m-15-22h1m-10 9h1m-6 9h1m-6 4h1m-5 7h1m-5-8h1m-16 11h1m-4-23h1m-3 18h1m-4-27h1m-2 4h1m-4 24h1m-3-27h1m-9 6h1m-4-3h1m-22 29h1m-4 1h1m-8-11h1m-8-6h1m-11 11h1m-1-31h1m-5 15h1m-3 12h1m-10 10h1m-10-5h1m-2-8h1m-2-21h1m-6 29h1m-5-9h1m-11-13h1m-4 12h1m-8-9h1m-8-2h1m-1-9h1m-14 14h1m-2 1h1m-7 22h1m-4-30h1m-24-6h1m-29 21h1m-1-3h1m-4-16h1m-3 4h1m-24 17h1m-1-10h1m-4 10h1m-11 12h1m-5-16h1m-1-14h1m-2 21h1m-9 0h1m-5-26h1m-9 21h1m-3-14h1m-10-7h1m-13 0h1m-22 12h1m-56 3h1m-129 7h1m4 29h1m22 0h1m62 15h1m109-28h1m21 23h1m3 15h1m7-2h1m14-17h1m2-17h1m4 33h1m16-32h1m4 2h1m-1 4h1m13 3h1m8 22h1m1-6h1m5-23h1m6 12h1m11 13h1m3-4h1m1 2h1m5-23h1m1 5h1m6 27h1m20-31h1m6 31h1m8-15h1m3 3h1m6-18h1m8 2h1m0 18h1m4-2h1m1 6h1m1-14h1m7 16h1m-1-11h1m3 0h1m-1 6h1m5-8h1m4 17h1m17-22h1m-1 19h1m2-31h1m1 18h1m1 8h1m-1-30h1m2 37h1m1-17h1m7-19h1m2 3h1m10 0h1m0 7h1m1 23h1m4-9h1m0-11h1m1 2h1m0 7h1m6-17h1m5 32h1m2-33h1m3 1h1m7 27h1m8 0h1m5-16h1m3 4h1m1-11h1m4 21h1m7 6h1m3-14h1m2 11h1m3-27h1m2 13h1m9 9h1m1 10h1m0-8h1m17-29h1m1 15h1m1 9h1m8-16h1m12 27h1m0-15h1m3 13h1m5-7h1m0-20h1m-1-7h1m0 25h1m13-15h1m8-6h1m7 3h1m5-1h1m1 12h1m1-4h1m1 19h1m3-15h1m10 7h1m2-22h1m6 29h1m0-24h1m0-9h1m24 9h1m2 0h1m15 14h1m0-12h1m7 5h1m9 0h1m7 23h1m9-3h1m-1-32h1m9 20h1m6-17h1m2 28h1m6-22h1m4-13h1m1 31h1m4-26h1m2 23h1m0-13h1m-1 23h1m2-16h1m5 10h1m3 6h1m15-21h1m0 19h1m1-2h1m5-15h1m0-4h1m1 16h1m7-24h1m8 16h1m2-1h1m-1-21h1m2 20h1m16-11h1m7 4h1m0-1h1m8 17h1m2-14h1m1-3h1m4 26h1m1-13h1m0-9h1m72 13h1m6-9h1m0-9h1m11 12h1m9-11h1m9 13h1m20 4h1m19 4h1m12-28h1m0 0h1m2 10h1m2-4h1m4 23h1m9-16h1m0-4h1m10 3h1m4 16h1m10-21h1m1 15h1m18 3h1m-1-15h1m14 1h1m5 15h1m5-24h1m4-7h1m22 5h1m8 2h1m19 0h1m21 30h1m11-2h1m41-19h1m2 4h1m21 13h1m2-11h1m7-13h1m22 18h1m25-8h1m2-19h1m277 3h1m19 0h1m-302 61h1m-11-23h1m-10 1h1m-2 2h1m-19 24h1m-9-7h1m-2 16h1m-12-36h1m-3 27h1m-19-26h1m-6 2h1m-25 0h1m-6-2h1m-26 36h1m-5-35h1m-7 35h1m-29-22h1m-4 13h1m-2-6h1m-12 15h1m-16-12h1m-16-6h1m-3 15h1m-9-1h1m-11-23h1m-1 12h1m-2-7h1m-8-2h1m-7 7h1m-32 9h1m-24 1h1m-10-24h1m-10 8h1m-6 22h1m-3-14h1m-3-11h1m-8 22h1m-14-32h1m-4 11h1m-8 24h1m-15-31h1m-7-1h1m-12 13h1m-5 19h1m-10-16h1m-2 7h1m-13-12h1m-6 1h1m-17-9h1m-36 29h1m-7-33h1m-23 12h1m-4-9h1m-12 17h1m-16 0h1m-11 6h1m-3-16h1m-14 18h1m-7 4h1m-8-16h1m-4-21h1m-3 2h1m-12 16h1m-2 16h1m-31-17h1m-5 17h1m-3 3h1m-14-29h1m-4 11h1m-7 3h1m-6 16h1m-3-21h1m-10 2h1m-13 17h1m-3-19h1m-1-12h1m-10 31h1m-8-10h1m-1-9h1m-6 1h1m-4 1h1m-3-14h1m-5 31h1m-7-35h1m-12 0h1m-7 0h1m-10 27h1m-3 6h1m-1-17h1m-1 0h1m-1-3h1m-11-12h1m-2 26h1m-2 5h1m-6 2h1m-7-15h1m-3 18h1m-5 1h1m-2-6h1m-14-21h1m-1-2h1m-3 26h1m-2-9h1m-1-23h1m-5 17h1m-3 17h1m-1-4h1m-2-15h1m-6-12h1m-5 21h1m-3-5h1m-10-11h1m-10 27h1m-3-34h1m-4 5h1m-4 3h1m-26 14h1m-4-9h1m-11 18h1m-10-10h1m-9 4h1m-6 3h1m-1-27h1m-5 25h1m-4-11h1m-5-19h1m-1 16h1m-4 4h1m-4-1h1m-5 1h1m-1-2h1m-14-5h1m-1 23h1m-14-15h1m-3-19h1m-9 29h1m-3-20h1m-23 6h1m-11 1h1m-9 5h1m-5-17h1m-2 5h1m-13-5h1m-10 30h1m-9-36h1m-5 5h1m-2 17h1m-3-5h1m-1 19h1m-3-34h1m-2 14h1m-2-3h1m-10 9h1m-5-20h1m-6 19h1m-2 13h1m-5-3h1m-2-24h1m-8-5h1m-4-1h1m-7 28h1m-8 0h1m-2 3h1m-13 1h1m-8-22h1m-1-9h1m-3 18h1m-10-15h1m-5 7h1m-2 5h1m-11-17h1m-1 8h1m-6 6h1m-6 0h1m-5 17h1m-13-26h1m-14 7h1m-4 8h1m-4-16h1m-6 12h1m-3-5h1m-10 24h1m-15-13h1m-6-1h1m-1 10h1m-8-12h1m-4 10h1m-4-30h1m-7 6h1m-89 22h1m-71 28h1m63 20h1m18-30h1m80 23h1m-1-9h1m2-17h1m11 29h1m-1-29h1m6-3h1m48 10h1m22 28h1m9-29h1m2-1h1m5 14h1m20-10h1m5-12h1m8 37h1m2-32h1m8 20h1m0 3h1m8-10h1m9-15h1m7 19h1m9-16h1m14 5h1m6 28h1m4-20h1m0-19h1m-1 16h1m1-13h1m2 19h1m1 4h1m0-18h1m2 20h1m1-15h1m1-3h1m4 18h1m3 10h1m-1-25h1m4 20h1m1 4h1m0-28h1m16 6h1m4 8h1m-1 14h1m-1-8h1m7-24h1m4 28h1m15 5h1m5-10h1m0-17h1m0 24h1m2-17h1m16 19h1m13 0h1m2-16h1m30 11h1m1-8h1m4 15h1m7-30h1m3 0h1m14 20h1m5-12h1m1-15h1m1 22h1m8 0h1m8-12h1m7 20h1m0 3h1m1-30h1m3 4h1m0 11h1m3-17h1m-1 3h1m13 5h1m0 8h1m0-19h1m6 29h1m7-13h1m1 8h1m1 13h1m3-26h1m-1-2h1m0 27h1m1-8h1m15-11h1m9 8h1m4-20h1m4-1h1m3-2h1m12 8h1m3 13h1m9-4h1m17-9h1m10 15h1m9 14h1m19-18h1m-1-13h1m19 31h1m37-37h1m2 9h1m39 20h1m0-5h1m1 10h1m41-10h1m35 12h1m23-16h1m16 3h1m26-2h1m1-17h1m10 9h1m2 5h1m5 13h1m12-1h1m11-28h1m13 11h1m6-13h1m5 9h1m21 26h1m16-9h1m0-17h1m9 14h1m1-25h1m7 25h1m21-10h1m3 12h1m1 3h1m21 2h1m2-2h1m13-13h1m69-11h1m3 0h1m4 27h1m8-27h1m21 8h1m2 9h1m18-23h1m23 29h1m25 3h1m303 28h1m-293-19h1m-16 26h1m-27-7h1m-6-1h1m-9-3h1m-10-2h1m-1-13h1m-17 38h1m-11-5h1m-13-27h1m-9 16h1m-5-14h1m-35 12h1m-13-19h1m-55 31h1m-6-15h1m-2-9h1m-27 4h1m-7-3h1m-12-2h1m-28 16h1m-2 0h1m-7 9h1m-6-4h1m-16-28h1m-7 24h1m-10-1h1m-18-10h1m-3 22h1m-3-24h1m-14-6h1m-22-3h1m-7-3h1m-7 11h1m-53-3h1m-27-3h1m-21 9h1m-13 6h1m-2-8h1m-7 8h1m-10 16h1m-5-29h1m-4 16h1m-26 10h1m-12 5h1m-37-1h1m-6 1h1m-3-1h1m-11-7h1m-2-10h1m-12 3h1m-13-4h1m-11-17h1m-8 2h1m-11 7h1m-3 4h1m-68-14h1m-8 17h1m-5 7h1m-25 12h1m-17-12h1m-4-22h1m-23 3h1m-24 11h1m-3 16h1m-12-6h1m-6 4h1m-2-5h1m-5-17h1m-16-8h1m-13 22h1m-22-12h1m-12 15h1m-5 8h1m-5-26h1m-8 11h1m-2-3h1m-7-8h1m-6 4h1m-19 27h1m-3-16h1m-4-17h1m-10 9h1m-18 12h1m-19 11h1m-11-30h1m-4 22h1m-8-27h1m-18 23h1m-11-20h1m-3 10h1m-1 19h1m-11-25h1m-1-8h1m-2 5h1m-8 16h1m-1-16h1m-4 12h1m-19-9h1m-13-1h1m-4 0h1m-18 25h1m-27-33h1m-7 24h1m-3 0h1m-17-9h1m-2 15h1m-4-17h1m-23 9h1m-28-23h1m-12 1h1m-5 11h1m-71 9h1m-35 9h1m-81-17h1m-20-13h1m85 57h1m78 4h1m65-1h1m22-10h1m7-8h1m16 16h1m5 21h1m21-35h1m23 2h1m8 27h1m1-13h1m5-4h1m7-7h1m48 20h1m12-20h1m0 15h1m16 13h1m-1-16h1m7 15h1m-1-17h1m2 18h1m35-24h1m9 22h1m2 3h1m8-18h1m3 13h1m8-32h1m6 10h1m13 21h1m37-15h1m4 20h1m11-11h1m7-13h1m1-12h1m11 15h1m24 18h1m3-12h1m1-11h1m19 27h1m6-29h1m5 13h1m3 14h1m4-2h1m1 2h1m11-20h1m11-14h1m2 20h1m38 9h1m5 4h1m4-34h1m7 23h1m7-8h1m50 11h1m10-1h1m16-1h1m0 14h1m5-9h1m10 2h1m7-27h1m9 18h1m18 8h1m4-14h1m23 1h1m3-5h1m1 5h1m1 19h1m6 0h1m5-15h1m29 5h1m9-15h1m0-3h1m3 1h1m11 1h1m9 9h1m24 3h1m0-2h1m37-18h1m2 17h1m-1-14h1m2 33h1m26-16h1m10-10h1m10 5h1m3 6h1m3 5h1m3-10h1m3-16h1m22 28h1m10-23h1m1 25h1m6-21h1m42-5h1m16 28h1m2-25h1m24 14h1m-1-7h1m23-3h1m29 5h1m9-17h1m7 16h1m7-13h1m-1 24h1m1-6h1m15 10h1m7 5h1m8-31h1m6 28h1m11-29h1m6 15h1m2-2h1m6-9h1m9 6h1m1 17h1m4-19h1m7 22h1m7-14h1m10-20h1m17 23h1m42 19h1m-33-1h1m-51 23h1m-37 7h1m-14 5h1m-6-6h1m-7-2h1m-2-15h1m-12 0h1m-4 6h1m-5-7h1m-1 2h1m-4-8h1m-44-2h1m-20 13h1m-26 1h1m-15-10h1m-15 18h1m-18-8h1m-34 10h1m-3-7h1m-6-22h1m-10 12h1m-41 3h1m-1 11h1m-1-1h1m-2-7h1m-58-19h1m-11 4h1m-17 12h1m-13 19h1m-27-19h1m-9-13h1m-3 17h1m-52-9h1m-6 20h1m-4-13h1m-12-8h1m-25 18h1m-3-17h1m-5 20h1m-6-29h1m-17 2h1m-24 32h1m-10-27h1m-40 4h1m-5 1h1m-9 16h1m-25-20h1m-6 4h1m-2 8h1m-5 4h1m-2-23h1m-40 34h1m-2-15h1m-29 1h1m-21 1h1m-7-13h1m-4 27h1m-3-38h1m-5 9h1m-33 21h1m-13 3h1m-6-23h1m-6 9h1m-5 5h1m-2-20h1m-19 7h1m-7-4h1m-10 11h1m-10 13h1m-10-22h1m-9 18h1m-2-9h1m-18 4h1m-20 13h1m-1-35h1m-11 5h1m-15 22h1m-11-9h1m-2 14h1m-13-29h1m-12 7h1m-49 10h1m-3 2h1m-14 9h1m-23 2h1m-2-5h1m-26 2h1m-31-9h1m-57-21h1m-97 25h1m-21 4h1m100 32h1m96-11h1m20 2h1m13-12h1m21 13h1m1 3h1m4 1h1m4 11h1m7-24h1m2-2h1m21 16h1m2-15h1m7 32h1m0-18h1m0 5h1m-1 13h1m0-6h1m5-9h1m24 3h1m41 13h1m2-17h1m3-16h1m12 12h1m13 2h1m41 5h1m1 6h1m21-20h1m18-5h1m1 0h1m6 2h1m0 18h1m29-4h1m4 17h1m10-15h1m42-14h1m12-2h1m15 27h1m75 5h1m1-29h1m3 14h1m-1-16h1m19 10h1m23-9h1m59-3h1m3 4h1m2 28h1m4-11h1m11-23h1m20 19h1m13-6h1m8 13h1m27-14h1m14 24h1m15-21h1m-1-1h1m0-1h1m5 1h1m10 7h1m17-5h1m48-13h1m17 21h1m6-21h1m11 0h1m3 24h1m24 9h1m15 1h1m4-27h1m1 8h1m1-13h1m12 30h1m24-35h1m45 10h1m7 7h1m14 20h1m4-17h1m-1-22h1m26 35h1m11-35h1m14 29h1m-1-2h1m44 4h1m4 2h1m8-4h1m8 8h1m24-27h1m123 22h1m29-6h1m35-2h1m33 0h1m-131 18h1m-31 14h1m-31 14h1m-23-6h1m-22-9h1m-17-7h1m-2 1h1m-8-9h1m-2 3h1m-14 17h1m-32 12h1m-28 5h1m-14 0h1m-12-19h1m-5 21h1m-19-7h1m-11-7h1m-20 1h1m-23 7h1m-37 2h1m-43-23h1m-3-10h1m-2 25h1m-30-21h1m-8-1h1m-16 0h1m-14 0h1m-1-3h1m-11 22h1m-7 6h1m-19 4h1m-3-32h1m-14 4h1m-11 28h1m-4-26h1m-2 11h1m-2-6h1m-12 9h1m-14 0h1m-28 12h1m-21-33h1m-8 15h1m-1 13h1m-8 1h1m-33-5h1m-2-23h1m-4 15h1m-1-11h1m-16-2h1m-42 5h1m-12 18h1m-4-23h1m-19 13h1m-17 19h1m-18-15h1m-9-13h1m-21-5h1m-26 24h1m-2 9h1m-2-6h1m-3-25h1m-19 7h1m-20 25h1m-68-13h1m-12 11h1m-5-5h1m-14-18h1m-6-11h1m-4-1h1m-4 11h1m-14-7h1m-6-1h1m-30 13h1m-7-16h1m-5 39h1m-15-11h1m-12-4h1m-49-7h1m-6 7h1m-5-19h1m-10 2h1m-31-3h1m-20 17h1m-4-20h1m-48 38h1m-134-14h1m-16-15h1m106 50h1m49 17h1m17-10h1m82-17h1m31-10h1m24 10h1m10 14h1m6-13h1m19 21h1m-1 5h1m10-27h1m9 19h1m2-28h1m2 21h1m20-1h1m12 6h1m0-11h1m18-15h1m36 31h1m29-30h1m3-1h1m8-1h1m1 24h1m4-19h1m12 6h1m1 19h1m14-27h1m-1 9h1m2 13h1m-1-3h1m5-2h1m4-1h1m36-17h1m8 19h1m0-12h1m11 24h1m8-6h1m23-3h1m8-8h1m17-3h1m8 9h1m-1-22h1m1 31h1m26 4h1m23-4h1m9-2h1m10 3h1m-1-24h1m24 21h1m4 5h1m1-19h1m13 18h1m26-10h1m41-15h1m23 26h1m21-4h1m1 7h1m0-30h1m6 28h1m20 0h1m11-22h1m5 11h1m19-7h1m9 14h1m7-4h1m1-15h1m7-1h1m6-4h1m12 20h1m3-16h1m4 26h1m6-21h1m28 6h1m13-12h1m13 13h1m1-21h1m16 5h1m23 1h1m-1 6h1m16-12h1m31 13h1m1-5h1m2 8h1m17-8h1m33 8h1m180-18h1m-221 41h1m-18 3h1m-33-3h1m-8 17h1m-2 6h1m-4-6h1m-6 17h1m-4 3h1m-21-17h1m-38 4h1m-11-8h1m-14 15h1m-15-1h1m-11-23h1m-5 24h1m-11-14h1m-1 6h1m-9-24h1m-16 38h1m-13-25h1m-16-13h1m-2 27h1m-29-12h1m-2 10h1m-8-3h1m-34 10h1m-6-20h1m-3-1h1m-24 17h1m-18-10h1m-11 11h1m-43-6h1m-6-23h1m-5 23h1m-8-8h1m-2 3h1m-12 1h1m-3-17h1m-4 23h1m-16 3h1m-7-3h1m-2 12h1m-4-9h1m-15-25h1m-19 24h1m-1 5h1m-15-6h1m-45-6h1m-4-12h1m-16-7h1m-79 6h1m-41-1h1m-5-6h1m-72 1h1m-19 29h1m-42-21h1m-45-8h1m-22 8h1m-26 1h1m-190-6h1m85 56h1m522-11h1m20 6h1m25-9h1m23 9h1m8-11h1m11 17h1m44-8h1m47-2h1m-1 3h1m13-11h1m24 33h1m10-3h1m11-1h1m1-14h1m13 18h1m61-1h1m0-29h1m7 22h1m28 8h1m6 3h1m18-10h1m0-10h1m256-3h1m-130 58h1m-158-31h1m-7 12h1m-1 1h1m-2-12h1m-25 26h1m-9 4h1m-4 5h1m-14-28h1m-4 22h1m-33-8h1m-10-15h1m-12 5h1m-5-5h1m-21 2h1m-9-1h1m-1 12h1m-4 11h1m-22-13h1m-12-5h1m-33-4h1m-11 13h1m-8-16h1m-19 13h1m-337 2h1m-6-18h1m-24 21h1m-9-24h1m-5 31h1m-21-8h1m-12 1h1m-38-1h1m-10-4h1m-22 6h1m-16 16h1m10 14h1m1-6h1m20 10h1m5-22h1m-1 5h1m7 12h1m3 7h1m-1-11h1m11 3h1m44 20h1m7-24h1m7 22h1m7 0h1m6-26h1m13 26h1m12-20h1m13-2h1m23 14h1m338-14h1m13-4h1m250-8h1m66 8h1m3 24h1m7-8h1m9 14h1m3-6h1m4-4h1m10 0h1m-597 37h1m-14 5h1m-9 9h1m-28-30h1m-26-8h1m-4 9h1m-6 16h1m-23 7h1m-15-31h1m-12 31h1m-28 4h1m-9-12h1m-22-17h1m-29-7h1m-3 4h1m-5 0h1m-10-1h1m-1 25h1m-6-20h1m-1 1h1m-8-9h1m-8 2h1m-5-1h1m-2 1h1m-5 15h1m-2-10h1m4 46h1m3-11h1m27 28h1m5-30h1m19 14h1m11-5h1m8 21h1m0-13h1m17-11h1m-1 27h1m0-29h1m4 0h1m3-1h1m9 22h1m1-8h1m8-11h1m0 5h1m2 22h1m7-5h1m15 3h1m2-24h1m1 14h1m17-20h1m1 16h1m9-2h1m2-10h1m3 9h1m27 21h1m10 3h1m9-10h1m6-23h1m12 24h1m11-1h1m4-9h1m-70 23h1m-50-1h1"/>
<path stroke="#ff7f0e" d="M1056 6804h1m-201 96h1m1023 56h1m-787 50h1m309 104h1m-343-30h1m-339 0h1m369 90h1m-141 10h1m-313 180h1m243 80h1m1113 76h1m-411-12h1m829 16h1m419 20h1m9 14h1m-1437 60h1m79 98h1m65 34h1m-561 58h1m-105 16h1m343 74h1m679 170h1m-81 12h1m-631 14h1m569 30h1m-661 40h1m269 20h1m499 44h1m-695 22h1m713 34h1"/>
<path stroke="#2ca02c" d="M1070 6816h1m-21 130h1m203 40h1m-65 14h1m-21 70h1m-61 54h1m5 16h1m-117 46h1m-121 18h1m159 10h1m43-4h1m-95 40h1m1115 170h1m-1433 4h1m325 86h1m583 36h1m-885 84h1m713 6h1m795 34h1m-1331 0h1m653 70h1m-11 46h1m-815 70h1m513 28h1m151 136h1m523 50h1m-71-10h1m-131 0h1m-121 4h1m179 36h1m79 10h1m189 74h1m-161 46h1m-191-20h1m-11 0h1m-111 230h1m29 44h1"/>
</g>
<rect x="30.50" y="658.50" width="272.60" height="203.00" fill="none" stroke="#000" stroke-width="0.75"/>
<line x1="42.89" y1="861.50" x2="42.89" y2="864.10" stroke="#000" stroke-width="0.75"/>
<line x1="27.90" y1="852.27" x2="30.50" y2="852.27" stroke="#000" stroke-width="0.75"/>
<text x="42.89" y="872.55" text-anchor="middle" class="t">0.0</text>
<text x="25.50" y="855.68" text-anchor="end" class="t">0.0</text>
<line x1="92.45" y1="861.50" x2="92.45" y2="864.10" stroke="#000" stroke-width="0.75"/>
<line x1="27.90" y1="815.36" x2="30.50" y2="815.36" stroke="#000" stroke-width="0.75"/>
<text x="92.45" y="872.55" text-anchor="middle" class="t">0.2</text>
<text x="25.50" y="818.77" text-anchor="end" class="t">0.2</text>
<line x1="142.02" y1="861.50" x2="142.02" y2="864.10" stroke="#000" stroke-width="0.75"/>
<line x1="27.90" y1="778.45" x2="30.50" y2="778.45" stroke="#000" stroke-width="0.75"/>
<text x="142.02" y="872.55" text-anchor="middle" class="t">0.4</text>
<text x="25.50" y="781.87" text-anchor="end" class="t">0.4</text>
<line x1="191.58" y1="861.50" x2="191.58" y2="864.10" stroke="#000" stroke-width="0.75"/>
<line x1="27.90" y1="741.55" x2="30.50" y2="741.55" stroke="#000" stroke-width="0.75"/>
<text x="191.58" y="872.55" text-anchor="middle" class="t">0.6</text>
<text x="25.50" y="744.96" text-anchor="end" class="t">0.6</text>
<line x1="241.15" y1="861.50" x2="241.15" y2="864.10" stroke="#000" stroke-width="0.75"/>
<line x1="27.90" y1="704.64" x2="30.50" y2="704.64" stroke="#000" stroke-width="0.75"/>
<text x="241.15" y="872.55" text-anchor="middle" class="t">0.8</text>
<text x="25.50" y="708.05" text-anchor="end" class="t">0.8</text>
<line x1="290.71" y1="861.50" x2="290.71" y2="864.10" stroke="#000" stroke-width="0.75"/>
<line x1="27.90" y1="667.73" x2="30.50" y2="667.73" stroke="#000" stroke-width="0.75"/>
<text x="290.71" y="872.55" text-anchor="middle" class="t">1.0</text>
<text x="25.50" y="671.14" text-anchor="end" class="t">1.0</text>
<rect x="216.60" y="662.50" width="82.80" height="36.40" rx="1.5" fill="#fff" stroke="#ccc" stroke-width="0.6"/>
<circle cx="227.40" cy="669.30" r="1.55" fill="#1f77b4"/>
<text x="240.80" y="671.71" class="t">Other classes</text>
<circle cx="227.40" cy="680.50" r="1.55" fill="#ff7f0e"/>
<text x="240.80" y="682.91" class="t">Minority class</text>
<circle cx="227.40" cy="691.70" r="1.55" fill="#2ca02c"/>
<text x="240.80" y="694.11" class="t">Synthetic data</text>
<text x="-0.30" y="918.00" class="c" textLength="327.0" lengthAdjust="spacingAndGlyphs">(e) EmbSMOTE for BlogCatalog</text>
</g>
<g>
<g transform="scale(.1)" stroke-width="31.0" stroke-linecap="round" fill="none">
<path stroke="#1f77b4" d="M5406 6672h1m37 31h1m-10 9h1m-71 7h1m-5-18h1m-17-8h1m-18-3h1m-44 14h1m-18-6h1m-150 49h1m57-13h1m36 15h1m7 6h1m28-7h1m8-26h1m0 7h1m19-8h1m5 13h1m1 24h1m3-34h1m6 21h1m20-19h1m1 12h1m5 16h1m30-34h1m9 15h1m1-9h1m1 33h1m26-32h1m13 9h1m9 11h1m11 11h1m4-7h1m0-3h1m1-4h1m35 22h1m-51 26h1m-10-25h1m-7 9h1m-15-10h1m-8 9h1m-22 7h1m-1-8h1m-7 8h1m-4 13h1m-7-11h1m-24 0h1m-3 2h1m-4-11h1m-13-15h1m-5 0h1m-6 25h1m-27-10h1m-13 16h1m-17-13h1m-5-14h1m-15 34h1m-8-22h1m-3-1h1m-14-8h1m-2 8h1m-7 18h1m-34 0h1m-57-17h1m-1-14h1m-5 10h1m-7 11h1m-4-11h1m-16 21h1m-3-14h1m-15-3h1m-39 17h1m-80 46h1m21-16h1m12 11h1m30-10h1m9-4h1m5-1h1m1-6h1m2 15h1m35-18h1m17-5h1m43 8h1m2 13h1m6-11h1m3 9h1m-1-9h1m3 13h1m0-10h1m14-11h1m24 3h1m13 23h1m18 5h1m14-15h1m2-13h1m14 10h1m11-17h1m1 2h1m7-4h1m1 20h1m10-13h1m3 11h1m12-2h1m0-11h1m2 21h1m-1-8h1m13-19h1m6 18h1m4-12h1m4 18h1m0-20h1m0 20h1m0 9h1m17-4h1m19-23h1m15 12h1m4-10h1m11 28h1m5-6h1m15-19h1m137-1h1m223 20h1m-15 21h1m-2 7h1m-9-4h1m-2-10h1m-304 34h1m-31-7h1m-18-13h1m-3 7h1m-37-18h1m-21 2h1m-5 24h1m-9-18h1m-13 15h1m-28-3h1m-11 10h1m-24-4h1m-2-26h1m-8 2h1m-41 15h1m-15-14h1m-3 26h1m-15-19h1m-6-5h1m-9 11h1m-12-1h1m-2-1h1m-4 8h1m-5-26h1m-2 6h1m-10-6h1m-1 16h1m-6-4h1m-10 18h1m-1-22h1m-11-9h1m-10 23h1m-29-10h1m-8 8h1m-3 16h1m-2-11h1m-23-22h1m-4 21h1m-19-11h1m-18-9h1m-4 16h1m-9 8h1m-14-20h1m-6 6h1m-40-5h1m-10-12h1m-6 21h1m-64-5h1m-341 46h1m10 5h1m6 10h1m13-2h1m1-8h1m7 7h1m27 3h1m269-20h1m26 8h1m22-8h1m24 10h1m1-3h1m21-19h1m31 6h1m8 22h1m12-13h1m1-14h1m6 33h1m2-23h1m3-2h1m16 19h1m7-8h1m0 0h1m-1 11h1m5-6h1m2-7h1m1-9h1m2 0h1m9-6h1m5 2h1m0 10h1m1 17h1m4-12h1m23-9h1m0 5h1m6 12h1m28-25h1m14 9h1m21-12h1m1 32h1m8-14h1m13 13h1m20-10h1m3-11h1m0 3h1m11 3h1m8 6h1m20-5h1m10-9h1m1 15h1m-1-8h1m6 11h1m6-12h1m6-7h1m0 4h1m0 10h1m2-9h1m-1-10h1m3 29h1m-1-18h1m6-6h1m5 12h1m31 10h1m3-14h1m6 5h1m1-20h1m21 1h1m4 8h1m5 10h1m1-5h1m13 19h1m129-33h1m2 3h1m15 21h1m-1-6h1m34-10h1m7 30h1m-10 24h1m-2-8h1m-27 17h1m-8-31h1m-13 7h1m-6 14h1m-126-17h1m-1 30h1m-10-33h1m-15 15h1m-2 12h1m-20-2h1m-8 6h1m-8-16h1m-14-4h1m-5 20h1m-25-15h1m-3 12h1m-21-32h1m-16 15h1m-8 18h1m-9-12h1m-30-10h1m-3 4h1m-14-1h1m-22-7h1m-12 20h1m-1-12h1m-23-15h1m-16 31h1m-2-30h1m-5 7h1m-7 4h1m-4 9h1m-6-18h1m-10 2h1m-8 2h1m-11-3h1m-20 22h1m-4-23h1m-5 18h1m-11 11h1m-5-30h1m-5 16h1m-5 15h1m-4-13h1m-5 0h1m-2-11h1m-3 4h1m-5 0h1m-16 5h1m-1 0h1m-26 0h1m-11 13h1m-30-2h1m-9-24h1m-5 10h1m-23-14h1m-3 14h1m-16-14h1m-11-3h1m-11 35h1m-32-5h1m-5-6h1m-16-11h1m-1 24h1m-46 0h1m-215-19h1m-1 21h1m-33-17h1m-19-11h1m-3 17h1m-5 1h1m-4-7h1m-27-20h1m-6 10h1m-6 17h1m-4-7h1m-36-21h1m-31 62h1m10 7h1m1-9h1m19 0h1m8 10h1m2-16h1m23-12h1m13 18h1m0 2h1m-1 9h1m14-13h1m11-17h1m8 37h1m10-23h1m5-10h1m15 23h1m188 2h1m30-2h1m27 3h1m19 0h1m16 7h1m7-1h1m6-14h1m12-19h1m10 8h1m8 3h1m9 2h1m9 8h1m22-17h1m6 26h1m16-34h1m5 28h1m1-6h1m3 0h1m22 15h1m5-21h1m0 14h1m1-19h1m12-10h1m0 5h1m2 21h1m6 1h1m2-3h1m10-3h1m0-20h1m1 33h1m11-17h1m3-18h1m5 7h1m0-3h1m15 32h1m19-4h1m5-29h1m2 5h1m10 17h1m28-24h1m9 24h1m7-14h1m6 20h1m5-32h1m3 8h1m15 12h1m-1-4h1m1-4h1m0 18h1m0 2h1m3 7h1m23-17h1m5 12h1m5-19h1m16-15h1m0 33h1m18-26h1m2 4h1m31 6h1m4 9h1m37-19h1m0 19h1m21 10h1m2-19h1m5-6h1m16-8h1m12 29h1m2 3h1m21-22h1m585 57h1m-233-1h1m-4 6h1m-10 4h1m-9-19h1m-7-11h1m-59 30h1m-288-15h1m-7 15h1m-23-36h1m-60 34h1m-11-21h1m-25 9h1m-18 13h1m-26-37h1m-4 18h1m-5 3h1m-1-2h1m-24 7h1m-11 1h1m-3-27h1m-30 2h1m-11 26h1m-11-26h1m-14 10h1m-1-2h1m-18 7h1m-15-7h1m-2 5h1m-7-1h1m-2 2h1m-6 2h1m-2 0h1m-4-16h1m-8-2h1m-4 36h1m-19-14h1m-10 8h1m-14 0h1m-5-16h1m-4 11h1m-5-16h1m-6-1h1m-14 23h1m-17 0h1m-13-26h1m-27 31h1m-9-34h1m-5 20h1m-3-9h1m-4 1h1m-2-2h1m-1 9h1m-4-5h1m-4-9h1m-32 3h1m-3-1h1m-17 25h1m-2-5h1m-26 0h1m-43-28h1m-10 34h1m-2-25h1m-29 16h1m-23-16h1m-61 21h1m-15-25h1m-17 10h1m-8 3h1m-21 18h1m-11-4h1m-117 5h1m-5-22h1m-10 12h1m-4-16h1m-3 0h1m-8-11h1m-11 36h1m-2-13h1m-2 9h1m-7-26h1m-11-6h1m-8 37h1m-19-27h1m-2-11h1m-15 8h1m-38 12h1m-1-17h1m-2 3h1m-8-5h1m-1 10h1m-21 1h1m7 41h1m12 10h1m0-2h1m21-16h1m2 18h1m48 12h1m1-4h1m19-26h1m3 27h1m8-27h1m78 14h1m3 18h1m25-13h1m14-21h1m39-2h1m4 6h1m5-2h1m20-3h1m6 15h1m17 13h1m0-26h1m6 14h1m26-3h1m0-14h1m13 18h1m-1-11h1m10 6h1m14-15h1m0 28h1m17-8h1m1-20h1m5 21h1m1-13h1m11 22h1m5-7h1m5-7h1m0 10h1m16 6h1m12-11h1m7 2h1m5-3h1m-1-14h1m24-2h1m6 2h1m0 10h1m8-14h1m1 26h1m11 10h1m8-16h1m3 8h1m11-11h1m-1 12h1m1-17h1m19 11h1m-1 7h1m7-31h1m14 22h1m6-19h1m11 32h1m16-22h1m20 3h1m4 2h1m10 1h1m7-15h1m4 25h1m0-26h1m1 32h1m2-8h1m8-9h1m7 18h1m3-15h1m3 2h1m16 1h1m15-7h1m5 17h1m0-33h1m6 20h1m1-13h1m12 21h1m0-14h1m31-13h1m14 8h1m0 1h1m0 11h1m-1-22h1m5 8h1m25 22h1m4 2h1m1-12h1m7 2h1m7-19h1m17 4h1m18 28h1m26-6h1m9-25h1m37-3h1m4 5h1m231 2h1m0 10h1m3 7h1m4 7h1m0 3h1m5-2h1m2-20h1m4 0h1m28 10h1m2-9h1m7 18h1m11-5h1m1-7h1m1 9h1m10-22h1m52 15h1m9 11h1m5-6h1m4-4h1m111-4h1m-139 20h1m-9 21h1m-15 7h1m-1-17h1m-10 2h1m-1 4h1m-2 17h1m-5-25h1m-7 20h1m-7-1h1m-17-26h1m-44 33h1m-8-29h1m-20 27h1m-4-25h1m-23 9h1m-15-9h1m-206 20h1m-17-14h1m-16 9h1m-29-9h1m-3 19h1m-2-24h1m-7 1h1m-11 0h1m-2 4h1m-4 9h1m-14-17h1m-4 12h1m-4 5h1m-22-4h1m-4 18h1m-15-30h1m-11 31h1m-15-28h1m-24 0h1m-5 24h1m-7-24h1m-9-6h1m-2 16h1m-11 13h1m-1-19h1m-30 11h1m-33-21h1m-10 27h1m-14-31h1m-24 13h1m-10-7h1m-16 7h1m-5 26h1m-2-24h1m-11 5h1m-4-10h1m-24-9h1m-27 15h1m-2-10h1m-1 20h1m-3-17h1m-6 17h1m-7-16h1m-10 3h1m-20 9h1m-18-21h1m-5 23h1m-26-11h1m-2 19h1m-8-32h1m-7 21h1m-9 12h1m-25-23h1m-23 20h1m-3 7h1m-21-26h1m-11-11h1m-11 0h1m-2 35h1m-28-14h1m-28-19h1m-14-2h1m-6 20h1m-17 6h1m-4 9h1m-8-28h1m-15 7h1m-5 6h1m-32 1h1m-24-14h1m-4 27h1m-14-28h1m-48 8h1m-58-12h1m-21 11h1m-3 11h1m-11-13h1m-19-1h1m-16-4h1m-2 1h1m-2 19h1m-19 0h1m-23 2h1m-5-2h1m-10-23h1m-1 14h1m-5-17h1m-5 9h1m-18-9h1m-15 18h1m18 25h1m14 2h1m17-2h1m20 16h1m207 18h1m45-9h1m12-9h1m3-2h1m6 10h1m2-23h1m23 29h1m4 3h1m19 2h1m1-22h1m12 19h1m0-2h1m4-7h1m24-7h1m0 20h1m26-19h1m22 4h1m22 8h1m0-16h1m2 21h1m34-13h1m26-12h1m27 23h1m7-27h1m15 0h1m16 0h1m24 27h1m29-21h1m7-8h1m1 19h1m14-24h1m4 24h1m12-20h1m4 22h1m-1 7h1m9-5h1m1-16h1m-1 3h1m10 20h1m5-12h1m7-7h1m1-8h1m11 9h1m12-13h1m12 21h1m10 11h1m2-16h1m7-11h1m12-3h1m11 23h1m12 1h1m2-25h1m9 16h1m7-1h1m5-13h1m13-8h1m11 35h1m0-25h1m2 3h1m-1 12h1m0 7h1m1-10h1m-1 4h1m11 5h1m-1-28h1m-1 24h1m7-9h1m2-6h1m5 4h1m8-5h1m12-5h1m211 27h1m8-6h1m23-19h1m5 23h1m15 0h1m10-16h1m4-1h1m0-3h1m3 17h1m2-15h1m16-1h1m14-10h1m0 25h1m12-22h1m6 31h1m6-13h1m4-22h1m1 6h1m18-5h1m1 25h1m1-25h1m284 48h1m-25 28h1m-107-8h1m-102-3h1m-51 1h1m-71-20h1m-31-3h1m-14-2h1m-1 24h1m-60-23h1m-3 8h1m-153 7h1m-46-18h1m-37 4h1m-3-1h1m-20 11h1m-17 1h1m-27-8h1m-18 10h1m-5-2h1m-6 1h1m-12 4h1m-13 11h1m-3-30h1m-4 15h1m-13-13h1m-12 28h1m-27-14h1m-14 6h1m-11-11h1m-20 11h1m-11 1h1m-18 11h1m-17-17h1m-13-15h1m-7 11h1m-14 21h1m-4-28h1m-5 17h1m-10-6h1m-2-16h1m-3 23h1m-3-22h1m-11 3h1m-1-1h1m-25 17h1m-4-22h1m-3 17h1m-2 21h1m-5-18h1m-4 5h1m-53-11h1m-20-9h1m-2-1h1m-12 14h1m-14 13h1m-5-6h1m-8 9h1m-6-20h1m-17 22h1m-10-27h1m-4 20h1m-4-7h1m-16 4h1m-6-24h1m-1 24h1m-9-5h1m-6-2h1m-21-19h1m-4 25h1m-3-15h1m-22-4h1m-3 6h1m-3 5h1m-11 9h1m-4 7h1m-2-28h1m-7 15h1m-15 12h1m-15 5h1m-32-1h1m-3-30h1m-18 0h1m-9 23h1m-10-9h1m-13-9h1m-4 8h1m-6-5h1m-4 7h1m-10 15h1m-25-18h1m-2 4h1m-9 15h1m-6-9h1m-6-18h1m-8 22h1m-35-31h1m-11 8h1m-15 25h1m-8-25h1m-3 23h1m-28-14h1m-17 11h1m-49-5h1m-125-3h1m-47 0h1m-23 4h1m-80 44h1m40 0h1m23-2h1m22-5h1m150 13h1m13-24h1m36 17h1m22-22h1m12 14h1m15-11h1m27 24h1m4-32h1m0 32h1m0-12h1m3 7h1m14-1h1m1-10h1m25 2h1m3 7h1m8 8h1m18-15h1m15-7h1m7 9h1m6-1h1m0 0h1m0 4h1m-1 11h1m1-3h1m5-28h1m3 28h1m12-12h1m5 11h1m9-19h1m0-5h1m-1 23h1m11-31h1m11 13h1m0-10h1m3 19h1m2-13h1m3 20h1m3 6h1m22-35h1m2 26h1m5-8h1m4-2h1m2-13h1m31 29h1m1 0h1m6-20h1m5 17h1m0 0h1m7-14h1m-1-13h1m6 7h1m0 23h1m1 2h1m5-32h1m3 32h1m-1 5h1m0-38h1m12 25h1m9-9h1m2 4h1m4-3h1m0 8h1m1-4h1m2 9h1m0-14h1m1-14h1m0-1h1m1-2h1m5 26h1m7-23h1m14 23h1m7-20h1m12 23h1m5 10h1m8-11h1m11-11h1m35-6h1m1 15h1m27-8h1m32-8h1m6 13h1m6-1h1m19-5h1m10 18h1m5 1h1m15-31h1m0 31h1m6-4h1m24-15h1m4 13h1m0 0h1m0-5h1m23-7h1m10-1h1m1 3h1m3 10h1m-1-7h1m0 5h1m15-5h1m10 6h1m4 8h1m7-18h1m14 14h1m1-4h1m-1-24h1m15 25h1m36-13h1m8 13h1m16-16h1m15 16h1m1-9h1m22 15h1m27-13h1m117 13h1m75-26h1m192 3h1m80-10h1m137 26h1m21-17h1m-25 57h1m-4-5h1m-13-4h1m-10 13h1m-2-24h1m-13 4h1m-4 17h1m-24-25h1m-92 6h1m-105 13h1m-28-3h1m-102-10h1m-223 23h1m-6-26h1m-4 30h1m-3-9h1m-12-27h1m-58 26h1m-13 4h1m-10-15h1m-25 18h1m-14-14h1m-16 16h1m-7-8h1m-3-24h1m-15 33h1m-10-15h1m-6-19h1m-44-4h1m-6 23h1m-7-1h1m-1 17h1m-4-14h1m-10-10h1m-11-12h1m-3 33h1m-17-2h1m-30-31h1m-18 36h1m-29-22h1m-2 18h1m-21-35h1m-19 28h1m-2-11h1m-4 1h1m-2-10h1m-3 21h1m-10-24h1m-1 32h1m-13-1h1m-8-15h1m-25-11h1m-19 11h1m-2 0h1m-5-7h1m-2 1h1m-7-8h1m-3 1h1m-6 18h1m-5-14h1m-15 8h1m-1 6h1m-7 8h1m-8-15h1m-4-17h1m-1 7h1m-7 28h1m-6 0h1m-16-13h1m-3-14h1m-8-2h1m-4 0h1m-11 7h1m-5 10h1m-9 14h1m-19-27h1m-11 24h1m-3-2h1m-8-10h1m-5-1h1m-7 12h1m-10-31h1m-3 15h1m-10 7h1m-10-17h1m-2 14h1m-6 6h1m-21-15h1m-1 6h1m-8 8h1m-1 5h1m-8-29h1m-4-4h1m-13 29h1m-13 8h1m-8-6h1m-20-5h1m-10-22h1m-26 16h1m-9 11h1m-12-1h1m-2-3h1m-6-15h1m-8 8h1m-4-15h1m-5-4h1m-3 18h1m-13 3h1m-10 16h1m-4-12h1m-4 9h1m-5-13h1m-1-10h1m-8 19h1m-30 2h1m-6-2h1m-7-15h1m-3 1h1m-17-5h1m-6 24h1m-5-31h1m-11 29h1m-12-17h1m-3 13h1m-1-9h1m-4-10h1m-8 3h1m-1 22h1m-4-1h1m-8-28h1m-3 11h1m-2 2h1m-6-15h1m-13 34h1m-18-13h1m-8-24h1m-10 28h1m-6-21h1m-9 11h1m-8-12h1m-32 26h1m-20-11h1m-25-5h1m-33 18h1m-85 43h1m61-22h1m20 9h1m10-4h1m17-1h1m19-9h1m35 13h1m1 0h1m14-1h1m8-4h1m17 19h1m13-12h1m8 10h1m9-26h1m24-9h1m4 4h1m21-2h1m3 27h1m-1-8h1m22-21h1m2 6h1m-1 7h1m4-12h1m0 0h1m7 0h1m16 2h1m6-4h1m6 37h1m2-28h1m0 19h1m1-19h1m-1-7h1m0 8h1m2-7h1m6-4h1m1 0h1m-1 1h1m7 34h1m4-27h1m9 28h1m4-26h1m21 25h1m18-33h1m1 29h1m4-15h1m8 0h1m3 8h1m2-21h1m3 36h1m1-6h1m18-16h1m1 3h1m2 9h1m15 7h1m1-28h1m2 20h1m10-22h1m15 21h1m5-1h1m8-2h1m11-12h1m8-9h1m0 17h1m-1-2h1m15-4h1m-1-14h1m2 21h1m30 3h1m2 3h1m10-18h1m3-6h1m4 9h1m4-6h1m9-5h1m-1 37h1m1-32h1m7-1h1m5 24h1m1-15h1m7 19h1m4-17h1m0-1h1m7 11h1m5-9h1m1 2h1m15 5h1m3-17h1m6 20h1m3 0h1m21 6h1m17-14h1m5-11h1m7 20h1m2-13h1m2-6h1m3 6h1m23 17h1m10-17h1m23 13h1m1-21h1m-1-4h1m0 36h1m5-13h1m4-22h1m0 19h1m2 2h1m21-20h1m13 18h1m-1-9h1m7 8h1m2-12h1m1-8h1m-1 8h1m6 16h1m3 13h1m6-38h1m3 23h1m0-23h1m11 19h1m-1 11h1m5 6h1m62-4h1m10-28h1m6-2h1m2 20h1m3-1h1m17-18h1m17 18h1m13-19h1m-1 15h1m4-15h1m13 22h1m1-14h1m0 27h1m53-13h1m0-11h1m7-9h1m85 15h1m14-16h1m59 6h1m156 16h1m22-12h1m37 11h1m54-13h1m24 18h1m126-30h1m13 5h1m30-3h1m15 3h1m344 15h1m5 8h1m5-3h1m1 3h1m10-15h1m3 3h1m4 17h1m5-13h1m18 4h1m5 2h1m2-14h1m2-4h1m32 12h1m2-5h1m4 14h1m7-11h1m5 11h1m12 14h1m-2-2h1m-14 21h1m-21-9h1m-9 20h1m-1-20h1m-4-5h1m-7 5h1m-17 16h1m-26-12h1m-8 15h1m-5-6h1m-14-8h1m-332 17h1m-20-29h1m-95 4h1m-164 2h1m-26 9h1m-50 17h1m-110-9h1m-27-17h1m-60-10h1m-86 13h1m-93-13h1m-19 27h1m-11 0h1m-24 9h1m-11-30h1m-1 28h1m-2-27h1m-5-6h1m-16 6h1m-7 20h1m-2 3h1m-11-28h1m-15 3h1m-12 22h1m-16-21h1m-10-4h1m-3 30h1m-1-33h1m-17 31h1m-9-20h1m-8 9h1m-17 16h1m-14-26h1m-9-4h1m-6 31h1m-3-36h1m-1 32h1m-22-12h1m-25-10h1m-1-9h1m-11 3h1m-2 32h1m-22-16h1m-6-17h1m-3 33h1m-9-36h1m-9 15h1m-8 18h1m-6-23h1m-3 12h1m-8-19h1m-5 30h1m-11-28h1m-2-2h1m-4 16h1m-5 8h1m-2-12h1m-2-10h1m-2-6h1m-19 32h1m-8-5h1m-18 2h1m-8-10h1m-3-5h1m-2 9h1m-1 12h1m-19-18h1m-10 20h1m-6-7h1m-15-21h1m-10 16h1m-2-24h1m-26 3h1m-37 32h1m-18-26h1m-3-7h1m-12 28h1m-8-1h1m-2-10h1m-10-7h1m-1 5h1m-4-3h1m-9-8h1m-2 17h1m-1-7h1m-10-9h1m-10 6h1m-8 11h1m-3-23h1m-1 10h1m-2-8h1m-4 15h1m-4-1h1m-9 19h1m-6-30h1m-4 25h1m-1-12h1m-7 18h1m-3-16h1m-3 11h1m-20-29h1m-2 0h1m-14-4h1m-6 0h1m-13 4h1m-11 0h1m-7 19h1m-16-12h1m-6-5h1m-8 30h1m-1-25h1m-12-7h1m-6 5h1m-15-10h1m-2 20h1m-9-19h1m-2 4h1m-4 31h1m-3-30h1m-7 30h1m-17-8h1m-1-26h1m-1 23h1m-3-4h1m-12 2h1m-5-3h1m-32-18h1m-2 8h1m-4 14h1m-5-15h1m-3 12h1m-2-14h1m-4 24h1m-10-18h1m-6-5h1m-14 6h1m-14 7h1m-11-15h1m-9 2h1m-7 6h1m-2 14h1m-10-10h1m-2-8h1m-28 25h1m-29-7h1m-27 6h1m-29-4h1m-10 2h1m-6-17h1m-3 19h1m-3 0h1m-17-4h1m-33 3h1m-3 0h1m-3-3h1m-10-28h1m-6 5h1m-48 29h1m-46-9h1m-41 49h1m35 0h1m81-12h1m15 10h1m30-15h1m23-17h1m1 18h1m9 8h1m1-20h1m6-4h1m2 27h1m3-6h1m5 8h1m22 6h1m1-24h1m4-13h1m0 13h1m3 14h1m3-28h1m7 28h1m1 9h1m2-10h1m-1 2h1m0-22h1m7 3h1m12 4h1m10 5h1m1-17h1m0 31h1m-1-16h1m3-5h1m1-4h1m11 7h1m3 18h1m1-11h1m1 3h1m6 12h1m0-2h1m-1-35h1m4 30h1m2 6h1m2-27h1m0 26h1m1-20h1m-1 18h1m7-29h1m3 3h1m10 7h1m11-8h1m3 27h1m23-15h1m4-6h1m-1 20h1m-1-7h1m4 4h1m-1 0h1m2 3h1m35-16h1m0 11h1m2 1h1m0-14h1m7 24h1m11-33h1m13 27h1m5-23h1m28-10h1m1 0h1m4 9h1m1-5h1m1 1h1m-1 30h1m0 4h1m5-21h1m6-11h1m5 0h1m0 10h1m6-9h1m4 31h1m11-38h1m1 25h1m-1 4h1m4-23h1m43 1h1m0 26h1m4-34h1m18 30h1m8-6h1m-1 3h1m0 0h1m5 6h1m-1-24h1m7 1h1m14 15h1m-1-13h1m0 24h1m1-27h1m0 22h1m3 6h1m12-10h1m23-11h1m4-5h1m4 22h1m3-24h1m2 16h1m2-18h1m1-3h1m8 4h1m1 3h1m-1-8h1m0-1h1m14 34h1m7-3h1m14-8h1m0 13h1m10-31h1m4-5h1m19 23h1m-1-2h1m-1-8h1m9 10h1m-1 8h1m10-14h1m11-17h1m1 21h1m4 7h1m8-9h1m23 16h1m0 2h1m16-4h1m12-5h1m6-16h1m10 2h1m30 4h1m53 13h1m20-30h1m17 26h1m26-22h1m3 21h1m7-2h1m2-10h1m4 14h1m7-16h1m14-10h1m-1 16h1m8 0h1m4 9h1m24-10h1m82-4h1m166 23h1m74-15h1m14 1h1m1 7h1m11-15h1m13 13h1m20-19h1m21 22h1m111-1h1m37 2h1m30-4h1m29-17h1m3-6h1m4-3h1m8 11h1m5-13h1m8 13h1m38-12h1m86 22h1m34 15h1m349-27h1m2-11h1m12 12h1m-479 40h1m-37-2h1m-73 21h1m-167-23h1m-73-3h1m-23 5h1m-157 26h1m-7-26h1m-88 21h1m-91-21h1m-11-7h1m-9 19h1m-47-9h1m-14-3h1m-21 24h1m-16-4h1m-24-27h1m-3 2h1m-4 2h1m-15 31h1m-9-20h1m-18-9h1m-46 0h1m-2 1h1m-17-10h1m-10 33h1m-3 2h1m-15-12h1m-1-1h1m-6-5h1m-9 7h1m-4-2h1m-5-19h1m-10 30h1m-2-9h1m-2 14h1m-51-17h1m-2 16h1m-11-8h1m-8-7h1m-15 15h1m-22-33h1m-3 12h1m-13 8h1m-10-9h1m-1 5h1m-8 10h1m-15-14h1m-11 7h1m-6-2h1m-7-10h1m-9-6h1m-3 13h1m-3-19h1m-20 0h1m-5 5h1m-18 15h1m-9-1h1m-15 8h1m-1 5h1m-6-2h1m-7 1h1m-6-9h1m-2-4h1m-4-7h1m-3 2h1m-4-2h1m-8 23h1m-29-17h1m-6 0h1m-2-13h1m-3 0h1m-2 17h1m-11 8h1m-2 9h1m-3-34h1m-4 1h1m-20 34h1m-3-7h1m-1 5h1m-2-24h1m-2 14h1m-11-26h1m-17 33h1m-1 3h1m-8 2h1m-2-24h1m-8 9h1m-2-2h1m-1-14h1m-5 24h1m-5-20h1m-2 5h1m-5-1h1m-3 14h1m-5-29h1m-7 9h1m-11 20h1m-10-28h1m-3-1h1m-5 23h1m-1-5h1m-7 2h1m-3 9h1m-5-9h1m-4-18h1m-7 16h1m-19 7h1m-5-9h1m-8-16h1m-2 1h1m-15 8h1m-8 1h1m-1 2h1m-11 7h1m-7-4h1m-4 22h1m-9-1h1m-9-9h1m-3 5h1m-1 6h1m-8-37h1m-2 21h1m-10 7h1m-6-2h1m-7-28h1m-3 29h1m-2-8h1m-4-18h1m-4 2h1m-7 5h1m-13 17h1m-2-5h1m-9 10h1m-6-5h1m-12-22h1m-3 28h1m-17-15h1m-1-10h1m-12 31h1m-7-16h1m-1-3h1m-2 19h1m-2-29h1m-10-1h1m-6 2h1m-2-4h1m-2 10h1m-16 22h1m-6-4h1m-9-28h1m-5-2h1m-5 9h1m-8-6h1m-2-7h1m-16 0h1m-26 18h1m-18 0h1m-33 11h1m-15 5h1m-33-25h1m1 59h1m77-4h1m18 4h1m14-27h1m10 3h1m6 33h1m3-26h1m2 13h1m0-24h1m15 32h1m5-10h1m5-4h1m2 14h1m2-24h1m4 10h1m5 6h1m2-21h1m11 12h1m-1 9h1m5-16h1m3 19h1m5 0h1m0 5h1m1-14h1m3 0h1m-1 6h1m3-21h1m9 20h1m1 3h1m5-23h1m2 26h1m3-30h1m20 2h1m0 32h1m1-29h1m0 2h1m2-2h1m24 1h1m2 8h1m2 6h1m2-11h1m4-9h1m14 11h1m1 0h1m6 26h1m5-16h1m9 4h1m-1 7h1m1 7h1m1-35h1m13 32h1m8-26h1m13 0h1m1 27h1m10-36h1m0 30h1m5 7h1m2-28h1m-1 11h1m0-13h1m3 2h1m6 26h1m8 1h1m-1-10h1m-1-26h1m0 36h1m9-21h1m22 23h1m13-27h1m13 9h1m1-13h1m17 14h1m0 16h1m-1-13h1m8-21h1m9 15h1m5 15h1m4-5h1m1 2h1m3-18h1m11 5h1m0-14h1m0 4h1m3 25h1m0-7h1m36 4h1m8-26h1m-1 17h1m5 6h1m0-24h1m0 31h1m1-1h1m14-21h1m3 12h1m-1-14h1m1 24h1m9 2h1m1-16h1m8-8h1m11 9h1m1-12h1m12 16h1m10-19h1m7 3h1m4 0h1m8 24h1m0-27h1m9 5h1m2-4h1m22 10h1m2 0h1m1 5h1m13 0h1m5-3h1m11-6h1m10 16h1m5-26h1m0 17h1m7-1h1m39 4h1m7 6h1m2 0h1m1-12h1m3 1h1m2-18h1m23 38h1m8-8h1m9-16h1m14 16h1m81-28h1m3-1h1m-1 15h1m18-12h1m34-2h1m234 3h1m2 7h1m0 7h1m19-10h1m3-6h1m95 30h1m2-9h1m164 1h1m23-14h1m78 9h1m2-10h1m56-3h1m17 22h1m58-10h1m75-6h1m47-1h1m68-8h1m-62 56h1m-67-10h1m-20 9h1m-8-10h1m-1 22h1m-8 0h1m-10-26h1m-4 13h1m-4 17h1m-2-1h1m-18-3h1m-5-3h1m-14 6h1m-5-30h1m-97 26h1m-21-5h1m-181 11h1m-44-29h1m-33 21h1m-3-19h1m-14 1h1m-128-5h1m-57 26h1m-110-16h1m-48-10h1m-54 0h1m-169 23h1m-3 10h1m-4-30h1m-10-6h1m-21 10h1m-8 2h1m-5-7h1m-13 21h1m-1-14h1m-2-5h1m-29-4h1m-6 5h1m-2 19h1m-3-4h1m-23 3h1m-5-8h1m-4-2h1m-19-11h1m-7 3h1m-2 14h1m-5-18h1m-5 5h1m-17 1h1m-3 15h1m-4 0h1m-6-20h1m-3 31h1m-7-10h1m-1-19h1m-4 19h1m-10-3h1m-6 1h1m-4 10h1m-14 1h1m-2-8h1m-3-1h1m-10-16h1m-3-6h1m-7-3h1m-15-1h1m-14 3h1m-3 10h1m-9-11h1m-5 4h1m-2-3h1m-8 25h1m-2-30h1m-12 12h1m-3 5h1m-13-6h1m-17 21h1m-1-1h1m-9 8h1m-11-3h1m-16-6h1m-10 2h1m-6-10h1m-3-10h1m-2 16h1m-23-24h1m-1 0h1m-15 35h1m-1-36h1m-2 7h1m-3 7h1m-3-5h1m-8 5h1m-7-5h1m-17 23h1m-5-18h1m-3-1h1m-7-7h1m-6 9h1m-8 2h1m-2-6h1m-7 11h1m-13-22h1m-1 22h1m-22-13h1m-12 17h1m-3-26h1m-1 10h1m-7 13h1m-2-22h1m-8 16h1m-5-8h1m-11 6h1m-6-10h1m-16 27h1m-30-2h1m-1-29h1m-4 2h1m-4 12h1m-1 15h1m-23-32h1m-5 7h1m-4 27h1m-13-31h1m-6 33h1m-6-8h1m-8 6h1m-1-16h1m-5 20h1m-5-38h1m-2 17h1m-3 0h1m-4-11h1m-11 7h1m-6 22h1m-3-33h1m-9 2h1m-8 27h1m-22-32h1m-8 36h1m-8-30h1m-2 6h1m-14 26h1m-2-24h1m-21 6h1m-68 8h1m-72 21h1m47 4h1m39 12h1m26 0h1m22 7h1m40-29h1m-1 1h1m13 4h1m14 19h1m2-27h1m21 1h1m-1 3h1m1 3h1m2 8h1m4 11h1m20-10h1m10 6h1m14-21h1m5 25h1m6-18h1m6 10h1m1-13h1m10 15h1m-1 10h1m5-25h1m4 1h1m11 27h1m2-10h1m0-9h1m2 5h1m23 15h1m0-4h1m3 9h1m6-16h1m-1-5h1m1 7h1m2 13h1m1-18h1m7-14h1m1 14h1m29-14h1m5 33h1m4-26h1m5 5h1m10 3h1m2 10h1m7-8h1m2 2h1m4 3h1m2-23h1m6 11h1m11 4h1m4-19h1m2 30h1m13-28h1m1 15h1m7 0h1m11 2h1m11-7h1m10 21h1m19-31h1m18 12h1m18-13h1m2 7h1m5 5h1m21-9h1m4 2h1m16 6h1m2 13h1m1-18h1m16 19h1m2-12h1m3 5h1m2-7h1m4-11h1m-1 11h1m-1 14h1m-1-2h1m1 1h1m3-15h1m3-10h1m3 13h1m1-8h1m18 32h1m19-7h1m1 8h1m24-10h1m10-3h1m-1-14h1m7 5h1m4-16h1m4 26h1m9-24h1m5 0h1m8 25h1m1-17h1m1-1h1m0 20h1m7 3h1m25-28h1m2 7h1m2 10h1m153-21h1m23 30h1m85-8h1m107-15h1m55 27h1m94-4h1m153-1h1m49 1h1m77-11h1m48 15h1m31-2h1m29 4h1m26 1h1m27-31h1m-1 16h1m0 4h1m4-21h1m25-6h1m0 39h1m13-20h1m3 7h1m4-3h1m-1 15h1m68-24h1m29 18h1m250 2h1m53 4h1m14 12h1m-12 9h1m-8 2h1m-18-11h1m-9-1h1m-2 24h1m-4 5h1m-8-12h1m-11 7h1m-1-11h1m-10 17h1m-16-12h1m-28-11h1m-2 5h1m-17 15h1m-270-24h1m-22 15h1m-3 7h1m-11-13h1m-9 8h1m-16-22h1m-9 11h1m-18 3h1m-15-19h1m-14 17h1m-13 5h1m-104-19h1m-8-5h1m-8 27h1m-14-7h1m-25 19h1m-65-1h1m-103-33h1m-37 12h1m-29 20h1m-25-34h1m-3 10h1m-6-6h1m-5-2h1m-5-5h1m-14 15h1m-5 20h1m-13-19h1m-167 3h1m-34 11h1m-19-18h1m-48-9h1m-151 35h1m-25-1h1m-91-13h1m-30 1h1m-10-24h1m-4 16h1m-20-1h1m-5 2h1m-3-4h1m-9 3h1m-6 13h1m-18 8h1m-5-12h1m-31 9h1m-12 4h1m-6-2h1m-2-21h1m-5-12h1m-4 28h1m-7-13h1m-13 9h1m-5-23h1m-3 4h1m-7 26h1m-15-23h1m-2 8h1m-47-19h1m-2 19h1m-7-16h1m-3 18h1m-30 2h1m-8-14h1m-32 9h1m-11-15h1m-3 7h1m-14 26h1m-8-12h1m-2 1h1m-3 7h1m-3-12h1m-27-2h1m-5-19h1m-4 25h1m-10-22h1m-8 0h1m-3 2h1m-13 0h1m-3 26h1m-13-20h1m-13-11h1m-3 14h1m-3 3h1m-9 0h1m-5 18h1m-3-11h1m-2 0h1m-14 14h1m-2-24h1m-2-13h1m-26 19h1m-4-13h1m-1 23h1m-8-19h1m-1 0h1m-7-6h1m-1 2h1m-7 30h1m-3-7h1m-8 5h1m-3-35h1m-3 3h1m-6 17h1m-6 0h1m-8 2h1m-3 4h1m-4 6h1m-25 5h1m-1 0h1m-7 1h1m-25-19h1m-11-6h1m-4-10h1m-8 8h1m-159-1h1m-19 12h1m-58 8h1m159 35h1m38-17h1m19 13h1m21-6h1m25-14h1m3 1h1m11 25h1m28 3h1m10-30h1m0 31h1m0-26h1m8 16h1m6-19h1m2 16h1m5-12h1m7 0h1m12 2h1m10 19h1m6 10h1m0-24h1m14 12h1m3-1h1m1-21h1m3-2h1m5 30h1m4 7h1m2-16h1m13 4h1m9 11h1m2-2h1m2-24h1m3 4h1m0 20h1m0-29h1m5 20h1m10-21h1m10 0h1m3 26h1m3 2h1m7-6h1m4-22h1m2 26h1m1-5h1m7-12h1m5 18h1m1-17h1m14-13h1m77 10h1m13-1h1m5-5h1m26 7h1m47 13h1m29-25h1m17 24h1m15-24h1m2 14h1m10-15h1m3 15h1m11-6h1m1 16h1m13 2h1m13-18h1m4 6h1m3-2h1m4-5h1m6-8h1m8 18h1m43 16h1m108-34h1m102 29h1m11-28h1m46 11h1m33 8h1m95-12h1m50-5h1m28 19h1m8-21h1m6 8h1m54 27h1m57-27h1m25-4h1m67 33h1m40-14h1m7 10h1m1 0h1m0-9h1m2-13h1m0 4h1m1 0h1m9 21h1m45-24h1m61 16h1m34-12h1m22-12h1m0 2h1m79 5h1m35 10h1m78 14h1m166 1h1m3-4h1m5-32h1m11 5h1m2 14h1m6 1h1m3 2h1m-1 1h1m1 8h1m13-9h1m6 15h1m5-15h1m16 16h1m15-28h1m10 15h1m18-19h1m7 18h1m6-12h1m-24 28h1m-12 24h1m-11-1h1m-3-19h1m-15-3h1m-11 15h1m-12 17h1m-2-17h1m-2 6h1m-7-3h1m-45-19h1m-7 2h1m-235-3h1m-78 19h1m-23 20h1m-14-7h1m-3 5h1m-5-28h1m-200-4h1m-34 7h1m-41-9h1m-67 20h1m-59-1h1m-80-3h1m-111 11h1m-10-26h1m-75 3h1m-18 29h1m-33 2h1m-109-6h1m-74-31h1m-138 0h1m-29 35h1m-2-14h1m-13-4h1m-13-7h1m-21 9h1m-5 10h1m-201-19h1m-22 12h1m-14-7h1m-26 2h1m-8-2h1m-2 4h1m-9 16h1m-17-9h1m-11-25h1m-7 33h1m-9-17h1m-4 17h1m-3-10h1m-5 11h1m-9-3h1m-23-15h1m-8-7h1m-1-5h1m-4-2h1m-7 35h1m-1-27h1m-4-5h1m-2 16h1m-8-20h1m-1 2h1m-5 14h1m-15-10h1m-2 18h1m-37-16h1m-4-5h1m-10-4h1m-8 14h1m-3-8h1m-39 6h1m-66 17h1m-65-29h1m40 51h1m4 26h1m17-16h1m29-14h1m23-2h1m128 18h1m11 0h1m1 5h1m10-20h1m-1-2h1m1 6h1m3-13h1m-1 2h1m2 12h1m0-10h1m3-3h1m4 5h1m9-5h1m7 13h1m0-2h1m1-8h1m6 25h1m0-6h1m1-13h1m0 2h1m2-5h1m14 15h1m11-23h1m10 25h1m-1-22h1m9 5h1m17 9h1m7 0h1m217 2h1m62 12h1m210-12h1m114 10h1m79-29h1m138 5h1m46 13h1m80 16h1m55-24h1m69 24h1m197 1h1m21-19h1m28-11h1m18 5h1m32 24h1m342-17h1m-166 61h1m-124-12h1m-166 7h1m-12-25h1m-127 13h1m-22-15h1m-44 17h1m-71-18h1m-55 19h1m-34-20h1m-51 18h1m-39 7h1m-57-11h1m-86-13h1m-61 11h1m-35 3h1m-61-6h1m-18-13h1m-21 34h1m-36-24h1m-45 13h1m-68-14h1m-126 28h1m-210-22h1m-23 7h1m-11-21h1m-15 6h1m-14 16h1m-1 5h1m-7-14h1m-10-12h1m-33 15h1m-15-6h1m-89 4h1m-29 19h1m-29-7h1m-44-24h1m-95 67h1m12-12h1m16-15h1m27 27h1m36 4h1m125-10h1m27-20h1m57 3h1m53 28h1m132-1h1m135-13h1m28 4h1m124-22h1m25 13h1m176 14h1m68-19h1m26-9h1m18 26h1m39 2h1m13-6h1m27 9h1m5-12h1m6 9h1m5 0h1m2-16h1m7-5h1m1 11h1m16 1h1m7-13h1m2 19h1m4-11h1m0-11h1m9 7h1m7 24h1m1-16h1m16 7h1m100-24h1m97 13h1m124 10h1m36-9h1m132 10h1m139-12h1m7-8h1m24 21h1m5-24h1m5 20h1m1-3h1m-22 24h1m-116 18h1m-32-13h1m-78 7h1m-5 11h1m-7 1h1m-6 1h1m-17-9h1m-14-16h1m-54 0h1m-362 5h1m-1-7h1m-6-3h1m-3 5h1m-5 11h1m-6-5h1m-3-8h1m-10 6h1m-1 7h1m-2-14h1m-5 29h1m-6 0h1m-2-23h1m-4 13h1m-6-15h1m-14 32h1m-2-12h1m-3-12h1m-17-5h1m-7 25h1m-24-5h1m-1-20h1m-3-3h1m-22 29h1m-5-26h1m-7 11h1m-10-14h1m-32 30h1m-23 1h1m-160-24h1m-107 19h1m-23-5h1m-176 5h1m-44-9h1m-68 13h1m-11-18h1m-34-18h1m-124 2h1m-46 20h1m-145 1h1m-23-8h1m-28 8h1m142 23h1m57 2h1m35 29h1m142-36h1m9 27h1m4-20h1m9-8h1m16 36h1m3-6h1m4 8h1m0-1h1m27-28h1m102 8h1m148 22h1m52-13h1m34-23h1m16 33h1m52-9h1m29-1h1m100 7h1m3-28h1m11 25h1m7-6h1m6-5h1m11 2h1m11 6h1m14-20h1m1 25h1m1 7h1m14-32h1m4-5h1m5 28h1m9-3h1m7-8h1m4 13h1m2-18h1m-1 8h1m42 15h1m4-6h1m-1 3h1m5-23h1m-1-11h1m-1 4h1m22 16h1m5 6h1m3-10h1m47-3h1m50 16h1m42 1h1m31-28h1m35 24h1m135-11h1m151-13h1m16 14h1m32 7h1m-216 51h1m-46 5h1m-77-24h1m-70 20h1m-57-15h1m-54-9h1m-21 22h1m-2-28h1m-31 29h1m-3-5h1m-23-9h1m-7 15h1m-9-12h1m-7-15h1m-2 21h1m-3 8h1m-2-13h1m-2-21h1m-4 20h1m-9-9h1m-9 25h1m-7-17h1m-9 15h1m-10-17h1m-6 7h1m-28-9h1m-1 5h1m-3-14h1m-6 5h1m-11 18h1m-27-6h1m-11-16h1m-4 27h1m-6-5h1m-2-14h1m-16-12h1m-4 3h1m-18 15h1m-20-24h1m-6 25h1m-15-9h1m-23 20h1m-14 1h1m-23-18h1m-7 16h1m-6-10h1m-2 14h1m-3-8h1m-27-27h1m-12 25h1m-6 6h1m-22-23h1m-13 9h1m-78 16h1m-89-4h1m-30-30h1m-37 11h1m-113 5h1m-4 3h1m-3 15h1m-14-28h1m-3 30h1m-4 0h1m-13-20h1m-19-19h1m-92 37h1m-55-20h1m-25 29h1m61 24h1m116-30h1m132 9h1m66 15h1m41-18h1m24 1h1m86 14h1m30-4h1m3 21h1m1-12h1m4 11h1m12-15h1m12-17h1m24 31h1m12-12h1m18 12h1m11-1h1m1-30h1m20 32h1m27-26h1m0 13h1m11-5h1m0-15h1m-1 0h1m-1 13h1m6 16h1m10-26h1m24 32h1m-1-15h1m20-3h1m9-15h1m0 8h1m0 21h1m1-9h1m1-11h1m16 7h1m5-6h1m1 20h1m1-9h1m7 12h1m2-25h1m6-5h1m-1 13h1m3 17h1m1-18h1m21-10h1m0 6h1m1 11h1m15-12h1m0-15h1m7 26h1m5-3h1m1 11h1m18-29h1m22 32h1m0-18h1m0 6h1m-1-22h1m5 11h1m44-8h1m3 12h1m11-5h1m13-3h1m18 4h1m385 16h1m49 5h1m11-15h1m306 15h1m-21 4h1m-287 0h1m-5 6h1m-6-1h1m-1 11h1m-7 1h1m-10-16h1m-2 8h1m-6-4h1m-186 30h1m-43-14h1m-26-9h1m-21-3h1m-10 17h1m-6-16h1m-66 6h1m-14 14h1m-24-19h1m-3-6h1m-19 15h1m-3-5h1m-9 0h1m-2 0h1m-29 10h1m-6 13h1m-11-17h1m-3-10h1m-11-8h1m-8 9h1m-12 0h1m-7-9h1m-7 9h1m-2 17h1m-4-28h1m-2 34h1m-3-1h1m-18-27h1m-13 16h1m-30-11h1m-2 3h1m-2 5h1m-12 9h1m-13-12h1m-13-1h1m-4 22h1m-7-3h1m-4-17h1m-5 12h1m-21 1h1m-11-11h1m-1-15h1m-2-4h1m-5 26h1m-2 2h1m-11-21h1m-9 20h1m-5 2h1m-6-22h1m-4 10h1m-6-1h1m-14-8h1m-1 23h1m-10-19h1m-4-1h1m-1 2h1m-8-14h1m-2 31h1m-6 2h1m-1-26h1m-4 28h1m-21-13h1m-18-5h1m-22-5h1m-12 26h1m-4-24h1m-15 13h1m-3-5h1m-15-5h1m-3-16h1m-9 34h1m-2-16h1m-34-6h1m-1-11h1m-23 34h1m-4-16h1m-7 4h1m-2-23h1m-2 25h1m-6-2h1m-39 0h1m-6-23h1m-1 24h1m-3 8h1m-8-1h1m-7 2h1m-16-26h1m-31 18h1m-52-2h1m-27-6h1m-51 9h1m-46 3h1m-86-2h1m-31-27h1m-38 16h1m-46-12h1m-183 15h1m-23 48h1m2 4h1m11-1h1m2-6h1m1 1h1m127 8h1m156-7h1m27 8h1m44-15h1m16 17h1m1-7h1m13-13h1m4-6h1m15 24h1m1-28h1m38 2h1m12 28h1m0-5h1m22 7h1m8-11h1m25-11h1m6-3h1m6 6h1m8 4h1m0 14h1m21-26h1m13 26h1m3-6h1m5-32h1m2 13h1m8 7h1m5-1h1m6 11h1m2-28h1m5 7h1m-1 23h1m18-22h1m-1 17h1m9-17h1m4 25h1m0-18h1m24-11h1m14 23h1m2-10h1m11 18h1m15-2h1m1-16h1m0-12h1m23 9h1m-1 22h1m13-7h1m0-15h1m14 4h1m0-1h1m12 17h1m7-20h1m8-12h1m4 24h1m0 11h1m3-10h1m8-5h1m18 5h1m-1 10h1m18-20h1m7 12h1m31-10h1m5-15h1m0 6h1m-1 13h1m6-22h1m1 6h1m7 3h1m18 12h1m2 13h1m0-27h1m10-8h1m10 15h1m4 2h1m0 9h1m0 9h1m13-28h1m1 0h1m38 19h1m0-19h1m5 25h1m6-18h1m6-8h1m7 10h1m3 11h1m4 0h1m35-2h1m1-6h1m11-16h1m1 26h1m-1-25h1m10 24h1m17-12h1m0-8h1m5 11h1m6 5h1m16 13h1m6-3h1m7-9h1m8-15h1m-1 20h1m4-29h1m6 10h1m45 14h1m4-24h1m-1 18h1m15-1h1m8 12h1m0-14h1m42 2h1m16 19h1m27-33h1m9 10h1m80 21h1m18-1h1m416-16h1m-255 51h1m-24-12h1m-7-11h1m-3 8h1m-6 23h1m-16-22h1m-2 1h1m-4 16h1m-27-15h1m-5 1h1m-9 8h1m-4-13h1m-1 5h1m-5-6h1m-43-6h1m-23-3h1m-5 25h1m-13-4h1m-9-22h1m-1 13h1m-3 6h1m-14 13h1m-29-26h1m-6 16h1m-9-25h1m-56 30h1m-4-23h1m-17-2h1m-24 29h1m-7-7h1m-2-12h1m-43-12h1m-6 7h1m-35 15h1m-3-22h1m-2 28h1m-1 6h1m-2-15h1m-14 11h1m-43-27h1m-2-4h1m-2 2h1m-2 25h1m-2-4h1m-1-7h1m-8 20h1m-6-30h1m-12-5h1m-1 28h1m-47-9h1m-4-13h1m-3 21h1m-2-5h1m-6 1h1m-13-3h1m-5 5h1m-12 3h1m-1-17h1m-6-3h1m-3 25h1m-8-36h1m-8 13h1m-1-11h1m-6 7h1m-8 27h1m-12-14h1m-2 6h1m-3-6h1m-4 11h1m-31-19h1m-2 23h1m-19-27h1m-21 15h1m-6-6h1m-7-7h1m-12 22h1m-2 1h1m-3-21h1m-8-15h1m-3 5h1m-7 2h1m-2 8h1m-19-9h1m-9 10h1m-16-6h1m-2-10h1m-5 0h1m-8 2h1m-6 35h1m-4-14h1m-7 4h1m-8-3h1m-6-16h1m-11 4h1m-7 24h1m-8-11h1m-2-15h1m-2 5h1m-9-8h1m-27 7h1m-9 23h1m-21-29h1m-23 2h1m-30 5h1m-2 4h1m-1-15h1m-2 4h1m-7 6h1m-17 13h1m-19 1h1m-4-23h1m-7-5h1m-11 31h1m-11-26h1m-22 18h1m-5 1h1m-1 8h1m-5-22h1m-47 18h1m-6-28h1m-7 22h1m-4-12h1m-3 24h1m-10-1h1m-4 2h1m-19-15h1m-3-15h1m-19 19h1m-29-24h1m-5 22h1m-24-12h1m-9 11h1m-5-6h1m-8-15h1m-1 21h1m-2-2h1m-1-18h1m-14 19h1m-2 8h1m-9-14h1m-5 18h1m-21 1h1m-6-6h1m-15 10h1m-5 2h1m-13-29h1m-7-7h1m-67 26h1m-69-4h1m-31 31h1m41 4h1m58 5h1m51-6h1m28 11h1m11-1h1m29-10h1m2-7h1m4-8h1m16 3h1m5 6h1m8-4h1m5 12h1m11 3h1m0-7h1m-1 7h1m7-16h1m12 15h1m11-22h1m1 0h1m7 14h1m0 24h1m13-9h1m0-17h1m6 21h1m8-10h1m22-15h1m1-3h1m6 2h1m1 3h1m19 19h1m6-3h1m8-18h1m0 30h1m0-13h1m3 13h1m3-31h1m29 17h1m15-2h1m28 13h1m21-3h1m2-11h1m14-13h1m11 29h1m0-19h1m1 15h1m1-13h1m0 12h1m2-21h1m7 5h1m-1 5h1m11 11h1m5 6h1m8 0h1m8 0h1m1-12h1m3 9h1m0-30h1m16 10h1m0-12h1m7 24h1m23-22h1m1 10h1m2-9h1m0 18h1m1-6h1m1 11h1m18-17h1m13-7h1m2-4h1m0 29h1m13-12h1m5 16h1m10-17h1m36-1h1m13-4h1m3 17h1m2-15h1m9-7h1m24 24h1m0-9h1m3-12h1m4 26h1m6-33h1m12 16h1m2-16h1m2 7h1m-1 9h1m3-12h1m0 3h1m16 16h1m0-18h1m1 7h1m20-7h1m26 3h1m9 6h1m-1 15h1m12-7h1m0 4h1m15-12h1m1-18h1m13 11h1m1 18h1m7-15h1m0 22h1m2 3h1m22-33h1m2 32h1m3-35h1m-1 13h1m1 12h1m6-17h1m1-6h1m1 14h1m3-11h1m14 0h1m2 12h1m57-16h1m9 29h1m6-16h1m10-13h1m1 19h1m9-3h1m43 15h1m16-29h1m1 32h1m20-33h1m8 34h1m13-30h1m14 30h1m23-26h1m1 0h1m3 19h1m11-19h1m2-4h1m0 7h1m13 13h1m-1-4h1m0 5h1m26-14h1m5-8h1m7 18h1m12-2h1m9-10h1m5 15h1m10-29h1m7 6h1m18-5h1m12 23h1m2-21h1m12 29h1m7-27h1m16 0h1m28-3h1m3 22h1m1 49h1m-20-12h1m-10 2h1m-9 0h1m-7-18h1m-15-4h1m-3 32h1m-4-9h1m-10 13h1m-1-9h1m-4-26h1m-15 10h1m-4-4h1m-11 19h1m-8-15h1m-19 2h1m-26 24h1m-13-28h1m-3 8h1m-12 12h1m-12-9h1m-15-15h1m-3 18h1m-7 14h1m-7-9h1m-4-13h1m-3 6h1m-2-20h1m-2 30h1m-3-31h1m-7 3h1m-33 5h1m-61 17h1m-2 4h1m-23-22h1m-37-4h1m-6 8h1m-38 19h1m-29-20h1m-10 18h1m-26 2h1m-18 0h1m-20-15h1m-13 15h1m-4-9h1m-8 5h1m-6 10h1m-22-21h1m-15-16h1m-25 2h1m-1 27h1m-15-9h1m-1 0h1m-8-8h1m-3 25h1m-22-5h1m-12-28h1m-12 26h1m-6-23h1m-4 29h1m-3-12h1m-5 1h1m-3-13h1m-36 16h1m-2-4h1m-4 0h1m-5 9h1m-1-2h1m-3-22h1m-14 4h1m-7 11h1m-32 5h1m-2-14h1m-1-10h1m-4 19h1m-7-24h1m-13 21h1m-9-17h1m-7 33h1m-5-21h1m-6-11h1m-14 17h1m-3-4h1m-1 6h1m-10-21h1m-16 17h1m-3-5h1m-22 9h1m-8 14h1m-14-13h1m-1-18h1m-15 31h1m-2 0h1m-1-31h1m-8 14h1m-15-6h1m-5-7h1m-4 27h1m-26-4h1m-4 2h1m-9 6h1m-6-28h1m-7 26h1m-15-34h1m-8 36h1m-14-7h1m-4-3h1m-3-7h1m-14-18h1m-2 35h1m-35-10h1m-3-3h1m-7-17h1m-1 17h1m-3-25h1m-12 8h1m-44 11h1m-9-17h1m-2 1h1m-9 18h1m-9-15h1m-2-7h1m-6 2h1m-38 16h1m-18 18h1m-3-15h1m-3-14h1m-13 30h1m-7-11h1m-11 4h1m-7 0h1m-4-23h1m-16-7h1m-2 38h1m-6-19h1m-15 17h1m-13-8h1m-37 10h1m-22-35h1m-50 23h1m-134 42h1m30-28h1m88 5h1m46-1h1m39 14h1m7 15h1m31-29h1m4 11h1m17-15h1m13 17h1m-1 10h1m6-19h1m7 3h1m15 12h1m2 14h1m15-3h1m15-12h1m5 9h1m0-7h1m-1-9h1m1 21h1m1-34h1m0 37h1m3-18h1m1-18h1m0 25h1m0-2h1m10-24h1m1 32h1m1-19h1m12 5h1m6 11h1m10 4h1m0-5h1m12 0h1m6-13h1m4 10h1m0-6h1m4-3h1m2-11h1m3 5h1m9 19h1m3-10h1m-1-2h1m0-10h1m5-3h1m0 20h1m2-21h1m5 1h1m4 23h1m10 2h1m3-26h1m4 21h1m9-1h1m3 14h1m0-36h1m1 12h1m22-6h1m2 12h1m13-12h1m8 6h1m1 19h1m20-5h1m4 2h1m3-19h1m4 23h1m3-13h1m7-5h1m-1-2h1m3 15h1m7-5h1m0-15h1m6-9h1m5 26h1m1 5h1m8-13h1m6 16h1m0-10h1m4-4h1m-1 1h1m5 17h1m5-5h1m3-10h1m13-23h1m16 11h1m1-5h1m3 29h1m1-12h1m12-13h1m0 11h1m23-5h1m12 16h1m0-11h1m52-14h1m7-2h1m1-6h1m2 15h1m6 4h1m19-13h1m0 17h1m20-8h1m3 15h1m0-3h1m5-24h1m4 33h1m11-5h1m4-10h1m1 11h1m2 7h1m6-18h1m10 2h1m5-7h1m1 5h1m3 5h1m1-21h1m19 26h1m1-12h1m20 7h1m8 10h1m0-35h1m27 33h1m29 5h1m2-17h1m36-18h1m3 0h1m42-2h1m13 34h1m0-14h1m7 4h1m0-18h1m0 26h1m41-2h1m3-26h1m18 7h1m20 25h1m19-11h1m15-9h1m3 8h1m9-9h1m64 14h1m3-22h1m1 18h1m4-14h1m6-2h1m8 22h1m-1-15h1m4 11h1m0-16h1m2-7h1m-1 2h1m31 25h1m14-7h1m1 8h1m0-24h1m2-7h1m7 16h1m0-17h1m0 28h1m1-13h1m1 5h1m8 1h1m5 16h1m1-28h1m4 13h1m17-16h1m-1 17h1m3-18h1m0 27h1m2-15h1m9-6h1m7-8h1m1 12h1m9 15h1m9-15h1m-8 47h1m-13 11h1m-11-21h1m-6 8h1m-8 9h1m-6-18h1m-8 0h1m-13 6h1m-19-8h1m-13 22h1m-5-1h1m-1 5h1m-14-22h1m-4-3h1m-3 17h1m-8 8h1m-33-21h1m-34-5h1m-5-11h1m-20 24h1m-7-2h1m-2-7h1m-9-7h1m-3 26h1m-2 5h1m-11-16h1m-52-7h1m-7-5h1m-2 22h1m-3-1h1m-17-12h1m-14 8h1m-11-28h1m-9 29h1m-37-25h1m-14 9h1m-45-5h1m-41 19h1m-29 4h1m-8 1h1m-20-6h1m-12 8h1m-4-24h1m-2 23h1m-6 6h1m-13-24h1m-13 7h1m-10-5h1m-9 3h1m-6 19h1m-4-28h1m-3-2h1m-1 20h1m-8 2h1m-9 7h1m-29-38h1m-8 37h1m-27-9h1m-14 10h1m-2-33h1m-7 8h1m-2 13h1m-9 0h1m-4-23h1m-2 28h1m-2 0h1m-6-9h1m-3-17h1m-14 16h1m-11 1h1m-6-12h1m-7 1h1m-5 6h1m-11-13h1m-4 14h1m-7-14h1m-4 10h1m-3 2h1m-1 6h1m-2-5h1m-16-16h1m-9 18h1m-11 3h1m-27-16h1m-5 7h1m-3-3h1m-14-6h1m-13 35h1m-13-17h1m-8 11h1m-5-24h1m-3 29h1m-13-21h1m-12-3h1m-2 9h1m-3 8h1m-7-13h1m-3-1h1m-14-2h1m-14 17h1m-8 3h1m-13-18h1m-15 16h1m-9-17h1m-8 5h1m-14 16h1m-11-15h1m-2-9h1m-2-6h1m-4 22h1m-3-2h1m-8-24h1m-5 10h1m-4 26h1m-6-10h1m-9 0h1m-2-4h1m-22-3h1m-4-8h1m-14 14h1m-16-5h1m-19-22h1m-4 23h1m-10-8h1m-1 7h1m-7 2h1m-8-12h1m-2-5h1m-48 4h1m-3 11h1m-6-13h1m-1 13h1m-7-14h1m-6 13h1m-2-2h1m-8 14h1m-6-1h1m-1-27h1m-12 8h1m-9 6h1m-10 12h1m-19-6h1m-9-26h1m-6 37h1m-16-26h1m-8 2h1m-5-3h1m-29 16h1m-15-11h1m-2-1h1m-198 7h1m31 20h1m183 23h1m34-16h1m2 12h1m25 2h1m0 7h1m9-1h1m10-22h1m9 20h1m4-21h1m1 10h1m8-13h1m5 10h1m24 18h1m1-3h1m6-7h1m5-14h1m0 26h1m2 4h1m24-30h1m5 17h1m1-5h1m18 16h1m0-1h1m5 3h1m12-8h1m1-20h1m0-8h1m5 14h1m12-8h1m4 10h1m2 16h1m10-14h1m5 14h1m9-21h1m-1 0h1m4 28h1m1-37h1m2 7h1m5 26h1m-1-9h1m2-13h1m3-11h1m22 28h1m0-29h1m-1 38h1m4-3h1m27-18h1m19-3h1m0 6h1m11-7h1m7 4h1m9-8h1m-1 6h1m3 21h1m4 0h1m25-10h1m2 2h1m4 3h1m0 5h1m3-29h1m26 21h1m1-16h1m11 12h1m6 12h1m0-32h1m10 3h1m11 16h1m12-12h1m2 11h1m4-18h1m2 23h1m0-27h1m15 0h1m0 24h1m58 4h1m19-25h1m3-4h1m7 29h1m7 1h1m6-5h1m3-4h1m8 5h1m7-17h1m3 24h1m3-20h1m1-7h1m1 5h1m2 19h1m1 8h1m2-13h1m9-9h1m2-4h1m1 10h1m1 17h1m9-20h1m3-2h1m0 8h1m4-3h1m2 1h1m2 1h1m7-14h1m3-10h1m0 31h1m2-15h1m11 13h1m21 1h1m4-18h1m27 25h1m8-18h1m8 9h1m14 11h1m13-23h1m2 6h1m9-21h1m0 14h1m6-8h1m84 24h1m14-6h1m0-7h1m2-7h1m13-9h1m25 26h1m11-16h1m2-1h1m8-9h1m0 28h1m21 8h1m9-31h1m14 5h1m-1 7h1m1 10h1m10-19h1m0-2h1m14 23h1m9-28h1m11-1h1m17 17h1m0-6h1m0-2h1m3-4h1m2 31h1m10-18h1m13 2h1m15-8h1m9 24h1m7-23h1m0 24h1m2-25h1m10-13h1m-1 12h1m1 0h1m3-5h1m5-1h1m83-3h1m-105 39h1m-2 6h1m-35 12h1m-7-13h1m-25-1h1m-26-3h1m-5 14h1m-2 0h1m-7-4h1m-44-5h1m-3 29h1m-2-34h1m-15-4h1m-9 26h1m-9 5h1m-14-30h1m-10 10h1m-1 10h1m-40-16h1m-5 21h1m-19-7h1m-5 9h1m-3-21h1m-3 24h1m-54-21h1m-34 10h1m-8-8h1m-6 24h1m-45-19h1m-5 17h1m-32-12h1m-11-6h1m-23 22h1m-1-6h1m-5 3h1m-22-17h1m-4 16h1m-17-22h1m-1 1h1m-15 11h1m-2-16h1m-15 10h1m-2 1h1m-2-17h1m-2 37h1m-17-2h1m-6-25h1m-3 27h1m-8-37h1m-7 8h1m-2 21h1m-2-28h1m-2 12h1m-12 22h1m-17 2h1m-3-26h1m-4 11h1m-15-20h1m-10-3h1m-19 23h1m-9-9h1m-9 22h1m-17-7h1m-7-4h1m-9 11h1m-19-10h1m-9 1h1m-2-12h1m-3 7h1m-2-16h1m-5 1h1m-11-7h1m-11 37h1m-2-34h1m-3 12h1m-2 15h1m-6-9h1m-6 6h1m-3-25h1m-7 18h1m-8-6h1m-12-11h1m-20 1h1m-2 26h1m-5-7h1m-5 10h1m-26-7h1m-6 1h1m-2 10h1m-11-4h1m-19-1h1m-20 1h1m-18-24h1m-8 6h1m-6 20h1m-7-34h1m-7 30h1m-6 2h1m-7-6h1m-2 10h1m-6-5h1m-4-29h1m-18 5h1m-1 1h1m-9 14h1m-46-23h1m-18 17h1m-22-1h1m-9-3h1m-5-6h1m-9 9h1m-1-13h1m-1 0h1m-12 8h1m-32 19h1m-3 1h1m-5-23h1m-4 5h1m-5 11h1m-12-6h1m-32 16h1m-42-32h1m-11 5h1m128 53h1m98-15h1m36-2h1m41 18h1m15 3h1m10-13h1m22 18h1m58-2h1m28-20h1m9 29h1m4-35h1m5 6h1m1 28h1m3-16h1m0-17h1m0 8h1m8 21h1m6-25h1m8 23h1m0-12h1m24 3h1m32-12h1m4 12h1m8 9h1m3-15h1m11 18h1m33-22h1m12 23h1m4 1h1m12-35h1m14 19h1m-1-18h1m6 2h1m-1 2h1m18 12h1m0 6h1m2-16h1m11 32h1m-1-39h1m1 1h1m1 21h1m0 1h1m7-6h1m0-4h1m0-9h1m3 12h1m4 9h1m26 14h1m14-17h1m18-6h1m17 10h1m3-15h1m14 2h1m2 17h1m23 7h1m10-6h1m23-20h1m58-3h1m18 12h1m11-19h1m25 26h1m37-1h1m5-19h1m5-5h1m111 34h1m-350 16h1m-52 14h1m-23-17h1m-38 6h1m-31 12h1m-15-12h1m-16 1h1m-24-9h1m-3-7h1m-8 4h1m-1 8h1m-25 24h1m-44-23h1m-3 6h1m-5-7h1m-20 27h1m-6-27h1m-4-2h1m-16 27h1m-456-37h1m139 50h1m185 18h1m7-1h1m1-7h1m3-5h1m21 8h1m12 11h1m23 4h1m0-26h1m4 16h1m3-22h1m27 19h1m12-13h1m9 13h1m5 9h1m7-16h1m20 12h1m35-12h1m2 16h1m27-32h1m15 25h1m-1 11h1m108 27h1m-4 9h1m-19-3h1m-9-6h1m-11-19h1m-22 25h1m-8-19h1m-4 21h1m-6-6h1m-21-4h1m-14-16h1m-10 17h1m-11 0h1m-5 8h1m-6-32h1m-2 27h1m-4-14h1m-11 7h1m-3-3h1m-14-15h1m-2 36h1m-3-32h1m-17 31h1m-9-25h1m-2 6h1m-4 3h1m-9 10h1m-1-9h1m-34-17h1m-3 23h1m-11-7h1m-13-4h1m-3-4h1m-15 9h1m-5 15h1m-4-29h1m-4 13h1m-24-1h1m-23 14h1m-4-20h1m-9-5h1m-8-6h1m-18 27h1m-41-10h1m-1 50h1m65-16h1m3-3h1m38-5h1m9-2h1m1 0h1m1 13h1m2-8h1m22 0h1m38 5h1m20 3h1m22 9h1m14-6h1m12-18h1m12 16h1m7-1h1m4-11h1m5 6h1m4 0h1m22 13h1m36-11h1m8-13h1m3 21h1m6-9h1m12 11h1m-1 8h1m6-32h1m20 0h1m3 20h1m9-5h1m3-1h1m3-14h1m-69 40h1m-66 7h1m-15-5h1"/>
<path stroke="#ff7f0e" d="M5380 6730h1m-1 30h1m9 40h1m-41 76h1m-131-20h1m-281 24h1m139 16h1m-491 68h1m633 10h1m195 26h1m-497 70h1m211 40h1m27 46h1m195 0h1m89-36h1m-201 54h1m-895 34h1m663 20h1m1065 46h1m-593 26h1m1035 54h1m-947-14h1m-1329-10h1m187 34h1m969 50h1m-981 34h1m185 56h1m-41 36h1m633-16h1m1211 50h1m-1901 20h1m1869 70h1m-547-14h1m-287 24h1m-1071-18h1m175 48h1m-219 86h1m639-14h1m521 134h1m-35 84h1m-211 6h1m9 0h1m213 24h1m-645 92h1m103-20h1m281 4h1m783 10h1m-395 20h1m-417 0h1m-121 6h1m-65-6h1m-31 16h1m13 50h1m103 0h1m85-22h1m353 292h1"/>
<path stroke="#2ca02c" d="M5204 6716h1m-55 44h1m-151 36h1m-27 70h1m25 68h1m-195 30h1m53 32h1m-297 56h1m195 86h1m-21 96h1m15-4h1m-621 226h1m235 28h1m-33 70h1m399 36h1m-515 60h1m1509 294h1m339 70h1m-593 52h1m-171 4h1m-249 34h1m133-10h1m849 70h1m-341 40h1m-131 0h1m-121 16h1m-55 84h1m-7 36h1"/>
</g>
<rect x="401.50" y="658.50" width="272.00" height="203.00" fill="none" stroke="#000" stroke-width="0.75"/>
<line x1="413.86" y1="861.50" x2="413.86" y2="864.10" stroke="#000" stroke-width="0.75"/>
<line x1="398.90" y1="852.27" x2="401.50" y2="852.27" stroke="#000" stroke-width="0.75"/>
<text x="413.86" y="872.55" text-anchor="middle" class="t">0.0</text>
<text x="396.50" y="855.68" text-anchor="end" class="t">0.0</text>
<line x1="463.32" y1="861.50" x2="463.32" y2="864.10" stroke="#000" stroke-width="0.75"/>
<line x1="398.90" y1="815.36" x2="401.50" y2="815.36" stroke="#000" stroke-width="0.75"/>
<text x="463.32" y="872.55" text-anchor="middle" class="t">0.2</text>
<text x="396.50" y="818.77" text-anchor="end" class="t">0.2</text>
<line x1="512.77" y1="861.50" x2="512.77" y2="864.10" stroke="#000" stroke-width="0.75"/>
<line x1="398.90" y1="778.45" x2="401.50" y2="778.45" stroke="#000" stroke-width="0.75"/>
<text x="512.77" y="872.55" text-anchor="middle" class="t">0.4</text>
<text x="396.50" y="781.87" text-anchor="end" class="t">0.4</text>
<line x1="562.23" y1="861.50" x2="562.23" y2="864.10" stroke="#000" stroke-width="0.75"/>
<line x1="398.90" y1="741.55" x2="401.50" y2="741.55" stroke="#000" stroke-width="0.75"/>
<text x="562.23" y="872.55" text-anchor="middle" class="t">0.6</text>
<text x="396.50" y="744.96" text-anchor="end" class="t">0.6</text>
<line x1="611.68" y1="861.50" x2="611.68" y2="864.10" stroke="#000" stroke-width="0.75"/>
<line x1="398.90" y1="704.64" x2="401.50" y2="704.64" stroke="#000" stroke-width="0.75"/>
<text x="611.68" y="872.55" text-anchor="middle" class="t">0.8</text>
<text x="396.50" y="708.05" text-anchor="end" class="t">0.8</text>
<line x1="661.14" y1="861.50" x2="661.14" y2="864.10" stroke="#000" stroke-width="0.75"/>
<line x1="398.90" y1="667.73" x2="401.50" y2="667.73" stroke="#000" stroke-width="0.75"/>
<text x="661.14" y="872.55" text-anchor="middle" class="t">1.0</text>
<text x="396.50" y="671.14" text-anchor="end" class="t">1.0</text>
<rect x="586.70" y="662.50" width="82.80" height="36.40" rx="1.5" fill="#fff" stroke="#ccc" stroke-width="0.6"/>
<circle cx="597.50" cy="669.30" r="1.55" fill="#1f77b4"/>
<text x="610.90" y="671.71" class="t">Other classes</text>
<circle cx="597.50" cy="680.50" r="1.55" fill="#ff7f0e"/>
<text x="610.90" y="682.91" class="t">Minority class</text>
<circle cx="597.50" cy="691.70" r="1.55" fill="#2ca02c"/>
<text x="610.90" y="694.11" class="t">Synthetic data</text>
<text x="381.50" y="918.00" class="c" textLength="305.0" lengthAdjust="spacingAndGlyphs">(f) SG-CGAN for BlogCatalog</text>
</g>
<g>
<g transform="scale(.1)" stroke-width="31.0" stroke-linecap="round" fill="none">
<path stroke="#1f77b4" d="M1950 9952h1m41 25h1m-26 3h1m-3-9h1m-5 6h1m-16-3h1m-3 18h1m-7-16h1m-9-6h1m-592 8h1m-3 16h1m-15-17h1m-32 21h1m-14 28h1m11-3h1m8 2h1m5-22h1m10 1h1m11 23h1m0-10h1m-1 0h1m2 2h1m8-13h1m5 13h1m0 13h1m5-25h1m5-4h1m8 36h1m1-15h1m123-24h1m368 17h1m78-7h1m20-2h1m11 3h1m268 37h1m-22 26h1m-57-13h1m-88-2h1m-27-15h1m-12 25h1m-3-11h1m-3-8h1m-9 18h1m-9-11h1m-93-16h1m-2 18h1m-14-2h1m-6 4h1m-2 2h1m-10-10h1m-103 9h1m-450-8h1m-4-12h1m-17 9h1m-3-9h1m-5 23h1m-3 1h1m-3-3h1m-24-15h1m-3 4h1m-3-4h1m-1 15h1m-23-10h1m-36 57h1m79-24h1m4-2h1m356 29h1m323-20h1m30-13h1m97 38h1m130-15h1m11 15h1m23-14h1m-1 6h1m-1 9h1m202-10h1m25 46h1m-46-28h1m-22 21h1m-66 11h1m-22-9h1m-22 9h1m-18-31h1m-33-1h1m-10 22h1m-11-24h1m-1-4h1m-1 0h1m-2 14h1m-4 0h1m-78 14h1m-69 8h1m-324-22h1m-285-3h1m-115-2h1m-66 14h1m-33-6h1m-89 42h1m64-20h1m264 26h1m44-16h1m13 22h1m8-6h1m16-7h1m-1-11h1m-1 14h1m2 16h1m7-21h1m0 21h1m3-12h1m38 6h1m11-2h1m2 8h1m9-6h1m217-21h1m44 20h1m417-14h1m42-16h1m0 22h1m6-22h1m27 4h1m5 12h1m39 2h1m79-15h1m32 35h1m-111 14h1m-11-8h1m-53 27h1m-23-7h1m-4 1h1m-11-4h1m-15 13h1m-82-16h1m-41-19h1m-9 21h1m-18 12h1m-62-31h1m-281 32h1m-36-27h1m-180 4h1m-6-4h1m-4-2h1m-20-4h1m-2 5h1m-4-5h1m-17 9h1m-12-10h1m-37 9h1m-37-9h1m-313 20h1m-296 59h1m329-9h1m11-20h1m43 4h1m0-10h1m-1 30h1m8-21h1m3-1h1m0 0h1m1 19h1m14 5h1m2-23h1m3 21h1m6-30h1m45 24h1m71 4h1m253 3h1m105 1h1m79-11h1m6 7h1m150 5h1m89-20h1m52 0h1m77-14h1m46 31h1m18-7h1m0 5h1m4-15h1m7 6h1m1-16h1m8 2h1m1 19h1m11-13h1m23 7h1m-1-10h1m-1-4h1m1 11h1m1 19h1m5-9h1m1-5h1m0-15h1m24 28h1m41-5h1m18-3h1m88-11h1m-48 34h1m-55 25h1m-8-11h1m-2 8h1m-5 4h1m-4-29h1m-2 12h1m-21-19h1m-11 3h1m-6 31h1m-2-26h1m-2 17h1m-10-9h1m-8-16h1m-7 35h1m-4-19h1m-5-5h1m-2 10h1m-5 14h1m-5-23h1m-22-7h1m-2 30h1m-2 0h1m-3-18h1m-2 10h1m-1-4h1m-7 10h1m-2-11h1m-11 5h1m-3-4h1m-2-18h1m-13 14h1m-3-15h1m-7 8h1m-7 20h1m-18-14h1m-17-4h1m-46 7h1m-55 10h1m-280-27h1m-4 31h1m-6-28h1m-2-4h1m-3 25h1m-7-15h1m-22-4h1m-58 9h1m-4-16h1m-16 11h1m-3-2h1m-2 1h1m-9-1h1m-2-1h1m-473-8h1m-29-3h1m-2 8h1m-316 1h1m-56 24h1m-4-34h1m-3 4h1m-3 3h1m-1 14h1m-8 1h1m-5-17h1m-4 13h1m-10 2h1m191 46h1m55-18h1m135 28h1m28-22h1m131 10h1m36-1h1m32-3h1m299-13h1m14-4h1m171 5h1m87 20h1m101-24h1m54 31h1m5-15h1m5-13h1m23 18h1m1-11h1m31 14h1m5-6h1m2 13h1m6-19h1m8 21h1m4 0h1m1-9h1m2-2h1m5-5h1m0-17h1m4 7h1m-1-6h1m0 1h1m-1 24h1m2-16h1m2-13h1m4 21h1m3 4h1m0-18h1m2 15h1m2 16h1m7-15h1m9-19h1m0 32h1m-1-7h1m0-20h1m12 10h1m0-12h1m15 26h1m-1-33h1m3 22h1m24-3h1m22 10h1m7-23h1m-1 22h1m222 1h1m-134 49h1m-23-4h1m-19-17h1m-31 1h1m-9-13h1m-8 19h1m-23 6h1m-4-7h1m-6 6h1m-11-27h1m-7 20h1m-10 9h1m-3-32h1m-12 19h1m-4-3h1m-5-8h1m-5 30h1m-2-19h1m-17-12h1m-9-7h1m-6 35h1m-3-26h1m-2 23h1m-4-7h1m-2-2h1m-6 16h1m-2-26h1m-4 2h1m-2-5h1m-12-3h1m-4 22h1m-15-16h1m-5 18h1m-4-10h1m-8-9h1m-6 24h1m-4-10h1m-21-6h1m-6 14h1m-4-25h1m-17-1h1m-6 11h1m-2-14h1m-20 18h1m-17-5h1m-2 6h1m-145-7h1m-10 9h1m-13-13h1m-13 18h1m-4-6h1m-3 2h1m-25 2h1m-55-26h1m-34 36h1m-68-18h1m-57 11h1m-160-12h1m-461 6h1m-40 5h1m-17 0h1m-3 6h1m-19-7h1m-19 37h1m0-12h1m10 3h1m-1-9h1m12 5h1m2 2h1m4-4h1m1 0h1m-1-12h1m2 0h1m3 36h1m160-36h1m33 19h1m65-13h1m119 30h1m9-7h1m13-1h1m-1 11h1m156-4h1m20-11h1m-1 3h1m5 7h1m4 4h1m295-36h1m16 16h1m0-3h1m6 13h1m0-13h1m1 10h1m91-9h1m37-7h1m18 14h1m28-20h1m68 16h1m2-9h1m6 1h1m3-6h1m7 28h1m4-32h1m0 4h1m3 33h1m5-38h1m44 31h1m4-1h1m3-18h1m11 2h1m4-9h1m0 5h1m0 9h1m11-2h1m9-6h1m42 14h1m11 14h1m6-38h1m52 1h1m5 10h1m17 1h1m5 0h1m-1-4h1m5 7h1m52 27h1m-78 23h1m-49-5h1m-44 15h1m-65-20h1m-13-6h1m-2 12h1m-72 16h1m-41-38h1m-35 10h1m-38-8h1m-3 14h1m-51-7h1m-174 28h1m-70-1h1m-88-14h1m-49-17h1m-50 12h1m-18 2h1m-6 10h1m-17-14h1m-10-1h1m-140-14h1m-12 0h1m-186 38h1m-106 0h1m-30-28h1m-80-2h1m-3 5h1m-2-10h1m-14 12h1m-4 5h1m-1-5h1m-5-14h1m-2 3h1m-3-3h1m-11 16h1m-50-17h1m-7 4h1m-85 16h1m-34 26h1m61-1h1m56 18h1m67-8h1m173-9h1m55-4h1m3 33h1m2-19h1m0-9h1m0 21h1m3-21h1m1 7h1m0 5h1m-1-13h1m4-5h1m9 27h1m52 6h1m174-13h1m646-21h1m88 31h1m92 2h1m176 2h1m10 1h1m5-7h1m-2 24h1m-10-1h1m-1-11h1m-9 26h1m-2-12h1m-192 20h1m-89-23h1m-17 18h1m-272-22h1m-35-1h1m-187 30h1m-109-35h1m-182 34h1m-9-9h1m-138-10h1m-125 19h1m-98-26h1m-225 8h1m-5 2h1m-3-4h1m-15 10h1m-13-4h1m-297 15h1m-15-3h1m-1-27h1m-5 20h1m-19-8h1m-3 8h1m-12 33h1m6-17h1m3 4h1m9 26h1m3-33h1m0 5h1m3 16h1m0-18h1m14 8h1m10-1h1m164 24h1m1-3h1m11 6h1m0-1h1m0-8h1m184 9h1m147-16h1m5-19h1m6 18h1m2-10h1m6 5h1m3-6h1m47-6h1m290 17h1m16 16h1m8-19h1m2-2h1m1 4h1m4 17h1m9-21h1m2 1h1m236-3h1m22-5h1m13 30h1m-1-23h1m0 15h1m15-4h1m1-18h1m7 30h1m130-24h1m425 3h1m97 18h1m171-13h1m-97 49h1m-138-24h1m-2 27h1m-11-6h1m-63-11h1m-249-1h1m-290-14h1m-14 8h1m-282-7h1m-5 12h1m-17-3h1m-68-9h1m-50-1h1m-3 8h1m-60-9h1m-82 19h1m-211 6h1m-34 2h1m-231-28h1m-6 9h1m147 60h1m3 7h1m6-11h1m3 10h1m1-6h1m5 4h1m133-18h1m40-1h1m145 25h1m16-7h1m101-4h1m244 8h1m152-12h1m7 13h1m308-17h1m5 5h1m5-9h1m1 2h1m5 8h1m7 2h1m7-1h1m4-8h1m69 6h1m192-8h1m1-8h1m7 2h1m6 22h1m13-29h1m1-1h1m101 28h1m65-6h1m55 44h1m-32-26h1m-140 34h1m-54-30h1m-229 21h1m-157-28h1m-116 37h1m-125-34h1m-3 15h1m-9-2h1m-10-15h1m-2 0h1m-129 12h1m-13 16h1m-3 1h1m-2-2h1m-12-12h1m-3 20h1m-1 3h1m-13-24h1m-2-5h1m-35 25h1m-147-5h1m-28-15h1m-90-9h1m-68 30h1m-3-8h1m-48-16h1m-111 24h1m-45 0h1m-279-12h1m-457 42h1m13 9h1m5-20h1m1 7h1m3 10h1m2 6h1m9-2h1m9-20h1m-1 2h1m12 8h1m10 1h1m313-10h1m7 11h1m6-4h1m0 4h1m0 2h1m2-13h1m3 13h1m136 8h1m66-36h1m98 1h1m60 16h1m17 18h1m1-4h1m74-23h1m9 24h1m14-8h1m19 5h1m90 7h1m211-9h1m15 10h1m13-4h1m68-1h1m277-33h1m3 2h1m3 25h1m5-1h1m0-17h1m8 22h1m6-22h1m3-7h1m394 3h1m39-4h1m50 30h1m16 0h1m21-4h1m-1 9h1m2-1h1m211 31h1m-164-19h1m-48 25h1m-9-11h1m-12-16h1m-3 9h1m-2-4h1m-2 3h1m-2 1h1m-14-13h1m-8 1h1m-51-2h1m-67 4h1m-126 15h1m-5 6h1m-3 2h1m-9-21h1m-6 26h1m-6-4h1m-198-23h1m-205 17h1m-3-9h1m-2 22h1m-8-9h1m-7-11h1m-27-5h1m-130 14h1m-11-6h1m-11-19h1m-27 39h1m-163-10h1m-46-20h1m-41 29h1m-44 0h1m-32-16h1m-15-18h1m-56 34h1m-29-34h1m-3 13h1m-10-11h1m-16 32h1m-73-38h1m-34 3h1m-19 31h1m-39-22h1m-2 12h1m-29-5h1m-536 3h1m-3-3h1m-2-11h1m-3 25h1m-15-19h1m-1 20h1m-1-22h1m-10 10h1m-7 4h1m-4-3h1m-4-6h1m-3 0h1m-18 24h1m470 4h1m100 0h1m8 10h1m5 16h1m1-12h1m22 8h1m8-17h1m3 8h1m158-12h1m25 25h1m15-16h1m2 0h1m14-11h1m24 19h1m16-7h1m13 21h1m2-28h1m4-2h1m7 32h1m3-16h1m10-8h1m40 13h1m12 0h1m6 7h1m-1-26h1m58 27h1m31-25h1m22-5h1m13 24h1m3-4h1m25-14h1m67 11h1m51 9h1m64-12h1m442 13h1m4 4h1m6-1h1m7-13h1m6 13h1m-1 1h1m159-14h1m160-18h1m37-2h1m182 36h1m-95 23h1m-138-21h1m-56 15h1m-252-1h1m-8-11h1m-11 10h1m-4-12h1m-9 18h1m-11 5h1m-91 14h1m-310-19h1m-1-12h1m-5 26h1m-23-5h1m-1-24h1m-10 32h1m-10-25h1m-59 25h1m-37 2h1m-21-16h1m-16 13h1m-33-32h1m-7 4h1m-15-1h1m-9 13h1m-7-3h1m-34 10h1m-16-24h1m-6 12h1m-36 15h1m-43-30h1m-30 39h1m-19-12h1m-1-2h1m-17 10h1m-6-5h1m-15-20h1m-12 12h1m-25 4h1m-6-1h1m-9-5h1m-26 19h1m-24 0h1m-39-21h1m-2-7h1m-17-4h1m-29 16h1m-30-14h1m-65 20h1m-33 8h1m-11-14h1m-15-5h1m-98 19h1m-56-11h1m-158 20h1m206 24h1m60-27h1m66 27h1m68-28h1m39 30h1m60-9h1m31-11h1m0-12h1m2 29h1m-1 8h1m8-19h1m14 18h1m6-3h1m4-8h1m-1 12h1m11-18h1m16 5h1m0 3h1m12-21h1m9 24h1m0-6h1m1-12h1m17 20h1m4-6h1m20-1h1m15 13h1m19-30h1m0 22h1m13-20h1m1 8h1m31 20h1m92-31h1m2 0h1m1 5h1m19-8h1m13 16h1m8 18h1m18-29h1m29 24h1m13-17h1m12 21h1m5-11h1m65-2h1m50-13h1m12-11h1m49 18h1m601 3h1m151-16h1m149 34h1m-1-4h1m4 4h1m26-10h1m22 17h1m-21 22h1m-14-26h1m-10 37h1m-5-33h1m-6 3h1m-4 26h1m-6-19h1m-11-5h1m-2 17h1m-4-21h1m-5-2h1m-6 19h1m-15-17h1m-121 28h1m-151-12h1m-100 9h1m-15-31h1m-4 22h1m-7 8h1m-3-3h1m-5-15h1m-5 10h1m-183 0h1m-92 11h1m-2 1h1m-8 0h1m-6-19h1m-226-15h1m-69 3h1m-15 17h1m-21-13h1m-66 23h1m-7-9h1m-12-3h1m-19 12h1m-8 6h1m-18 1h1m-15-9h1m-45-10h1m-7 9h1m-12-5h1m-5-6h1m-2 15h1m-30 6h1m-6-1h1m-3-28h1m-2 20h1m-25 0h1m-4-1h1m-5-25h1m-10 7h1m-6 28h1m-2-26h1m-5 1h1m-8 20h1m-6-3h1m-1-18h1m-2-12h1m-18 13h1m-11 6h1m-8 5h1m-2-9h1m-9 7h1m-1-22h1m-13 37h1m-3-4h1m-2-20h1m-4-6h1m-11 32h1m-6-24h1m-3-6h1m-7 12h1m-2-13h1m-5 8h1m-6 18h1m-3-12h1m-7 2h1m-20-8h1m-14 12h1m-4-1h1m-3 11h1m-26-32h1m-21 32h1m-19-7h1m-10-10h1m-8 10h1m-19-16h1m-8-9h1m-7 31h1m-19-24h1m-35-11h1m-17 14h1m-4 8h1m-77 15h1m-10-35h1m-8 9h1m-17 13h1m-17 6h1m-47 6h1m-16-12h1m-37-4h1m-97 8h1m-45-17h1m-171 48h1m3 6h1m0 2h1m0-14h1m5 12h1m2-16h1m2-5h1m10 9h1m253-13h1m2 34h1m27-16h1m12 9h1m5 2h1m58 7h1m3-2h1m2-24h1m3-3h1m4 16h1m30 5h1m23-12h1m3-6h1m26 23h1m33 4h1m0-30h1m5-2h1m19 18h1m10-21h1m5 35h1m19-9h1m6 4h1m1-10h1m3 14h1m1-35h1m0 2h1m0 26h1m20-17h1m16-3h1m1 26h1m7-10h1m17-26h1m5 31h1m9-11h1m5-1h1m10 16h1m12-9h1m13-20h1m3 1h1m18 27h1m21-20h1m13-7h1m4 8h1m5 6h1m1-22h1m6 19h1m16-7h1m11 23h1m0-6h1m-1 8h1m0-13h1m-1-16h1m20 6h1m0 14h1m16 2h1m18-18h1m3 18h1m0 8h1m4-25h1m9 14h1m6-1h1m9 9h1m25-15h1m1-18h1m3 2h1m10 3h1m19 22h1m36 5h1m19-33h1m1 13h1m3-4h1m34-9h1m36 20h1m22 6h1m99-23h1m108 0h1m87 6h1m12 23h1m2-15h1m9-8h1m7-10h1m158 9h1m99-9h1m31 14h1m3 1h1m15-10h1m392-4h1m27 11h1m11 3h1m-44 40h1m-147-12h1m-56 35h1m-192-22h1m-532 20h1m-21-28h1m-82 0h1m-2-7h1m-9 23h1m-5 12h1m-8-8h1m-6 6h1m-6-8h1m-46-25h1m-10 27h1m-7-2h1m-11 3h1m-37-22h1m-9 10h1m-7 19h1m-22-1h1m-10 4h1m-21-38h1m-6 0h1m-1 19h1m-8 11h1m-7-20h1m-6 26h1m-6 1h1m-27-31h1m-6-1h1m-4 13h1m-14 16h1m-14-5h1m-8 4h1m-4 5h1m-30-34h1m-7 27h1m-7-18h1m-30 5h1m-16 0h1m-11-11h1m-2 25h1m-4-8h1m-1-23h1m-6 24h1m-12-10h1m-11-6h1m-9 4h1m-15 1h1m-17-9h1m-13-2h1m-5 35h1m-22-32h1m-15 24h1m-7-16h1m-4-5h1m-12-4h1m-24 19h1m-16-8h1m-3-11h1m-9 22h1m-9 2h1m-1-10h1m-27 3h1m-19 15h1m-8-35h1m-4 23h1m-27-16h1m-27 3h1m-6 5h1m-230-4h1m-28 16h1m125 31h1m4-4h1m24-14h1m26 5h1m69 31h1m12-29h1m1 26h1m19-17h1m14-15h1m1 25h1m12-29h1m5 25h1m-1-13h1m5-3h1m7-1h1m6-2h1m11 30h1m26-14h1m3-7h1m3 16h1m8-12h1m15 17h1m9-11h1m1-2h1m8-22h1m13 2h1m2 30h1m16 1h1m8-30h1m9 8h1m6-1h1m3-9h1m2 31h1m0-16h1m7 16h1m-1-5h1m0 10h1m0-22h1m5 9h1m0 11h1m6-22h1m4 3h1m7 15h1m1-4h1m2 5h1m9 3h1m2-11h1m2-16h1m1 4h1m3 1h1m1-11h1m5 29h1m-1-27h1m5 32h1m-1-24h1m0-8h1m-1 25h1m0 6h1m5-12h1m1 3h1m14 0h1m7 1h1m10 9h1m0-12h1m3 11h1m15-17h1m9 5h1m5 0h1m0-7h1m-1 11h1m0-7h1m1-17h1m3 34h1m-1-12h1m7-3h1m10-22h1m0 8h1m4 1h1m2 14h1m-1-21h1m4 19h1m0 13h1m1 0h1m26-20h1m3-5h1m3 25h1m0-26h1m7 19h1m36-26h1m15 7h1m5 16h1m1-13h1m-1-9h1m6 20h1m0-6h1m18 4h1m7-18h1m15 0h1m6 36h1m0-38h1m14 2h1m9 13h1m17 16h1m21-12h1m7 11h1m52 0h1m6-6h1m1-14h1m28 5h1m48-4h1m82 19h1m201-8h1m1 10h1m-1-12h1m260-1h1m4 9h1m23-29h1m-10 58h1m-8-1h1m-19 11h1m-2-16h1m-6-8h1m-4 23h1m-2-16h1m-1-5h1m-4 8h1m-4-11h1m-5 18h1m-3 10h1m-1-28h1m-17 5h1m-161 10h1m-6-3h1m-15 5h1m-4 19h1m-4-24h1m-7 16h1m-3-24h1m-10-5h1m-3 16h1m-2 17h1m-4-34h1m-1 16h1m-13 16h1m-7-16h1m-8 18h1m-3-10h1m-16 1h1m-124-20h1m-101 27h1m-60-19h1m-7 15h1m-7-6h1m-70-17h1m-13 8h1m-10-14h1m-18 17h1m-2 10h1m-9-26h1m-75 25h1m-19 1h1m-1-3h1m-19 11h1m-2-26h1m-9 10h1m-5 6h1m-2-19h1m-8-6h1m-10 3h1m-18 10h1m-13 13h1m-3-21h1m-8 21h1m-5-8h1m-7 14h1m-7-21h1m-10 10h1m-2-13h1m-9-3h1m-5-2h1m-6 9h1m-3-6h1m-4-3h1m-3 29h1m-15-9h1m-15 2h1m-1 7h1m-2-19h1m-3-6h1m-1 7h1m-15-9h1m-23 28h1m-7-10h1m-11-1h1m-5-22h1m-2 15h1m-4-10h1m-8 22h1m-15 11h1m-5-23h1m-3 12h1m-10-3h1m-8-14h1m-6 3h1m-3-8h1m-8 9h1m-2 7h1m-1 4h1m-8-6h1m-9-9h1m-9 28h1m-4-38h1m-4 20h1m-4-5h1m-8 0h1m-13-14h1m-1 24h1m-11 7h1m-1 4h1m-1-19h1m-3 14h1m-9-10h1m-5-9h1m-19 26h1m-10-31h1m-6 6h1m-6-6h1m-2 11h1m-6 0h1m-10 6h1m-6-19h1m-19 19h1m-16-22h1m-1 3h1m-70 21h1m-12-12h1m-21-14h1m-12 15h1m-2 21h1m-9-2h1m-19-2h1m-46-20h1m-24 27h1m-3-38h1m-15 38h1m-121-26h1m-94 21h1m128 39h1m11-7h1m6 12h1m0-1h1m6-1h1m0-24h1m0 20h1m13-3h1m27 1h1m50 3h1m4-31h1m20 11h1m10-2h1m33 22h1m4-15h1m6 15h1m4-7h1m0 9h1m33-27h1m16 7h1m5-7h1m27 16h1m0 8h1m1-31h1m11 19h1m5 4h1m31-12h1m0-1h1m10 12h1m28 12h1m3-18h1m3-9h1m3-3h1m2 20h1m0-19h1m16 7h1m1 22h1m19-13h1m1-10h1m0-7h1m1 18h1m-1-23h1m6 39h1m5-36h1m16 13h1m22-6h1m6-3h1m0 15h1m-1 17h1m1-8h1m0-6h1m0-19h1m8 32h1m32-5h1m8-13h1m15 7h1m9-6h1m17 17h1m-1-23h1m5-3h1m3-9h1m6 20h1m3-1h1m7-22h1m2 19h1m13-3h1m12-5h1m22 7h1m17-7h1m5 14h1m9-9h1m3 17h1m1-15h1m9 6h1m13-9h1m8-8h1m42 28h1m1 4h1m7-16h1m4-15h1m11 2h1m13 21h1m10-6h1m5-13h1m83 17h1m0-26h1m19-2h1m11 0h1m23 29h1m254-19h1m13-6h1m11 5h1m7 6h1m1-3h1m2-10h1m2 29h1m2-5h1m23 1h1m231-22h1m44 10h1m156 54h1m-10 3h1m-37-8h1m-12 6h1m-323 1h1m-397 1h1m-2-31h1m-43 25h1m-23 5h1m-5-17h1m-104 7h1m-83-10h1m-36 24h1m-7-21h1m-3 13h1m-15-11h1m-5-11h1m-8 5h1m-12 2h1m-5-12h1m-2 35h1m-2-36h1m-10 20h1m-7 5h1m-13-25h1m-5 23h1m-11 2h1m-5 1h1m-7-24h1m-11 5h1m-8-5h1m-5 29h1m-2-21h1m-4-10h1m-9 18h1m-3 3h1m-7 9h1m-16-29h1m-2 8h1m-1 10h1m-4-4h1m-2 14h1m-6-1h1m-9-12h1m-2 17h1m-4-30h1m-11 33h1m-3-15h1m-8-1h1m-6 9h1m-9-13h1m-3 1h1m-9-17h1m-3 5h1m-8 12h1m-5-7h1m-14-5h1m-2-5h1m-4 30h1m-28-13h1m-5-10h1m-8-3h1m-5 11h1m-6-13h1m-24 3h1m-4 1h1m-19 32h1m-20-10h1m-9-17h1m-1 14h1m-25-19h1m-18 13h1m-22 4h1m-4 2h1m-12-7h1m-44-8h1m-14-4h1m-49 31h1m-22-15h1m-19-15h1m-21 0h1m-18-4h1m-10 26h1m-6-23h1m-28 28h1m-10-24h1m-3-3h1m-6 6h1m-4-11h1m-4 2h1m-1 3h1m-10 4h1m-189 55h1m232-17h1m18 21h1m9 2h1m8-4h1m8-6h1m46 12h1m32-13h1m3 6h1m47-27h1m1 26h1m19 10h1m5-36h1m14 13h1m11 23h1m13-4h1m27-12h1m16-15h1m16 1h1m26-6h1m36 9h1m42-3h1m8 18h1m4-13h1m2-4h1m1 16h1m4-22h1m0 28h1m22-20h1m42-7h1m23 36h1m1-4h1m0-16h1m8-10h1m14 24h1m3 1h1m28-27h1m0 3h1m11 14h1m2 6h1m0-4h1m34 12h1m17-37h1m4 8h1m17 18h1m123-13h1m44-4h1m31 13h1m4-2h1m71 8h1m56-26h1m203 8h1m30-6h1m43 5h1m363 0h1m14 0h1m2 27h1m-1-7h1m6-12h1m9-15h1m3 10h1m11 25h1m0-6h1m1 6h1m1-20h1m0 13h1m3 5h1m2-4h1m-1-5h1m-1 4h1m2-16h1m6 8h1m-1 14h1m1-8h1m19-15h1m44 61h1m-38-32h1m-2 13h1m-5 7h1m-16 4h1m-34 7h1m-4-4h1m-1-16h1m-5-6h1m-9 30h1m-6-21h1m-4 21h1m-13-32h1m-5 12h1m-286 21h1m-26-5h1m-8-4h1m-5 3h1m-8-19h1m-2 17h1m-16-3h1m-408-5h1m-43-13h1m-162 1h1m-39 25h1m-8-9h1m-6-12h1m-4 12h1m-6-14h1m-4 19h1m-7-19h1m-20 6h1m-18-3h1m-6 1h1m-21-2h1m-10 3h1m-42 2h1m-13 11h1m-32 6h1m-11-15h1m-34-16h1m-2-1h1m-69 7h1m-24 21h1m-18-31h1m-12 35h1m-3-10h1m-48-21h1m-21 9h1m-4-6h1m-25 5h1m-43-7h1m-16 15h1m-110 0h1m-3 12h1m-38-14h1m-49-10h1m-61 53h1m112-8h1m56 4h1m64 20h1m9-35h1m0-2h1m32 36h1m24-3h1m6-19h1m12 5h1m21-6h1m8 21h1m9-20h1m21 16h1m10-2h1m20-5h1m6 8h1m39-16h1m21 2h1m16-9h1m22 5h1m9-7h1m7-1h1m27 10h1m52-1h1m10 16h1m38-12h1m32-15h1m32 6h1m10 8h1m38-4h1m5-14h1m24 17h1m4 21h1m4-33h1m5 27h1m39-27h1m297 26h1m35-24h1m154-1h1m35-6h1m9 16h1m25-15h1m4 7h1m4-1h1m72 14h1m208 9h1m42-22h1m-334 37h1m-369 20h1m-49-4h1m-131 17h1m-49 1h1m-41-13h1m-73 9h1m-46-14h1m-23-18h1m-42 32h1m-3-23h1m-9 23h1m-23-12h1m-5-5h1m-15 15h1m-81-31h1m-57 6h1m-22-8h1m-37 6h1m-6 4h1m-13-8h1m-13 36h1m-6-30h1m-52 2h1m-24 22h1m-12-11h1m-26 8h1m-58 5h1m-183-14h1m210 23h1m13 23h1m9 9h1m17-27h1m77 5h1m14 25h1m65-7h1m45 5h1m10-24h1m1 4h1m7 11h1m2-12h1m4-6h1m23 13h1m33 4h1m30-8h1m2 2h1m18 15h1m15-6h1m13 4h1m3-9h1m18-14h1m19-8h1m4-1h1m12 28h1m15 5h1m5-34h1m14 14h1m27-10h1m78 35h1m133-2h1m11 0h1m0-1h1m7-18h1m3 10h1m6-7h1m2 1h1m250 5h1m112-13h1m101 15h1m108-20h1m-385 37h1m-39 26h1m-156-32h1m-13 15h1m-2-12h1m-15 19h1m-15-8h1m-179 4h1m-26 13h1m-15 4h1m-24-22h1m-8 1h1m-13-4h1m-12-5h1m-6 8h1m-116 2h1m-11-3h1m-45 20h1m-98-24h1m-35 28h1m-80-36h1m-276 6h1m89 34h1m179 10h1m163 19h1m89-24h1m35 4h1m9 11h1m18 5h1m14-23h1m5 8h1m32 7h1m177-17h1m26 23h1m300 7h1m68-22h1m63 29h1m34 32h1m-9 9h1m-1-12h1m-8-6h1m-2-10h1m-8 13h1m-2-21h1m-1 7h1m-5 16h1m-2-24h1m-4 5h1m-2 21h1m-935-1h1m360 32h1m19 4h1m5 15h1m2-22h1m281 24h1m268-28h1m11-7h1m11-1h1m-257 57h1m-17-4h1m-3 7h1m-2 7h1m-7-1h1m-11-14h1m-265 2h1m-7 11h1m-20-13h1m-4 11h1m-1-19h1m-11-2h1m-13 19h1m-7 9h1m-5-17h1m-25 14h1m-194-2h1m-4 2h1m-2-7h1m-3-1h1m-4-3h1m-5-3h1m-3-3h1m-4 24h1m-4-13h1m-280 31h1m2 13h1m8-5h1m1 9h1m1-22h1m2 6h1m3 23h1m11-7h1m5-14h1m4-8h1m4 19h1m0 9h1m10-12h1m10 3h1m209-22h1m239-4h1m308 7h1m21-6h1m10 4h1m-754 36h1m-52 6h1m-34 14h1m-2 1h1m-6-20h1m-1 11h1m-10 0h1m-2-6h1m-2-3h1m-7 16h1m-4 10h1m-4-25h1m-2 11h1m-5-18h1m-2 24h1m28 16h1m15 8h1m604 81h1m9 7h1m1 2h1m5 8h1m-1-2h1m3 11h1m1-23h1m1 5h1m-1 14h1m0 0h1m9-7h1m2-22h1m6 22h1"/>
<path stroke="#ff7f0e" d="M1370 10030h1m559 40h1m-11-16h1m-511-8h1m-111 14h1m-11-20h1m999 86h1m-631 68h1m65-4h1m479 34h1m-477 6h1m973 34h1m-61 26h1m-75-10h1m-21 10h1m-21 10h1m-41-10h1m-31 4h1m-11-14h1m-71 20h1m-481 0h1m-61 4h1m-851-10h1m1415 52h1m13-6h1m363 26h1m-1155 60h1m115-12h1m223-4h1m459-10h1m-631 40h1m-357 54h1m25 16h1m-447 30h1m-325 26h1m539 8h1m1023-10h1m-35 62h1m-47 90h1m-225-26h1m-51-10h1m-157 14h1m-925 52h1m1125-12h1m93-4h1m575 66h1m-27-6h1m-21-10h1m-701 6h1m-1081-26h1m1449 70h1m299 6h1m-321 4h1m-777 6h1m-107 9h1m-183 7h1m69 38h1m116-20h1m60 38h1m158-38h1m9 9h1m1256 5h1m65 62h1m-117-26h1m-431 16h1m-690 2h1m-387-28h1m-121 6h1m-330 34h1m246 28h1m164-14h1m44 13h1m231-13h1m112 21h1m747-35h1m-71 40h1m-976 1h1m-5 6h1m-86-3h1m-194 26h1m-66 8h1m45 12h1m127-7h1m255 29h1m76 5h1m72-31h1m140 18h1m710 36h1m-13-20h1m-275 30h1m-695-19h1m-125 5h1m-8 18h1m-49-4h1m-18-30h1m-85 17h1m-247 53h1m98-16h1m1 8h1m20-8h1m60 21h1m21-18h1m38 16h1m14-12h1m119-19h1m63 33h1m22 3h1m48-33h1m29 32h1m125-2h1m122-11h1m455-24h1m-191 50h1m-343 19h1m-88 0h1m-162-9h1m-187-13h1m-220 46h1m326 12h1m82 13h1m11-33h1m24-2h1m164-1h1m92 22h1m939-14h1m29 4h1m-35 32h1m-337 30h1m-734-4h1m-59-26h1m-105 6h1m-209-11h1m-38 22h1m146 39h1m5 14h1m152-28h1m-126 43h1m78 48h1m809 111h1m-11 16h1m-17-26h1m-15 34h1m-11-20h1m-531 46h1m269 46h1m-67 18h1m-99 176h1"/>
<path stroke="#2ca02c" d="M1330 10050h1m1169 200h1m-1821 330h1m1513 4h1m-886 322h1m1484-16h1m5 66h1m-1365 2h1m-30-7h1m95 151h1m-19-17h1m-273 18h1m-31 35h1m205 18h1m62-20h1m-183 32h1m-2-7h1m-59 18h1m764 41h1m-700 62h1"/>
</g>
<rect x="30.50" y="987.50" width="272.60" height="203.00" fill="none" stroke="#000" stroke-width="0.75"/>
<line x1="42.89" y1="1190.50" x2="42.89" y2="1193.10" stroke="#000" stroke-width="0.75"/>
<line x1="27.90" y1="1181.27" x2="30.50" y2="1181.27" stroke="#000" stroke-width="0.75"/>
<text x="42.89" y="1201.55" text-anchor="middle" class="t">0.0</text>
<text x="25.50" y="1184.68" text-anchor="end" class="t">0.0</text>
<line x1="92.45" y1="1190.50" x2="92.45" y2="1193.10" stroke="#000" stroke-width="0.75"/>
<line x1="27.90" y1="1144.36" x2="30.50" y2="1144.36" stroke="#000" stroke-width="0.75"/>
<text x="92.45" y="1201.55" text-anchor="middle" class="t">0.2</text>
<text x="25.50" y="1147.77" text-anchor="end" class="t">0.2</text>
<line x1="142.02" y1="1190.50" x2="142.02" y2="1193.10" stroke="#000" stroke-width="0.75"/>
<line x1="27.90" y1="1107.45" x2="30.50" y2="1107.45" stroke="#000" stroke-width="0.75"/>
<text x="142.02" y="1201.55" text-anchor="middle" class="t">0.4</text>
<text x="25.50" y="1110.87" text-anchor="end" class="t">0.4</text>
<line x1="191.58" y1="1190.50" x2="191.58" y2="1193.10" stroke="#000" stroke-width="0.75"/>
<line x1="27.90" y1="1070.55" x2="30.50" y2="1070.55" stroke="#000" stroke-width="0.75"/>
<text x="191.58" y="1201.55" text-anchor="middle" class="t">0.6</text>
<text x="25.50" y="1073.96" text-anchor="end" class="t">0.6</text>
<line x1="241.15" y1="1190.50" x2="241.15" y2="1193.10" stroke="#000" stroke-width="0.75"/>
<line x1="27.90" y1="1033.64" x2="30.50" y2="1033.64" stroke="#000" stroke-width="0.75"/>
<text x="241.15" y="1201.55" text-anchor="middle" class="t">0.8</text>
<text x="25.50" y="1037.05" text-anchor="end" class="t">0.8</text>
<line x1="290.71" y1="1190.50" x2="290.71" y2="1193.10" stroke="#000" stroke-width="0.75"/>
<line x1="27.90" y1="996.73" x2="30.50" y2="996.73" stroke="#000" stroke-width="0.75"/>
<text x="290.71" y="1201.55" text-anchor="middle" class="t">1.0</text>
<text x="25.50" y="1000.14" text-anchor="end" class="t">1.0</text>
<rect x="34.50" y="991.50" width="83.00" height="36.40" rx="1.5" fill="#fff" stroke="#ccc" stroke-width="0.6"/>
<circle cx="45.30" cy="998.30" r="1.55" fill="#1f77b4"/>
<text x="58.70" y="1000.71" class="t">Other classes</text>
<circle cx="45.30" cy="1009.50" r="1.55" fill="#ff7f0e"/>
<text x="58.70" y="1011.91" class="t">Minority class</text>
<circle cx="45.30" cy="1020.70" r="1.55" fill="#2ca02c"/>
<text x="58.70" y="1023.11" class="t">Synthetic data</text>
<text x="40.20" y="1247.00" class="c" textLength="246.0" lengthAdjust="spacingAndGlyphs">(g) EmbSMOTE for PPI</text>
</g>
<g>
<g transform="scale(.1)" stroke-width="31.0" stroke-linecap="round" fill="none">
<path stroke="#1f77b4" d="M5314 9986h1m-10 8h1m-19-1h1m-2 0h1m-5 1h1m-9-8h1m-1 9h1m-2 31h1m0-7h1m-1-6h1m13-3h1m10 12h1m-1-21h1m2 14h1m5-2h1m508 219h1m-691 47h1m298-16h1m320 12h1m50-18h1m45-4h1m7 25h1m-1-22h1m0-11h1m15 21h1m-13 25h1m-6 15h1m-3-10h1m-6 8h1m-13-1h1m-5 16h1m-5-6h1m-5-26h1m-9 26h1m-6 4h1m-2-18h1m-11-2h1m-9 17h1m-32-29h1m-276 11h1m-35 4h1m-3-12h1m-4 17h1m-3-9h1m-10 1h1m-13-5h1m-3 24h1m-9-21h1m-1-9h1m-12 0h1m-274 0h1m-3 8h1m-1-11h1m-8 13h1m-4 19h1m-3 0h1m-14-19h1m-2 9h1m5 22h1m12 2h1m1-3h1m297 14h1m27-2h1m15 4h1m287-14h1m30 0h1m5-7h1m8 7h1m5 11h1m3-2h1m-1-10h1m0 0h1m5 18h1m3-15h1m5-2h1m6-2h1m7 4h1m6 42h1m-1214 47h1m9-6h1m1 15h1m3-5h1m6-2h1m0-21h1m0 17h1m11-1h1m235 20h1m8-2h1m5-19h1m0 23h1m6-15h1m-1 14h1m1-17h1m586 18h1m34 1h1m65-33h1m142 23h1m137-10h1m257 11h1m36 9h1m11-7h1m-17 33h1m-14-3h1m-6-17h1m-7 10h1m-2 4h1m-6 0h1m-13 16h1m-11-15h1m-1-11h1m-322-9h1m-188 39h1m-188-34h1m-140-1h1m-4 13h1m-2-4h1m-3-5h1m-5 6h1m-6-10h1m-155 32h1m-12-7h1m-28 2h1m-118 1h1m-46-22h1m-54 66h1m101-4h1m115-11h1m1 0h1m-1-14h1m17-5h1m10 9h1m0 6h1m11-2h1m0 6h1m385 15h1m539-15h1m37 5h1m36-3h1m3-6h1m4-13h1m7 26h1m3 7h1m7-23h1m5-8h1m6 26h1m7 39h1m-129 5h1m-249-7h1m-83-10h1m-118 5h1m-85-8h1m-7-14h1m-3 33h1m-10-21h1m-2 10h1m-3-1h1m-7 4h1m-3-19h1m-93 20h1m-349 2h1m-20-1h1m-79-15h1m-178 19h1m-25-14h1m-7 18h1m-73-21h1m-204 59h1m27-13h1m8 9h1m8 5h1m12-31h1m29 34h1m0-27h1m2-9h1m42 22h1m11-15h1m50 20h1m2-25h1m92 8h1m1-3h1m9 11h1m8 10h1m85-8h1m18-4h1m0 14h1m53-31h1m13 5h1m35 28h1m172-9h1m526-22h1m403 9h1m110 8h1m154 33h1m-208 20h1m-35-7h1m-12 8h1m-8-4h1m-12-11h1m-231 10h1m-4-16h1m-11 3h1m-6 8h1m-3-2h1m-2 1h1m-9-1h1m-2-1h1m-66-21h1m-118 20h1m-78 11h1m-8 4h1m-11-5h1m-86-20h1m-121 19h1m-62-4h1m-10-7h1m-182 20h1m-1-6h1m-55-16h1m-10-2h1m-15-10h1m-30 28h1m-54-7h1m-12 12h1m-35-8h1m-4-9h1m-46 7h1m-26-15h1m-4 18h1m-4-19h1m-18 12h1m-3 10h1m-21-1h1m-11-17h1m-19-12h1m-3 18h1m-59-19h1m-31 26h1m-4 7h1m-120-31h1m-11 28h1m-17-6h1m-4-22h1m-39 17h1m-62 10h1m-15-1h1m-61 46h1m48-21h1m52 13h1m22-27h1m73 30h1m2-26h1m39-3h1m8 20h1m34-5h1m68-8h1m1-7h1m53 9h1m29 2h1m10 20h1m2 0h1m18-5h1m6-10h1m3 18h1m25-6h1m8-17h1m5 9h1m7 9h1m5-18h1m13-3h1m25-8h1m10 11h1m23 9h1m14 5h1m30-11h1m13 8h1m11-13h1m44 6h1m10 16h1m17-16h1m70 20h1m32-6h1m42-7h1m50 9h1m2-31h1m16-1h1m22 22h1m228-22h1m3 3h1m289 8h1m173 6h1m55 6h1m6-7h1m15-10h1m2 4h1m3 15h1m2 10h1m17-7h1m412 47h1m-14-15h1m-2-5h1m-24 17h1m-6-13h1m-6 4h1m-12 14h1m-4-19h1m-11-12h1m-4 27h1m-219-5h1m-44 7h1m-45-33h1m-9 28h1m-44-17h1m-25-3h1m-11-7h1m-29 0h1m-10 10h1m-5-13h1m-37 33h1m-489 4h1m-87-26h1m-83 21h1m-15-6h1m-63-16h1m-50 15h1m-6 12h1m-32-20h1m-18 6h1m-17-24h1m-2 18h1m-25-10h1m-6 15h1m-50 0h1m-16-3h1m-2-18h1m-9 9h1m-22 11h1m-11 15h1m-49-5h1m-3-17h1m-8 12h1m-16-24h1m-5 20h1m-18-16h1m-7-5h1m-24 29h1m-4-32h1m-3 27h1m-4 5h1m-20-3h1m-9 4h1m-21-18h1m-17-7h1m-5 11h1m-8 7h1m-7-4h1m-3-2h1m-21-6h1m-12 4h1m-3 13h1m-6-5h1m-15-3h1m-19-11h1m-1-5h1m-10 21h1m-5-8h1m-3-20h1m-43 4h1m-13 28h1m-14-24h1m-7 17h1m-12-1h1m-10-8h1m-11 23h1m-4-5h1m-5-33h1m-24 20h1m-99 8h1m-16-23h1m-22 9h1m-7 15h1m-14-13h1m-14 16h1m-30-7h1m-21 4h1m-6-13h1m-4-12h1m-10 32h1m-19 1h1m-16-9h1m-29 7h1m-6-26h1m-2 28h1m-81 1h1m-37 7h1m16-2h1m-1 25h1m0 0h1m0-18h1m2 4h1m4 17h1m1-18h1m4 13h1m11 4h1m-1-24h1m7 1h1m87 7h1m28-15h1m31 13h1m35 1h1m30 22h1m3-10h1m19-12h1m11-3h1m26 26h1m16-14h1m13 15h1m19-25h1m13 19h1m4-25h1m7-1h1m-1-2h1m15 22h1m2-3h1m4 13h1m2-9h1m2-8h1m3 12h1m5-27h1m0 2h1m23 10h1m9 5h1m10 15h1m1-20h1m1 21h1m3-35h1m19 23h1m1-15h1m1 27h1m2-31h1m3 7h1m46 3h1m2-8h1m3 2h1m10 29h1m6 0h1m1-12h1m4 1h1m15-7h1m-1-10h1m8 9h1m12-19h1m0 11h1m7-8h1m0 4h1m22 17h1m2 4h1m0-14h1m10 17h1m4-30h1m8 13h1m9 4h1m11-11h1m1 8h1m1-12h1m6 27h1m10-7h1m5 10h1m2-33h1m0 34h1m1-8h1m28-11h1m2 19h1m3 2h1m7 1h1m0-26h1m-1 11h1m10-8h1m4 11h1m4-1h1m6 0h1m10-3h1m41 9h1m68-18h1m11-6h1m21 4h1m3 0h1m-1 26h1m1-22h1m40 13h1m12 7h1m6-21h1m13 9h1m3 7h1m72-6h1m68-10h1m8 22h1m10-6h1m1-19h1m22 27h1m5-11h1m0-9h1m48-8h1m0-1h1m0 25h1m1-21h1m18-4h1m5-7h1m144 24h1m55 2h1m9-11h1m3 18h1m18-7h1m16-24h1m117 21h1m29-8h1m99 5h1m67-5h1m6-8h1m252 16h1m47 4h1m38-2h1m7-26h1m20 11h1m19 9h1m1-2h1m6-6h1m-1 6h1m3-15h1m5 26h1m1-1h1m-1-11h1m10 0h1m5-7h1m2 14h1m8-19h1m10 0h1m10 2h1m-6 38h1m-6 8h1m-34-3h1m-2-7h1m-9 28h1m-3 1h1m-29-2h1m-6-29h1m-19-2h1m-204 19h1m-486-1h1m-11-12h1m-7 16h1m-11-12h1m-2 8h1m-3 12h1m-234-28h1m-45 13h1m-61 2h1m-5 3h1m-3 13h1m-32-5h1m-9 2h1m-24 5h1m-3-2h1m-48-25h1m-8 31h1m-2-39h1m-18 9h1m-33 29h1m-10-17h1m-14-4h1m-17-17h1m-8 24h1m-33 6h1m-3 5h1m-15-19h1m-5 12h1m-3-12h1m-9 16h1m-10-28h1m-32-2h1m-5 19h1m-5-5h1m-7-1h1m-4-8h1m-6-4h1m-8 5h1m-31 24h1m-4 1h1m-3-21h1m-16 7h1m-10 12h1m-4-14h1m-6 10h1m-14-2h1m-2 4h1m-2 5h1m-7-6h1m-16-27h1m-7 11h1m-1 12h1m-26-20h1m-5 23h1m-2-17h1m-7-7h1m-8 2h1m-6 33h1m-9-31h1m-3 2h1m-8-1h1m-12 2h1m-29 25h1m-2-10h1m-11 0h1m-3 8h1m-4-14h1m-3 19h1m-8-1h1m-8-5h1m-2-20h1m-6 16h1m-12-6h1m-2-8h1m-17 5h1m-8 20h1m-7-39h1m-6 6h1m-13 7h1m-25 22h1m-6-13h1m-7-16h1m-13 2h1m-21 17h1m-8 6h1m-4-24h1m-14-5h1m-4 15h1m-26 9h1m-4-13h1m-3-3h1m-13 8h1m-5 16h1m-7 5h1m-2-3h1m-7-24h1m-4 26h1m-7-34h1m-10 23h1m-12-12h1m-15-13h1m-16 19h1m-9 1h1m-3 10h1m-6-20h1m-18 2h1m-2-1h1m-48 19h1m-8-28h1m-40 12h1m-32-9h1m-4 28h1m-34-16h1m-139-17h1m-30 5h1m86 33h1m10 4h1m25 7h1m39 2h1m37 6h1m5 14h1m18 2h1m0-32h1m13 27h1m63 9h1m4-27h1m42 5h1m0-17h1m18 10h1m2 23h1m13-28h1m38 13h1m5-10h1m35 15h1m1 11h1m5-26h1m1-2h1m5 29h1m1-19h1m6 11h1m10 6h1m0-4h1m26-7h1m2 6h1m3 9h1m5-37h1m5 36h1m-1-27h1m6-1h1m5 11h1m1-11h1m4-6h1m0 24h1m2-12h1m8 18h1m0-8h1m2-9h1m5 16h1m6 4h1m3-20h1m6 3h1m11 10h1m13 11h1m0-3h1m7-32h1m2 16h1m3 3h1m12-7h1m8 13h1m7 6h1m13-5h1m3-7h1m2 13h1m4-10h1m12-13h1m2 24h1m2-7h1m-1-20h1m-1 29h1m3-32h1m21 31h1m14-18h1m5 18h1m3-20h1m0 11h1m14-5h1m13 6h1m0 9h1m1-25h1m3 24h1m1-34h1m1 29h1m2-32h1m-1 5h1m3 32h1m26-5h1m4 1h1m14-4h1m0-22h1m8 15h1m0-15h1m6 1h1m3-8h1m31 26h1m7-22h1m11 14h1m0-16h1m71 8h1m7 27h1m8-10h1m26-25h1m0 11h1m3-3h1m42-1h1m26-4h1m14 26h1m141-31h1m1 36h1m363-5h1m79-26h1m1 5h1m12 24h1m0 3h1m1-26h1m11 15h1m0 1h1m1 0h1m114 5h1m145-24h1m77-6h1m24 36h1m185-25h1m-15 59h1m-37-1h1m-668-8h1m-10-9h1m-4 21h1m-6 1h1m-108-12h1m-79 2h1m-19 9h1m-2 0h1m-85-36h1m-22 32h1m-2-30h1m-100 21h1m-2-22h1m-5 31h1m-16 6h1m-21-33h1m-2-5h1m-10 26h1m-14 0h1m-6-8h1m-8 4h1m-6-8h1m-2-12h1m-13 22h1m-10 12h1m-12-14h1m-9 11h1m-5 0h1m-4-11h1m-20-4h1m-10-13h1m-9 0h1m-38 19h1m-15-12h1m-8-9h1m-1 14h1m-5 11h1m-6-14h1m-2-10h1m-16 18h1m-5-16h1m-4 32h1m-5-38h1m-13 2h1m-23 32h1m-6-6h1m-4-7h1m-12-7h1m-2 11h1m-4-20h1m-6 3h1m-3 28h1m-28-14h1m-7 8h1m-2 3h1m-1-14h1m-3 9h1m-1-9h1m-4 6h1m-5-16h1m-18 8h1m-3 21h1m-7-32h1m-11 1h1m-2 9h1m-4 7h1m-7-16h1m-3 11h1m-3 12h1m-4-27h1m-4 16h1m-2 15h1m-3-18h1m-9 22h1m-17-29h1m-5 0h1m-7 11h1m-1-12h1m-2 5h1m-3 26h1m-3-18h1m-8 6h1m-2-13h1m-5 15h1m-12 3h1m-5-4h1m-6-23h1m-2 20h1m-3 4h1m-11 9h1m-2-4h1m-6-24h1m-7-1h1m-7 12h1m-16-10h1m-3 3h1m-5 18h1m-6-22h1m-2 8h1m-5 15h1m-2-27h1m-5 6h1m-3 24h1m-8-31h1m-3 6h1m-4 22h1m-7-6h1m-3 3h1m-4 6h1m-3 2h1m-6-32h1m-8 20h1m-2-21h1m-16 28h1m-13-30h1m-6 10h1m-5 12h1m-5-1h1m-6 1h1m-8-8h1m-1 14h1m-18-12h1m-1-4h1m-25 16h1m-6-15h1m-9 4h1m-12 17h1m-33-12h1m-21-21h1m-6 24h1m-2-6h1m-29-11h1m-7-6h1m-9 5h1m-19 24h1m-4-33h1m-10 36h1m-2-12h1m-12-21h1m-32 11h1m-8 9h1m-9-10h1m-1-4h1m-1 3h1m-44 25h1m-43-10h1m-5-26h1m-4 14h1m-10 12h1m-25-20h1m-14 31h1m2 8h1m5 26h1m8-11h1m22-14h1m39 8h1m33 14h1m0-2h1m21 0h1m39 7h1m0-20h1m30-13h1m5 0h1m12 7h1m2 22h1m27-23h1m19 28h1m2-35h1m27 7h1m-1 11h1m9 3h1m-1 14h1m21-3h1m8-31h1m16 9h1m3 0h1m3-6h1m-1 34h1m7-35h1m15 8h1m10 3h1m15-5h1m18 17h1m0 5h1m6-29h1m0-1h1m3 3h1m8 13h1m16 16h1m11-11h1m0-19h1m5 6h1m4 27h1m18-34h1m6 24h1m2-7h1m4-9h1m7 17h1m12-22h1m13 27h1m1-22h1m4 15h1m3 4h1m3-1h1m6-12h1m4 10h1m0-7h1m17-16h1m0 24h1m3-13h1m9 10h1m1 9h1m-1-32h1m1 12h1m5-9h1m0 19h1m10-1h1m15-16h1m4 25h1m4 0h1m13-1h1m0-9h1m0-12h1m5-7h1m17 10h1m7 16h1m-1-26h1m4 7h1m10 1h1m4-4h1m4 3h1m5-7h1m2 11h1m16 21h1m26-21h1m9 13h1m0-20h1m21 15h1m13-4h1m6 6h1m1 2h1m16-20h1m1-5h1m85 2h1m3 9h1m18 9h1m16 16h1m17-6h1m30-21h1m29 29h1m13-16h1m9-21h1m20 30h1m56 4h1m57-34h1m0-1h1m9 18h1m2 10h1m6-8h1m2-17h1m185-4h1m428 18h1m370-8h1m-244 49h1m-6 8h1m-9 1h1m-9-2h1m-7-8h1m-3-2h1m-7 9h1m-7-5h1m-157 15h1m-91-11h1m-6 10h1m-3-17h1m-8 5h1m-24-1h1m-2-9h1m-470 4h1m-66 10h1m-10 12h1m-7-6h1m-11-2h1m-61 9h1m-9-31h1m-15 6h1m-33-2h1m-3 8h1m-25 10h1m-7 2h1m-18-2h1m-10-24h1m-37 5h1m-5-8h1m-5 19h1m-19-15h1m-22 29h1m-17-36h1m-11 1h1m-12 5h1m-8 19h1m-17-1h1m-9-20h1m-8-2h1m-15 5h1m-15 11h1m-8 21h1m-12-2h1m-20-20h1m-8-15h1m-4 2h1m-1 16h1m-5-11h1m-5-1h1m-9 22h1m-12 3h1m-7-10h1m-9 13h1m-1-10h1m-14-21h1m-7 23h1m-3-6h1m-14 0h1m-5 0h1m-26 9h1m-2 8h1m-2-39h1m-7 5h1m-2 16h1m-15-11h1m-4 12h1m-1-10h1m-10 5h1m-2-11h1m-4-4h1m-22 12h1m-7-2h1m-8 17h1m-2-27h1m-4 13h1m-10 2h1m-8 9h1m-2-22h1m-1 11h1m-7 4h1m-4-17h1m-9 6h1m-8 0h1m-4 7h1m-23 16h1m-10-15h1m-8 1h1m-5-9h1m-8 12h1m-2-19h1m-8 12h1m-30-1h1m-36 20h1m-77-6h1m-13-21h1m-15 25h1m-24-22h1m-11 17h1m-51-19h1m-3 7h1m-35-1h1m-4 26h1m-2-6h1m-37-14h1m-24 19h1m-32-37h1m-11 3h1m-13 2h1m-12-3h1m-2 15h1m-37-4h1m-218 57h1m0-6h1m27 14h1m98-8h1m148-12h1m37-12h1m27 25h1m90-2h1m12-14h1m15 2h1m12 6h1m26-1h1m4-20h1m4 37h1m11-37h1m2 23h1m17-8h1m-1 16h1m37-15h1m66-12h1m58 9h1m4-13h1m20 9h1m1 1h1m4 13h1m14-9h1m2-3h1m0 13h1m7 6h1m16-2h1m35-16h1m14-11h1m6 33h1m12-16h1m45 10h1m6-28h1m16 21h1m2-3h1m26-6h1m8 23h1m5-3h1m7-6h1m9-18h1m7-1h1m1 19h1m3 6h1m-1-18h1m12 0h1m23 19h1m39-33h1m5 17h1m46-7h1m39 2h1m0-1h1m41 19h1m5-16h1m21-13h1m-1 24h1m18-5h1m76 6h1m2-21h1m36 2h1m24 27h1m243-23h1m210-2h1m55-11h1m6 3h1m6 21h1m5-19h1m2 14h1m16 4h1m192-8h1m105-1h1m2 24h1m0-21h1m5-1h1m10 7h1m2-6h1m-1 0h1m32 9h1m-63 16h1m-369 6h1m-9 17h1m-3-9h1m-4 5h1m-159-6h1m-42 5h1m-1 10h1m-5-29h1m-2 16h1m-10 13h1m-5 5h1m-26-19h1m-14 20h1m-5 2h1m-227-34h1m-62 17h1m-18-1h1m-29 11h1m-28-13h1m-72-16h1m-18 3h1m-89 18h1m-6-12h1m-5 6h1m-8 19h1m-62-15h1m-11 2h1m-12-13h1m-19 20h1m-2-20h1m-2 25h1m-18-5h1m-5-26h1m-7 1h1m-8 9h1m-7-2h1m-12 23h1m-53-9h1m-17-18h1m-12 17h1m-1-22h1m-41 0h1m-1 15h1m-57 16h1m-31-32h1m-22 5h1m-5 1h1m-11 6h1m-37-9h1m-18 22h1m-12 10h1m-9-23h1m-3-13h1m-47 12h1m-20-6h1m-18 5h1m-11 14h1m-14-4h1m-5 0h1m-14 2h1m-29-22h1m-87 36h1m-323-30h1m-10 1h1m-13-6h1m-4 1h1m-2-4h1m-5 26h1m-17-10h1m351 35h1m48-1h1m5 4h1m9 16h1m10 9h1m6-35h1m29-3h1m12 11h1m10 0h1m55 26h1m0-31h1m22-2h1m3 25h1m31-18h1m4-3h1m50-4h1m3 19h1m8 11h1m6-15h1m69 4h1m38-18h1m9 17h1m3-21h1m9 1h1m3 11h1m4 4h1m38 14h1m17-8h1m46 12h1m49-4h1m9-24h1m67-6h1m2 32h1m6-29h1m3 10h1m6 8h1m48-13h1m2 23h1m112-19h1m65 15h1m16-23h1m77 6h1m83 14h1m70-8h1m65-3h1m11-9h1m7-4h1m2 17h1m22-5h1m4 0h1m673-11h1m-59 72h1m-11-20h1m-3 17h1m-9-27h1m-4 18h1m-5 10h1m-70-33h1m-49 19h1m-171-6h1m-74 22h1m-307-26h1m-153 21h1m-5 8h1m-10-18h1m-70-17h1m-138 16h1m-3-12h1m-53 17h1m-15 3h1m-4-18h1m-37-6h1m-49-2h1m-63 38h1m-13-30h1m-9 18h1m-17-19h1m-9 2h1m-32 18h1m-24-17h1m-14 17h1m-8-20h1m-49 9h1m-79 17h1m-37-10h1m-16-5h1m-67 20h1m-7-14h1m-82-5h1m-50-5h1m-100-13h1m-177 63h1m0-15h1m3 6h1m10-4h1m0-8h1m260 4h1m88 7h1m48-11h1m111 29h1m41-31h1m25 26h1m11-28h1m3 3h1m8 9h1m12 5h1m35 2h1m5-6h1m56-12h1m9 36h1m1-12h1m19 6h1m10-26h1m15 13h1m146 4h1m148-13h1m75 15h1m16-16h1m3 27h1m12-11h1m3-19h1m6 6h1m1-8h1m-1 1h1m0 1h1m250 28h1m80 2h1m145-18h1m347-14h1m3 10h1m-107 30h1m-69 35h1m-115-1h1m-74-6h1m-4 1h1m-4-14h1m-5-10h1m-2 26h1m-9-25h1m-24 10h1m-2 20h1m-1-9h1m-79 9h1m-23-26h1m-59 22h1m-44 4h1m-130-8h1m-243-15h1m-110 12h1m-9-2h1m-5 7h1m-10-3h1m-64-20h1m-21 9h1m-33 7h1m-18 1h1m-26-20h1m-44-5h1m-19 33h1m-68-2h1m-34-16h1m-36-13h1m-10 5h1m-112 5h1m-39 23h1m-21 2h1m-4-15h1m-33 8h1m-12 7h1m-515-2h1m-1-12h1m-17 0h1m-4 6h1m-13 5h1m-9 8h1m4 9h1m0 2h1m9-2h1m-1-1h1m552 6h1m13 1h1m-1 0h1m9-2h1m0 6h1m17-16h1m2-5h1m197 25h1m11 2h1m4-4h1m210-11h1m107-12h1m127 17h1m2-7h1m5 6h1m6-5h1m-1 12h1m271-13h1m65-1h1m7 0h1m10-11h1m2 24h1m0 0h1m-1 11h1m1-15h1m0 4h1m1-9h1m10 17h1m3-27h1m2-1h1m0 34h1m1-21h1m0 11h1m148-18h1m11 4h1m0-12h1m-1 34h1m6-10h1m0 12h1m1-7h1m23-22h1m108 26h1m37-9h1m42-11h1m86-6h1m22 29h1m6 0h1m10-9h1m70 8h1m-72 3h1m-8 2h1m-75 30h1m-17 1h1m-54 5h1m-3-19h1m-15 19h1m-114-9h1m-21-12h1m-67 21h1m-90-22h1m-53-1h1m-11-10h1m-18 18h1m-15-6h1m-16-7h1m-13 4h1m-200 23h1m-117-21h1m-85 17h1m-154-26h1m-61 26h1m-16-9h1m-154-2h1m-15-13h1m-9-6h1m-10 23h1m-173-16h1m-314 10h1m-7-18h1m-5 18h1m-2-3h1m-3-6h1m-10 6h1m-12-15h1m-9 5h1m170 72h1m8-33h1m8 13h1m0-7h1m2 12h1m3 6h1m5-3h1m197 9h1m6-6h1m10-13h1m7 13h1m0-9h1m3 1h1m216-17h1m52 12h1m13-14h1m12 3h1m28 17h1m326 2h1m5-2h1m1 0h1m9 10h1m164-30h1m147 2h1m62-2h1m73 2h1m27 2h1m34 25h1m24-30h1m6 21h1m20-3h1m14 2h1m2 5h1m2-21h1m19 22h1m10 0h1m19-25h1m18 16h1m14 11h1m5-27h1m0 22h1m10 11h1m1-1h1m-1-3h1m10 2h1m24-12h1m48 5h1m7 1h1m8-17h1m36 24h1m123-24h1m0 64h1m-9-10h1m-5 7h1m-2-12h1m-5 3h1m-44 13h1m-96-18h1m-19-13h1m-26 0h1m-14 14h1m-22 3h1m-1 1h1m-8-2h1m-3 5h1m-2-11h1m-3 5h1m-11-13h1m-10 14h1m-12-10h1m-2 15h1m-7-13h1m-6 16h1m-5 8h1m-4-30h1m-3 28h1m-2-34h1m-7 19h1m-4 19h1m-2-7h1m-9 1h1m-3 2h1m-6-9h1m-6-9h1m-12-7h1m-2-9h1m-5 31h1m-21-26h1m-4 30h1m-6-13h1m-13-2h1m-9 10h1m-2-26h1m-13 27h1m-16-11h1m-41 14h1m-10-17h1m-14-13h1m-34 33h1m-31-10h1m-222-3h1m-296-15h1m-114 5h1m-1 20h1m-15-7h1m-4 8h1m-2-26h1m-2 5h1m-4 21h1m-1-26h1m-29 18h1m-256 11h1m-4-12h1m-1-10h1m-3 11h1m-6 11h1m-384-39h1m-11 12h1m-1-1h1m669 41h1m-1 9h1m28-11h1m24-9h1m264 38h1m48-27h1m0-3h1m4 8h1m6 5h1m4-14h1m1-2h1m7 15h1m5-2h1m94 16h1m73-26h1m155 14h1m-1 15h1m17-11h1m0-11h1m7 23h1m8-14h1m12 14h1m22-9h1m15-24h1m4 20h1m10-18h1m0 12h1m6-7h1m4 18h1m11 0h1m6-5h1m-1 12h1m2-22h1m5-2h1m7 16h1m9-9h1m3-4h1m8 16h1m4 1h1m1-20h1m1 16h1m-1-27h1m1 22h1m1-6h1m0 20h1m11-11h1m7-3h1m16 4h1m1-14h1m0 2h1m16-6h1m0 20h1m0 0h1m2-8h1m1-20h1m4 21h1m10 3h1m10-22h1m1 21h1m26 7h1m20-3h1m49 6h1m12-21h1m55 19h1m10-11h1m123-20h1m-93 52h1m-36-8h1m-68 24h1m-22 4h1m-4-8h1m-3-9h1m-1-7h1m-2 15h1m-6-1h1m-17 6h1m-1 4h1m-11-30h1m-7 5h1m-18 9h1m-10-6h1m-15 26h1m-2-14h1m-2 5h1m-8-9h1m-7-5h1m-4 8h1m-4-20h1m-11 4h1m-3 24h1m-2 5h1m-1-15h1m-7-14h1m-2 22h1m-5-10h1m-8-7h1m-8-4h1m-7 8h1m-5 8h1m-5-15h1m-7 28h1m-8-35h1m-2 23h1m-6 5h1m-2-25h1m-3 27h1m-2 4h1m-6-37h1m-2 12h1m-1 26h1m-16-9h1m-4 8h1m-2-21h1m-5 3h1m-19-9h1m-3 9h1m-2-10h1m-2 5h1m-2-2h1m-3 20h1m-7-20h1m-4 24h1m-10-12h1m-2-5h1m-3-11h1m-5-8h1m-8 9h1m-8 0h1m-42 4h1m-6 12h1m-1-8h1m-2-1h1m-4-14h1m-12 35h1m-5-24h1m-9 10h1m-7 10h1m-3-10h1m-58-23h1m-355 27h1m-157-14h1m-633 21h1m-4-1h1m-4-3h1m-7-5h1m-4-4h1m-8 15h1m-278-1h1m-16 2h1m-12 33h1m-1-8h1m4-9h1m8 21h1m1-5h1m7-2h1m8-8h1m4 2h1m2-8h1m6 16h1m12 8h1m244-24h1m2 13h1m16-22h1m4-3h1m257 36h1m13-6h1m-1-9h1m8 7h1m356 2h1m45-9h1m1 12h1m26-7h1m3 8h1m7 4h1m9-7h1m144-30h1m72 9h1m51 13h1m52-3h1m20-16h1m154 14h1m49-10h1m11-4h1m19 10h1m3-1h1m3 18h1m-1-29h1m2 4h1m-1 15h1m2 2h1m11-21h1m2 28h1m2-12h1m3-9h1m1 1h1m1-4h1m3-4h1m2 21h1m7-24h1m3 16h1m12 5h1m3-4h1m8 4h1m11-20h1m0 18h1m0 8h1m0 8h1m0 4h1m4-5h1m-1-9h1m7-11h1m25 9h1m2-22h1m0 7h1m0 19h1m3-1h1m27-24h1m3 17h1m8-6h1m4-4h1m16 9h1m19-3h1m3 14h1m72-23h1m16 7h1m34 8h1m-3 50h1m-34 8h1m-124-37h1m-10 1h1m-6 22h1m-26-21h1m-7 8h1m-10 16h1m-17-4h1m-49-23h1m-9 1h1m-11 0h1m-20 25h1m-4-18h1m-4 19h1m-1-14h1m-9-10h1m-6-1h1m-8 15h1m-9 21h1m-26-10h1m-22-21h1m-52-7h1m-4 35h1m-3-31h1m-154 4h1m-134 29h1m-221-38h1m-29 8h1m-385 1h1m-23-1h1m-8-1h1m-7-1h1m-18 10h1m-8-15h1m-539 0h1m-23 1h1m794 68h1m-1-22h1m-1 8h1m7 6h1m2-11h1m1 26h1m709-16h1m20-9h1m125 25h1m1-26h1m18 8h1m20 17h1m16-31h1m22 34h1m8-39h1m5 8h1m37 23h1m146 5h1m18 40h1m-50-21h1m-33-3h1m-92 19h1m-88-29h1m-64 9h1m-5 15h1m-197-21h1m-35-5h1m-26 39h1m-1006-5h1m-8-4h1m-4 1h1m-16 5h1m-19-17h1m-3 14h1m-21 32h1m4 7h1m4-26h1m4 29h1m18-10h1m7-10h1m0 13h1m10 11h1m-1-14h1m3 0h1m3 11h1m-1-16h1m14 6h1m3-10h1m1223 13h1m26-14h1m-1243 39h1m-14-2h1m-7-10h1m-6-2h1m-2 15h1m-2-2h1m-9 4h1m-17 12h1m-19-25h1m-27 5h1m361 31h1m36 34h1m3-10h1m11 11h1m26-15h1m-8 47h1m-38-20h1m-7 20h1m-1-12h1m-7 12h1m-1-21h1m-4 26h1m-11 0h1m-10 4h1m-3-16h1m-7-14h1m-2 19h1m-68 25h1m43 5h1m17-7h1m0 6h1m5 3h1m16 14h1m9-30h1m16 8h1m0-7h1m0 6h1m14 27h1m18-20h1"/>
<path stroke="#ff7f0e" d="M5830 10290h1m-11 10h1m-41 0h1m-661 26h1m669 14h1m9-10h1m-697 30h1m-461 60h1m1501 46h1m-847-16h1m-211 14h1m439 66h1m-21-4h1m-131 4h1m505 104h1m-157-28h1m-141 24h1m-721 4h1m-242-23h1m-10 54h1m96-11h1m62 25h1m93-22h1m136-13h1m29 15h1m1098 7h1m409 44h1m-45 4h1m-361-14h1m-777-14h1m-193 16h1m-14-10h1m-214 7h1m-447 5h1m-271 36h1m63 10h1m79-6h1m2-12h1m59 18h1m26-14h1m255-16h1m1 26h1m55-8h1m61 20h1m228-22h1m44-16h1m439 16h1m969-16h1m-101 44h1m-631-4h1m-57 26h1m-457-20h1m-65 12h1m-133-14h1m-94 7h1m-25 12h1m-136-21h1m-228 3h1m-209 54h1m2 6h1m7-8h1m19 5h1m109 16h1m58-27h1m111-1h1m19 29h1m73-4h1m136-4h1m201 2h1m88-32h1m580 59h1m-473 3h1m-14 9h1m-286-24h1m-76 3h1m-19 27h1m-159-28h1m-23 4h1m-130 23h1m-22-10h1m-11-16h1m-1 26h1m-22-19h1m-82-8h1m-164 30h1m506 12h1m29 6h1m3 20h1m99-8h1m626-30h1m749 50h1m-21-4h1m-695-2h1m-497 5h1m-46 1h1m-12 22h1m-160-8h1m-34-2h1m-52-2h1m-24-13h1m-55 17h1m-168-7h1m-53 12h1m-396 41h1m300-12h1m81-12h1m337 14h1m1-12h1m135 24h1m131-12h1m1-10h1m55-4h1m820 64h1m-41-6h1m-215 2h1m-191-26h1m-325 22h1m-140 14h1m-30-13h1m-137-2h1m-171 15h1m-37-16h1m-7-13h1m-119 16h1m66 21h1m186 15h1m198-13h1m37 20h1m684 10h1m11-30h1m-929 44h1m661 36h1m689 10h1m39 44h1m-1451 50h1m619-16h1m-977 32h1m125 60h1m49-6h1m519-10h1m163 4h1m785 26h1m-165 30h1m-631 4h1m-27 0h1m-275-4h1m-371-24h1m939 44h1m473 20h1m129-20h1m49 24h1m139 0h1m-51 26h1m-41 10h1m-141-20h1m-1611 24h1m-11 26h1m289-16h1m729 26h1m669-20h1m125 20h1m119-10h1m-157 26h1m-425 4h1m-421-6h1m-917-4h1m1519 66h1m209-6h1m5 30h1m-197 4h1m-861 176h1m-41 30h1m9-20h1m15 26h1m43-16h1m-17 30h1"/>
<path stroke="#2ca02c" d="M5280 9990h1m839 510h1m-35 480h1m213 50h1m-537 10h1m121 344h1m309 120h1m-17 0h1m-1041-14h1m364 145h1m4 4h1m6-1h1m4-26h1m10 25h1m8 2h1m3-2h1m-4 3h1m-19 1h1m-2 6h1m-7 5h1m-5-12h1m-5 1h1m-1 8h1m-207 111h1"/>
</g>
<rect x="401.50" y="987.50" width="272.00" height="203.00" fill="none" stroke="#000" stroke-width="0.75"/>
<line x1="413.86" y1="1190.50" x2="413.86" y2="1193.10" stroke="#000" stroke-width="0.75"/>
<line x1="398.90" y1="1181.27" x2="401.50" y2="1181.27" stroke="#000" stroke-width="0.75"/>
<text x="413.86" y="1201.55" text-anchor="middle" class="t">0.0</text>
<text x="396.50" y="1184.68" text-anchor="end" class="t">0.0</text>
<line x1="463.32" y1="1190.50" x2="463.32" y2="1193.10" stroke="#000" stroke-width="0.75"/>
<line x1="398.90" y1="1144.36" x2="401.50" y2="1144.36" stroke="#000" stroke-width="0.75"/>
<text x="463.32" y="1201.55" text-anchor="middle" class="t">0.2</text>
<text x="396.50" y="1147.77" text-anchor="end" class="t">0.2</text>
<line x1="512.77" y1="1190.50" x2="512.77" y2="1193.10" stroke="#000" stroke-width="0.75"/>
<line x1="398.90" y1="1107.45" x2="401.50" y2="1107.45" stroke="#000" stroke-width="0.75"/>
<text x="512.77" y="1201.55" text-anchor="middle" class="t">0.4</text>
<text x="396.50" y="1110.87" text-anchor="end" class="t">0.4</text>
<line x1="562.23" y1="1190.50" x2="562.23" y2="1193.10" stroke="#000" stroke-width="0.75"/>
<line x1="398.90" y1="1070.55" x2="401.50" y2="1070.55" stroke="#000" stroke-width="0.75"/>
<text x="562.23" y="1201.55" text-anchor="middle" class="t">0.6</text>
<text x="396.50" y="1073.96" text-anchor="end" class="t">0.6</text>
<line x1="611.68" y1="1190.50" x2="611.68" y2="1193.10" stroke="#000" stroke-width="0.75"/>
<line x1="398.90" y1="1033.64" x2="401.50" y2="1033.64" stroke="#000" stroke-width="0.75"/>
<text x="611.68" y="1201.55" text-anchor="middle" class="t">0.8</text>
<text x="396.50" y="1037.05" text-anchor="end" class="t">0.8</text>
<line x1="661.14" y1="1190.50" x2="661.14" y2="1193.10" stroke="#000" stroke-width="0.75"/>
<line x1="398.90" y1="996.73" x2="401.50" y2="996.73" stroke="#000" stroke-width="0.75"/>
<text x="661.14" y="1201.55" text-anchor="middle" class="t">1.0</text>
<text x="396.50" y="1000.14" text-anchor="end" class="t">1.0</text>
<rect x="405.00" y="991.50" width="83.00" height="36.40" rx="1.5" fill="#fff" stroke="#ccc" stroke-width="0.6"/>
<circle cx="415.80" cy="998.30" r="1.55" fill="#1f77b4"/>
<text x="429.20" y="1000.71" class="t">Other classes</text>
<circle cx="415.80" cy="1009.50" r="1.55" fill="#ff7f0e"/>
<text x="429.20" y="1011.91" class="t">Minority class</text>
<circle cx="415.80" cy="1020.70" r="1.55" fill="#2ca02c"/>
<text x="429.20" y="1023.11" class="t">Synthetic data</text>
<text x="420.50" y="1247.00" class="c" textLength="227.0" lengthAdjust="spacingAndGlyphs">(h) SG-CGAN for PPI</text>
</g>
<g>
<g transform="scale(.1)" stroke-width="31.0" stroke-linecap="round" fill="none">
<path stroke="#1f77b4" d="M1386 13322h1m-57 36h1m-201-14h1m-94 53h1m57-19h1m42 7h1m107-19h1m41 4h1m66-1h1m48 14h1m73 34h1m-76-4h1m-74 17h1m-16-29h1m-53 27h1m-41 1h1m-91 2h1m-130-30h1m-61 8h1m-40 52h1m81-14h1m266 20h1m35-20h1m80 2h1m37 22h1m52-17h1m15 24h1m12-30h1m392 12h1m28 24h1m-42-2h1m-438 12h1m-34 10h1m-33 6h1m-39-24h1m-17 21h1m-34-12h1m-37 20h1m-80-8h1m-49-23h1m-126 9h1m-27 23h1m-43-26h1m-31 0h1m-4 65h1m13-28h1m43 11h1m38-3h1m31-4h1m58 19h1m42-23h1m4 30h1m24-15h1m52 16h1m2-36h1m99 21h1m133 14h1m65-3h1m272-16h1m153 16h1m28 32h1m-71-6h1m-46-18h1m-66 15h1m-30-12h1m-257 19h1m-29-7h1m-79 22h1m-69-24h1m-57-1h1m-80 17h1m-28-11h1m-113 4h1m-62-3h1m-123 7h1m7 44h1m47-11h1m36-17h1m27 10h1m150-12h1m24 6h1m82 0h1m59-4h1m149 1h1m352 9h1m18 16h1m35-8h1m16-17h1m72 33h1m11-19h1m25 6h1m18 13h1m17-17h1m-108 46h1m-110-12h1m-579-12h1m-6 32h1m-92-14h1m-26 16h1m-47-32h1m-61 11h1m-56 22h1m-87 0h1m32 3h1m49 29h1m48-5h1m46-5h1m41 5h1m61 5h1m63-3h1m106-17h1m33 20h1m29-10h1m501 6h1m28 9h1m26-7h1m-409 46h1m-91-4h1m-47-20h1m-331 29h1m-43-22h1m-34 14h1m-62 40h1m105-30h1m49 25h1m81 4h1m293 0h1m29-30h1m129 20h1m13 12h1m-205 28h1m-290-20h1m-36 5h1m343 45h1m29-10h1m19 30h1m69-20h1m39-10h1m133 60h1m-61-20h1m-413 24h1m-54-19h1m-20 21h1m-121 4h1m152 28h1m59 20h1m236-18h1m129 10h1m9 34h1m-11-24h1m-35 0h1m-37 20h1m-37-10h1m-211 29h1m-153-26h1m-31-2h1m-54-10h1m-43 3h1m75 42h1m167-4h1m388 8h1m89 50h1m-21-10h1m-21-10h1m-224 38h1m-192-35h1m-81-2h1m-120 27h1m16 47h1m18-32h1m41 11h1m41-6h1m126 10h1m118 2h1m39-15h1m327 26h1m104 5h1m41-25h1m73 6h1m113 52h1m-131-5h1m-85 1h1m-79 3h1m-61-11h1m-297 2h1m-40-3h1m-162 19h1m-179-9h1m-112-9h1m128 57h1m661-31h1m26 14h1m49 18h1m131-15h1m159 32h1m-93-11h1m-46 13h1m-69-2h1m-53-10h1m-108 27h1m-491 4h1m-10-28h1m-75 9h1m-143-7h1m-49 16h1m186 27h1m495 19h1m25-18h1m27 26h1m96-2h1m31-26h1m56 12h1m95-3h1m49 15h1m39-18h1m29 2h1m-159 33h1m-65-2h1m-30-3h1m-112 12h1m-89-1h1m-48 2h1m-79 10h1m-37-6h1m-140-22h1m-19 28h1m-124 9h1m-108-27h1m-323 21h1m-28 27h1m36 0h1m484 8h1m258-11h1m69 18h1m87-33h1m58 17h1m115-15h1m42-1h1m21 16h1m50-3h1m26 7h1m37-4h1m49 15h1m38 2h1m6-33h1m39 30h1m-84 37h1m-173-25h1m-38-2h1m-265 38h1m-57-30h1m-60 29h1m-34-7h1m-574-3h1m-59-6h1m-66-15h1m-34 7h1m-257 60h1m249-19h1m37 17h1m112-20h1m133 18h1m51-25h1m25 27h1m149-14h1m237 14h1m32-4h1m37-10h1m38-5h1m36 18h1m149-29h1m50-1h1m79 33h1m33-16h1m69 2h1m55-1h1m46 6h1m89 51h1m-30-5h1m-133-20h1m-68 5h1m-42 3h1m-27 11h1m-73-28h1m-67 13h1m-38-2h1m-14 22h1m-36-16h1m-97-4h1m-34 15h1m-318-18h1m-29 9h1m-35-6h1m-113-11h1m-13 31h1m-87-31h1m-26 21h1m-26-21h1m-63 11h1m-49 7h1m-64-1h1m-284 9h1m-81-20h1m-31 20h1m422 26h1m177-4h1m35-3h1m37 16h1m200-20h1m510 11h1m57 16h1m59-31h1m23 15h1m503 12h1m258 28h1m-136-1h1m-9 24h1m-16-24h1m-28 0h1m-8 23h1m-28-28h1m-76-4h1m-493-5h1m-40 14h1m-222-7h1m-554 21h1m-102-20h1m-50 20h1m-49-16h1m-472 27h1m271 36h1m79-13h1m37-16h1m185-3h1m48 12h1m747 1h1m101-17h1m88 9h1m272-4h1m131 20h1m12-18h1m119-7h1m47 37h1m35-26h1m46 3h1m25-9h1m20 21h1m10 28h1m-3 25h1m-97-18h1m-93-3h1m-36-10h1m-686 11h1m-228 9h1m-83 2h1m-57-30h1m-239 18h1m-87 2h1m-33 19h1m-44-13h1m-189 3h1m-27 6h1m-328-5h1m35 28h1m280 11h1m102-24h1m32 28h1m52-32h1m118 6h1m32 24h1m51 1h1m83-19h1m35 3h1m139-16h1m1093 1h1m105 0h1m80 18h1m-263 50h1m-32-10h1m-50-6h1m-1141 21h1m-159-17h1m-158 15h1m-66-14h1m-100-13h1m-152 34h1m-71-1h1m-116 2h1m118 39h1m33-30h1m28 29h1m52-34h1m33 31h1m34-2h1m32-32h1m178 31h1m26-13h1m21-15h1m42 11h1m39 7h1m59-12h1m337-10h1m39 20h1m9 0h1m19-4h1m94 9h1m723 9h1m34-24h1m97 0h1m27 4h1m75 52h1m-23 13h1m-48-13h1m-52-12h1m-813 7h1m-12 12h1m-483-33h1m-51 19h1m-38-7h1m-69-11h1m-136 22h1m-47-1h1m-53-22h1m-93 28h1m-31 7h1m-29-18h1m-61 53h1m153-29h1m56 7h1m36 3h1m193-5h1m589 21h1m31 7h1m1-27h1m31-4h1m809 15h1m26-18h1m51 36h1m49 7h1m-23 29h1m-41-1h1m-17-30h1m-68 25h1m-1336-11h1m-26-14h1m-494 8h1m1805 40h1m29 25h1m42-23h1m-11 53h1m-58-2h1m58 27h1m64 17h1m-50 29h1m-43 13h1m-36 8h1m-7-26h1m-30 34h1m53 3h1"/>
<path stroke="#ff7f0e" d="M494 14580h1m59 30h1m-95 60h1m55 10h1m-87 30h1m19 30h1m89 16h1m-25 4h1m-51 0h1"/>
<path stroke="#2ca02c" d="M584 14544h1m-75 46h1m29 46h1m-31-26h1m-31 20h1m-21 20h1m23 14h1m15-24h1m19 20h1m29 14h1m-57 22h1m39 28h1"/>
</g>
<rect x="30.50" y="1316.50" width="272.60" height="203.00" fill="none" stroke="#000" stroke-width="0.75"/>
<line x1="42.89" y1="1519.50" x2="42.89" y2="1522.10" stroke="#000" stroke-width="0.75"/>
<line x1="27.90" y1="1510.27" x2="30.50" y2="1510.27" stroke="#000" stroke-width="0.75"/>
<text x="42.89" y="1530.55" text-anchor="middle" class="t">0.0</text>
<text x="25.50" y="1513.68" text-anchor="end" class="t">0.0</text>
<line x1="92.45" y1="1519.50" x2="92.45" y2="1522.10" stroke="#000" stroke-width="0.75"/>
<line x1="27.90" y1="1473.36" x2="30.50" y2="1473.36" stroke="#000" stroke-width="0.75"/>
<text x="92.45" y="1530.55" text-anchor="middle" class="t">0.2</text>
<text x="25.50" y="1476.77" text-anchor="end" class="t">0.2</text>
<line x1="142.02" y1="1519.50" x2="142.02" y2="1522.10" stroke="#000" stroke-width="0.75"/>
<line x1="27.90" y1="1436.45" x2="30.50" y2="1436.45" stroke="#000" stroke-width="0.75"/>
<text x="142.02" y="1530.55" text-anchor="middle" class="t">0.4</text>
<text x="25.50" y="1439.87" text-anchor="end" class="t">0.4</text>
<line x1="191.58" y1="1519.50" x2="191.58" y2="1522.10" stroke="#000" stroke-width="0.75"/>
<line x1="27.90" y1="1399.55" x2="30.50" y2="1399.55" stroke="#000" stroke-width="0.75"/>
<text x="191.58" y="1530.55" text-anchor="middle" class="t">0.6</text>
<text x="25.50" y="1402.96" text-anchor="end" class="t">0.6</text>
<line x1="241.15" y1="1519.50" x2="241.15" y2="1522.10" stroke="#000" stroke-width="0.75"/>
<line x1="27.90" y1="1362.64" x2="30.50" y2="1362.64" stroke="#000" stroke-width="0.75"/>
<text x="241.15" y="1530.55" text-anchor="middle" class="t">0.8</text>
<text x="25.50" y="1366.05" text-anchor="end" class="t">0.8</text>
<line x1="290.71" y1="1519.50" x2="290.71" y2="1522.10" stroke="#000" stroke-width="0.75"/>
<line x1="27.90" y1="1325.73" x2="30.50" y2="1325.73" stroke="#000" stroke-width="0.75"/>
<text x="290.71" y="1530.55" text-anchor="middle" class="t">1.0</text>
<text x="25.50" y="1329.14" text-anchor="end" class="t">1.0</text>
<rect x="216.60" y="1320.50" width="82.80" height="36.40" rx="1.5" fill="#fff" stroke="#ccc" stroke-width="0.6"/>
<circle cx="227.40" cy="1327.30" r="1.55" fill="#1f77b4"/>
<text x="240.80" y="1329.71" class="t">Other classes</text>
<circle cx="227.40" cy="1338.50" r="1.55" fill="#ff7f0e"/>
<text x="240.80" y="1340.91" class="t">Minority class</text>
<circle cx="227.40" cy="1349.70" r="1.55" fill="#2ca02c"/>
<text x="240.80" y="1352.11" class="t">Synthetic data</text>
<text x="15.95" y="1576.00" class="c" textLength="294.5" lengthAdjust="spacingAndGlyphs">(i) EmbSMOTE for WIKI-CS</text>
</g>
<g>
<g transform="scale(.1)" stroke-width="31.0" stroke-linecap="round" fill="none">
<path stroke="#1f77b4" d="M5172 13311h1m62-13h1m88 21h1m59-25h1m65-13h1m37 5h1m119 72h1m-82-34h1m-16 22h1m-61 4h1m-71 4h1m-53-2h1m-33-13h1m-172 1h1m198 48h1m23-16h1m72 6h1m61-15h1m21 16h1m37-4h1m84 10h1m27 1h1m-90 15h1m-41 33h1m-26-6h1m-71-24h1m-74 23h1m-73-27h1m-54 5h1m32 68h1m55-22h1m31 7h1m41 21h1m18-33h1m56 21h1m114-3h1m26 14h1m27-18h1m92 54h1m-62-12h1m-29-11h1m-105 3h1m-175 19h1m-35-27h1m-383 18h1m-80-3h1m-48 51h1m38-16h1m512 9h1m290 1h1m23 11h1m64-28h1m-139 58h1m-20-25h1m-325 10h1m-316-1h1m-80 24h1m-30-26h1m-47 5h1m-21 41h1m111 4h1m39 13h1m12-21h1m25 1h1m350-4h1m75 19h1m177-18h1m72 23h1m50-24h1m-37 56h1m-44-8h1m-88 7h1m-52-4h1m-84 3h1m-56 10h1m-550-29h1m-11 20h1m4 22h1m41 17h1m15-19h1m508 20h1m99 15h1m7-24h1m88 14h1m33-25h1m52 34h1m319 21h1m-525 4h1m-155 3h1m-413-17h1m371 55h1m43-10h1m510 7h1m182 14h1m1-25h1m32 19h1m19-20h1m9 65h1m-15-14h1m-66 0h1m-20-18h1m-141 19h1m-681 31h1m137 25h1m191-16h1m449 16h1m95-18h1m-67 32h1m-81 10h1m-31 4h1m-131 1h1m-43-5h1m-249-20h1m-38 21h1m-98 13h1m-46-34h1m74 62h1m37-15h1m271 15h1m79-2h1m213 20h1m-191 9h1m-50 30h1m-53-8h1m-38-31h1m-200 0h1m-20 24h1m-114 6h1m-21-30h1m-69 63h1m63-14h1m29 19h1m32-9h1m265 14h1m83-5h1m57-28h1m6 31h1m89-29h1m35 22h1m70 12h1m-22 20h1m-26-8h1m-32 28h1m-52-28h1m-121 16h1m-44 14h1m-121-33h1m-15 66h1m23-17h1m45 7h1m25-3h1m18 15h1m99-7h1m66-6h1m40 9h1m76-20h1m25 1h1m21 22h1m31 38h1m-129-18h1m-96 18h1m-51-6h1m-56-20h1m-105 18h1m-232 14h1m-106-9h1m-94 4h1m-102-3h1m-56-9h1m-32 30h1m45 7h1m69-10h1m70 33h1m125-19h1m29 4h1m78-15h1m179 28h1m45-3h1m6-27h1m76 8h1m51 10h1m94-1h1m43-13h1m102 7h1m58 12h1m43 25h1m-54 1h1m-80 0h1m-94 2h1m-27 21h1m-47-31h1m-133-8h1m-33 33h1m-40-19h1m-145-12h1m-60 11h1m-117 3h1m-87-11h1m-107 9h1m-66 1h1m-115 46h1m46 2h1m162-20h1m189 24h1m129-7h1m37 7h1m195-10h1m123 7h1m94 9h1m87-8h1m143-10h1m48 64h1m-57-26h1m-95 11h1m-70 11h1m-168-16h1m-143 13h1m-200-13h1m-35-18h1m-28 28h1m-105 10h1m-31-29h1m-51 11h1m-54 3h1m-66 9h1m-207-3h1m-58 26h1m102 13h1m344 9h1m222-8h1m238-6h1m55-8h1m21 16h1m69-19h1m60 22h1m58-11h1m101 4h1m52-14h1m-277 36h1m-62 17h1m-61 0h1m-53-14h1m-79 6h1m-29-15h1m-10 28h1m-32 5h1m-128-27h1m-24 13h1m-16-23h1m-102 18h1m-35 19h1m-71-35h1m-115 37h1m-15-39h1m-39 7h1m-81 16h1m-46-9h1m-30 23h1m-65 15h1m79 13h1m40-7h1m68 17h1m66-10h1m162-6h1m40 20h1m136-20h1m58-19h1m2 11h1m284 19h1m25-3h1m86-1h1m22-24h1m29 4h1m88 1h1m-97 61h1m-68 6h1m-86 1h1m-275-16h1m-132-11h1m-35 8h1m-115-14h1m-37 9h1m-210-1h1m-64 15h1m-41-22h1m-30 10h1m-103-4h1m-58 50h1m89-4h1m37-14h1m141 27h1m95-26h1m38 34h1m39-34h1m92 16h1m23-12h1m53 8h1m64 14h1m25-20h1m36 10h1m25-6h1m63 48h1m-51-20h1m-177 31h1m-51-30h1m-95 15h1m-123 5h1m-56 1h1m-47 1h1m-117-13h1m-127 40h1m215-6h1m6 29h1m76-17h1m131 3h1m77 18h1m60-6h1m0-28h1m262 67h1m-31-30h1m-188 19h1m-34 12h1m-135-27h1m-212 23h1m-96-11h1m-41-16h1m-91 31h1m-108 21h1m170-10h1m49 16h1m86 10h1m344-3h1m303 9h1m245-10h1m9 47h1m-548-13h1m-196 11h1m-154-16h1m-62-2h1m-38-2h1m-242-9h1m-72 10h1m-4 28h1m-89-19h1m-57-17h1m-40 65h1m100-13h1m113-13h1m19 26h1m65 10h1m1-25h1m215 22h1m46-12h1m32-2h1m315 9h1m26-13h1m598-15h1m126 37h1m88-9h1m97 13h1m-99 25h1m-51-1h1m-65-9h1m-75 1h1m-43-6h1m-33 22h1m-1161-19h1m-59 12h1m-31-16h1m-151 1h1m-111 14h1m5 39h1m93-8h1m101-15h1m21 25h1m36-8h1m57-13h1m1135 14h1m54 13h1m66-24h1m44 13h1m89-12h1m18 29h1m30-17h1m59 3h1m66 7h1m30 2h1m4-24h1m30 21h1m-65 27h1m-199 9h1m-184 9h1m-73-10h1m-1094 13h1m-102-12h1m-138 12h1m-5-26h1m-33 20h1m-46-16h1m-55 6h1m30 36h1m46 3h1m83-4h1m80-5h1m28 25h1m63-4h1m48 5h1m1122-39h1m29 27h1m28-18h1m214 2h1m1 26h1m97-4h1m23-32h1m16 36h1m18-32h1m-38 57h1m-144-6h1m-65 12h1m-45-12h1m-1245 18h1m-177 2h1m-9-35h1m-135 31h1m-63-25h1m-86 15h1m101 20h1m27 37h1m69-33h1m68 12h1m102-10h1m57 11h1m1432 9h1m-1525 33h1m-35-3h1m-36 6h1m-62-16h1m-48-5h1m-38 47h1m37 21h1m92-7h1m-51 19h1"/>
<path stroke="#ff7f0e" d="M6294 14866h1m-15 34h1m63-16h1m49-4h1m-5 40h1m-51 14h1m-31-4h1m-31-6h1m-81 6h1m85 30h1m237 40h1"/>
<path stroke="#2ca02c" d="M6480 14907h1m39-3h1m71 51h1m-25-19h1m-37 17h1m-36-21h1m-7 27h1m-26-21h1m-41 12h1m-7 37h1m28-2h1m31 11h1m31-7h1m30-9h1m27-5h1m41 5h1m-5 46h1m-31 6h1m-14-28h1m-30 12h1m-32 6h1m-65 5h1m-37-11h1m11 32h1m30 26h1m24-25h1m44 10h1m32-3h1m-26 32h1m-39-8h1"/>
</g>
<rect x="401.50" y="1316.50" width="272.00" height="203.00" fill="none" stroke="#000" stroke-width="0.75"/>
<line x1="413.86" y1="1519.50" x2="413.86" y2="1522.10" stroke="#000" stroke-width="0.75"/>
<line x1="398.90" y1="1510.27" x2="401.50" y2="1510.27" stroke="#000" stroke-width="0.75"/>
<text x="413.86" y="1530.55" text-anchor="middle" class="t">0.0</text>
<text x="396.50" y="1513.68" text-anchor="end" class="t">0.0</text>
<line x1="463.32" y1="1519.50" x2="463.32" y2="1522.10" stroke="#000" stroke-width="0.75"/>
<line x1="398.90" y1="1473.36" x2="401.50" y2="1473.36" stroke="#000" stroke-width="0.75"/>
<text x="463.32" y="1530.55" text-anchor="middle" class="t">0.2</text>
<text x="396.50" y="1476.77" text-anchor="end" class="t">0.2</text>
<line x1="512.77" y1="1519.50" x2="512.77" y2="1522.10" stroke="#000" stroke-width="0.75"/>
<line x1="398.90" y1="1436.45" x2="401.50" y2="1436.45" stroke="#000" stroke-width="0.75"/>
<text x="512.77" y="1530.55" text-anchor="middle" class="t">0.4</text>
<text x="396.50" y="1439.87" text-anchor="end" class="t">0.4</text>
<line x1="562.23" y1="1519.50" x2="562.23" y2="1522.10" stroke="#000" stroke-width="0.75"/>
<line x1="398.90" y1="1399.55" x2="401.50" y2="1399.55" stroke="#000" stroke-width="0.75"/>
<text x="562.23" y="1530.55" text-anchor="middle" class="t">0.6</text>
<text x="396.50" y="1402.96" text-anchor="end" class="t">0.6</text>
<line x1="611.68" y1="1519.50" x2="611.68" y2="1522.10" stroke="#000" stroke-width="0.75"/>
<line x1="398.90" y1="1362.64" x2="401.50" y2="1362.64" stroke="#000" stroke-width="0.75"/>
<text x="611.68" y="1530.55" text-anchor="middle" class="t">0.8</text>
<text x="396.50" y="1366.05" text-anchor="end" class="t">0.8</text>
<line x1="661.14" y1="1519.50" x2="661.14" y2="1522.10" stroke="#000" stroke-width="0.75"/>
<line x1="398.90" y1="1325.73" x2="401.50" y2="1325.73" stroke="#000" stroke-width="0.75"/>
<text x="661.14" y="1530.55" text-anchor="middle" class="t">1.0</text>
<text x="396.50" y="1329.14" text-anchor="end" class="t">1.0</text>
<rect x="586.70" y="1320.50" width="82.80" height="36.40" rx="1.5" fill="#fff" stroke="#ccc" stroke-width="0.6"/>
<circle cx="597.50" cy="1327.30" r="1.55" fill="#1f77b4"/>
<text x="610.90" y="1329.71" class="t">Other classes</text>
<circle cx="597.50" cy="1338.50" r="1.55" fill="#ff7f0e"/>
<text x="610.90" y="1340.91" class="t">Minority class</text>
<circle cx="597.50" cy="1349.70" r="1.55" fill="#2ca02c"/>
<text x="610.90" y="1352.11" class="t">Synthetic data</text>
<text x="397.50" y="1576.00" class="c" textLength="273.0" lengthAdjust="spacingAndGlyphs">(j) SG-CGAN for WIKI-CS</text>
</g>
</svg>
</body></html>
